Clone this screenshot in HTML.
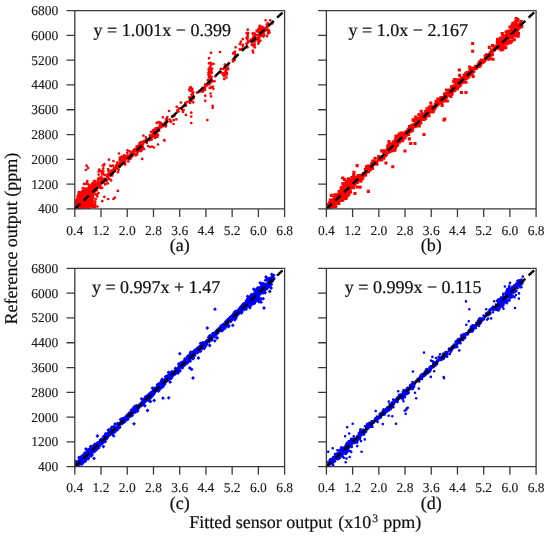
<!DOCTYPE html>
<html><head><meta charset="utf-8"><style>
html,body{margin:0;padding:0;background:#fff;}
svg{display:block;}
text{text-rendering:geometricPrecision;}
.t{font-family:"Liberation Serif",serif;font-size:13.5px;fill:#1a1a1a;stroke:#1a1a1a;stroke-width:0.12px;}
.e{font-family:"Liberation Serif",serif;font-size:18px;fill:#111;stroke:#111;stroke-width:0.22px;}
</style></head><body>
<svg width="550" height="539" viewBox="0 0 550 539">
<clipPath id="clipa"><rect x="74.8" y="10.6" width="209.80" height="198.30"/></clipPath><path clip-path="url(#clipa)" fill="#ff0000" d="M91.0 183.3a1.35 1.35 0 1 0 2.7 0a1.35 1.35 0 1 0 -2.7 0M83.3 202.8a1.35 1.35 0 1 0 2.7 0a1.35 1.35 0 1 0 -2.7 0M76.0 205.3a1.35 1.35 0 1 0 2.7 0a1.35 1.35 0 1 0 -2.7 0M84.1 197.1a1.35 1.35 0 1 0 2.7 0a1.35 1.35 0 1 0 -2.7 0M86.3 200.8a1.35 1.35 0 1 0 2.7 0a1.35 1.35 0 1 0 -2.7 0M82.9 199.3a1.35 1.35 0 1 0 2.7 0a1.35 1.35 0 1 0 -2.7 0M73.4 205.0a1.35 1.35 0 1 0 2.7 0a1.35 1.35 0 1 0 -2.7 0M84.9 183.8a1.35 1.35 0 1 0 2.7 0a1.35 1.35 0 1 0 -2.7 0M84.2 198.6a1.35 1.35 0 1 0 2.7 0a1.35 1.35 0 1 0 -2.7 0M90.6 190.5a1.35 1.35 0 1 0 2.7 0a1.35 1.35 0 1 0 -2.7 0M88.6 195.6a1.35 1.35 0 1 0 2.7 0a1.35 1.35 0 1 0 -2.7 0M84.3 192.0a1.35 1.35 0 1 0 2.7 0a1.35 1.35 0 1 0 -2.7 0M87.3 194.1a1.35 1.35 0 1 0 2.7 0a1.35 1.35 0 1 0 -2.7 0M76.1 203.0a1.35 1.35 0 1 0 2.7 0a1.35 1.35 0 1 0 -2.7 0M83.4 194.5a1.35 1.35 0 1 0 2.7 0a1.35 1.35 0 1 0 -2.7 0M84.3 191.7a1.35 1.35 0 1 0 2.7 0a1.35 1.35 0 1 0 -2.7 0M82.6 198.2a1.35 1.35 0 1 0 2.7 0a1.35 1.35 0 1 0 -2.7 0M87.1 201.1a1.35 1.35 0 1 0 2.7 0a1.35 1.35 0 1 0 -2.7 0M80.4 204.2a1.35 1.35 0 1 0 2.7 0a1.35 1.35 0 1 0 -2.7 0M95.4 187.7a1.35 1.35 0 1 0 2.7 0a1.35 1.35 0 1 0 -2.7 0M87.0 191.7a1.35 1.35 0 1 0 2.7 0a1.35 1.35 0 1 0 -2.7 0M81.1 209.3a1.35 1.35 0 1 0 2.7 0a1.35 1.35 0 1 0 -2.7 0M89.0 195.5a1.35 1.35 0 1 0 2.7 0a1.35 1.35 0 1 0 -2.7 0M87.4 202.0a1.35 1.35 0 1 0 2.7 0a1.35 1.35 0 1 0 -2.7 0M80.1 194.6a1.35 1.35 0 1 0 2.7 0a1.35 1.35 0 1 0 -2.7 0M91.9 197.7a1.35 1.35 0 1 0 2.7 0a1.35 1.35 0 1 0 -2.7 0M74.5 207.2a1.35 1.35 0 1 0 2.7 0a1.35 1.35 0 1 0 -2.7 0M87.5 193.8a1.35 1.35 0 1 0 2.7 0a1.35 1.35 0 1 0 -2.7 0M84.8 202.7a1.35 1.35 0 1 0 2.7 0a1.35 1.35 0 1 0 -2.7 0M86.6 189.3a1.35 1.35 0 1 0 2.7 0a1.35 1.35 0 1 0 -2.7 0M80.1 209.5a1.35 1.35 0 1 0 2.7 0a1.35 1.35 0 1 0 -2.7 0M78.1 199.3a1.35 1.35 0 1 0 2.7 0a1.35 1.35 0 1 0 -2.7 0M72.0 209.8a1.35 1.35 0 1 0 2.7 0a1.35 1.35 0 1 0 -2.7 0M76.7 205.6a1.35 1.35 0 1 0 2.7 0a1.35 1.35 0 1 0 -2.7 0M81.4 200.4a1.35 1.35 0 1 0 2.7 0a1.35 1.35 0 1 0 -2.7 0M92.3 187.7a1.35 1.35 0 1 0 2.7 0a1.35 1.35 0 1 0 -2.7 0M91.3 191.8a1.35 1.35 0 1 0 2.7 0a1.35 1.35 0 1 0 -2.7 0M79.9 199.7a1.35 1.35 0 1 0 2.7 0a1.35 1.35 0 1 0 -2.7 0M83.9 204.9a1.35 1.35 0 1 0 2.7 0a1.35 1.35 0 1 0 -2.7 0M85.8 199.3a1.35 1.35 0 1 0 2.7 0a1.35 1.35 0 1 0 -2.7 0M76.7 207.7a1.35 1.35 0 1 0 2.7 0a1.35 1.35 0 1 0 -2.7 0M81.9 192.9a1.35 1.35 0 1 0 2.7 0a1.35 1.35 0 1 0 -2.7 0M83.5 198.5a1.35 1.35 0 1 0 2.7 0a1.35 1.35 0 1 0 -2.7 0M85.3 206.7a1.35 1.35 0 1 0 2.7 0a1.35 1.35 0 1 0 -2.7 0M90.7 197.6a1.35 1.35 0 1 0 2.7 0a1.35 1.35 0 1 0 -2.7 0M85.7 202.6a1.35 1.35 0 1 0 2.7 0a1.35 1.35 0 1 0 -2.7 0M76.7 207.0a1.35 1.35 0 1 0 2.7 0a1.35 1.35 0 1 0 -2.7 0M94.8 183.8a1.35 1.35 0 1 0 2.7 0a1.35 1.35 0 1 0 -2.7 0M79.1 204.2a1.35 1.35 0 1 0 2.7 0a1.35 1.35 0 1 0 -2.7 0M75.6 206.0a1.35 1.35 0 1 0 2.7 0a1.35 1.35 0 1 0 -2.7 0M79.3 198.4a1.35 1.35 0 1 0 2.7 0a1.35 1.35 0 1 0 -2.7 0M74.3 208.9a1.35 1.35 0 1 0 2.7 0a1.35 1.35 0 1 0 -2.7 0M77.6 208.0a1.35 1.35 0 1 0 2.7 0a1.35 1.35 0 1 0 -2.7 0M87.4 194.1a1.35 1.35 0 1 0 2.7 0a1.35 1.35 0 1 0 -2.7 0M86.6 188.9a1.35 1.35 0 1 0 2.7 0a1.35 1.35 0 1 0 -2.7 0M90.1 199.8a1.35 1.35 0 1 0 2.7 0a1.35 1.35 0 1 0 -2.7 0M86.3 205.6a1.35 1.35 0 1 0 2.7 0a1.35 1.35 0 1 0 -2.7 0M82.5 188.7a1.35 1.35 0 1 0 2.7 0a1.35 1.35 0 1 0 -2.7 0M81.7 202.2a1.35 1.35 0 1 0 2.7 0a1.35 1.35 0 1 0 -2.7 0M84.0 197.9a1.35 1.35 0 1 0 2.7 0a1.35 1.35 0 1 0 -2.7 0M83.1 203.0a1.35 1.35 0 1 0 2.7 0a1.35 1.35 0 1 0 -2.7 0M89.7 187.6a1.35 1.35 0 1 0 2.7 0a1.35 1.35 0 1 0 -2.7 0M81.6 198.5a1.35 1.35 0 1 0 2.7 0a1.35 1.35 0 1 0 -2.7 0M87.0 189.3a1.35 1.35 0 1 0 2.7 0a1.35 1.35 0 1 0 -2.7 0M85.4 192.8a1.35 1.35 0 1 0 2.7 0a1.35 1.35 0 1 0 -2.7 0M81.2 206.5a1.35 1.35 0 1 0 2.7 0a1.35 1.35 0 1 0 -2.7 0M79.8 196.3a1.35 1.35 0 1 0 2.7 0a1.35 1.35 0 1 0 -2.7 0M89.0 192.4a1.35 1.35 0 1 0 2.7 0a1.35 1.35 0 1 0 -2.7 0M79.3 200.7a1.35 1.35 0 1 0 2.7 0a1.35 1.35 0 1 0 -2.7 0M93.4 181.6a1.35 1.35 0 1 0 2.7 0a1.35 1.35 0 1 0 -2.7 0M78.6 203.3a1.35 1.35 0 1 0 2.7 0a1.35 1.35 0 1 0 -2.7 0M84.1 197.7a1.35 1.35 0 1 0 2.7 0a1.35 1.35 0 1 0 -2.7 0M89.0 186.2a1.35 1.35 0 1 0 2.7 0a1.35 1.35 0 1 0 -2.7 0M88.1 186.7a1.35 1.35 0 1 0 2.7 0a1.35 1.35 0 1 0 -2.7 0M79.4 208.5a1.35 1.35 0 1 0 2.7 0a1.35 1.35 0 1 0 -2.7 0M86.0 181.1a1.35 1.35 0 1 0 2.7 0a1.35 1.35 0 1 0 -2.7 0M85.1 203.3a1.35 1.35 0 1 0 2.7 0a1.35 1.35 0 1 0 -2.7 0M84.4 189.6a1.35 1.35 0 1 0 2.7 0a1.35 1.35 0 1 0 -2.7 0M76.4 200.7a1.35 1.35 0 1 0 2.7 0a1.35 1.35 0 1 0 -2.7 0M79.0 195.6a1.35 1.35 0 1 0 2.7 0a1.35 1.35 0 1 0 -2.7 0M87.8 192.6a1.35 1.35 0 1 0 2.7 0a1.35 1.35 0 1 0 -2.7 0M95.5 189.4a1.35 1.35 0 1 0 2.7 0a1.35 1.35 0 1 0 -2.7 0M78.6 192.8a1.35 1.35 0 1 0 2.7 0a1.35 1.35 0 1 0 -2.7 0M77.4 192.0a1.35 1.35 0 1 0 2.7 0a1.35 1.35 0 1 0 -2.7 0M82.6 205.0a1.35 1.35 0 1 0 2.7 0a1.35 1.35 0 1 0 -2.7 0M82.9 198.3a1.35 1.35 0 1 0 2.7 0a1.35 1.35 0 1 0 -2.7 0M84.2 198.9a1.35 1.35 0 1 0 2.7 0a1.35 1.35 0 1 0 -2.7 0M89.7 205.4a1.35 1.35 0 1 0 2.7 0a1.35 1.35 0 1 0 -2.7 0M79.4 203.7a1.35 1.35 0 1 0 2.7 0a1.35 1.35 0 1 0 -2.7 0M94.3 199.2a1.35 1.35 0 1 0 2.7 0a1.35 1.35 0 1 0 -2.7 0M80.8 207.4a1.35 1.35 0 1 0 2.7 0a1.35 1.35 0 1 0 -2.7 0M78.7 199.4a1.35 1.35 0 1 0 2.7 0a1.35 1.35 0 1 0 -2.7 0M85.5 188.5a1.35 1.35 0 1 0 2.7 0a1.35 1.35 0 1 0 -2.7 0M79.1 201.1a1.35 1.35 0 1 0 2.7 0a1.35 1.35 0 1 0 -2.7 0M90.3 187.0a1.35 1.35 0 1 0 2.7 0a1.35 1.35 0 1 0 -2.7 0M80.8 194.7a1.35 1.35 0 1 0 2.7 0a1.35 1.35 0 1 0 -2.7 0M77.1 194.5a1.35 1.35 0 1 0 2.7 0a1.35 1.35 0 1 0 -2.7 0M83.9 198.7a1.35 1.35 0 1 0 2.7 0a1.35 1.35 0 1 0 -2.7 0M84.6 192.7a1.35 1.35 0 1 0 2.7 0a1.35 1.35 0 1 0 -2.7 0M93.9 189.4a1.35 1.35 0 1 0 2.7 0a1.35 1.35 0 1 0 -2.7 0M80.6 197.9a1.35 1.35 0 1 0 2.7 0a1.35 1.35 0 1 0 -2.7 0M88.2 196.1a1.35 1.35 0 1 0 2.7 0a1.35 1.35 0 1 0 -2.7 0M90.0 198.0a1.35 1.35 0 1 0 2.7 0a1.35 1.35 0 1 0 -2.7 0M83.9 189.2a1.35 1.35 0 1 0 2.7 0a1.35 1.35 0 1 0 -2.7 0M86.2 194.1a1.35 1.35 0 1 0 2.7 0a1.35 1.35 0 1 0 -2.7 0M86.6 197.5a1.35 1.35 0 1 0 2.7 0a1.35 1.35 0 1 0 -2.7 0M83.4 206.0a1.35 1.35 0 1 0 2.7 0a1.35 1.35 0 1 0 -2.7 0M86.2 200.4a1.35 1.35 0 1 0 2.7 0a1.35 1.35 0 1 0 -2.7 0M80.1 197.8a1.35 1.35 0 1 0 2.7 0a1.35 1.35 0 1 0 -2.7 0M88.7 199.1a1.35 1.35 0 1 0 2.7 0a1.35 1.35 0 1 0 -2.7 0M95.5 190.3a1.35 1.35 0 1 0 2.7 0a1.35 1.35 0 1 0 -2.7 0M88.1 188.7a1.35 1.35 0 1 0 2.7 0a1.35 1.35 0 1 0 -2.7 0M84.3 196.7a1.35 1.35 0 1 0 2.7 0a1.35 1.35 0 1 0 -2.7 0M94.2 183.4a1.35 1.35 0 1 0 2.7 0a1.35 1.35 0 1 0 -2.7 0M85.7 206.5a1.35 1.35 0 1 0 2.7 0a1.35 1.35 0 1 0 -2.7 0M78.2 197.0a1.35 1.35 0 1 0 2.7 0a1.35 1.35 0 1 0 -2.7 0M84.1 203.1a1.35 1.35 0 1 0 2.7 0a1.35 1.35 0 1 0 -2.7 0M78.8 204.5a1.35 1.35 0 1 0 2.7 0a1.35 1.35 0 1 0 -2.7 0M87.2 192.8a1.35 1.35 0 1 0 2.7 0a1.35 1.35 0 1 0 -2.7 0M89.2 197.6a1.35 1.35 0 1 0 2.7 0a1.35 1.35 0 1 0 -2.7 0M89.1 195.9a1.35 1.35 0 1 0 2.7 0a1.35 1.35 0 1 0 -2.7 0M81.0 191.1a1.35 1.35 0 1 0 2.7 0a1.35 1.35 0 1 0 -2.7 0M83.4 199.3a1.35 1.35 0 1 0 2.7 0a1.35 1.35 0 1 0 -2.7 0M81.6 202.4a1.35 1.35 0 1 0 2.7 0a1.35 1.35 0 1 0 -2.7 0M92.7 182.1a1.35 1.35 0 1 0 2.7 0a1.35 1.35 0 1 0 -2.7 0M87.4 193.7a1.35 1.35 0 1 0 2.7 0a1.35 1.35 0 1 0 -2.7 0M89.5 193.2a1.35 1.35 0 1 0 2.7 0a1.35 1.35 0 1 0 -2.7 0M85.7 194.1a1.35 1.35 0 1 0 2.7 0a1.35 1.35 0 1 0 -2.7 0M83.5 189.3a1.35 1.35 0 1 0 2.7 0a1.35 1.35 0 1 0 -2.7 0M93.9 181.2a1.35 1.35 0 1 0 2.7 0a1.35 1.35 0 1 0 -2.7 0M87.3 197.3a1.35 1.35 0 1 0 2.7 0a1.35 1.35 0 1 0 -2.7 0M82.7 192.8a1.35 1.35 0 1 0 2.7 0a1.35 1.35 0 1 0 -2.7 0M90.3 187.2a1.35 1.35 0 1 0 2.7 0a1.35 1.35 0 1 0 -2.7 0M83.8 197.9a1.35 1.35 0 1 0 2.7 0a1.35 1.35 0 1 0 -2.7 0M88.1 194.5a1.35 1.35 0 1 0 2.7 0a1.35 1.35 0 1 0 -2.7 0M77.2 207.8a1.35 1.35 0 1 0 2.7 0a1.35 1.35 0 1 0 -2.7 0M82.0 198.0a1.35 1.35 0 1 0 2.7 0a1.35 1.35 0 1 0 -2.7 0M97.1 193.1a1.35 1.35 0 1 0 2.7 0a1.35 1.35 0 1 0 -2.7 0M85.9 196.7a1.35 1.35 0 1 0 2.7 0a1.35 1.35 0 1 0 -2.7 0M84.8 189.7a1.35 1.35 0 1 0 2.7 0a1.35 1.35 0 1 0 -2.7 0M90.7 192.5a1.35 1.35 0 1 0 2.7 0a1.35 1.35 0 1 0 -2.7 0M79.4 209.9a1.35 1.35 0 1 0 2.7 0a1.35 1.35 0 1 0 -2.7 0M82.4 192.5a1.35 1.35 0 1 0 2.7 0a1.35 1.35 0 1 0 -2.7 0M81.2 196.7a1.35 1.35 0 1 0 2.7 0a1.35 1.35 0 1 0 -2.7 0M87.3 192.6a1.35 1.35 0 1 0 2.7 0a1.35 1.35 0 1 0 -2.7 0M89.7 193.2a1.35 1.35 0 1 0 2.7 0a1.35 1.35 0 1 0 -2.7 0M77.7 210.4a1.35 1.35 0 1 0 2.7 0a1.35 1.35 0 1 0 -2.7 0M88.7 195.5a1.35 1.35 0 1 0 2.7 0a1.35 1.35 0 1 0 -2.7 0M80.9 196.2a1.35 1.35 0 1 0 2.7 0a1.35 1.35 0 1 0 -2.7 0M77.9 193.9a1.35 1.35 0 1 0 2.7 0a1.35 1.35 0 1 0 -2.7 0M87.1 197.9a1.35 1.35 0 1 0 2.7 0a1.35 1.35 0 1 0 -2.7 0M78.9 196.7a1.35 1.35 0 1 0 2.7 0a1.35 1.35 0 1 0 -2.7 0M75.4 209.6a1.35 1.35 0 1 0 2.7 0a1.35 1.35 0 1 0 -2.7 0M82.9 197.8a1.35 1.35 0 1 0 2.7 0a1.35 1.35 0 1 0 -2.7 0M83.0 196.7a1.35 1.35 0 1 0 2.7 0a1.35 1.35 0 1 0 -2.7 0M80.6 201.8a1.35 1.35 0 1 0 2.7 0a1.35 1.35 0 1 0 -2.7 0M90.9 187.9a1.35 1.35 0 1 0 2.7 0a1.35 1.35 0 1 0 -2.7 0M80.1 192.1a1.35 1.35 0 1 0 2.7 0a1.35 1.35 0 1 0 -2.7 0M87.1 189.6a1.35 1.35 0 1 0 2.7 0a1.35 1.35 0 1 0 -2.7 0M83.6 200.5a1.35 1.35 0 1 0 2.7 0a1.35 1.35 0 1 0 -2.7 0M86.6 196.6a1.35 1.35 0 1 0 2.7 0a1.35 1.35 0 1 0 -2.7 0M85.3 201.1a1.35 1.35 0 1 0 2.7 0a1.35 1.35 0 1 0 -2.7 0M88.8 189.2a1.35 1.35 0 1 0 2.7 0a1.35 1.35 0 1 0 -2.7 0M87.5 196.9a1.35 1.35 0 1 0 2.7 0a1.35 1.35 0 1 0 -2.7 0M85.6 198.3a1.35 1.35 0 1 0 2.7 0a1.35 1.35 0 1 0 -2.7 0M84.2 198.5a1.35 1.35 0 1 0 2.7 0a1.35 1.35 0 1 0 -2.7 0M77.4 193.2a1.35 1.35 0 1 0 2.7 0a1.35 1.35 0 1 0 -2.7 0M87.4 206.1a1.35 1.35 0 1 0 2.7 0a1.35 1.35 0 1 0 -2.7 0M88.5 201.4a1.35 1.35 0 1 0 2.7 0a1.35 1.35 0 1 0 -2.7 0M81.4 203.6a1.35 1.35 0 1 0 2.7 0a1.35 1.35 0 1 0 -2.7 0M79.5 200.8a1.35 1.35 0 1 0 2.7 0a1.35 1.35 0 1 0 -2.7 0M80.8 209.0a1.35 1.35 0 1 0 2.7 0a1.35 1.35 0 1 0 -2.7 0M82.9 197.0a1.35 1.35 0 1 0 2.7 0a1.35 1.35 0 1 0 -2.7 0M94.0 190.8a1.35 1.35 0 1 0 2.7 0a1.35 1.35 0 1 0 -2.7 0M75.4 208.2a1.35 1.35 0 1 0 2.7 0a1.35 1.35 0 1 0 -2.7 0M87.0 200.0a1.35 1.35 0 1 0 2.7 0a1.35 1.35 0 1 0 -2.7 0M78.4 200.2a1.35 1.35 0 1 0 2.7 0a1.35 1.35 0 1 0 -2.7 0M82.8 197.8a1.35 1.35 0 1 0 2.7 0a1.35 1.35 0 1 0 -2.7 0M78.9 207.3a1.35 1.35 0 1 0 2.7 0a1.35 1.35 0 1 0 -2.7 0M80.9 201.8a1.35 1.35 0 1 0 2.7 0a1.35 1.35 0 1 0 -2.7 0M80.8 198.6a1.35 1.35 0 1 0 2.7 0a1.35 1.35 0 1 0 -2.7 0M86.3 192.7a1.35 1.35 0 1 0 2.7 0a1.35 1.35 0 1 0 -2.7 0M85.9 201.1a1.35 1.35 0 1 0 2.7 0a1.35 1.35 0 1 0 -2.7 0M75.8 201.2a1.35 1.35 0 1 0 2.7 0a1.35 1.35 0 1 0 -2.7 0M83.0 198.2a1.35 1.35 0 1 0 2.7 0a1.35 1.35 0 1 0 -2.7 0M75.6 207.1a1.35 1.35 0 1 0 2.7 0a1.35 1.35 0 1 0 -2.7 0M78.9 207.6a1.35 1.35 0 1 0 2.7 0a1.35 1.35 0 1 0 -2.7 0M83.4 192.0a1.35 1.35 0 1 0 2.7 0a1.35 1.35 0 1 0 -2.7 0M78.4 202.7a1.35 1.35 0 1 0 2.7 0a1.35 1.35 0 1 0 -2.7 0M76.0 201.8a1.35 1.35 0 1 0 2.7 0a1.35 1.35 0 1 0 -2.7 0M94.6 194.7a1.35 1.35 0 1 0 2.7 0a1.35 1.35 0 1 0 -2.7 0M81.5 192.4a1.35 1.35 0 1 0 2.7 0a1.35 1.35 0 1 0 -2.7 0M85.2 196.2a1.35 1.35 0 1 0 2.7 0a1.35 1.35 0 1 0 -2.7 0M88.7 185.5a1.35 1.35 0 1 0 2.7 0a1.35 1.35 0 1 0 -2.7 0M86.9 198.4a1.35 1.35 0 1 0 2.7 0a1.35 1.35 0 1 0 -2.7 0M76.1 199.2a1.35 1.35 0 1 0 2.7 0a1.35 1.35 0 1 0 -2.7 0M82.2 207.1a1.35 1.35 0 1 0 2.7 0a1.35 1.35 0 1 0 -2.7 0M91.2 200.4a1.35 1.35 0 1 0 2.7 0a1.35 1.35 0 1 0 -2.7 0M90.8 193.3a1.35 1.35 0 1 0 2.7 0a1.35 1.35 0 1 0 -2.7 0M85.0 193.2a1.35 1.35 0 1 0 2.7 0a1.35 1.35 0 1 0 -2.7 0M84.5 190.4a1.35 1.35 0 1 0 2.7 0a1.35 1.35 0 1 0 -2.7 0M83.0 200.7a1.35 1.35 0 1 0 2.7 0a1.35 1.35 0 1 0 -2.7 0M78.5 197.7a1.35 1.35 0 1 0 2.7 0a1.35 1.35 0 1 0 -2.7 0M88.1 186.3a1.35 1.35 0 1 0 2.7 0a1.35 1.35 0 1 0 -2.7 0M100.1 178.8a1.35 1.35 0 1 0 2.7 0a1.35 1.35 0 1 0 -2.7 0M86.0 203.3a1.35 1.35 0 1 0 2.7 0a1.35 1.35 0 1 0 -2.7 0M81.4 188.2a1.35 1.35 0 1 0 2.7 0a1.35 1.35 0 1 0 -2.7 0M86.2 196.6a1.35 1.35 0 1 0 2.7 0a1.35 1.35 0 1 0 -2.7 0M84.8 207.7a1.35 1.35 0 1 0 2.7 0a1.35 1.35 0 1 0 -2.7 0M89.0 194.2a1.35 1.35 0 1 0 2.7 0a1.35 1.35 0 1 0 -2.7 0M85.1 202.5a1.35 1.35 0 1 0 2.7 0a1.35 1.35 0 1 0 -2.7 0M85.7 192.1a1.35 1.35 0 1 0 2.7 0a1.35 1.35 0 1 0 -2.7 0M92.6 181.2a1.35 1.35 0 1 0 2.7 0a1.35 1.35 0 1 0 -2.7 0M86.0 196.8a1.35 1.35 0 1 0 2.7 0a1.35 1.35 0 1 0 -2.7 0M77.7 207.3a1.35 1.35 0 1 0 2.7 0a1.35 1.35 0 1 0 -2.7 0M86.8 192.2a1.35 1.35 0 1 0 2.7 0a1.35 1.35 0 1 0 -2.7 0M83.0 189.6a1.35 1.35 0 1 0 2.7 0a1.35 1.35 0 1 0 -2.7 0M87.0 195.0a1.35 1.35 0 1 0 2.7 0a1.35 1.35 0 1 0 -2.7 0M81.7 199.7a1.35 1.35 0 1 0 2.7 0a1.35 1.35 0 1 0 -2.7 0M76.9 210.1a1.35 1.35 0 1 0 2.7 0a1.35 1.35 0 1 0 -2.7 0M85.1 200.2a1.35 1.35 0 1 0 2.7 0a1.35 1.35 0 1 0 -2.7 0M81.2 193.8a1.35 1.35 0 1 0 2.7 0a1.35 1.35 0 1 0 -2.7 0M81.7 192.8a1.35 1.35 0 1 0 2.7 0a1.35 1.35 0 1 0 -2.7 0M82.8 190.6a1.35 1.35 0 1 0 2.7 0a1.35 1.35 0 1 0 -2.7 0M85.8 206.0a1.35 1.35 0 1 0 2.7 0a1.35 1.35 0 1 0 -2.7 0M90.7 192.8a1.35 1.35 0 1 0 2.7 0a1.35 1.35 0 1 0 -2.7 0M83.9 205.2a1.35 1.35 0 1 0 2.7 0a1.35 1.35 0 1 0 -2.7 0M79.1 199.6a1.35 1.35 0 1 0 2.7 0a1.35 1.35 0 1 0 -2.7 0M91.8 184.2a1.35 1.35 0 1 0 2.7 0a1.35 1.35 0 1 0 -2.7 0M90.6 185.5a1.35 1.35 0 1 0 2.7 0a1.35 1.35 0 1 0 -2.7 0M87.7 189.5a1.35 1.35 0 1 0 2.7 0a1.35 1.35 0 1 0 -2.7 0M78.0 205.7a1.35 1.35 0 1 0 2.7 0a1.35 1.35 0 1 0 -2.7 0M77.0 204.7a1.35 1.35 0 1 0 2.7 0a1.35 1.35 0 1 0 -2.7 0M82.6 199.3a1.35 1.35 0 1 0 2.7 0a1.35 1.35 0 1 0 -2.7 0M76.5 202.9a1.35 1.35 0 1 0 2.7 0a1.35 1.35 0 1 0 -2.7 0M80.7 195.7a1.35 1.35 0 1 0 2.7 0a1.35 1.35 0 1 0 -2.7 0M84.9 205.4a1.35 1.35 0 1 0 2.7 0a1.35 1.35 0 1 0 -2.7 0M73.8 207.2a1.35 1.35 0 1 0 2.7 0a1.35 1.35 0 1 0 -2.7 0M79.8 199.3a1.35 1.35 0 1 0 2.7 0a1.35 1.35 0 1 0 -2.7 0M88.0 194.1a1.35 1.35 0 1 0 2.7 0a1.35 1.35 0 1 0 -2.7 0M86.5 201.4a1.35 1.35 0 1 0 2.7 0a1.35 1.35 0 1 0 -2.7 0M89.9 192.9a1.35 1.35 0 1 0 2.7 0a1.35 1.35 0 1 0 -2.7 0M86.2 200.8a1.35 1.35 0 1 0 2.7 0a1.35 1.35 0 1 0 -2.7 0M81.6 197.0a1.35 1.35 0 1 0 2.7 0a1.35 1.35 0 1 0 -2.7 0M77.2 209.0a1.35 1.35 0 1 0 2.7 0a1.35 1.35 0 1 0 -2.7 0M82.6 198.9a1.35 1.35 0 1 0 2.7 0a1.35 1.35 0 1 0 -2.7 0M77.8 200.0a1.35 1.35 0 1 0 2.7 0a1.35 1.35 0 1 0 -2.7 0M72.5 202.6a1.35 1.35 0 1 0 2.7 0a1.35 1.35 0 1 0 -2.7 0M91.3 196.6a1.35 1.35 0 1 0 2.7 0a1.35 1.35 0 1 0 -2.7 0M72.5 208.4a1.35 1.35 0 1 0 2.7 0a1.35 1.35 0 1 0 -2.7 0M77.1 210.7a1.35 1.35 0 1 0 2.7 0a1.35 1.35 0 1 0 -2.7 0M78.5 207.3a1.35 1.35 0 1 0 2.7 0a1.35 1.35 0 1 0 -2.7 0M76.8 210.5a1.35 1.35 0 1 0 2.7 0a1.35 1.35 0 1 0 -2.7 0M93.0 193.1a1.35 1.35 0 1 0 2.7 0a1.35 1.35 0 1 0 -2.7 0M89.0 201.0a1.35 1.35 0 1 0 2.7 0a1.35 1.35 0 1 0 -2.7 0M86.3 202.7a1.35 1.35 0 1 0 2.7 0a1.35 1.35 0 1 0 -2.7 0M80.0 198.2a1.35 1.35 0 1 0 2.7 0a1.35 1.35 0 1 0 -2.7 0M79.4 203.1a1.35 1.35 0 1 0 2.7 0a1.35 1.35 0 1 0 -2.7 0M86.5 201.1a1.35 1.35 0 1 0 2.7 0a1.35 1.35 0 1 0 -2.7 0M81.0 200.4a1.35 1.35 0 1 0 2.7 0a1.35 1.35 0 1 0 -2.7 0M72.5 209.4a1.35 1.35 0 1 0 2.7 0a1.35 1.35 0 1 0 -2.7 0M77.7 201.5a1.35 1.35 0 1 0 2.7 0a1.35 1.35 0 1 0 -2.7 0M82.2 200.6a1.35 1.35 0 1 0 2.7 0a1.35 1.35 0 1 0 -2.7 0M80.6 206.4a1.35 1.35 0 1 0 2.7 0a1.35 1.35 0 1 0 -2.7 0M79.7 209.0a1.35 1.35 0 1 0 2.7 0a1.35 1.35 0 1 0 -2.7 0M84.0 194.3a1.35 1.35 0 1 0 2.7 0a1.35 1.35 0 1 0 -2.7 0M86.7 198.3a1.35 1.35 0 1 0 2.7 0a1.35 1.35 0 1 0 -2.7 0M93.5 184.2a1.35 1.35 0 1 0 2.7 0a1.35 1.35 0 1 0 -2.7 0M76.9 205.4a1.35 1.35 0 1 0 2.7 0a1.35 1.35 0 1 0 -2.7 0M72.6 209.3a1.35 1.35 0 1 0 2.7 0a1.35 1.35 0 1 0 -2.7 0M87.4 187.7a1.35 1.35 0 1 0 2.7 0a1.35 1.35 0 1 0 -2.7 0M81.8 192.4a1.35 1.35 0 1 0 2.7 0a1.35 1.35 0 1 0 -2.7 0M83.8 191.0a1.35 1.35 0 1 0 2.7 0a1.35 1.35 0 1 0 -2.7 0M88.1 185.4a1.35 1.35 0 1 0 2.7 0a1.35 1.35 0 1 0 -2.7 0M86.7 199.1a1.35 1.35 0 1 0 2.7 0a1.35 1.35 0 1 0 -2.7 0M85.7 182.2a1.35 1.35 0 1 0 2.7 0a1.35 1.35 0 1 0 -2.7 0M96.1 184.2a1.35 1.35 0 1 0 2.7 0a1.35 1.35 0 1 0 -2.7 0M78.9 206.1a1.35 1.35 0 1 0 2.7 0a1.35 1.35 0 1 0 -2.7 0M73.2 204.2a1.35 1.35 0 1 0 2.7 0a1.35 1.35 0 1 0 -2.7 0M83.8 201.6a1.35 1.35 0 1 0 2.7 0a1.35 1.35 0 1 0 -2.7 0M80.2 203.9a1.35 1.35 0 1 0 2.7 0a1.35 1.35 0 1 0 -2.7 0M89.6 193.6a1.35 1.35 0 1 0 2.7 0a1.35 1.35 0 1 0 -2.7 0M91.6 195.4a1.35 1.35 0 1 0 2.7 0a1.35 1.35 0 1 0 -2.7 0M79.0 205.3a1.35 1.35 0 1 0 2.7 0a1.35 1.35 0 1 0 -2.7 0M79.5 202.7a1.35 1.35 0 1 0 2.7 0a1.35 1.35 0 1 0 -2.7 0M89.3 186.2a1.35 1.35 0 1 0 2.7 0a1.35 1.35 0 1 0 -2.7 0M76.1 198.3a1.35 1.35 0 1 0 2.7 0a1.35 1.35 0 1 0 -2.7 0M83.5 189.6a1.35 1.35 0 1 0 2.7 0a1.35 1.35 0 1 0 -2.7 0M81.8 204.6a1.35 1.35 0 1 0 2.7 0a1.35 1.35 0 1 0 -2.7 0M87.9 190.8a1.35 1.35 0 1 0 2.7 0a1.35 1.35 0 1 0 -2.7 0M80.0 201.6a1.35 1.35 0 1 0 2.7 0a1.35 1.35 0 1 0 -2.7 0M83.7 196.5a1.35 1.35 0 1 0 2.7 0a1.35 1.35 0 1 0 -2.7 0M83.2 197.2a1.35 1.35 0 1 0 2.7 0a1.35 1.35 0 1 0 -2.7 0M91.3 192.7a1.35 1.35 0 1 0 2.7 0a1.35 1.35 0 1 0 -2.7 0M76.3 196.4a1.35 1.35 0 1 0 2.7 0a1.35 1.35 0 1 0 -2.7 0M90.0 186.5a1.35 1.35 0 1 0 2.7 0a1.35 1.35 0 1 0 -2.7 0M88.1 190.9a1.35 1.35 0 1 0 2.7 0a1.35 1.35 0 1 0 -2.7 0M76.8 204.6a1.35 1.35 0 1 0 2.7 0a1.35 1.35 0 1 0 -2.7 0M85.1 193.4a1.35 1.35 0 1 0 2.7 0a1.35 1.35 0 1 0 -2.7 0M85.9 201.8a1.35 1.35 0 1 0 2.7 0a1.35 1.35 0 1 0 -2.7 0M79.1 204.4a1.35 1.35 0 1 0 2.7 0a1.35 1.35 0 1 0 -2.7 0M81.7 205.0a1.35 1.35 0 1 0 2.7 0a1.35 1.35 0 1 0 -2.7 0M84.8 197.2a1.35 1.35 0 1 0 2.7 0a1.35 1.35 0 1 0 -2.7 0M86.5 206.0a1.35 1.35 0 1 0 2.7 0a1.35 1.35 0 1 0 -2.7 0M80.3 196.5a1.35 1.35 0 1 0 2.7 0a1.35 1.35 0 1 0 -2.7 0M72.4 202.2a1.35 1.35 0 1 0 2.7 0a1.35 1.35 0 1 0 -2.7 0M83.1 202.0a1.35 1.35 0 1 0 2.7 0a1.35 1.35 0 1 0 -2.7 0M83.8 198.6a1.35 1.35 0 1 0 2.7 0a1.35 1.35 0 1 0 -2.7 0M88.6 187.1a1.35 1.35 0 1 0 2.7 0a1.35 1.35 0 1 0 -2.7 0M88.6 191.6a1.35 1.35 0 1 0 2.7 0a1.35 1.35 0 1 0 -2.7 0M87.7 189.9a1.35 1.35 0 1 0 2.7 0a1.35 1.35 0 1 0 -2.7 0M90.2 202.3a1.35 1.35 0 1 0 2.7 0a1.35 1.35 0 1 0 -2.7 0M85.1 196.5a1.35 1.35 0 1 0 2.7 0a1.35 1.35 0 1 0 -2.7 0M83.9 199.4a1.35 1.35 0 1 0 2.7 0a1.35 1.35 0 1 0 -2.7 0M82.4 196.7a1.35 1.35 0 1 0 2.7 0a1.35 1.35 0 1 0 -2.7 0M84.1 197.1a1.35 1.35 0 1 0 2.7 0a1.35 1.35 0 1 0 -2.7 0M79.6 206.8a1.35 1.35 0 1 0 2.7 0a1.35 1.35 0 1 0 -2.7 0M79.9 205.0a1.35 1.35 0 1 0 2.7 0a1.35 1.35 0 1 0 -2.7 0M96.6 181.3a1.35 1.35 0 1 0 2.7 0a1.35 1.35 0 1 0 -2.7 0M78.0 206.4a1.35 1.35 0 1 0 2.7 0a1.35 1.35 0 1 0 -2.7 0M76.5 209.4a1.35 1.35 0 1 0 2.7 0a1.35 1.35 0 1 0 -2.7 0M80.7 201.3a1.35 1.35 0 1 0 2.7 0a1.35 1.35 0 1 0 -2.7 0M79.0 198.1a1.35 1.35 0 1 0 2.7 0a1.35 1.35 0 1 0 -2.7 0M86.9 184.3a1.35 1.35 0 1 0 2.7 0a1.35 1.35 0 1 0 -2.7 0M74.7 203.0a1.35 1.35 0 1 0 2.7 0a1.35 1.35 0 1 0 -2.7 0M80.5 210.1a1.35 1.35 0 1 0 2.7 0a1.35 1.35 0 1 0 -2.7 0M81.0 209.9a1.35 1.35 0 1 0 2.7 0a1.35 1.35 0 1 0 -2.7 0M82.7 183.9a1.35 1.35 0 1 0 2.7 0a1.35 1.35 0 1 0 -2.7 0M85.2 190.6a1.35 1.35 0 1 0 2.7 0a1.35 1.35 0 1 0 -2.7 0M84.8 204.4a1.35 1.35 0 1 0 2.7 0a1.35 1.35 0 1 0 -2.7 0M81.5 200.7a1.35 1.35 0 1 0 2.7 0a1.35 1.35 0 1 0 -2.7 0M81.6 205.3a1.35 1.35 0 1 0 2.7 0a1.35 1.35 0 1 0 -2.7 0M71.4 202.5a1.35 1.35 0 1 0 2.7 0a1.35 1.35 0 1 0 -2.7 0M84.7 197.0a1.35 1.35 0 1 0 2.7 0a1.35 1.35 0 1 0 -2.7 0M77.7 204.2a1.35 1.35 0 1 0 2.7 0a1.35 1.35 0 1 0 -2.7 0M74.5 204.1a1.35 1.35 0 1 0 2.7 0a1.35 1.35 0 1 0 -2.7 0M80.4 202.9a1.35 1.35 0 1 0 2.7 0a1.35 1.35 0 1 0 -2.7 0M77.9 204.9a1.35 1.35 0 1 0 2.7 0a1.35 1.35 0 1 0 -2.7 0M80.3 204.0a1.35 1.35 0 1 0 2.7 0a1.35 1.35 0 1 0 -2.7 0M83.8 198.3a1.35 1.35 0 1 0 2.7 0a1.35 1.35 0 1 0 -2.7 0M79.3 206.7a1.35 1.35 0 1 0 2.7 0a1.35 1.35 0 1 0 -2.7 0M84.9 193.0a1.35 1.35 0 1 0 2.7 0a1.35 1.35 0 1 0 -2.7 0M82.6 207.5a1.35 1.35 0 1 0 2.7 0a1.35 1.35 0 1 0 -2.7 0M78.3 200.4a1.35 1.35 0 1 0 2.7 0a1.35 1.35 0 1 0 -2.7 0M79.9 197.7a1.35 1.35 0 1 0 2.7 0a1.35 1.35 0 1 0 -2.7 0M77.9 201.5a1.35 1.35 0 1 0 2.7 0a1.35 1.35 0 1 0 -2.7 0M81.9 210.6a1.35 1.35 0 1 0 2.7 0a1.35 1.35 0 1 0 -2.7 0M78.0 205.5a1.35 1.35 0 1 0 2.7 0a1.35 1.35 0 1 0 -2.7 0M77.1 209.0a1.35 1.35 0 1 0 2.7 0a1.35 1.35 0 1 0 -2.7 0M86.4 197.1a1.35 1.35 0 1 0 2.7 0a1.35 1.35 0 1 0 -2.7 0M83.1 205.1a1.35 1.35 0 1 0 2.7 0a1.35 1.35 0 1 0 -2.7 0M81.5 204.2a1.35 1.35 0 1 0 2.7 0a1.35 1.35 0 1 0 -2.7 0M82.0 197.7a1.35 1.35 0 1 0 2.7 0a1.35 1.35 0 1 0 -2.7 0M77.9 205.0a1.35 1.35 0 1 0 2.7 0a1.35 1.35 0 1 0 -2.7 0M76.6 201.6a1.35 1.35 0 1 0 2.7 0a1.35 1.35 0 1 0 -2.7 0M87.2 194.0a1.35 1.35 0 1 0 2.7 0a1.35 1.35 0 1 0 -2.7 0M77.6 207.8a1.35 1.35 0 1 0 2.7 0a1.35 1.35 0 1 0 -2.7 0M78.6 200.5a1.35 1.35 0 1 0 2.7 0a1.35 1.35 0 1 0 -2.7 0M76.6 200.1a1.35 1.35 0 1 0 2.7 0a1.35 1.35 0 1 0 -2.7 0M74.6 207.8a1.35 1.35 0 1 0 2.7 0a1.35 1.35 0 1 0 -2.7 0M85.3 190.7a1.35 1.35 0 1 0 2.7 0a1.35 1.35 0 1 0 -2.7 0M78.0 201.4a1.35 1.35 0 1 0 2.7 0a1.35 1.35 0 1 0 -2.7 0M90.4 188.3a1.35 1.35 0 1 0 2.7 0a1.35 1.35 0 1 0 -2.7 0M89.7 198.1a1.35 1.35 0 1 0 2.7 0a1.35 1.35 0 1 0 -2.7 0M83.6 207.6a1.35 1.35 0 1 0 2.7 0a1.35 1.35 0 1 0 -2.7 0M86.4 200.0a1.35 1.35 0 1 0 2.7 0a1.35 1.35 0 1 0 -2.7 0M83.1 196.1a1.35 1.35 0 1 0 2.7 0a1.35 1.35 0 1 0 -2.7 0M81.1 207.7a1.35 1.35 0 1 0 2.7 0a1.35 1.35 0 1 0 -2.7 0M79.7 206.8a1.35 1.35 0 1 0 2.7 0a1.35 1.35 0 1 0 -2.7 0M85.4 199.6a1.35 1.35 0 1 0 2.7 0a1.35 1.35 0 1 0 -2.7 0M75.9 204.0a1.35 1.35 0 1 0 2.7 0a1.35 1.35 0 1 0 -2.7 0M84.9 198.7a1.35 1.35 0 1 0 2.7 0a1.35 1.35 0 1 0 -2.7 0M80.9 199.9a1.35 1.35 0 1 0 2.7 0a1.35 1.35 0 1 0 -2.7 0M77.7 209.6a1.35 1.35 0 1 0 2.7 0a1.35 1.35 0 1 0 -2.7 0M82.0 202.2a1.35 1.35 0 1 0 2.7 0a1.35 1.35 0 1 0 -2.7 0M74.0 205.0a1.35 1.35 0 1 0 2.7 0a1.35 1.35 0 1 0 -2.7 0M81.6 200.7a1.35 1.35 0 1 0 2.7 0a1.35 1.35 0 1 0 -2.7 0M76.6 206.8a1.35 1.35 0 1 0 2.7 0a1.35 1.35 0 1 0 -2.7 0M82.3 198.6a1.35 1.35 0 1 0 2.7 0a1.35 1.35 0 1 0 -2.7 0M76.3 209.8a1.35 1.35 0 1 0 2.7 0a1.35 1.35 0 1 0 -2.7 0M81.2 200.9a1.35 1.35 0 1 0 2.7 0a1.35 1.35 0 1 0 -2.7 0M83.3 204.2a1.35 1.35 0 1 0 2.7 0a1.35 1.35 0 1 0 -2.7 0M83.6 192.3a1.35 1.35 0 1 0 2.7 0a1.35 1.35 0 1 0 -2.7 0M83.7 198.7a1.35 1.35 0 1 0 2.7 0a1.35 1.35 0 1 0 -2.7 0M83.5 204.5a1.35 1.35 0 1 0 2.7 0a1.35 1.35 0 1 0 -2.7 0M77.9 196.5a1.35 1.35 0 1 0 2.7 0a1.35 1.35 0 1 0 -2.7 0M83.2 202.3a1.35 1.35 0 1 0 2.7 0a1.35 1.35 0 1 0 -2.7 0M77.4 209.6a1.35 1.35 0 1 0 2.7 0a1.35 1.35 0 1 0 -2.7 0M86.8 198.7a1.35 1.35 0 1 0 2.7 0a1.35 1.35 0 1 0 -2.7 0M83.0 199.9a1.35 1.35 0 1 0 2.7 0a1.35 1.35 0 1 0 -2.7 0M81.8 194.7a1.35 1.35 0 1 0 2.7 0a1.35 1.35 0 1 0 -2.7 0M80.4 207.1a1.35 1.35 0 1 0 2.7 0a1.35 1.35 0 1 0 -2.7 0M75.5 206.6a1.35 1.35 0 1 0 2.7 0a1.35 1.35 0 1 0 -2.7 0M85.3 202.5a1.35 1.35 0 1 0 2.7 0a1.35 1.35 0 1 0 -2.7 0M78.7 204.5a1.35 1.35 0 1 0 2.7 0a1.35 1.35 0 1 0 -2.7 0M82.5 203.9a1.35 1.35 0 1 0 2.7 0a1.35 1.35 0 1 0 -2.7 0M81.1 198.6a1.35 1.35 0 1 0 2.7 0a1.35 1.35 0 1 0 -2.7 0M79.6 203.5a1.35 1.35 0 1 0 2.7 0a1.35 1.35 0 1 0 -2.7 0M82.3 198.2a1.35 1.35 0 1 0 2.7 0a1.35 1.35 0 1 0 -2.7 0M85.0 202.2a1.35 1.35 0 1 0 2.7 0a1.35 1.35 0 1 0 -2.7 0M84.9 199.0a1.35 1.35 0 1 0 2.7 0a1.35 1.35 0 1 0 -2.7 0M75.0 209.7a1.35 1.35 0 1 0 2.7 0a1.35 1.35 0 1 0 -2.7 0M74.6 208.6a1.35 1.35 0 1 0 2.7 0a1.35 1.35 0 1 0 -2.7 0M84.1 207.8a1.35 1.35 0 1 0 2.7 0a1.35 1.35 0 1 0 -2.7 0M74.8 204.6a1.35 1.35 0 1 0 2.7 0a1.35 1.35 0 1 0 -2.7 0M78.5 201.0a1.35 1.35 0 1 0 2.7 0a1.35 1.35 0 1 0 -2.7 0M74.2 208.4a1.35 1.35 0 1 0 2.7 0a1.35 1.35 0 1 0 -2.7 0M82.8 195.2a1.35 1.35 0 1 0 2.7 0a1.35 1.35 0 1 0 -2.7 0M86.6 196.7a1.35 1.35 0 1 0 2.7 0a1.35 1.35 0 1 0 -2.7 0M76.1 208.0a1.35 1.35 0 1 0 2.7 0a1.35 1.35 0 1 0 -2.7 0M71.7 205.2a1.35 1.35 0 1 0 2.7 0a1.35 1.35 0 1 0 -2.7 0M84.7 201.9a1.35 1.35 0 1 0 2.7 0a1.35 1.35 0 1 0 -2.7 0M87.4 201.1a1.35 1.35 0 1 0 2.7 0a1.35 1.35 0 1 0 -2.7 0M82.1 203.9a1.35 1.35 0 1 0 2.7 0a1.35 1.35 0 1 0 -2.7 0M72.5 208.3a1.35 1.35 0 1 0 2.7 0a1.35 1.35 0 1 0 -2.7 0M74.9 202.8a1.35 1.35 0 1 0 2.7 0a1.35 1.35 0 1 0 -2.7 0M76.0 206.1a1.35 1.35 0 1 0 2.7 0a1.35 1.35 0 1 0 -2.7 0M77.7 204.3a1.35 1.35 0 1 0 2.7 0a1.35 1.35 0 1 0 -2.7 0M77.1 202.2a1.35 1.35 0 1 0 2.7 0a1.35 1.35 0 1 0 -2.7 0M82.3 200.3a1.35 1.35 0 1 0 2.7 0a1.35 1.35 0 1 0 -2.7 0M79.2 195.6a1.35 1.35 0 1 0 2.7 0a1.35 1.35 0 1 0 -2.7 0M76.8 207.5a1.35 1.35 0 1 0 2.7 0a1.35 1.35 0 1 0 -2.7 0M83.0 199.9a1.35 1.35 0 1 0 2.7 0a1.35 1.35 0 1 0 -2.7 0M72.9 210.0a1.35 1.35 0 1 0 2.7 0a1.35 1.35 0 1 0 -2.7 0M78.1 208.4a1.35 1.35 0 1 0 2.7 0a1.35 1.35 0 1 0 -2.7 0M80.6 206.7a1.35 1.35 0 1 0 2.7 0a1.35 1.35 0 1 0 -2.7 0M78.7 208.4a1.35 1.35 0 1 0 2.7 0a1.35 1.35 0 1 0 -2.7 0M86.3 197.9a1.35 1.35 0 1 0 2.7 0a1.35 1.35 0 1 0 -2.7 0M81.6 200.1a1.35 1.35 0 1 0 2.7 0a1.35 1.35 0 1 0 -2.7 0M82.7 200.7a1.35 1.35 0 1 0 2.7 0a1.35 1.35 0 1 0 -2.7 0M82.9 199.5a1.35 1.35 0 1 0 2.7 0a1.35 1.35 0 1 0 -2.7 0M74.3 204.3a1.35 1.35 0 1 0 2.7 0a1.35 1.35 0 1 0 -2.7 0M80.7 203.6a1.35 1.35 0 1 0 2.7 0a1.35 1.35 0 1 0 -2.7 0M74.8 209.1a1.35 1.35 0 1 0 2.7 0a1.35 1.35 0 1 0 -2.7 0M74.0 200.6a1.35 1.35 0 1 0 2.7 0a1.35 1.35 0 1 0 -2.7 0M81.7 201.5a1.35 1.35 0 1 0 2.7 0a1.35 1.35 0 1 0 -2.7 0M75.6 208.2a1.35 1.35 0 1 0 2.7 0a1.35 1.35 0 1 0 -2.7 0M78.7 205.6a1.35 1.35 0 1 0 2.7 0a1.35 1.35 0 1 0 -2.7 0M79.4 200.1a1.35 1.35 0 1 0 2.7 0a1.35 1.35 0 1 0 -2.7 0M72.4 209.0a1.35 1.35 0 1 0 2.7 0a1.35 1.35 0 1 0 -2.7 0M84.4 204.0a1.35 1.35 0 1 0 2.7 0a1.35 1.35 0 1 0 -2.7 0M78.9 205.2a1.35 1.35 0 1 0 2.7 0a1.35 1.35 0 1 0 -2.7 0M74.9 203.7a1.35 1.35 0 1 0 2.7 0a1.35 1.35 0 1 0 -2.7 0M78.4 199.7a1.35 1.35 0 1 0 2.7 0a1.35 1.35 0 1 0 -2.7 0M81.5 202.4a1.35 1.35 0 1 0 2.7 0a1.35 1.35 0 1 0 -2.7 0M80.9 203.3a1.35 1.35 0 1 0 2.7 0a1.35 1.35 0 1 0 -2.7 0M72.9 203.8a1.35 1.35 0 1 0 2.7 0a1.35 1.35 0 1 0 -2.7 0M81.3 196.9a1.35 1.35 0 1 0 2.7 0a1.35 1.35 0 1 0 -2.7 0M72.1 206.0a1.35 1.35 0 1 0 2.7 0a1.35 1.35 0 1 0 -2.7 0M83.2 199.8a1.35 1.35 0 1 0 2.7 0a1.35 1.35 0 1 0 -2.7 0M76.9 206.4a1.35 1.35 0 1 0 2.7 0a1.35 1.35 0 1 0 -2.7 0M80.0 206.3a1.35 1.35 0 1 0 2.7 0a1.35 1.35 0 1 0 -2.7 0M79.2 203.4a1.35 1.35 0 1 0 2.7 0a1.35 1.35 0 1 0 -2.7 0M85.9 197.6a1.35 1.35 0 1 0 2.7 0a1.35 1.35 0 1 0 -2.7 0M89.6 198.3a1.35 1.35 0 1 0 2.7 0a1.35 1.35 0 1 0 -2.7 0M79.2 198.6a1.35 1.35 0 1 0 2.7 0a1.35 1.35 0 1 0 -2.7 0M73.2 206.7a1.35 1.35 0 1 0 2.7 0a1.35 1.35 0 1 0 -2.7 0M81.4 203.8a1.35 1.35 0 1 0 2.7 0a1.35 1.35 0 1 0 -2.7 0M78.7 197.8a1.35 1.35 0 1 0 2.7 0a1.35 1.35 0 1 0 -2.7 0M83.8 204.2a1.35 1.35 0 1 0 2.7 0a1.35 1.35 0 1 0 -2.7 0M87.6 200.5a1.35 1.35 0 1 0 2.7 0a1.35 1.35 0 1 0 -2.7 0M88.5 198.2a1.35 1.35 0 1 0 2.7 0a1.35 1.35 0 1 0 -2.7 0M88.8 201.0a1.35 1.35 0 1 0 2.7 0a1.35 1.35 0 1 0 -2.7 0M91.0 197.5a1.35 1.35 0 1 0 2.7 0a1.35 1.35 0 1 0 -2.7 0M80.2 208.1a1.35 1.35 0 1 0 2.7 0a1.35 1.35 0 1 0 -2.7 0M85.3 201.8a1.35 1.35 0 1 0 2.7 0a1.35 1.35 0 1 0 -2.7 0M82.0 207.8a1.35 1.35 0 1 0 2.7 0a1.35 1.35 0 1 0 -2.7 0M95.6 194.7a1.35 1.35 0 1 0 2.7 0a1.35 1.35 0 1 0 -2.7 0M90.9 199.0a1.35 1.35 0 1 0 2.7 0a1.35 1.35 0 1 0 -2.7 0M81.7 207.2a1.35 1.35 0 1 0 2.7 0a1.35 1.35 0 1 0 -2.7 0M90.8 200.6a1.35 1.35 0 1 0 2.7 0a1.35 1.35 0 1 0 -2.7 0M95.9 196.5a1.35 1.35 0 1 0 2.7 0a1.35 1.35 0 1 0 -2.7 0M81.4 209.1a1.35 1.35 0 1 0 2.7 0a1.35 1.35 0 1 0 -2.7 0M87.0 201.2a1.35 1.35 0 1 0 2.7 0a1.35 1.35 0 1 0 -2.7 0M91.1 200.9a1.35 1.35 0 1 0 2.7 0a1.35 1.35 0 1 0 -2.7 0M79.1 210.6a1.35 1.35 0 1 0 2.7 0a1.35 1.35 0 1 0 -2.7 0M84.1 206.5a1.35 1.35 0 1 0 2.7 0a1.35 1.35 0 1 0 -2.7 0M88.9 200.0a1.35 1.35 0 1 0 2.7 0a1.35 1.35 0 1 0 -2.7 0M93.9 201.8a1.35 1.35 0 1 0 2.7 0a1.35 1.35 0 1 0 -2.7 0M88.9 206.3a1.35 1.35 0 1 0 2.7 0a1.35 1.35 0 1 0 -2.7 0M86.9 201.8a1.35 1.35 0 1 0 2.7 0a1.35 1.35 0 1 0 -2.7 0M89.6 202.8a1.35 1.35 0 1 0 2.7 0a1.35 1.35 0 1 0 -2.7 0M91.0 203.5a1.35 1.35 0 1 0 2.7 0a1.35 1.35 0 1 0 -2.7 0M84.5 203.0a1.35 1.35 0 1 0 2.7 0a1.35 1.35 0 1 0 -2.7 0M89.5 204.1a1.35 1.35 0 1 0 2.7 0a1.35 1.35 0 1 0 -2.7 0M87.7 204.7a1.35 1.35 0 1 0 2.7 0a1.35 1.35 0 1 0 -2.7 0M91.5 203.4a1.35 1.35 0 1 0 2.7 0a1.35 1.35 0 1 0 -2.7 0M89.4 202.4a1.35 1.35 0 1 0 2.7 0a1.35 1.35 0 1 0 -2.7 0M91.6 200.8a1.35 1.35 0 1 0 2.7 0a1.35 1.35 0 1 0 -2.7 0M87.4 203.8a1.35 1.35 0 1 0 2.7 0a1.35 1.35 0 1 0 -2.7 0M93.9 204.4a1.35 1.35 0 1 0 2.7 0a1.35 1.35 0 1 0 -2.7 0M92.9 206.5a1.35 1.35 0 1 0 2.7 0a1.35 1.35 0 1 0 -2.7 0M96.1 206.5a1.35 1.35 0 1 0 2.7 0a1.35 1.35 0 1 0 -2.7 0M93.7 206.8a1.35 1.35 0 1 0 2.7 0a1.35 1.35 0 1 0 -2.7 0M84.5 207.7a1.35 1.35 0 1 0 2.7 0a1.35 1.35 0 1 0 -2.7 0M85.2 206.9a1.35 1.35 0 1 0 2.7 0a1.35 1.35 0 1 0 -2.7 0M91.8 206.1a1.35 1.35 0 1 0 2.7 0a1.35 1.35 0 1 0 -2.7 0M86.5 206.7a1.35 1.35 0 1 0 2.7 0a1.35 1.35 0 1 0 -2.7 0M87.6 207.9a1.35 1.35 0 1 0 2.7 0a1.35 1.35 0 1 0 -2.7 0M93.4 206.0a1.35 1.35 0 1 0 2.7 0a1.35 1.35 0 1 0 -2.7 0M86.2 201.3a1.35 1.35 0 1 0 2.7 0a1.35 1.35 0 1 0 -2.7 0M90.4 203.2a1.35 1.35 0 1 0 2.7 0a1.35 1.35 0 1 0 -2.7 0M91.1 206.7a1.35 1.35 0 1 0 2.7 0a1.35 1.35 0 1 0 -2.7 0M90.8 203.9a1.35 1.35 0 1 0 2.7 0a1.35 1.35 0 1 0 -2.7 0M91.7 206.6a1.35 1.35 0 1 0 2.7 0a1.35 1.35 0 1 0 -2.7 0M88.5 204.9a1.35 1.35 0 1 0 2.7 0a1.35 1.35 0 1 0 -2.7 0M90.0 206.4a1.35 1.35 0 1 0 2.7 0a1.35 1.35 0 1 0 -2.7 0M92.5 206.8a1.35 1.35 0 1 0 2.7 0a1.35 1.35 0 1 0 -2.7 0M111.5 171.9a1.35 1.35 0 1 0 2.7 0a1.35 1.35 0 1 0 -2.7 0M108.4 174.1a1.35 1.35 0 1 0 2.7 0a1.35 1.35 0 1 0 -2.7 0M98.0 184.4a1.35 1.35 0 1 0 2.7 0a1.35 1.35 0 1 0 -2.7 0M107.4 171.4a1.35 1.35 0 1 0 2.7 0a1.35 1.35 0 1 0 -2.7 0M93.8 182.6a1.35 1.35 0 1 0 2.7 0a1.35 1.35 0 1 0 -2.7 0M112.4 169.0a1.35 1.35 0 1 0 2.7 0a1.35 1.35 0 1 0 -2.7 0M111.6 165.7a1.35 1.35 0 1 0 2.7 0a1.35 1.35 0 1 0 -2.7 0M98.7 181.8a1.35 1.35 0 1 0 2.7 0a1.35 1.35 0 1 0 -2.7 0M111.6 171.9a1.35 1.35 0 1 0 2.7 0a1.35 1.35 0 1 0 -2.7 0M99.8 183.3a1.35 1.35 0 1 0 2.7 0a1.35 1.35 0 1 0 -2.7 0M105.4 176.2a1.35 1.35 0 1 0 2.7 0a1.35 1.35 0 1 0 -2.7 0M97.0 187.1a1.35 1.35 0 1 0 2.7 0a1.35 1.35 0 1 0 -2.7 0M105.4 181.0a1.35 1.35 0 1 0 2.7 0a1.35 1.35 0 1 0 -2.7 0M90.4 184.9a1.35 1.35 0 1 0 2.7 0a1.35 1.35 0 1 0 -2.7 0M106.4 177.6a1.35 1.35 0 1 0 2.7 0a1.35 1.35 0 1 0 -2.7 0M99.8 187.3a1.35 1.35 0 1 0 2.7 0a1.35 1.35 0 1 0 -2.7 0M101.8 182.3a1.35 1.35 0 1 0 2.7 0a1.35 1.35 0 1 0 -2.7 0M109.9 174.9a1.35 1.35 0 1 0 2.7 0a1.35 1.35 0 1 0 -2.7 0M113.7 170.5a1.35 1.35 0 1 0 2.7 0a1.35 1.35 0 1 0 -2.7 0M100.5 182.1a1.35 1.35 0 1 0 2.7 0a1.35 1.35 0 1 0 -2.7 0M102.1 180.4a1.35 1.35 0 1 0 2.7 0a1.35 1.35 0 1 0 -2.7 0M91.2 190.2a1.35 1.35 0 1 0 2.7 0a1.35 1.35 0 1 0 -2.7 0M91.3 190.1a1.35 1.35 0 1 0 2.7 0a1.35 1.35 0 1 0 -2.7 0M93.0 186.3a1.35 1.35 0 1 0 2.7 0a1.35 1.35 0 1 0 -2.7 0M99.2 180.0a1.35 1.35 0 1 0 2.7 0a1.35 1.35 0 1 0 -2.7 0M97.1 178.6a1.35 1.35 0 1 0 2.7 0a1.35 1.35 0 1 0 -2.7 0M106.7 176.1a1.35 1.35 0 1 0 2.7 0a1.35 1.35 0 1 0 -2.7 0M110.4 171.1a1.35 1.35 0 1 0 2.7 0a1.35 1.35 0 1 0 -2.7 0M110.6 173.7a1.35 1.35 0 1 0 2.7 0a1.35 1.35 0 1 0 -2.7 0M96.3 187.8a1.35 1.35 0 1 0 2.7 0a1.35 1.35 0 1 0 -2.7 0M94.2 188.3a1.35 1.35 0 1 0 2.7 0a1.35 1.35 0 1 0 -2.7 0M109.8 170.5a1.35 1.35 0 1 0 2.7 0a1.35 1.35 0 1 0 -2.7 0M112.4 171.3a1.35 1.35 0 1 0 2.7 0a1.35 1.35 0 1 0 -2.7 0M99.0 187.9a1.35 1.35 0 1 0 2.7 0a1.35 1.35 0 1 0 -2.7 0M109.7 180.4a1.35 1.35 0 1 0 2.7 0a1.35 1.35 0 1 0 -2.7 0M91.6 192.2a1.35 1.35 0 1 0 2.7 0a1.35 1.35 0 1 0 -2.7 0M97.6 183.0a1.35 1.35 0 1 0 2.7 0a1.35 1.35 0 1 0 -2.7 0M110.8 175.6a1.35 1.35 0 1 0 2.7 0a1.35 1.35 0 1 0 -2.7 0M106.2 174.4a1.35 1.35 0 1 0 2.7 0a1.35 1.35 0 1 0 -2.7 0M103.3 174.8a1.35 1.35 0 1 0 2.7 0a1.35 1.35 0 1 0 -2.7 0M112.7 168.4a1.35 1.35 0 1 0 2.7 0a1.35 1.35 0 1 0 -2.7 0M94.6 189.0a1.35 1.35 0 1 0 2.7 0a1.35 1.35 0 1 0 -2.7 0M98.8 185.4a1.35 1.35 0 1 0 2.7 0a1.35 1.35 0 1 0 -2.7 0M108.1 173.6a1.35 1.35 0 1 0 2.7 0a1.35 1.35 0 1 0 -2.7 0M112.8 169.8a1.35 1.35 0 1 0 2.7 0a1.35 1.35 0 1 0 -2.7 0M99.9 181.1a1.35 1.35 0 1 0 2.7 0a1.35 1.35 0 1 0 -2.7 0M108.3 175.5a1.35 1.35 0 1 0 2.7 0a1.35 1.35 0 1 0 -2.7 0M92.7 192.4a1.35 1.35 0 1 0 2.7 0a1.35 1.35 0 1 0 -2.7 0M106.8 169.1a1.35 1.35 0 1 0 2.7 0a1.35 1.35 0 1 0 -2.7 0M110.0 175.4a1.35 1.35 0 1 0 2.7 0a1.35 1.35 0 1 0 -2.7 0M102.6 178.6a1.35 1.35 0 1 0 2.7 0a1.35 1.35 0 1 0 -2.7 0M109.7 173.0a1.35 1.35 0 1 0 2.7 0a1.35 1.35 0 1 0 -2.7 0M101.3 182.4a1.35 1.35 0 1 0 2.7 0a1.35 1.35 0 1 0 -2.7 0M103.9 183.9a1.35 1.35 0 1 0 2.7 0a1.35 1.35 0 1 0 -2.7 0M111.4 173.8a1.35 1.35 0 1 0 2.7 0a1.35 1.35 0 1 0 -2.7 0M94.0 188.4a1.35 1.35 0 1 0 2.7 0a1.35 1.35 0 1 0 -2.7 0M90.9 189.5a1.35 1.35 0 1 0 2.7 0a1.35 1.35 0 1 0 -2.7 0M92.1 187.3a1.35 1.35 0 1 0 2.7 0a1.35 1.35 0 1 0 -2.7 0M107.0 170.9a1.35 1.35 0 1 0 2.7 0a1.35 1.35 0 1 0 -2.7 0M110.3 172.5a1.35 1.35 0 1 0 2.7 0a1.35 1.35 0 1 0 -2.7 0M114.7 166.4a1.35 1.35 0 1 0 2.7 0a1.35 1.35 0 1 0 -2.7 0M111.0 170.9a1.35 1.35 0 1 0 2.7 0a1.35 1.35 0 1 0 -2.7 0M100.2 181.8a1.35 1.35 0 1 0 2.7 0a1.35 1.35 0 1 0 -2.7 0M106.2 176.5a1.35 1.35 0 1 0 2.7 0a1.35 1.35 0 1 0 -2.7 0M103.8 184.4a1.35 1.35 0 1 0 2.7 0a1.35 1.35 0 1 0 -2.7 0M100.1 176.7a1.35 1.35 0 1 0 2.7 0a1.35 1.35 0 1 0 -2.7 0M115.0 167.5a1.35 1.35 0 1 0 2.7 0a1.35 1.35 0 1 0 -2.7 0M113.1 170.8a1.35 1.35 0 1 0 2.7 0a1.35 1.35 0 1 0 -2.7 0M96.3 187.5a1.35 1.35 0 1 0 2.7 0a1.35 1.35 0 1 0 -2.7 0M109.7 166.1a1.35 1.35 0 1 0 2.7 0a1.35 1.35 0 1 0 -2.7 0M94.7 189.7a1.35 1.35 0 1 0 2.7 0a1.35 1.35 0 1 0 -2.7 0M105.0 180.0a1.35 1.35 0 1 0 2.7 0a1.35 1.35 0 1 0 -2.7 0M110.2 172.4a1.35 1.35 0 1 0 2.7 0a1.35 1.35 0 1 0 -2.7 0M113.8 169.5a1.35 1.35 0 1 0 2.7 0a1.35 1.35 0 1 0 -2.7 0M107.6 178.9a1.35 1.35 0 1 0 2.7 0a1.35 1.35 0 1 0 -2.7 0M106.7 177.5a1.35 1.35 0 1 0 2.7 0a1.35 1.35 0 1 0 -2.7 0M109.9 173.0a1.35 1.35 0 1 0 2.7 0a1.35 1.35 0 1 0 -2.7 0M93.2 189.9a1.35 1.35 0 1 0 2.7 0a1.35 1.35 0 1 0 -2.7 0M104.3 179.9a1.35 1.35 0 1 0 2.7 0a1.35 1.35 0 1 0 -2.7 0M106.4 183.4a1.35 1.35 0 1 0 2.7 0a1.35 1.35 0 1 0 -2.7 0M96.3 184.3a1.35 1.35 0 1 0 2.7 0a1.35 1.35 0 1 0 -2.7 0M90.5 188.5a1.35 1.35 0 1 0 2.7 0a1.35 1.35 0 1 0 -2.7 0M97.2 185.1a1.35 1.35 0 1 0 2.7 0a1.35 1.35 0 1 0 -2.7 0M100.7 187.9a1.35 1.35 0 1 0 2.7 0a1.35 1.35 0 1 0 -2.7 0M108.0 178.8a1.35 1.35 0 1 0 2.7 0a1.35 1.35 0 1 0 -2.7 0M98.2 186.4a1.35 1.35 0 1 0 2.7 0a1.35 1.35 0 1 0 -2.7 0M102.9 179.8a1.35 1.35 0 1 0 2.7 0a1.35 1.35 0 1 0 -2.7 0M100.7 179.7a1.35 1.35 0 1 0 2.7 0a1.35 1.35 0 1 0 -2.7 0M100.0 179.4a1.35 1.35 0 1 0 2.7 0a1.35 1.35 0 1 0 -2.7 0M95.3 185.2a1.35 1.35 0 1 0 2.7 0a1.35 1.35 0 1 0 -2.7 0M97.9 169.5a1.35 1.35 0 1 0 2.7 0a1.35 1.35 0 1 0 -2.7 0M101.9 168.4a1.35 1.35 0 1 0 2.7 0a1.35 1.35 0 1 0 -2.7 0M96.7 179.0a1.35 1.35 0 1 0 2.7 0a1.35 1.35 0 1 0 -2.7 0M97.3 174.6a1.35 1.35 0 1 0 2.7 0a1.35 1.35 0 1 0 -2.7 0M100.7 173.4a1.35 1.35 0 1 0 2.7 0a1.35 1.35 0 1 0 -2.7 0M101.6 174.2a1.35 1.35 0 1 0 2.7 0a1.35 1.35 0 1 0 -2.7 0M102.0 171.7a1.35 1.35 0 1 0 2.7 0a1.35 1.35 0 1 0 -2.7 0M100.6 173.3a1.35 1.35 0 1 0 2.7 0a1.35 1.35 0 1 0 -2.7 0M101.1 171.2a1.35 1.35 0 1 0 2.7 0a1.35 1.35 0 1 0 -2.7 0M97.2 171.5a1.35 1.35 0 1 0 2.7 0a1.35 1.35 0 1 0 -2.7 0M101.8 168.7a1.35 1.35 0 1 0 2.7 0a1.35 1.35 0 1 0 -2.7 0M97.7 177.9a1.35 1.35 0 1 0 2.7 0a1.35 1.35 0 1 0 -2.7 0M99.0 170.9a1.35 1.35 0 1 0 2.7 0a1.35 1.35 0 1 0 -2.7 0M102.4 165.5a1.35 1.35 0 1 0 2.7 0a1.35 1.35 0 1 0 -2.7 0M101.4 165.5a1.35 1.35 0 1 0 2.7 0a1.35 1.35 0 1 0 -2.7 0M125.0 158.9a1.35 1.35 0 1 0 2.7 0a1.35 1.35 0 1 0 -2.7 0M126.6 155.8a1.35 1.35 0 1 0 2.7 0a1.35 1.35 0 1 0 -2.7 0M121.7 160.3a1.35 1.35 0 1 0 2.7 0a1.35 1.35 0 1 0 -2.7 0M122.4 158.5a1.35 1.35 0 1 0 2.7 0a1.35 1.35 0 1 0 -2.7 0M126.5 155.6a1.35 1.35 0 1 0 2.7 0a1.35 1.35 0 1 0 -2.7 0M128.2 151.0a1.35 1.35 0 1 0 2.7 0a1.35 1.35 0 1 0 -2.7 0M122.5 157.7a1.35 1.35 0 1 0 2.7 0a1.35 1.35 0 1 0 -2.7 0M120.5 161.1a1.35 1.35 0 1 0 2.7 0a1.35 1.35 0 1 0 -2.7 0M119.4 162.5a1.35 1.35 0 1 0 2.7 0a1.35 1.35 0 1 0 -2.7 0M122.4 157.9a1.35 1.35 0 1 0 2.7 0a1.35 1.35 0 1 0 -2.7 0M120.5 162.4a1.35 1.35 0 1 0 2.7 0a1.35 1.35 0 1 0 -2.7 0M123.5 156.5a1.35 1.35 0 1 0 2.7 0a1.35 1.35 0 1 0 -2.7 0M118.0 165.8a1.35 1.35 0 1 0 2.7 0a1.35 1.35 0 1 0 -2.7 0M118.6 162.3a1.35 1.35 0 1 0 2.7 0a1.35 1.35 0 1 0 -2.7 0M124.1 156.1a1.35 1.35 0 1 0 2.7 0a1.35 1.35 0 1 0 -2.7 0M119.9 158.8a1.35 1.35 0 1 0 2.7 0a1.35 1.35 0 1 0 -2.7 0M114.0 167.4a1.35 1.35 0 1 0 2.7 0a1.35 1.35 0 1 0 -2.7 0M121.5 157.5a1.35 1.35 0 1 0 2.7 0a1.35 1.35 0 1 0 -2.7 0M118.5 162.3a1.35 1.35 0 1 0 2.7 0a1.35 1.35 0 1 0 -2.7 0M125.3 157.1a1.35 1.35 0 1 0 2.7 0a1.35 1.35 0 1 0 -2.7 0M122.7 155.3a1.35 1.35 0 1 0 2.7 0a1.35 1.35 0 1 0 -2.7 0M119.5 160.5a1.35 1.35 0 1 0 2.7 0a1.35 1.35 0 1 0 -2.7 0M119.4 160.4a1.35 1.35 0 1 0 2.7 0a1.35 1.35 0 1 0 -2.7 0M121.8 159.6a1.35 1.35 0 1 0 2.7 0a1.35 1.35 0 1 0 -2.7 0M119.9 159.8a1.35 1.35 0 1 0 2.7 0a1.35 1.35 0 1 0 -2.7 0M122.8 157.1a1.35 1.35 0 1 0 2.7 0a1.35 1.35 0 1 0 -2.7 0M128.9 154.5a1.35 1.35 0 1 0 2.7 0a1.35 1.35 0 1 0 -2.7 0M125.8 156.9a1.35 1.35 0 1 0 2.7 0a1.35 1.35 0 1 0 -2.7 0M120.8 162.5a1.35 1.35 0 1 0 2.7 0a1.35 1.35 0 1 0 -2.7 0M118.4 159.9a1.35 1.35 0 1 0 2.7 0a1.35 1.35 0 1 0 -2.7 0M120.6 156.5a1.35 1.35 0 1 0 2.7 0a1.35 1.35 0 1 0 -2.7 0M114.9 165.4a1.35 1.35 0 1 0 2.7 0a1.35 1.35 0 1 0 -2.7 0M118.8 162.2a1.35 1.35 0 1 0 2.7 0a1.35 1.35 0 1 0 -2.7 0M124.4 156.1a1.35 1.35 0 1 0 2.7 0a1.35 1.35 0 1 0 -2.7 0M121.0 162.4a1.35 1.35 0 1 0 2.7 0a1.35 1.35 0 1 0 -2.7 0M121.2 158.2a1.35 1.35 0 1 0 2.7 0a1.35 1.35 0 1 0 -2.7 0M123.5 156.3a1.35 1.35 0 1 0 2.7 0a1.35 1.35 0 1 0 -2.7 0M118.5 157.7a1.35 1.35 0 1 0 2.7 0a1.35 1.35 0 1 0 -2.7 0M119.0 158.9a1.35 1.35 0 1 0 2.7 0a1.35 1.35 0 1 0 -2.7 0M125.9 152.9a1.35 1.35 0 1 0 2.7 0a1.35 1.35 0 1 0 -2.7 0M123.8 162.9a1.35 1.35 0 1 0 2.7 0a1.35 1.35 0 1 0 -2.7 0M126.1 156.4a1.35 1.35 0 1 0 2.7 0a1.35 1.35 0 1 0 -2.7 0M121.4 162.5a1.35 1.35 0 1 0 2.7 0a1.35 1.35 0 1 0 -2.7 0M122.5 157.9a1.35 1.35 0 1 0 2.7 0a1.35 1.35 0 1 0 -2.7 0M126.1 150.3a1.35 1.35 0 1 0 2.7 0a1.35 1.35 0 1 0 -2.7 0M115.3 165.2a1.35 1.35 0 1 0 2.7 0a1.35 1.35 0 1 0 -2.7 0M121.4 157.4a1.35 1.35 0 1 0 2.7 0a1.35 1.35 0 1 0 -2.7 0M120.4 159.8a1.35 1.35 0 1 0 2.7 0a1.35 1.35 0 1 0 -2.7 0M120.7 157.1a1.35 1.35 0 1 0 2.7 0a1.35 1.35 0 1 0 -2.7 0M129.3 152.3a1.35 1.35 0 1 0 2.7 0a1.35 1.35 0 1 0 -2.7 0M123.8 164.6a1.35 1.35 0 1 0 2.7 0a1.35 1.35 0 1 0 -2.7 0M122.7 157.2a1.35 1.35 0 1 0 2.7 0a1.35 1.35 0 1 0 -2.7 0M119.5 157.2a1.35 1.35 0 1 0 2.7 0a1.35 1.35 0 1 0 -2.7 0M122.5 156.7a1.35 1.35 0 1 0 2.7 0a1.35 1.35 0 1 0 -2.7 0M118.2 166.7a1.35 1.35 0 1 0 2.7 0a1.35 1.35 0 1 0 -2.7 0M142.7 148.9a1.35 1.35 0 1 0 2.7 0a1.35 1.35 0 1 0 -2.7 0M139.8 151.1a1.35 1.35 0 1 0 2.7 0a1.35 1.35 0 1 0 -2.7 0M136.3 152.0a1.35 1.35 0 1 0 2.7 0a1.35 1.35 0 1 0 -2.7 0M139.0 148.7a1.35 1.35 0 1 0 2.7 0a1.35 1.35 0 1 0 -2.7 0M137.0 146.9a1.35 1.35 0 1 0 2.7 0a1.35 1.35 0 1 0 -2.7 0M141.9 143.1a1.35 1.35 0 1 0 2.7 0a1.35 1.35 0 1 0 -2.7 0M136.4 146.6a1.35 1.35 0 1 0 2.7 0a1.35 1.35 0 1 0 -2.7 0M134.3 151.0a1.35 1.35 0 1 0 2.7 0a1.35 1.35 0 1 0 -2.7 0M135.3 146.3a1.35 1.35 0 1 0 2.7 0a1.35 1.35 0 1 0 -2.7 0M138.4 148.5a1.35 1.35 0 1 0 2.7 0a1.35 1.35 0 1 0 -2.7 0M137.8 148.5a1.35 1.35 0 1 0 2.7 0a1.35 1.35 0 1 0 -2.7 0M138.2 145.9a1.35 1.35 0 1 0 2.7 0a1.35 1.35 0 1 0 -2.7 0M136.8 151.0a1.35 1.35 0 1 0 2.7 0a1.35 1.35 0 1 0 -2.7 0M141.4 146.7a1.35 1.35 0 1 0 2.7 0a1.35 1.35 0 1 0 -2.7 0M135.3 153.8a1.35 1.35 0 1 0 2.7 0a1.35 1.35 0 1 0 -2.7 0M138.9 145.5a1.35 1.35 0 1 0 2.7 0a1.35 1.35 0 1 0 -2.7 0M135.7 154.4a1.35 1.35 0 1 0 2.7 0a1.35 1.35 0 1 0 -2.7 0M138.5 146.0a1.35 1.35 0 1 0 2.7 0a1.35 1.35 0 1 0 -2.7 0M138.5 148.1a1.35 1.35 0 1 0 2.7 0a1.35 1.35 0 1 0 -2.7 0M140.4 144.5a1.35 1.35 0 1 0 2.7 0a1.35 1.35 0 1 0 -2.7 0M137.4 146.8a1.35 1.35 0 1 0 2.7 0a1.35 1.35 0 1 0 -2.7 0M140.2 150.2a1.35 1.35 0 1 0 2.7 0a1.35 1.35 0 1 0 -2.7 0M138.2 143.1a1.35 1.35 0 1 0 2.7 0a1.35 1.35 0 1 0 -2.7 0M138.3 148.1a1.35 1.35 0 1 0 2.7 0a1.35 1.35 0 1 0 -2.7 0M137.9 144.9a1.35 1.35 0 1 0 2.7 0a1.35 1.35 0 1 0 -2.7 0M140.2 145.0a1.35 1.35 0 1 0 2.7 0a1.35 1.35 0 1 0 -2.7 0M136.3 146.6a1.35 1.35 0 1 0 2.7 0a1.35 1.35 0 1 0 -2.7 0M137.7 151.1a1.35 1.35 0 1 0 2.7 0a1.35 1.35 0 1 0 -2.7 0M136.5 148.0a1.35 1.35 0 1 0 2.7 0a1.35 1.35 0 1 0 -2.7 0M139.4 144.9a1.35 1.35 0 1 0 2.7 0a1.35 1.35 0 1 0 -2.7 0M137.5 146.7a1.35 1.35 0 1 0 2.7 0a1.35 1.35 0 1 0 -2.7 0M139.8 146.5a1.35 1.35 0 1 0 2.7 0a1.35 1.35 0 1 0 -2.7 0M136.1 149.3a1.35 1.35 0 1 0 2.7 0a1.35 1.35 0 1 0 -2.7 0M140.9 149.0a1.35 1.35 0 1 0 2.7 0a1.35 1.35 0 1 0 -2.7 0M139.1 148.4a1.35 1.35 0 1 0 2.7 0a1.35 1.35 0 1 0 -2.7 0M144.6 137.3a1.35 1.35 0 1 0 2.7 0a1.35 1.35 0 1 0 -2.7 0M137.6 146.4a1.35 1.35 0 1 0 2.7 0a1.35 1.35 0 1 0 -2.7 0M139.7 142.0a1.35 1.35 0 1 0 2.7 0a1.35 1.35 0 1 0 -2.7 0M135.7 148.4a1.35 1.35 0 1 0 2.7 0a1.35 1.35 0 1 0 -2.7 0M141.0 147.6a1.35 1.35 0 1 0 2.7 0a1.35 1.35 0 1 0 -2.7 0M116.2 164.5a1.35 1.35 0 1 0 2.7 0a1.35 1.35 0 1 0 -2.7 0M124.0 160.1a1.35 1.35 0 1 0 2.7 0a1.35 1.35 0 1 0 -2.7 0M116.5 172.2a1.35 1.35 0 1 0 2.7 0a1.35 1.35 0 1 0 -2.7 0M131.5 155.6a1.35 1.35 0 1 0 2.7 0a1.35 1.35 0 1 0 -2.7 0M127.0 161.4a1.35 1.35 0 1 0 2.7 0a1.35 1.35 0 1 0 -2.7 0M141.9 142.8a1.35 1.35 0 1 0 2.7 0a1.35 1.35 0 1 0 -2.7 0M119.0 163.8a1.35 1.35 0 1 0 2.7 0a1.35 1.35 0 1 0 -2.7 0M131.4 151.8a1.35 1.35 0 1 0 2.7 0a1.35 1.35 0 1 0 -2.7 0M120.8 161.9a1.35 1.35 0 1 0 2.7 0a1.35 1.35 0 1 0 -2.7 0M116.9 164.7a1.35 1.35 0 1 0 2.7 0a1.35 1.35 0 1 0 -2.7 0M141.7 143.9a1.35 1.35 0 1 0 2.7 0a1.35 1.35 0 1 0 -2.7 0M135.1 148.6a1.35 1.35 0 1 0 2.7 0a1.35 1.35 0 1 0 -2.7 0M115.7 162.6a1.35 1.35 0 1 0 2.7 0a1.35 1.35 0 1 0 -2.7 0M142.2 141.2a1.35 1.35 0 1 0 2.7 0a1.35 1.35 0 1 0 -2.7 0M130.5 153.7a1.35 1.35 0 1 0 2.7 0a1.35 1.35 0 1 0 -2.7 0M115.7 167.9a1.35 1.35 0 1 0 2.7 0a1.35 1.35 0 1 0 -2.7 0M137.7 148.2a1.35 1.35 0 1 0 2.7 0a1.35 1.35 0 1 0 -2.7 0M116.4 168.9a1.35 1.35 0 1 0 2.7 0a1.35 1.35 0 1 0 -2.7 0M123.3 161.1a1.35 1.35 0 1 0 2.7 0a1.35 1.35 0 1 0 -2.7 0M128.8 157.2a1.35 1.35 0 1 0 2.7 0a1.35 1.35 0 1 0 -2.7 0M133.2 149.7a1.35 1.35 0 1 0 2.7 0a1.35 1.35 0 1 0 -2.7 0M120.7 161.7a1.35 1.35 0 1 0 2.7 0a1.35 1.35 0 1 0 -2.7 0M123.5 157.3a1.35 1.35 0 1 0 2.7 0a1.35 1.35 0 1 0 -2.7 0M140.9 146.6a1.35 1.35 0 1 0 2.7 0a1.35 1.35 0 1 0 -2.7 0M116.0 166.4a1.35 1.35 0 1 0 2.7 0a1.35 1.35 0 1 0 -2.7 0M116.0 165.1a1.35 1.35 0 1 0 2.7 0a1.35 1.35 0 1 0 -2.7 0M133.5 149.1a1.35 1.35 0 1 0 2.7 0a1.35 1.35 0 1 0 -2.7 0M141.4 147.1a1.35 1.35 0 1 0 2.7 0a1.35 1.35 0 1 0 -2.7 0M124.8 157.9a1.35 1.35 0 1 0 2.7 0a1.35 1.35 0 1 0 -2.7 0M117.4 169.6a1.35 1.35 0 1 0 2.7 0a1.35 1.35 0 1 0 -2.7 0M137.3 145.7a1.35 1.35 0 1 0 2.7 0a1.35 1.35 0 1 0 -2.7 0M141.4 142.2a1.35 1.35 0 1 0 2.7 0a1.35 1.35 0 1 0 -2.7 0M130.4 156.7a1.35 1.35 0 1 0 2.7 0a1.35 1.35 0 1 0 -2.7 0M129.1 158.9a1.35 1.35 0 1 0 2.7 0a1.35 1.35 0 1 0 -2.7 0M131.1 152.9a1.35 1.35 0 1 0 2.7 0a1.35 1.35 0 1 0 -2.7 0M138.8 148.7a1.35 1.35 0 1 0 2.7 0a1.35 1.35 0 1 0 -2.7 0M138.1 146.0a1.35 1.35 0 1 0 2.7 0a1.35 1.35 0 1 0 -2.7 0M133.8 153.9a1.35 1.35 0 1 0 2.7 0a1.35 1.35 0 1 0 -2.7 0M137.4 147.9a1.35 1.35 0 1 0 2.7 0a1.35 1.35 0 1 0 -2.7 0M132.0 152.7a1.35 1.35 0 1 0 2.7 0a1.35 1.35 0 1 0 -2.7 0M131.9 150.6a1.35 1.35 0 1 0 2.7 0a1.35 1.35 0 1 0 -2.7 0M116.7 171.9a1.35 1.35 0 1 0 2.7 0a1.35 1.35 0 1 0 -2.7 0M121.7 160.9a1.35 1.35 0 1 0 2.7 0a1.35 1.35 0 1 0 -2.7 0M127.5 158.5a1.35 1.35 0 1 0 2.7 0a1.35 1.35 0 1 0 -2.7 0M134.4 155.5a1.35 1.35 0 1 0 2.7 0a1.35 1.35 0 1 0 -2.7 0M151.3 136.4a1.35 1.35 0 1 0 2.7 0a1.35 1.35 0 1 0 -2.7 0M148.7 135.2a1.35 1.35 0 1 0 2.7 0a1.35 1.35 0 1 0 -2.7 0M149.7 131.8a1.35 1.35 0 1 0 2.7 0a1.35 1.35 0 1 0 -2.7 0M161.2 124.7a1.35 1.35 0 1 0 2.7 0a1.35 1.35 0 1 0 -2.7 0M154.0 134.3a1.35 1.35 0 1 0 2.7 0a1.35 1.35 0 1 0 -2.7 0M158.0 127.7a1.35 1.35 0 1 0 2.7 0a1.35 1.35 0 1 0 -2.7 0M148.0 140.3a1.35 1.35 0 1 0 2.7 0a1.35 1.35 0 1 0 -2.7 0M156.2 131.2a1.35 1.35 0 1 0 2.7 0a1.35 1.35 0 1 0 -2.7 0M156.1 129.1a1.35 1.35 0 1 0 2.7 0a1.35 1.35 0 1 0 -2.7 0M160.3 126.2a1.35 1.35 0 1 0 2.7 0a1.35 1.35 0 1 0 -2.7 0M158.7 124.1a1.35 1.35 0 1 0 2.7 0a1.35 1.35 0 1 0 -2.7 0M159.8 127.3a1.35 1.35 0 1 0 2.7 0a1.35 1.35 0 1 0 -2.7 0M155.4 122.9a1.35 1.35 0 1 0 2.7 0a1.35 1.35 0 1 0 -2.7 0M153.4 134.1a1.35 1.35 0 1 0 2.7 0a1.35 1.35 0 1 0 -2.7 0M154.7 134.6a1.35 1.35 0 1 0 2.7 0a1.35 1.35 0 1 0 -2.7 0M150.6 136.2a1.35 1.35 0 1 0 2.7 0a1.35 1.35 0 1 0 -2.7 0M153.0 129.7a1.35 1.35 0 1 0 2.7 0a1.35 1.35 0 1 0 -2.7 0M149.6 136.5a1.35 1.35 0 1 0 2.7 0a1.35 1.35 0 1 0 -2.7 0M155.3 131.4a1.35 1.35 0 1 0 2.7 0a1.35 1.35 0 1 0 -2.7 0M157.3 122.0a1.35 1.35 0 1 0 2.7 0a1.35 1.35 0 1 0 -2.7 0M149.7 138.4a1.35 1.35 0 1 0 2.7 0a1.35 1.35 0 1 0 -2.7 0M152.1 135.2a1.35 1.35 0 1 0 2.7 0a1.35 1.35 0 1 0 -2.7 0M151.9 132.5a1.35 1.35 0 1 0 2.7 0a1.35 1.35 0 1 0 -2.7 0M161.5 117.3a1.35 1.35 0 1 0 2.7 0a1.35 1.35 0 1 0 -2.7 0M153.9 138.0a1.35 1.35 0 1 0 2.7 0a1.35 1.35 0 1 0 -2.7 0M160.8 125.3a1.35 1.35 0 1 0 2.7 0a1.35 1.35 0 1 0 -2.7 0M152.5 129.9a1.35 1.35 0 1 0 2.7 0a1.35 1.35 0 1 0 -2.7 0M153.7 132.7a1.35 1.35 0 1 0 2.7 0a1.35 1.35 0 1 0 -2.7 0M150.6 132.3a1.35 1.35 0 1 0 2.7 0a1.35 1.35 0 1 0 -2.7 0M157.8 130.7a1.35 1.35 0 1 0 2.7 0a1.35 1.35 0 1 0 -2.7 0M151.9 130.1a1.35 1.35 0 1 0 2.7 0a1.35 1.35 0 1 0 -2.7 0M151.2 135.7a1.35 1.35 0 1 0 2.7 0a1.35 1.35 0 1 0 -2.7 0M151.0 135.3a1.35 1.35 0 1 0 2.7 0a1.35 1.35 0 1 0 -2.7 0M157.8 128.0a1.35 1.35 0 1 0 2.7 0a1.35 1.35 0 1 0 -2.7 0M158.4 125.8a1.35 1.35 0 1 0 2.7 0a1.35 1.35 0 1 0 -2.7 0M145.7 139.6a1.35 1.35 0 1 0 2.7 0a1.35 1.35 0 1 0 -2.7 0M154.1 136.6a1.35 1.35 0 1 0 2.7 0a1.35 1.35 0 1 0 -2.7 0M157.5 128.6a1.35 1.35 0 1 0 2.7 0a1.35 1.35 0 1 0 -2.7 0M152.1 132.0a1.35 1.35 0 1 0 2.7 0a1.35 1.35 0 1 0 -2.7 0M158.3 125.6a1.35 1.35 0 1 0 2.7 0a1.35 1.35 0 1 0 -2.7 0M152.0 133.8a1.35 1.35 0 1 0 2.7 0a1.35 1.35 0 1 0 -2.7 0M164.5 125.7a1.35 1.35 0 1 0 2.7 0a1.35 1.35 0 1 0 -2.7 0M154.5 131.2a1.35 1.35 0 1 0 2.7 0a1.35 1.35 0 1 0 -2.7 0M160.5 123.8a1.35 1.35 0 1 0 2.7 0a1.35 1.35 0 1 0 -2.7 0M155.2 131.6a1.35 1.35 0 1 0 2.7 0a1.35 1.35 0 1 0 -2.7 0M159.4 126.4a1.35 1.35 0 1 0 2.7 0a1.35 1.35 0 1 0 -2.7 0M153.8 131.4a1.35 1.35 0 1 0 2.7 0a1.35 1.35 0 1 0 -2.7 0M157.1 128.7a1.35 1.35 0 1 0 2.7 0a1.35 1.35 0 1 0 -2.7 0M155.3 128.2a1.35 1.35 0 1 0 2.7 0a1.35 1.35 0 1 0 -2.7 0M151.2 135.1a1.35 1.35 0 1 0 2.7 0a1.35 1.35 0 1 0 -2.7 0M154.5 129.2a1.35 1.35 0 1 0 2.7 0a1.35 1.35 0 1 0 -2.7 0M156.6 130.8a1.35 1.35 0 1 0 2.7 0a1.35 1.35 0 1 0 -2.7 0M149.9 136.8a1.35 1.35 0 1 0 2.7 0a1.35 1.35 0 1 0 -2.7 0M152.1 130.9a1.35 1.35 0 1 0 2.7 0a1.35 1.35 0 1 0 -2.7 0M156.9 128.8a1.35 1.35 0 1 0 2.7 0a1.35 1.35 0 1 0 -2.7 0M149.7 139.7a1.35 1.35 0 1 0 2.7 0a1.35 1.35 0 1 0 -2.7 0M154.7 129.3a1.35 1.35 0 1 0 2.7 0a1.35 1.35 0 1 0 -2.7 0M155.8 130.8a1.35 1.35 0 1 0 2.7 0a1.35 1.35 0 1 0 -2.7 0M156.6 135.2a1.35 1.35 0 1 0 2.7 0a1.35 1.35 0 1 0 -2.7 0M159.0 122.5a1.35 1.35 0 1 0 2.7 0a1.35 1.35 0 1 0 -2.7 0M155.0 130.2a1.35 1.35 0 1 0 2.7 0a1.35 1.35 0 1 0 -2.7 0M153.4 129.7a1.35 1.35 0 1 0 2.7 0a1.35 1.35 0 1 0 -2.7 0M150.4 136.9a1.35 1.35 0 1 0 2.7 0a1.35 1.35 0 1 0 -2.7 0M155.9 134.2a1.35 1.35 0 1 0 2.7 0a1.35 1.35 0 1 0 -2.7 0M156.3 128.2a1.35 1.35 0 1 0 2.7 0a1.35 1.35 0 1 0 -2.7 0M154.2 133.1a1.35 1.35 0 1 0 2.7 0a1.35 1.35 0 1 0 -2.7 0M161.6 126.2a1.35 1.35 0 1 0 2.7 0a1.35 1.35 0 1 0 -2.7 0M154.9 128.6a1.35 1.35 0 1 0 2.7 0a1.35 1.35 0 1 0 -2.7 0M154.2 128.5a1.35 1.35 0 1 0 2.7 0a1.35 1.35 0 1 0 -2.7 0M154.2 130.8a1.35 1.35 0 1 0 2.7 0a1.35 1.35 0 1 0 -2.7 0M149.0 136.5a1.35 1.35 0 1 0 2.7 0a1.35 1.35 0 1 0 -2.7 0M154.1 130.1a1.35 1.35 0 1 0 2.7 0a1.35 1.35 0 1 0 -2.7 0M164.7 124.9a1.35 1.35 0 1 0 2.7 0a1.35 1.35 0 1 0 -2.7 0M164.4 126.4a1.35 1.35 0 1 0 2.7 0a1.35 1.35 0 1 0 -2.7 0M152.4 136.3a1.35 1.35 0 1 0 2.7 0a1.35 1.35 0 1 0 -2.7 0M163.6 122.7a1.35 1.35 0 1 0 2.7 0a1.35 1.35 0 1 0 -2.7 0M164.8 119.1a1.35 1.35 0 1 0 2.7 0a1.35 1.35 0 1 0 -2.7 0M145.5 142.9a1.35 1.35 0 1 0 2.7 0a1.35 1.35 0 1 0 -2.7 0M144.5 139.9a1.35 1.35 0 1 0 2.7 0a1.35 1.35 0 1 0 -2.7 0M156.1 136.7a1.35 1.35 0 1 0 2.7 0a1.35 1.35 0 1 0 -2.7 0M165.9 117.0a1.35 1.35 0 1 0 2.7 0a1.35 1.35 0 1 0 -2.7 0M152.0 136.7a1.35 1.35 0 1 0 2.7 0a1.35 1.35 0 1 0 -2.7 0M154.2 134.4a1.35 1.35 0 1 0 2.7 0a1.35 1.35 0 1 0 -2.7 0M154.5 129.8a1.35 1.35 0 1 0 2.7 0a1.35 1.35 0 1 0 -2.7 0M143.1 141.8a1.35 1.35 0 1 0 2.7 0a1.35 1.35 0 1 0 -2.7 0M157.0 128.7a1.35 1.35 0 1 0 2.7 0a1.35 1.35 0 1 0 -2.7 0M164.6 123.1a1.35 1.35 0 1 0 2.7 0a1.35 1.35 0 1 0 -2.7 0M154.2 134.2a1.35 1.35 0 1 0 2.7 0a1.35 1.35 0 1 0 -2.7 0M158.5 127.7a1.35 1.35 0 1 0 2.7 0a1.35 1.35 0 1 0 -2.7 0M158.1 128.0a1.35 1.35 0 1 0 2.7 0a1.35 1.35 0 1 0 -2.7 0M148.6 139.0a1.35 1.35 0 1 0 2.7 0a1.35 1.35 0 1 0 -2.7 0M164.2 124.5a1.35 1.35 0 1 0 2.7 0a1.35 1.35 0 1 0 -2.7 0M150.5 139.5a1.35 1.35 0 1 0 2.7 0a1.35 1.35 0 1 0 -2.7 0M165.0 120.7a1.35 1.35 0 1 0 2.7 0a1.35 1.35 0 1 0 -2.7 0M165.8 119.1a1.35 1.35 0 1 0 2.7 0a1.35 1.35 0 1 0 -2.7 0M169.5 121.9a1.35 1.35 0 1 0 2.7 0a1.35 1.35 0 1 0 -2.7 0M172.2 124.0a1.35 1.35 0 1 0 2.7 0a1.35 1.35 0 1 0 -2.7 0M184.6 105.7a1.35 1.35 0 1 0 2.7 0a1.35 1.35 0 1 0 -2.7 0M172.3 120.2a1.35 1.35 0 1 0 2.7 0a1.35 1.35 0 1 0 -2.7 0M179.6 102.6a1.35 1.35 0 1 0 2.7 0a1.35 1.35 0 1 0 -2.7 0M187.9 97.4a1.35 1.35 0 1 0 2.7 0a1.35 1.35 0 1 0 -2.7 0M182.3 110.0a1.35 1.35 0 1 0 2.7 0a1.35 1.35 0 1 0 -2.7 0M183.2 106.0a1.35 1.35 0 1 0 2.7 0a1.35 1.35 0 1 0 -2.7 0M189.8 97.7a1.35 1.35 0 1 0 2.7 0a1.35 1.35 0 1 0 -2.7 0M168.6 119.5a1.35 1.35 0 1 0 2.7 0a1.35 1.35 0 1 0 -2.7 0M190.1 94.5a1.35 1.35 0 1 0 2.7 0a1.35 1.35 0 1 0 -2.7 0M172.7 115.0a1.35 1.35 0 1 0 2.7 0a1.35 1.35 0 1 0 -2.7 0M175.4 106.8a1.35 1.35 0 1 0 2.7 0a1.35 1.35 0 1 0 -2.7 0M177.2 111.5a1.35 1.35 0 1 0 2.7 0a1.35 1.35 0 1 0 -2.7 0M189.6 98.4a1.35 1.35 0 1 0 2.7 0a1.35 1.35 0 1 0 -2.7 0M184.0 103.1a1.35 1.35 0 1 0 2.7 0a1.35 1.35 0 1 0 -2.7 0M171.0 116.7a1.35 1.35 0 1 0 2.7 0a1.35 1.35 0 1 0 -2.7 0M176.4 110.4a1.35 1.35 0 1 0 2.7 0a1.35 1.35 0 1 0 -2.7 0M173.1 115.7a1.35 1.35 0 1 0 2.7 0a1.35 1.35 0 1 0 -2.7 0M175.0 119.3a1.35 1.35 0 1 0 2.7 0a1.35 1.35 0 1 0 -2.7 0M180.3 108.3a1.35 1.35 0 1 0 2.7 0a1.35 1.35 0 1 0 -2.7 0M188.7 103.0a1.35 1.35 0 1 0 2.7 0a1.35 1.35 0 1 0 -2.7 0M188.0 101.5a1.35 1.35 0 1 0 2.7 0a1.35 1.35 0 1 0 -2.7 0M181.3 110.5a1.35 1.35 0 1 0 2.7 0a1.35 1.35 0 1 0 -2.7 0M176.1 111.3a1.35 1.35 0 1 0 2.7 0a1.35 1.35 0 1 0 -2.7 0M177.9 108.4a1.35 1.35 0 1 0 2.7 0a1.35 1.35 0 1 0 -2.7 0M185.5 102.1a1.35 1.35 0 1 0 2.7 0a1.35 1.35 0 1 0 -2.7 0M170.9 116.3a1.35 1.35 0 1 0 2.7 0a1.35 1.35 0 1 0 -2.7 0M176.2 110.0a1.35 1.35 0 1 0 2.7 0a1.35 1.35 0 1 0 -2.7 0M169.0 121.2a1.35 1.35 0 1 0 2.7 0a1.35 1.35 0 1 0 -2.7 0M192.3 98.2a1.35 1.35 0 1 0 2.7 0a1.35 1.35 0 1 0 -2.7 0M188.7 87.8a1.35 1.35 0 1 0 2.7 0a1.35 1.35 0 1 0 -2.7 0M191.9 92.4a1.35 1.35 0 1 0 2.7 0a1.35 1.35 0 1 0 -2.7 0M192.0 102.3a1.35 1.35 0 1 0 2.7 0a1.35 1.35 0 1 0 -2.7 0M189.8 100.8a1.35 1.35 0 1 0 2.7 0a1.35 1.35 0 1 0 -2.7 0M187.7 89.6a1.35 1.35 0 1 0 2.7 0a1.35 1.35 0 1 0 -2.7 0M191.1 95.2a1.35 1.35 0 1 0 2.7 0a1.35 1.35 0 1 0 -2.7 0M191.0 89.4a1.35 1.35 0 1 0 2.7 0a1.35 1.35 0 1 0 -2.7 0M191.3 96.4a1.35 1.35 0 1 0 2.7 0a1.35 1.35 0 1 0 -2.7 0M190.7 89.9a1.35 1.35 0 1 0 2.7 0a1.35 1.35 0 1 0 -2.7 0M191.4 94.2a1.35 1.35 0 1 0 2.7 0a1.35 1.35 0 1 0 -2.7 0M189.3 87.1a1.35 1.35 0 1 0 2.7 0a1.35 1.35 0 1 0 -2.7 0M190.9 88.9a1.35 1.35 0 1 0 2.7 0a1.35 1.35 0 1 0 -2.7 0M189.9 99.0a1.35 1.35 0 1 0 2.7 0a1.35 1.35 0 1 0 -2.7 0M191.1 92.3a1.35 1.35 0 1 0 2.7 0a1.35 1.35 0 1 0 -2.7 0M191.1 99.2a1.35 1.35 0 1 0 2.7 0a1.35 1.35 0 1 0 -2.7 0M188.8 90.8a1.35 1.35 0 1 0 2.7 0a1.35 1.35 0 1 0 -2.7 0M191.0 95.9a1.35 1.35 0 1 0 2.7 0a1.35 1.35 0 1 0 -2.7 0M207.8 81.2a1.35 1.35 0 1 0 2.7 0a1.35 1.35 0 1 0 -2.7 0M201.8 88.4a1.35 1.35 0 1 0 2.7 0a1.35 1.35 0 1 0 -2.7 0M209.1 79.1a1.35 1.35 0 1 0 2.7 0a1.35 1.35 0 1 0 -2.7 0M203.5 86.4a1.35 1.35 0 1 0 2.7 0a1.35 1.35 0 1 0 -2.7 0M203.6 90.0a1.35 1.35 0 1 0 2.7 0a1.35 1.35 0 1 0 -2.7 0M208.6 80.8a1.35 1.35 0 1 0 2.7 0a1.35 1.35 0 1 0 -2.7 0M208.4 82.8a1.35 1.35 0 1 0 2.7 0a1.35 1.35 0 1 0 -2.7 0M200.1 91.6a1.35 1.35 0 1 0 2.7 0a1.35 1.35 0 1 0 -2.7 0M201.9 88.3a1.35 1.35 0 1 0 2.7 0a1.35 1.35 0 1 0 -2.7 0M201.3 89.3a1.35 1.35 0 1 0 2.7 0a1.35 1.35 0 1 0 -2.7 0M208.0 84.3a1.35 1.35 0 1 0 2.7 0a1.35 1.35 0 1 0 -2.7 0M203.8 84.3a1.35 1.35 0 1 0 2.7 0a1.35 1.35 0 1 0 -2.7 0M201.6 91.4a1.35 1.35 0 1 0 2.7 0a1.35 1.35 0 1 0 -2.7 0M207.1 81.2a1.35 1.35 0 1 0 2.7 0a1.35 1.35 0 1 0 -2.7 0M204.0 85.7a1.35 1.35 0 1 0 2.7 0a1.35 1.35 0 1 0 -2.7 0M201.4 88.0a1.35 1.35 0 1 0 2.7 0a1.35 1.35 0 1 0 -2.7 0M203.4 88.6a1.35 1.35 0 1 0 2.7 0a1.35 1.35 0 1 0 -2.7 0M204.3 86.6a1.35 1.35 0 1 0 2.7 0a1.35 1.35 0 1 0 -2.7 0M195.7 92.7a1.35 1.35 0 1 0 2.7 0a1.35 1.35 0 1 0 -2.7 0M199.4 90.2a1.35 1.35 0 1 0 2.7 0a1.35 1.35 0 1 0 -2.7 0M208.8 83.2a1.35 1.35 0 1 0 2.7 0a1.35 1.35 0 1 0 -2.7 0M208.1 74.3a1.35 1.35 0 1 0 2.7 0a1.35 1.35 0 1 0 -2.7 0M207.8 76.1a1.35 1.35 0 1 0 2.7 0a1.35 1.35 0 1 0 -2.7 0M208.5 76.2a1.35 1.35 0 1 0 2.7 0a1.35 1.35 0 1 0 -2.7 0M205.7 84.7a1.35 1.35 0 1 0 2.7 0a1.35 1.35 0 1 0 -2.7 0M209.7 77.4a1.35 1.35 0 1 0 2.7 0a1.35 1.35 0 1 0 -2.7 0M207.6 63.3a1.35 1.35 0 1 0 2.7 0a1.35 1.35 0 1 0 -2.7 0M210.3 76.8a1.35 1.35 0 1 0 2.7 0a1.35 1.35 0 1 0 -2.7 0M209.5 87.4a1.35 1.35 0 1 0 2.7 0a1.35 1.35 0 1 0 -2.7 0M209.9 64.7a1.35 1.35 0 1 0 2.7 0a1.35 1.35 0 1 0 -2.7 0M208.2 69.5a1.35 1.35 0 1 0 2.7 0a1.35 1.35 0 1 0 -2.7 0M208.6 75.0a1.35 1.35 0 1 0 2.7 0a1.35 1.35 0 1 0 -2.7 0M208.8 72.5a1.35 1.35 0 1 0 2.7 0a1.35 1.35 0 1 0 -2.7 0M212.2 63.8a1.35 1.35 0 1 0 2.7 0a1.35 1.35 0 1 0 -2.7 0M209.7 96.3a1.35 1.35 0 1 0 2.7 0a1.35 1.35 0 1 0 -2.7 0M208.5 70.2a1.35 1.35 0 1 0 2.7 0a1.35 1.35 0 1 0 -2.7 0M208.7 75.8a1.35 1.35 0 1 0 2.7 0a1.35 1.35 0 1 0 -2.7 0M213.9 76.3a1.35 1.35 0 1 0 2.7 0a1.35 1.35 0 1 0 -2.7 0M209.7 65.2a1.35 1.35 0 1 0 2.7 0a1.35 1.35 0 1 0 -2.7 0M207.5 77.5a1.35 1.35 0 1 0 2.7 0a1.35 1.35 0 1 0 -2.7 0M210.8 81.5a1.35 1.35 0 1 0 2.7 0a1.35 1.35 0 1 0 -2.7 0M209.6 78.4a1.35 1.35 0 1 0 2.7 0a1.35 1.35 0 1 0 -2.7 0M208.4 88.1a1.35 1.35 0 1 0 2.7 0a1.35 1.35 0 1 0 -2.7 0M206.0 85.2a1.35 1.35 0 1 0 2.7 0a1.35 1.35 0 1 0 -2.7 0M207.2 74.9a1.35 1.35 0 1 0 2.7 0a1.35 1.35 0 1 0 -2.7 0M209.7 52.8a1.35 1.35 0 1 0 2.7 0a1.35 1.35 0 1 0 -2.7 0M209.0 68.7a1.35 1.35 0 1 0 2.7 0a1.35 1.35 0 1 0 -2.7 0M209.9 81.0a1.35 1.35 0 1 0 2.7 0a1.35 1.35 0 1 0 -2.7 0M206.5 80.0a1.35 1.35 0 1 0 2.7 0a1.35 1.35 0 1 0 -2.7 0M207.6 70.8a1.35 1.35 0 1 0 2.7 0a1.35 1.35 0 1 0 -2.7 0M207.1 72.8a1.35 1.35 0 1 0 2.7 0a1.35 1.35 0 1 0 -2.7 0M208.3 74.7a1.35 1.35 0 1 0 2.7 0a1.35 1.35 0 1 0 -2.7 0M208.0 80.3a1.35 1.35 0 1 0 2.7 0a1.35 1.35 0 1 0 -2.7 0M210.0 70.6a1.35 1.35 0 1 0 2.7 0a1.35 1.35 0 1 0 -2.7 0M210.4 72.8a1.35 1.35 0 1 0 2.7 0a1.35 1.35 0 1 0 -2.7 0M208.4 67.0a1.35 1.35 0 1 0 2.7 0a1.35 1.35 0 1 0 -2.7 0M213.1 81.2a1.35 1.35 0 1 0 2.7 0a1.35 1.35 0 1 0 -2.7 0M209.3 62.9a1.35 1.35 0 1 0 2.7 0a1.35 1.35 0 1 0 -2.7 0M207.3 69.4a1.35 1.35 0 1 0 2.7 0a1.35 1.35 0 1 0 -2.7 0M210.8 68.5a1.35 1.35 0 1 0 2.7 0a1.35 1.35 0 1 0 -2.7 0M211.4 86.7a1.35 1.35 0 1 0 2.7 0a1.35 1.35 0 1 0 -2.7 0M207.7 58.2a1.35 1.35 0 1 0 2.7 0a1.35 1.35 0 1 0 -2.7 0M210.3 72.2a1.35 1.35 0 1 0 2.7 0a1.35 1.35 0 1 0 -2.7 0M212.0 88.8a1.35 1.35 0 1 0 2.7 0a1.35 1.35 0 1 0 -2.7 0M210.0 72.0a1.35 1.35 0 1 0 2.7 0a1.35 1.35 0 1 0 -2.7 0M222.9 79.1a1.35 1.35 0 1 0 2.7 0a1.35 1.35 0 1 0 -2.7 0M223.6 74.7a1.35 1.35 0 1 0 2.7 0a1.35 1.35 0 1 0 -2.7 0M223.1 67.5a1.35 1.35 0 1 0 2.7 0a1.35 1.35 0 1 0 -2.7 0M225.1 77.5a1.35 1.35 0 1 0 2.7 0a1.35 1.35 0 1 0 -2.7 0M224.7 70.3a1.35 1.35 0 1 0 2.7 0a1.35 1.35 0 1 0 -2.7 0M219.5 68.8a1.35 1.35 0 1 0 2.7 0a1.35 1.35 0 1 0 -2.7 0M223.5 64.7a1.35 1.35 0 1 0 2.7 0a1.35 1.35 0 1 0 -2.7 0M221.8 69.0a1.35 1.35 0 1 0 2.7 0a1.35 1.35 0 1 0 -2.7 0M226.9 69.2a1.35 1.35 0 1 0 2.7 0a1.35 1.35 0 1 0 -2.7 0M225.1 68.8a1.35 1.35 0 1 0 2.7 0a1.35 1.35 0 1 0 -2.7 0M221.6 69.0a1.35 1.35 0 1 0 2.7 0a1.35 1.35 0 1 0 -2.7 0M222.9 67.9a1.35 1.35 0 1 0 2.7 0a1.35 1.35 0 1 0 -2.7 0M224.4 71.5a1.35 1.35 0 1 0 2.7 0a1.35 1.35 0 1 0 -2.7 0M224.2 65.5a1.35 1.35 0 1 0 2.7 0a1.35 1.35 0 1 0 -2.7 0M222.7 76.2a1.35 1.35 0 1 0 2.7 0a1.35 1.35 0 1 0 -2.7 0M223.8 71.8a1.35 1.35 0 1 0 2.7 0a1.35 1.35 0 1 0 -2.7 0M225.5 72.7a1.35 1.35 0 1 0 2.7 0a1.35 1.35 0 1 0 -2.7 0M226.3 68.0a1.35 1.35 0 1 0 2.7 0a1.35 1.35 0 1 0 -2.7 0M225.0 74.2a1.35 1.35 0 1 0 2.7 0a1.35 1.35 0 1 0 -2.7 0M223.3 74.9a1.35 1.35 0 1 0 2.7 0a1.35 1.35 0 1 0 -2.7 0M221.7 73.1a1.35 1.35 0 1 0 2.7 0a1.35 1.35 0 1 0 -2.7 0M226.7 65.2a1.35 1.35 0 1 0 2.7 0a1.35 1.35 0 1 0 -2.7 0M221.4 74.3a1.35 1.35 0 1 0 2.7 0a1.35 1.35 0 1 0 -2.7 0M219.4 72.3a1.35 1.35 0 1 0 2.7 0a1.35 1.35 0 1 0 -2.7 0M225.5 74.5a1.35 1.35 0 1 0 2.7 0a1.35 1.35 0 1 0 -2.7 0M232.8 59.1a1.35 1.35 0 1 0 2.7 0a1.35 1.35 0 1 0 -2.7 0M233.3 53.5a1.35 1.35 0 1 0 2.7 0a1.35 1.35 0 1 0 -2.7 0M233.2 52.2a1.35 1.35 0 1 0 2.7 0a1.35 1.35 0 1 0 -2.7 0M233.8 54.0a1.35 1.35 0 1 0 2.7 0a1.35 1.35 0 1 0 -2.7 0M234.3 47.3a1.35 1.35 0 1 0 2.7 0a1.35 1.35 0 1 0 -2.7 0M231.5 59.8a1.35 1.35 0 1 0 2.7 0a1.35 1.35 0 1 0 -2.7 0M234.7 56.8a1.35 1.35 0 1 0 2.7 0a1.35 1.35 0 1 0 -2.7 0M233.3 60.2a1.35 1.35 0 1 0 2.7 0a1.35 1.35 0 1 0 -2.7 0M231.6 61.5a1.35 1.35 0 1 0 2.7 0a1.35 1.35 0 1 0 -2.7 0M233.5 51.7a1.35 1.35 0 1 0 2.7 0a1.35 1.35 0 1 0 -2.7 0M231.8 53.4a1.35 1.35 0 1 0 2.7 0a1.35 1.35 0 1 0 -2.7 0M233.5 56.6a1.35 1.35 0 1 0 2.7 0a1.35 1.35 0 1 0 -2.7 0M238.5 44.0a1.35 1.35 0 1 0 2.7 0a1.35 1.35 0 1 0 -2.7 0M241.4 39.1a1.35 1.35 0 1 0 2.7 0a1.35 1.35 0 1 0 -2.7 0M238.4 49.4a1.35 1.35 0 1 0 2.7 0a1.35 1.35 0 1 0 -2.7 0M238.9 44.2a1.35 1.35 0 1 0 2.7 0a1.35 1.35 0 1 0 -2.7 0M239.5 41.6a1.35 1.35 0 1 0 2.7 0a1.35 1.35 0 1 0 -2.7 0M240.9 48.8a1.35 1.35 0 1 0 2.7 0a1.35 1.35 0 1 0 -2.7 0M241.6 46.2a1.35 1.35 0 1 0 2.7 0a1.35 1.35 0 1 0 -2.7 0M241.5 44.8a1.35 1.35 0 1 0 2.7 0a1.35 1.35 0 1 0 -2.7 0M252.3 40.3a1.35 1.35 0 1 0 2.7 0a1.35 1.35 0 1 0 -2.7 0M256.9 39.2a1.35 1.35 0 1 0 2.7 0a1.35 1.35 0 1 0 -2.7 0M252.8 33.4a1.35 1.35 0 1 0 2.7 0a1.35 1.35 0 1 0 -2.7 0M254.1 35.2a1.35 1.35 0 1 0 2.7 0a1.35 1.35 0 1 0 -2.7 0M260.2 35.4a1.35 1.35 0 1 0 2.7 0a1.35 1.35 0 1 0 -2.7 0M252.6 41.0a1.35 1.35 0 1 0 2.7 0a1.35 1.35 0 1 0 -2.7 0M238.8 49.7a1.35 1.35 0 1 0 2.7 0a1.35 1.35 0 1 0 -2.7 0M253.4 33.5a1.35 1.35 0 1 0 2.7 0a1.35 1.35 0 1 0 -2.7 0M268.9 20.3a1.35 1.35 0 1 0 2.7 0a1.35 1.35 0 1 0 -2.7 0M260.6 29.9a1.35 1.35 0 1 0 2.7 0a1.35 1.35 0 1 0 -2.7 0M257.4 36.7a1.35 1.35 0 1 0 2.7 0a1.35 1.35 0 1 0 -2.7 0M264.6 28.0a1.35 1.35 0 1 0 2.7 0a1.35 1.35 0 1 0 -2.7 0M249.7 39.5a1.35 1.35 0 1 0 2.7 0a1.35 1.35 0 1 0 -2.7 0M259.4 31.1a1.35 1.35 0 1 0 2.7 0a1.35 1.35 0 1 0 -2.7 0M259.0 36.0a1.35 1.35 0 1 0 2.7 0a1.35 1.35 0 1 0 -2.7 0M255.1 35.1a1.35 1.35 0 1 0 2.7 0a1.35 1.35 0 1 0 -2.7 0M253.7 41.3a1.35 1.35 0 1 0 2.7 0a1.35 1.35 0 1 0 -2.7 0M253.3 36.2a1.35 1.35 0 1 0 2.7 0a1.35 1.35 0 1 0 -2.7 0M259.6 27.9a1.35 1.35 0 1 0 2.7 0a1.35 1.35 0 1 0 -2.7 0M265.1 27.4a1.35 1.35 0 1 0 2.7 0a1.35 1.35 0 1 0 -2.7 0M256.8 38.2a1.35 1.35 0 1 0 2.7 0a1.35 1.35 0 1 0 -2.7 0M256.1 31.6a1.35 1.35 0 1 0 2.7 0a1.35 1.35 0 1 0 -2.7 0M248.4 40.8a1.35 1.35 0 1 0 2.7 0a1.35 1.35 0 1 0 -2.7 0M255.2 30.8a1.35 1.35 0 1 0 2.7 0a1.35 1.35 0 1 0 -2.7 0M258.0 31.5a1.35 1.35 0 1 0 2.7 0a1.35 1.35 0 1 0 -2.7 0M265.4 24.5a1.35 1.35 0 1 0 2.7 0a1.35 1.35 0 1 0 -2.7 0M245.0 43.5a1.35 1.35 0 1 0 2.7 0a1.35 1.35 0 1 0 -2.7 0M259.0 28.8a1.35 1.35 0 1 0 2.7 0a1.35 1.35 0 1 0 -2.7 0M261.1 27.0a1.35 1.35 0 1 0 2.7 0a1.35 1.35 0 1 0 -2.7 0M254.6 39.2a1.35 1.35 0 1 0 2.7 0a1.35 1.35 0 1 0 -2.7 0M247.3 41.8a1.35 1.35 0 1 0 2.7 0a1.35 1.35 0 1 0 -2.7 0M259.7 34.8a1.35 1.35 0 1 0 2.7 0a1.35 1.35 0 1 0 -2.7 0M263.5 30.7a1.35 1.35 0 1 0 2.7 0a1.35 1.35 0 1 0 -2.7 0M258.1 35.3a1.35 1.35 0 1 0 2.7 0a1.35 1.35 0 1 0 -2.7 0M253.6 35.6a1.35 1.35 0 1 0 2.7 0a1.35 1.35 0 1 0 -2.7 0M256.8 30.2a1.35 1.35 0 1 0 2.7 0a1.35 1.35 0 1 0 -2.7 0M256.2 39.2a1.35 1.35 0 1 0 2.7 0a1.35 1.35 0 1 0 -2.7 0M257.3 35.1a1.35 1.35 0 1 0 2.7 0a1.35 1.35 0 1 0 -2.7 0M246.2 35.0a1.35 1.35 0 1 0 2.7 0a1.35 1.35 0 1 0 -2.7 0M245.3 33.1a1.35 1.35 0 1 0 2.7 0a1.35 1.35 0 1 0 -2.7 0M246.4 38.0a1.35 1.35 0 1 0 2.7 0a1.35 1.35 0 1 0 -2.7 0M245.7 33.5a1.35 1.35 0 1 0 2.7 0a1.35 1.35 0 1 0 -2.7 0M245.6 46.2a1.35 1.35 0 1 0 2.7 0a1.35 1.35 0 1 0 -2.7 0M245.2 37.9a1.35 1.35 0 1 0 2.7 0a1.35 1.35 0 1 0 -2.7 0M245.5 33.1a1.35 1.35 0 1 0 2.7 0a1.35 1.35 0 1 0 -2.7 0M246.5 42.1a1.35 1.35 0 1 0 2.7 0a1.35 1.35 0 1 0 -2.7 0M245.6 44.1a1.35 1.35 0 1 0 2.7 0a1.35 1.35 0 1 0 -2.7 0M246.0 36.9a1.35 1.35 0 1 0 2.7 0a1.35 1.35 0 1 0 -2.7 0M245.9 43.4a1.35 1.35 0 1 0 2.7 0a1.35 1.35 0 1 0 -2.7 0M245.8 38.7a1.35 1.35 0 1 0 2.7 0a1.35 1.35 0 1 0 -2.7 0M246.4 36.0a1.35 1.35 0 1 0 2.7 0a1.35 1.35 0 1 0 -2.7 0M246.7 40.7a1.35 1.35 0 1 0 2.7 0a1.35 1.35 0 1 0 -2.7 0M246.4 29.7a1.35 1.35 0 1 0 2.7 0a1.35 1.35 0 1 0 -2.7 0M246.8 33.1a1.35 1.35 0 1 0 2.7 0a1.35 1.35 0 1 0 -2.7 0M246.2 47.3a1.35 1.35 0 1 0 2.7 0a1.35 1.35 0 1 0 -2.7 0M246.5 33.3a1.35 1.35 0 1 0 2.7 0a1.35 1.35 0 1 0 -2.7 0M252.8 46.5a1.35 1.35 0 1 0 2.7 0a1.35 1.35 0 1 0 -2.7 0M250.4 44.7a1.35 1.35 0 1 0 2.7 0a1.35 1.35 0 1 0 -2.7 0M251.4 50.7a1.35 1.35 0 1 0 2.7 0a1.35 1.35 0 1 0 -2.7 0M253.2 46.6a1.35 1.35 0 1 0 2.7 0a1.35 1.35 0 1 0 -2.7 0M252.1 41.0a1.35 1.35 0 1 0 2.7 0a1.35 1.35 0 1 0 -2.7 0M251.3 33.6a1.35 1.35 0 1 0 2.7 0a1.35 1.35 0 1 0 -2.7 0M252.7 36.8a1.35 1.35 0 1 0 2.7 0a1.35 1.35 0 1 0 -2.7 0M251.6 38.2a1.35 1.35 0 1 0 2.7 0a1.35 1.35 0 1 0 -2.7 0M252.4 38.1a1.35 1.35 0 1 0 2.7 0a1.35 1.35 0 1 0 -2.7 0M252.0 41.7a1.35 1.35 0 1 0 2.7 0a1.35 1.35 0 1 0 -2.7 0M251.9 52.5a1.35 1.35 0 1 0 2.7 0a1.35 1.35 0 1 0 -2.7 0M252.1 39.9a1.35 1.35 0 1 0 2.7 0a1.35 1.35 0 1 0 -2.7 0M252.9 45.9a1.35 1.35 0 1 0 2.7 0a1.35 1.35 0 1 0 -2.7 0M251.5 45.5a1.35 1.35 0 1 0 2.7 0a1.35 1.35 0 1 0 -2.7 0M251.9 33.1a1.35 1.35 0 1 0 2.7 0a1.35 1.35 0 1 0 -2.7 0M252.5 41.6a1.35 1.35 0 1 0 2.7 0a1.35 1.35 0 1 0 -2.7 0M253.4 44.4a1.35 1.35 0 1 0 2.7 0a1.35 1.35 0 1 0 -2.7 0M252.5 35.5a1.35 1.35 0 1 0 2.7 0a1.35 1.35 0 1 0 -2.7 0M252.2 34.1a1.35 1.35 0 1 0 2.7 0a1.35 1.35 0 1 0 -2.7 0M252.0 44.6a1.35 1.35 0 1 0 2.7 0a1.35 1.35 0 1 0 -2.7 0M252.1 36.3a1.35 1.35 0 1 0 2.7 0a1.35 1.35 0 1 0 -2.7 0M253.4 47.4a1.35 1.35 0 1 0 2.7 0a1.35 1.35 0 1 0 -2.7 0M258.4 32.5a1.35 1.35 0 1 0 2.7 0a1.35 1.35 0 1 0 -2.7 0M259.0 40.8a1.35 1.35 0 1 0 2.7 0a1.35 1.35 0 1 0 -2.7 0M256.9 38.5a1.35 1.35 0 1 0 2.7 0a1.35 1.35 0 1 0 -2.7 0M257.3 38.6a1.35 1.35 0 1 0 2.7 0a1.35 1.35 0 1 0 -2.7 0M257.0 43.7a1.35 1.35 0 1 0 2.7 0a1.35 1.35 0 1 0 -2.7 0M258.2 36.1a1.35 1.35 0 1 0 2.7 0a1.35 1.35 0 1 0 -2.7 0M258.4 25.8a1.35 1.35 0 1 0 2.7 0a1.35 1.35 0 1 0 -2.7 0M259.9 26.7a1.35 1.35 0 1 0 2.7 0a1.35 1.35 0 1 0 -2.7 0M257.1 36.0a1.35 1.35 0 1 0 2.7 0a1.35 1.35 0 1 0 -2.7 0M259.7 33.6a1.35 1.35 0 1 0 2.7 0a1.35 1.35 0 1 0 -2.7 0M257.1 36.3a1.35 1.35 0 1 0 2.7 0a1.35 1.35 0 1 0 -2.7 0M258.0 31.6a1.35 1.35 0 1 0 2.7 0a1.35 1.35 0 1 0 -2.7 0M257.3 37.1a1.35 1.35 0 1 0 2.7 0a1.35 1.35 0 1 0 -2.7 0M256.2 38.4a1.35 1.35 0 1 0 2.7 0a1.35 1.35 0 1 0 -2.7 0M258.0 28.1a1.35 1.35 0 1 0 2.7 0a1.35 1.35 0 1 0 -2.7 0M257.9 34.4a1.35 1.35 0 1 0 2.7 0a1.35 1.35 0 1 0 -2.7 0M256.9 29.3a1.35 1.35 0 1 0 2.7 0a1.35 1.35 0 1 0 -2.7 0M258.4 30.7a1.35 1.35 0 1 0 2.7 0a1.35 1.35 0 1 0 -2.7 0M258.1 26.5a1.35 1.35 0 1 0 2.7 0a1.35 1.35 0 1 0 -2.7 0M257.8 38.0a1.35 1.35 0 1 0 2.7 0a1.35 1.35 0 1 0 -2.7 0M257.9 38.6a1.35 1.35 0 1 0 2.7 0a1.35 1.35 0 1 0 -2.7 0M257.0 41.3a1.35 1.35 0 1 0 2.7 0a1.35 1.35 0 1 0 -2.7 0M257.1 29.6a1.35 1.35 0 1 0 2.7 0a1.35 1.35 0 1 0 -2.7 0M257.7 41.0a1.35 1.35 0 1 0 2.7 0a1.35 1.35 0 1 0 -2.7 0M257.4 43.0a1.35 1.35 0 1 0 2.7 0a1.35 1.35 0 1 0 -2.7 0M262.0 31.9a1.35 1.35 0 1 0 2.7 0a1.35 1.35 0 1 0 -2.7 0M262.7 31.5a1.35 1.35 0 1 0 2.7 0a1.35 1.35 0 1 0 -2.7 0M262.6 35.6a1.35 1.35 0 1 0 2.7 0a1.35 1.35 0 1 0 -2.7 0M262.3 31.9a1.35 1.35 0 1 0 2.7 0a1.35 1.35 0 1 0 -2.7 0M262.1 27.7a1.35 1.35 0 1 0 2.7 0a1.35 1.35 0 1 0 -2.7 0M263.5 29.3a1.35 1.35 0 1 0 2.7 0a1.35 1.35 0 1 0 -2.7 0M262.8 34.3a1.35 1.35 0 1 0 2.7 0a1.35 1.35 0 1 0 -2.7 0M261.7 32.6a1.35 1.35 0 1 0 2.7 0a1.35 1.35 0 1 0 -2.7 0M262.8 35.1a1.35 1.35 0 1 0 2.7 0a1.35 1.35 0 1 0 -2.7 0M262.3 30.5a1.35 1.35 0 1 0 2.7 0a1.35 1.35 0 1 0 -2.7 0M262.1 31.7a1.35 1.35 0 1 0 2.7 0a1.35 1.35 0 1 0 -2.7 0M262.4 34.9a1.35 1.35 0 1 0 2.7 0a1.35 1.35 0 1 0 -2.7 0M262.2 36.6a1.35 1.35 0 1 0 2.7 0a1.35 1.35 0 1 0 -2.7 0M262.6 31.5a1.35 1.35 0 1 0 2.7 0a1.35 1.35 0 1 0 -2.7 0M262.1 32.3a1.35 1.35 0 1 0 2.7 0a1.35 1.35 0 1 0 -2.7 0M266.7 33.5a1.35 1.35 0 1 0 2.7 0a1.35 1.35 0 1 0 -2.7 0M265.7 36.2a1.35 1.35 0 1 0 2.7 0a1.35 1.35 0 1 0 -2.7 0M267.6 30.3a1.35 1.35 0 1 0 2.7 0a1.35 1.35 0 1 0 -2.7 0M265.5 26.6a1.35 1.35 0 1 0 2.7 0a1.35 1.35 0 1 0 -2.7 0M266.3 23.0a1.35 1.35 0 1 0 2.7 0a1.35 1.35 0 1 0 -2.7 0M266.6 24.5a1.35 1.35 0 1 0 2.7 0a1.35 1.35 0 1 0 -2.7 0M266.3 26.7a1.35 1.35 0 1 0 2.7 0a1.35 1.35 0 1 0 -2.7 0M267.5 32.5a1.35 1.35 0 1 0 2.7 0a1.35 1.35 0 1 0 -2.7 0M264.7 29.8a1.35 1.35 0 1 0 2.7 0a1.35 1.35 0 1 0 -2.7 0M266.8 31.7a1.35 1.35 0 1 0 2.7 0a1.35 1.35 0 1 0 -2.7 0M265.2 27.4a1.35 1.35 0 1 0 2.7 0a1.35 1.35 0 1 0 -2.7 0M266.8 30.7a1.35 1.35 0 1 0 2.7 0a1.35 1.35 0 1 0 -2.7 0M268.2 32.4a1.35 1.35 0 1 0 2.7 0a1.35 1.35 0 1 0 -2.7 0M264.2 20.3a1.35 1.35 0 1 0 2.7 0a1.35 1.35 0 1 0 -2.7 0M266.0 29.3a1.35 1.35 0 1 0 2.7 0a1.35 1.35 0 1 0 -2.7 0M270.7 23.6a1.35 1.35 0 1 0 2.7 0a1.35 1.35 0 1 0 -2.7 0M271.4 22.5a1.35 1.35 0 1 0 2.7 0a1.35 1.35 0 1 0 -2.7 0M85.2 165.7a1.35 1.35 0 1 0 2.7 0a1.35 1.35 0 1 0 -2.7 0M84.6 170.0a1.35 1.35 0 1 0 2.7 0a1.35 1.35 0 1 0 -2.7 0M86.7 167.9a1.35 1.35 0 1 0 2.7 0a1.35 1.35 0 1 0 -2.7 0M103.0 164.1a1.35 1.35 0 1 0 2.7 0a1.35 1.35 0 1 0 -2.7 0M107.6 159.7a1.35 1.35 0 1 0 2.7 0a1.35 1.35 0 1 0 -2.7 0M112.1 161.1a1.35 1.35 0 1 0 2.7 0a1.35 1.35 0 1 0 -2.7 0M108.9 165.7a1.35 1.35 0 1 0 2.7 0a1.35 1.35 0 1 0 -2.7 0M116.5 190.9a1.35 1.35 0 1 0 2.7 0a1.35 1.35 0 1 0 -2.7 0M103.0 196.8a1.35 1.35 0 1 0 2.7 0a1.35 1.35 0 1 0 -2.7 0M106.8 199.0a1.35 1.35 0 1 0 2.7 0a1.35 1.35 0 1 0 -2.7 0M112.1 199.0a1.35 1.35 0 1 0 2.7 0a1.35 1.35 0 1 0 -2.7 0M113.5 197.6a1.35 1.35 0 1 0 2.7 0a1.35 1.35 0 1 0 -2.7 0M100.9 201.2a1.35 1.35 0 1 0 2.7 0a1.35 1.35 0 1 0 -2.7 0M93.4 204.1a1.35 1.35 0 1 0 2.7 0a1.35 1.35 0 1 0 -2.7 0M140.8 158.9a1.35 1.35 0 1 0 2.7 0a1.35 1.35 0 1 0 -2.7 0M181.7 111.9a1.35 1.35 0 1 0 2.7 0a1.35 1.35 0 1 0 -2.7 0M184.6 114.9a1.35 1.35 0 1 0 2.7 0a1.35 1.35 0 1 0 -2.7 0M189.9 112.7a1.35 1.35 0 1 0 2.7 0a1.35 1.35 0 1 0 -2.7 0M189.9 116.5a1.35 1.35 0 1 0 2.7 0a1.35 1.35 0 1 0 -2.7 0M189.9 123.0a1.35 1.35 0 1 0 2.7 0a1.35 1.35 0 1 0 -2.7 0M206.0 120.1a1.35 1.35 0 1 0 2.7 0a1.35 1.35 0 1 0 -2.7 0M203.9 95.7a1.35 1.35 0 1 0 2.7 0a1.35 1.35 0 1 0 -2.7 0M203.9 100.8a1.35 1.35 0 1 0 2.7 0a1.35 1.35 0 1 0 -2.7 0M209.2 93.5a1.35 1.35 0 1 0 2.7 0a1.35 1.35 0 1 0 -2.7 0M211.3 105.8a1.35 1.35 0 1 0 2.7 0a1.35 1.35 0 1 0 -2.7 0M211.3 107.8a1.35 1.35 0 1 0 2.7 0a1.35 1.35 0 1 0 -2.7 0M218.6 52.0a1.35 1.35 0 1 0 2.7 0a1.35 1.35 0 1 0 -2.7 0M146.7 146.0a1.35 1.35 0 1 0 2.7 0a1.35 1.35 0 1 0 -2.7 0M148.7 147.0a1.35 1.35 0 1 0 2.7 0a1.35 1.35 0 1 0 -2.7 0M150.7 146.5a1.35 1.35 0 1 0 2.7 0a1.35 1.35 0 1 0 -2.7 0M152.7 147.5a1.35 1.35 0 1 0 2.7 0a1.35 1.35 0 1 0 -2.7 0M156.6 144.5a1.35 1.35 0 1 0 2.7 0a1.35 1.35 0 1 0 -2.7 0M163.2 140.6a1.35 1.35 0 1 0 2.7 0a1.35 1.35 0 1 0 -2.7 0M162.7 140.0a1.35 1.35 0 1 0 2.7 0a1.35 1.35 0 1 0 -2.7 0M167.7 111.0a1.35 1.35 0 1 0 2.7 0a1.35 1.35 0 1 0 -2.7 0M117.6 153.5a1.35 1.35 0 1 0 2.7 0a1.35 1.35 0 1 0 -2.7 0M142.1 135.6a1.35 1.35 0 1 0 2.7 0a1.35 1.35 0 1 0 -2.7 0"/><line x1="74.8" y1="208.9" x2="284.6" y2="10.6" stroke="#000" stroke-width="2.4" stroke-dasharray="7.6 4.5"/>
<clipPath id="clipb"><rect x="326.4" y="10.6" width="209.70" height="198.30"/></clipPath><path clip-path="url(#clipb)" fill="#ff0000" d="M511.3 30.5h3.1v3.1h-3.1zM341.4 191.9h3.1v3.1h-3.1zM487.8 53.5h3.1v3.1h-3.1zM384.9 152.9h3.1v3.1h-3.1zM443.0 97.2h3.1v3.1h-3.1zM355.7 179.4h3.1v3.1h-3.1zM408.8 129.9h3.1v3.1h-3.1zM518.9 22.3h3.1v3.1h-3.1zM510.0 33.9h3.1v3.1h-3.1zM377.2 158.4h3.1v3.1h-3.1zM331.9 199.0h3.1v3.1h-3.1zM387.0 148.3h3.1v3.1h-3.1zM399.0 135.8h3.1v3.1h-3.1zM434.2 105.2h3.1v3.1h-3.1zM370.9 162.4h3.1v3.1h-3.1zM351.5 181.9h3.1v3.1h-3.1zM424.4 110.9h3.1v3.1h-3.1zM360.3 173.8h3.1v3.1h-3.1zM499.1 41.8h3.1v3.1h-3.1zM501.7 42.6h3.1v3.1h-3.1zM473.6 66.3h3.1v3.1h-3.1zM516.2 27.9h3.1v3.1h-3.1zM512.4 28.6h3.1v3.1h-3.1zM464.3 73.2h3.1v3.1h-3.1zM414.8 124.1h3.1v3.1h-3.1zM505.2 37.1h3.1v3.1h-3.1zM422.5 114.3h3.1v3.1h-3.1zM497.0 45.8h3.1v3.1h-3.1zM500.3 43.4h3.1v3.1h-3.1zM504.3 37.1h3.1v3.1h-3.1zM466.0 75.0h3.1v3.1h-3.1zM388.2 147.4h3.1v3.1h-3.1zM461.3 76.6h3.1v3.1h-3.1zM377.1 154.9h3.1v3.1h-3.1zM502.6 40.7h3.1v3.1h-3.1zM462.6 73.4h3.1v3.1h-3.1zM423.2 116.6h3.1v3.1h-3.1zM439.5 99.2h3.1v3.1h-3.1zM385.7 149.3h3.1v3.1h-3.1zM507.0 33.2h3.1v3.1h-3.1zM446.4 89.8h3.1v3.1h-3.1zM466.4 72.1h3.1v3.1h-3.1zM501.9 39.0h3.1v3.1h-3.1zM336.3 194.1h3.1v3.1h-3.1zM452.2 87.1h3.1v3.1h-3.1zM495.6 44.8h3.1v3.1h-3.1zM345.6 190.8h3.1v3.1h-3.1zM372.6 162.6h3.1v3.1h-3.1zM365.9 167.3h3.1v3.1h-3.1zM464.7 76.3h3.1v3.1h-3.1zM331.1 202.1h3.1v3.1h-3.1zM456.1 82.5h3.1v3.1h-3.1zM341.0 191.7h3.1v3.1h-3.1zM467.1 72.9h3.1v3.1h-3.1zM329.0 203.6h3.1v3.1h-3.1zM355.5 175.5h3.1v3.1h-3.1zM360.7 174.0h3.1v3.1h-3.1zM333.3 200.9h3.1v3.1h-3.1zM517.9 24.5h3.1v3.1h-3.1zM392.0 143.5h3.1v3.1h-3.1zM444.8 93.9h3.1v3.1h-3.1zM390.6 145.9h3.1v3.1h-3.1zM330.9 204.2h3.1v3.1h-3.1zM469.2 70.0h3.1v3.1h-3.1zM500.8 40.9h3.1v3.1h-3.1zM462.4 80.4h3.1v3.1h-3.1zM417.1 119.8h3.1v3.1h-3.1zM386.5 146.7h3.1v3.1h-3.1zM344.8 191.6h3.1v3.1h-3.1zM349.7 182.8h3.1v3.1h-3.1zM438.9 101.0h3.1v3.1h-3.1zM352.9 179.6h3.1v3.1h-3.1zM512.0 30.5h3.1v3.1h-3.1zM406.7 127.8h3.1v3.1h-3.1zM328.4 204.8h3.1v3.1h-3.1zM335.9 197.2h3.1v3.1h-3.1zM331.4 200.8h3.1v3.1h-3.1zM448.7 89.6h3.1v3.1h-3.1zM424.0 109.9h3.1v3.1h-3.1zM518.8 24.3h3.1v3.1h-3.1zM370.2 165.6h3.1v3.1h-3.1zM440.2 97.9h3.1v3.1h-3.1zM446.6 91.5h3.1v3.1h-3.1zM374.9 162.4h3.1v3.1h-3.1zM407.3 129.5h3.1v3.1h-3.1zM331.8 200.8h3.1v3.1h-3.1zM404.6 130.0h3.1v3.1h-3.1zM371.8 161.3h3.1v3.1h-3.1zM344.3 188.5h3.1v3.1h-3.1zM367.2 166.2h3.1v3.1h-3.1zM426.4 112.6h3.1v3.1h-3.1zM450.0 88.7h3.1v3.1h-3.1zM366.3 164.8h3.1v3.1h-3.1zM467.0 75.2h3.1v3.1h-3.1zM409.4 129.4h3.1v3.1h-3.1zM334.8 198.1h3.1v3.1h-3.1zM406.4 131.3h3.1v3.1h-3.1zM343.1 190.2h3.1v3.1h-3.1zM481.4 60.6h3.1v3.1h-3.1zM504.6 36.0h3.1v3.1h-3.1zM443.9 95.9h3.1v3.1h-3.1zM397.4 134.3h3.1v3.1h-3.1zM328.6 204.1h3.1v3.1h-3.1zM384.5 151.6h3.1v3.1h-3.1zM488.8 52.5h3.1v3.1h-3.1zM412.9 124.3h3.1v3.1h-3.1zM404.9 132.7h3.1v3.1h-3.1zM439.7 98.7h3.1v3.1h-3.1zM339.2 194.1h3.1v3.1h-3.1zM507.2 33.4h3.1v3.1h-3.1zM339.8 193.2h3.1v3.1h-3.1zM436.3 103.0h3.1v3.1h-3.1zM401.3 137.7h3.1v3.1h-3.1zM401.9 133.9h3.1v3.1h-3.1zM348.6 184.4h3.1v3.1h-3.1zM490.6 50.1h3.1v3.1h-3.1zM449.9 86.8h3.1v3.1h-3.1zM329.7 203.4h3.1v3.1h-3.1zM453.4 85.4h3.1v3.1h-3.1zM422.0 118.0h3.1v3.1h-3.1zM394.6 144.1h3.1v3.1h-3.1zM377.3 157.0h3.1v3.1h-3.1zM427.5 114.2h3.1v3.1h-3.1zM481.7 58.5h3.1v3.1h-3.1zM506.6 34.8h3.1v3.1h-3.1zM370.0 165.8h3.1v3.1h-3.1zM420.2 117.3h3.1v3.1h-3.1zM457.3 80.4h3.1v3.1h-3.1zM504.0 40.5h3.1v3.1h-3.1zM343.6 191.2h3.1v3.1h-3.1zM394.3 140.8h3.1v3.1h-3.1zM406.1 130.5h3.1v3.1h-3.1zM337.9 192.1h3.1v3.1h-3.1zM517.7 23.3h3.1v3.1h-3.1zM451.2 86.9h3.1v3.1h-3.1zM370.0 163.7h3.1v3.1h-3.1zM455.7 84.4h3.1v3.1h-3.1zM427.0 112.3h3.1v3.1h-3.1zM346.7 190.4h3.1v3.1h-3.1zM472.2 69.0h3.1v3.1h-3.1zM343.6 192.1h3.1v3.1h-3.1zM375.0 160.2h3.1v3.1h-3.1zM499.4 44.7h3.1v3.1h-3.1zM403.7 132.2h3.1v3.1h-3.1zM518.9 23.4h3.1v3.1h-3.1zM353.1 182.7h3.1v3.1h-3.1zM410.9 123.9h3.1v3.1h-3.1zM496.8 44.3h3.1v3.1h-3.1zM360.0 175.9h3.1v3.1h-3.1zM403.8 132.8h3.1v3.1h-3.1zM463.4 74.0h3.1v3.1h-3.1zM417.0 121.2h3.1v3.1h-3.1zM512.5 31.2h3.1v3.1h-3.1zM453.3 83.6h3.1v3.1h-3.1zM473.4 66.2h3.1v3.1h-3.1zM446.0 93.7h3.1v3.1h-3.1zM403.4 135.3h3.1v3.1h-3.1zM448.7 94.1h3.1v3.1h-3.1zM327.1 207.6h3.1v3.1h-3.1zM497.1 43.9h3.1v3.1h-3.1zM451.6 87.3h3.1v3.1h-3.1zM508.8 33.7h3.1v3.1h-3.1zM467.1 75.5h3.1v3.1h-3.1zM497.4 46.3h3.1v3.1h-3.1zM344.4 187.7h3.1v3.1h-3.1zM363.8 173.0h3.1v3.1h-3.1zM470.0 71.0h3.1v3.1h-3.1zM481.7 59.6h3.1v3.1h-3.1zM351.7 183.2h3.1v3.1h-3.1zM374.3 161.7h3.1v3.1h-3.1zM435.3 104.0h3.1v3.1h-3.1zM513.4 28.8h3.1v3.1h-3.1zM339.1 192.1h3.1v3.1h-3.1zM488.1 52.9h3.1v3.1h-3.1zM453.3 85.9h3.1v3.1h-3.1zM456.5 84.7h3.1v3.1h-3.1zM390.2 145.8h3.1v3.1h-3.1zM330.2 200.4h3.1v3.1h-3.1zM340.4 192.6h3.1v3.1h-3.1zM471.2 70.0h3.1v3.1h-3.1zM477.8 64.7h3.1v3.1h-3.1zM478.4 60.8h3.1v3.1h-3.1zM493.4 47.4h3.1v3.1h-3.1zM399.3 136.3h3.1v3.1h-3.1zM415.5 121.7h3.1v3.1h-3.1zM433.6 104.3h3.1v3.1h-3.1zM513.4 30.3h3.1v3.1h-3.1zM399.4 135.4h3.1v3.1h-3.1zM411.2 124.8h3.1v3.1h-3.1zM451.4 88.6h3.1v3.1h-3.1zM419.2 121.5h3.1v3.1h-3.1zM339.8 194.0h3.1v3.1h-3.1zM485.6 56.1h3.1v3.1h-3.1zM480.1 58.4h3.1v3.1h-3.1zM452.3 89.2h3.1v3.1h-3.1zM343.0 188.3h3.1v3.1h-3.1zM448.4 92.1h3.1v3.1h-3.1zM490.8 49.2h3.1v3.1h-3.1zM480.5 61.1h3.1v3.1h-3.1zM370.3 165.4h3.1v3.1h-3.1zM414.1 122.8h3.1v3.1h-3.1zM511.6 29.5h3.1v3.1h-3.1zM346.7 186.1h3.1v3.1h-3.1zM396.0 141.5h3.1v3.1h-3.1zM386.9 147.1h3.1v3.1h-3.1zM357.3 175.8h3.1v3.1h-3.1zM411.1 126.7h3.1v3.1h-3.1zM504.6 34.1h3.1v3.1h-3.1zM411.0 128.2h3.1v3.1h-3.1zM388.5 150.0h3.1v3.1h-3.1zM344.3 188.9h3.1v3.1h-3.1zM457.2 81.2h3.1v3.1h-3.1zM397.7 140.2h3.1v3.1h-3.1zM370.3 162.1h3.1v3.1h-3.1zM482.5 59.3h3.1v3.1h-3.1zM485.5 56.7h3.1v3.1h-3.1zM391.6 141.6h3.1v3.1h-3.1zM422.9 117.2h3.1v3.1h-3.1zM459.4 77.6h3.1v3.1h-3.1zM471.3 69.7h3.1v3.1h-3.1zM494.4 44.6h3.1v3.1h-3.1zM515.8 27.8h3.1v3.1h-3.1zM381.7 155.3h3.1v3.1h-3.1zM396.5 141.2h3.1v3.1h-3.1zM401.9 132.7h3.1v3.1h-3.1zM393.9 138.5h3.1v3.1h-3.1zM417.8 118.7h3.1v3.1h-3.1zM512.2 30.8h3.1v3.1h-3.1zM349.6 182.5h3.1v3.1h-3.1zM394.9 140.9h3.1v3.1h-3.1zM503.8 36.1h3.1v3.1h-3.1zM410.0 128.7h3.1v3.1h-3.1zM430.7 107.0h3.1v3.1h-3.1zM400.9 132.4h3.1v3.1h-3.1zM380.4 155.4h3.1v3.1h-3.1zM386.5 149.7h3.1v3.1h-3.1zM505.5 35.8h3.1v3.1h-3.1zM364.7 169.2h3.1v3.1h-3.1zM373.8 162.1h3.1v3.1h-3.1zM391.7 143.6h3.1v3.1h-3.1zM372.9 161.8h3.1v3.1h-3.1zM390.5 143.1h3.1v3.1h-3.1zM397.6 138.5h3.1v3.1h-3.1zM352.9 181.3h3.1v3.1h-3.1zM490.8 52.9h3.1v3.1h-3.1zM350.7 181.7h3.1v3.1h-3.1zM426.8 110.1h3.1v3.1h-3.1zM474.7 66.9h3.1v3.1h-3.1zM443.9 99.1h3.1v3.1h-3.1zM401.4 131.6h3.1v3.1h-3.1zM417.2 121.0h3.1v3.1h-3.1zM488.2 53.8h3.1v3.1h-3.1zM441.4 98.8h3.1v3.1h-3.1zM516.9 26.7h3.1v3.1h-3.1zM517.7 24.0h3.1v3.1h-3.1zM405.2 132.9h3.1v3.1h-3.1zM427.2 109.8h3.1v3.1h-3.1zM518.9 23.6h3.1v3.1h-3.1zM349.9 181.5h3.1v3.1h-3.1zM503.3 39.5h3.1v3.1h-3.1zM339.9 194.1h3.1v3.1h-3.1zM326.6 203.1h3.1v3.1h-3.1zM345.5 188.4h3.1v3.1h-3.1zM353.5 179.5h3.1v3.1h-3.1zM455.5 80.3h3.1v3.1h-3.1zM451.5 85.3h3.1v3.1h-3.1zM334.6 197.2h3.1v3.1h-3.1zM418.7 119.3h3.1v3.1h-3.1zM433.8 103.1h3.1v3.1h-3.1zM336.6 194.8h3.1v3.1h-3.1zM363.8 168.0h3.1v3.1h-3.1zM426.8 112.4h3.1v3.1h-3.1zM457.8 81.0h3.1v3.1h-3.1zM420.8 117.2h3.1v3.1h-3.1zM350.5 182.5h3.1v3.1h-3.1zM366.2 167.8h3.1v3.1h-3.1zM335.2 197.2h3.1v3.1h-3.1zM446.3 91.0h3.1v3.1h-3.1zM492.3 46.9h3.1v3.1h-3.1zM423.7 115.3h3.1v3.1h-3.1zM503.7 37.9h3.1v3.1h-3.1zM484.3 55.9h3.1v3.1h-3.1zM447.2 91.3h3.1v3.1h-3.1zM382.8 151.0h3.1v3.1h-3.1zM408.9 129.3h3.1v3.1h-3.1zM480.4 59.5h3.1v3.1h-3.1zM483.1 59.4h3.1v3.1h-3.1zM380.3 155.6h3.1v3.1h-3.1zM474.1 65.1h3.1v3.1h-3.1zM462.0 77.8h3.1v3.1h-3.1zM461.2 78.6h3.1v3.1h-3.1zM432.4 105.9h3.1v3.1h-3.1zM364.2 169.4h3.1v3.1h-3.1zM450.7 86.4h3.1v3.1h-3.1zM446.8 92.1h3.1v3.1h-3.1zM417.5 122.2h3.1v3.1h-3.1zM334.2 198.1h3.1v3.1h-3.1zM487.8 56.2h3.1v3.1h-3.1zM441.5 96.0h3.1v3.1h-3.1zM346.0 187.1h3.1v3.1h-3.1zM448.9 91.1h3.1v3.1h-3.1zM511.3 31.4h3.1v3.1h-3.1zM515.6 25.6h3.1v3.1h-3.1zM381.8 154.6h3.1v3.1h-3.1zM365.6 167.7h3.1v3.1h-3.1zM378.9 158.4h3.1v3.1h-3.1zM500.8 42.4h3.1v3.1h-3.1zM405.9 131.4h3.1v3.1h-3.1zM465.4 76.7h3.1v3.1h-3.1zM348.6 184.2h3.1v3.1h-3.1zM461.8 78.3h3.1v3.1h-3.1zM366.7 164.4h3.1v3.1h-3.1zM389.8 147.4h3.1v3.1h-3.1zM427.3 110.8h3.1v3.1h-3.1zM505.0 36.2h3.1v3.1h-3.1zM460.1 76.9h3.1v3.1h-3.1zM478.2 64.0h3.1v3.1h-3.1zM392.3 143.0h3.1v3.1h-3.1zM417.1 120.1h3.1v3.1h-3.1zM417.7 118.5h3.1v3.1h-3.1zM362.3 173.9h3.1v3.1h-3.1zM385.2 149.9h3.1v3.1h-3.1zM358.1 178.4h3.1v3.1h-3.1zM368.2 168.3h3.1v3.1h-3.1zM444.9 95.6h3.1v3.1h-3.1zM457.9 84.3h3.1v3.1h-3.1zM384.9 149.8h3.1v3.1h-3.1zM383.2 149.3h3.1v3.1h-3.1zM327.3 204.3h3.1v3.1h-3.1zM385.9 150.4h3.1v3.1h-3.1zM387.0 148.6h3.1v3.1h-3.1zM391.7 141.6h3.1v3.1h-3.1zM410.8 128.7h3.1v3.1h-3.1zM328.4 202.5h3.1v3.1h-3.1zM437.9 99.8h3.1v3.1h-3.1zM443.2 94.8h3.1v3.1h-3.1zM398.1 136.1h3.1v3.1h-3.1zM503.2 37.9h3.1v3.1h-3.1zM450.7 91.2h3.1v3.1h-3.1zM503.5 38.4h3.1v3.1h-3.1zM354.4 180.7h3.1v3.1h-3.1zM505.4 32.7h3.1v3.1h-3.1zM364.4 170.9h3.1v3.1h-3.1zM440.2 101.4h3.1v3.1h-3.1zM461.8 79.0h3.1v3.1h-3.1zM366.4 168.2h3.1v3.1h-3.1zM336.9 196.4h3.1v3.1h-3.1zM446.0 93.5h3.1v3.1h-3.1zM401.1 139.1h3.1v3.1h-3.1zM401.3 133.4h3.1v3.1h-3.1zM417.4 120.6h3.1v3.1h-3.1zM368.5 165.3h3.1v3.1h-3.1zM428.7 108.8h3.1v3.1h-3.1zM509.3 33.6h3.1v3.1h-3.1zM456.4 80.6h3.1v3.1h-3.1zM403.2 132.5h3.1v3.1h-3.1zM425.2 110.9h3.1v3.1h-3.1zM426.2 110.3h3.1v3.1h-3.1zM477.4 65.2h3.1v3.1h-3.1zM468.1 73.1h3.1v3.1h-3.1zM368.0 164.8h3.1v3.1h-3.1zM350.1 183.2h3.1v3.1h-3.1zM352.5 182.1h3.1v3.1h-3.1zM444.9 92.0h3.1v3.1h-3.1zM450.9 87.5h3.1v3.1h-3.1zM433.7 104.7h3.1v3.1h-3.1zM341.7 192.2h3.1v3.1h-3.1zM352.2 183.0h3.1v3.1h-3.1zM385.4 151.0h3.1v3.1h-3.1zM509.0 34.7h3.1v3.1h-3.1zM394.1 143.8h3.1v3.1h-3.1zM443.0 92.6h3.1v3.1h-3.1zM345.7 187.3h3.1v3.1h-3.1zM509.6 34.1h3.1v3.1h-3.1zM448.9 88.9h3.1v3.1h-3.1zM424.2 116.6h3.1v3.1h-3.1zM513.5 27.5h3.1v3.1h-3.1zM488.2 52.6h3.1v3.1h-3.1zM326.5 208.6h3.1v3.1h-3.1zM464.4 80.7h3.1v3.1h-3.1zM493.0 46.6h3.1v3.1h-3.1zM443.7 94.0h3.1v3.1h-3.1zM409.8 129.5h3.1v3.1h-3.1zM356.6 176.0h3.1v3.1h-3.1zM333.6 202.5h3.1v3.1h-3.1zM486.2 57.1h3.1v3.1h-3.1zM456.1 84.2h3.1v3.1h-3.1zM332.7 196.6h3.1v3.1h-3.1zM372.9 161.1h3.1v3.1h-3.1zM403.4 136.3h3.1v3.1h-3.1zM502.2 38.0h3.1v3.1h-3.1zM338.0 193.5h3.1v3.1h-3.1zM370.4 164.2h3.1v3.1h-3.1zM403.9 132.4h3.1v3.1h-3.1zM422.4 115.5h3.1v3.1h-3.1zM335.1 195.4h3.1v3.1h-3.1zM425.8 113.5h3.1v3.1h-3.1zM503.3 38.9h3.1v3.1h-3.1zM349.5 185.6h3.1v3.1h-3.1zM397.6 137.8h3.1v3.1h-3.1zM514.7 29.5h3.1v3.1h-3.1zM410.7 127.0h3.1v3.1h-3.1zM410.2 124.0h3.1v3.1h-3.1zM451.1 88.8h3.1v3.1h-3.1zM356.5 178.1h3.1v3.1h-3.1zM393.3 143.1h3.1v3.1h-3.1zM329.3 204.3h3.1v3.1h-3.1zM449.2 93.9h3.1v3.1h-3.1zM436.0 102.3h3.1v3.1h-3.1zM415.4 120.0h3.1v3.1h-3.1zM407.3 129.5h3.1v3.1h-3.1zM471.2 67.8h3.1v3.1h-3.1zM510.6 30.7h3.1v3.1h-3.1zM330.3 204.2h3.1v3.1h-3.1zM383.8 149.3h3.1v3.1h-3.1zM431.7 109.9h3.1v3.1h-3.1zM435.8 102.9h3.1v3.1h-3.1zM463.7 77.1h3.1v3.1h-3.1zM396.0 139.0h3.1v3.1h-3.1zM454.2 86.5h3.1v3.1h-3.1zM433.3 106.5h3.1v3.1h-3.1zM510.5 32.1h3.1v3.1h-3.1zM472.1 69.8h3.1v3.1h-3.1zM499.9 40.9h3.1v3.1h-3.1zM470.5 71.9h3.1v3.1h-3.1zM347.7 189.0h3.1v3.1h-3.1zM441.5 98.3h3.1v3.1h-3.1zM512.7 30.9h3.1v3.1h-3.1zM513.5 30.6h3.1v3.1h-3.1zM474.2 64.7h3.1v3.1h-3.1zM460.6 80.8h3.1v3.1h-3.1zM392.9 140.9h3.1v3.1h-3.1zM353.5 181.4h3.1v3.1h-3.1zM404.5 134.0h3.1v3.1h-3.1zM422.1 112.5h3.1v3.1h-3.1zM404.2 132.5h3.1v3.1h-3.1zM502.7 40.7h3.1v3.1h-3.1zM451.0 88.8h3.1v3.1h-3.1zM477.7 61.0h3.1v3.1h-3.1zM455.0 85.7h3.1v3.1h-3.1zM403.0 131.7h3.1v3.1h-3.1zM347.1 185.8h3.1v3.1h-3.1zM508.6 35.0h3.1v3.1h-3.1zM467.8 70.5h3.1v3.1h-3.1zM359.7 173.7h3.1v3.1h-3.1zM340.5 193.7h3.1v3.1h-3.1zM441.8 99.6h3.1v3.1h-3.1zM411.6 123.3h3.1v3.1h-3.1zM343.3 189.5h3.1v3.1h-3.1zM421.1 116.3h3.1v3.1h-3.1zM464.1 74.3h3.1v3.1h-3.1zM418.1 118.7h3.1v3.1h-3.1zM499.9 38.6h3.1v3.1h-3.1zM449.4 90.1h3.1v3.1h-3.1zM437.0 100.9h3.1v3.1h-3.1zM357.2 174.6h3.1v3.1h-3.1zM384.0 150.4h3.1v3.1h-3.1zM466.5 75.2h3.1v3.1h-3.1zM415.6 121.9h3.1v3.1h-3.1zM436.6 99.8h3.1v3.1h-3.1zM372.0 160.2h3.1v3.1h-3.1zM360.2 177.6h3.1v3.1h-3.1zM372.1 161.7h3.1v3.1h-3.1zM368.7 168.2h3.1v3.1h-3.1zM439.1 99.1h3.1v3.1h-3.1zM439.4 95.9h3.1v3.1h-3.1zM424.5 112.3h3.1v3.1h-3.1zM417.1 118.8h3.1v3.1h-3.1zM395.4 140.2h3.1v3.1h-3.1zM461.4 77.3h3.1v3.1h-3.1zM505.2 35.6h3.1v3.1h-3.1zM479.1 63.3h3.1v3.1h-3.1zM350.9 182.1h3.1v3.1h-3.1zM325.1 204.7h3.1v3.1h-3.1zM341.2 191.7h3.1v3.1h-3.1zM360.9 174.3h3.1v3.1h-3.1zM402.0 134.3h3.1v3.1h-3.1zM496.0 45.7h3.1v3.1h-3.1zM384.3 152.7h3.1v3.1h-3.1zM348.6 185.7h3.1v3.1h-3.1zM511.7 29.3h3.1v3.1h-3.1zM496.3 42.7h3.1v3.1h-3.1zM413.4 123.1h3.1v3.1h-3.1zM353.7 180.2h3.1v3.1h-3.1zM419.2 115.6h3.1v3.1h-3.1zM427.5 108.9h3.1v3.1h-3.1zM480.6 60.1h3.1v3.1h-3.1zM498.5 42.8h3.1v3.1h-3.1zM365.5 169.6h3.1v3.1h-3.1zM439.3 98.7h3.1v3.1h-3.1zM415.3 121.6h3.1v3.1h-3.1zM390.7 144.6h3.1v3.1h-3.1zM477.7 62.2h3.1v3.1h-3.1zM445.5 92.3h3.1v3.1h-3.1zM448.7 89.5h3.1v3.1h-3.1zM490.6 52.8h3.1v3.1h-3.1zM355.2 178.4h3.1v3.1h-3.1zM348.1 185.6h3.1v3.1h-3.1zM345.1 187.9h3.1v3.1h-3.1zM504.5 39.3h3.1v3.1h-3.1zM515.0 22.9h3.1v3.1h-3.1zM393.4 144.0h3.1v3.1h-3.1zM511.5 31.1h3.1v3.1h-3.1zM432.7 107.7h3.1v3.1h-3.1zM328.8 198.5h3.1v3.1h-3.1zM465.1 74.1h3.1v3.1h-3.1zM492.8 48.5h3.1v3.1h-3.1zM468.8 73.2h3.1v3.1h-3.1zM516.2 28.2h3.1v3.1h-3.1zM382.4 156.6h3.1v3.1h-3.1zM337.3 202.0h3.1v3.1h-3.1zM347.3 192.6h3.1v3.1h-3.1zM484.9 53.3h3.1v3.1h-3.1zM489.8 53.4h3.1v3.1h-3.1zM355.2 180.1h3.1v3.1h-3.1zM496.4 40.8h3.1v3.1h-3.1zM429.3 101.6h3.1v3.1h-3.1zM436.3 97.6h3.1v3.1h-3.1zM476.8 63.3h3.1v3.1h-3.1zM342.4 187.5h3.1v3.1h-3.1zM361.3 176.3h3.1v3.1h-3.1zM452.9 84.8h3.1v3.1h-3.1zM487.4 57.7h3.1v3.1h-3.1zM452.2 79.9h3.1v3.1h-3.1zM392.1 140.2h3.1v3.1h-3.1zM452.9 78.0h3.1v3.1h-3.1zM333.2 200.8h3.1v3.1h-3.1zM407.0 132.9h3.1v3.1h-3.1zM474.1 65.7h3.1v3.1h-3.1zM430.2 104.9h3.1v3.1h-3.1zM501.3 34.7h3.1v3.1h-3.1zM465.4 71.0h3.1v3.1h-3.1zM359.4 177.3h3.1v3.1h-3.1zM463.3 80.7h3.1v3.1h-3.1zM429.6 109.9h3.1v3.1h-3.1zM371.2 159.6h3.1v3.1h-3.1zM413.6 124.8h3.1v3.1h-3.1zM370.1 163.6h3.1v3.1h-3.1zM392.0 147.4h3.1v3.1h-3.1zM470.5 66.8h3.1v3.1h-3.1zM375.4 162.6h3.1v3.1h-3.1zM369.1 166.6h3.1v3.1h-3.1zM352.1 173.5h3.1v3.1h-3.1zM486.9 56.2h3.1v3.1h-3.1zM358.3 174.7h3.1v3.1h-3.1zM383.4 150.6h3.1v3.1h-3.1zM408.0 125.0h3.1v3.1h-3.1zM459.3 80.1h3.1v3.1h-3.1zM487.5 53.5h3.1v3.1h-3.1zM479.9 60.5h3.1v3.1h-3.1zM399.0 138.0h3.1v3.1h-3.1zM377.2 156.0h3.1v3.1h-3.1zM376.8 158.4h3.1v3.1h-3.1zM425.8 109.3h3.1v3.1h-3.1zM483.4 58.7h3.1v3.1h-3.1zM419.2 114.7h3.1v3.1h-3.1zM489.1 50.9h3.1v3.1h-3.1zM358.6 185.7h3.1v3.1h-3.1zM481.9 60.1h3.1v3.1h-3.1zM427.6 105.6h3.1v3.1h-3.1zM436.9 102.0h3.1v3.1h-3.1zM326.4 204.7h3.1v3.1h-3.1zM505.7 33.3h3.1v3.1h-3.1zM342.4 193.4h3.1v3.1h-3.1zM488.3 56.8h3.1v3.1h-3.1zM449.5 89.6h3.1v3.1h-3.1zM355.6 177.0h3.1v3.1h-3.1zM468.1 65.5h3.1v3.1h-3.1zM516.7 34.6h3.1v3.1h-3.1zM498.2 39.5h3.1v3.1h-3.1zM423.8 112.1h3.1v3.1h-3.1zM338.6 195.7h3.1v3.1h-3.1zM483.6 54.5h3.1v3.1h-3.1zM468.6 68.1h3.1v3.1h-3.1zM457.3 80.9h3.1v3.1h-3.1zM333.2 193.3h3.1v3.1h-3.1zM434.5 100.1h3.1v3.1h-3.1zM383.9 154.2h3.1v3.1h-3.1zM519.3 24.4h3.1v3.1h-3.1zM499.6 48.3h3.1v3.1h-3.1zM507.2 40.9h3.1v3.1h-3.1zM422.7 117.8h3.1v3.1h-3.1zM374.6 160.8h3.1v3.1h-3.1zM329.8 199.9h3.1v3.1h-3.1zM445.8 99.4h3.1v3.1h-3.1zM334.8 193.3h3.1v3.1h-3.1zM477.6 61.9h3.1v3.1h-3.1zM381.9 150.4h3.1v3.1h-3.1zM511.5 33.2h3.1v3.1h-3.1zM360.8 176.5h3.1v3.1h-3.1zM334.1 205.0h3.1v3.1h-3.1zM411.5 118.3h3.1v3.1h-3.1zM456.6 82.0h3.1v3.1h-3.1zM387.4 148.9h3.1v3.1h-3.1zM406.3 129.8h3.1v3.1h-3.1zM457.8 78.2h3.1v3.1h-3.1zM351.1 183.5h3.1v3.1h-3.1zM453.0 89.0h3.1v3.1h-3.1zM358.7 174.4h3.1v3.1h-3.1zM487.2 57.5h3.1v3.1h-3.1zM513.5 29.6h3.1v3.1h-3.1zM396.2 140.2h3.1v3.1h-3.1zM515.2 30.8h3.1v3.1h-3.1zM417.7 124.4h3.1v3.1h-3.1zM508.3 29.8h3.1v3.1h-3.1zM439.9 101.3h3.1v3.1h-3.1zM345.0 185.9h3.1v3.1h-3.1zM465.4 74.3h3.1v3.1h-3.1zM490.1 50.2h3.1v3.1h-3.1zM330.8 209.1h3.1v3.1h-3.1zM330.4 202.1h3.1v3.1h-3.1zM439.1 98.6h3.1v3.1h-3.1zM506.2 34.5h3.1v3.1h-3.1zM454.4 85.9h3.1v3.1h-3.1zM455.7 85.6h3.1v3.1h-3.1zM371.0 166.8h3.1v3.1h-3.1zM497.7 39.3h3.1v3.1h-3.1zM430.9 110.3h3.1v3.1h-3.1zM331.3 201.7h3.1v3.1h-3.1zM372.2 160.0h3.1v3.1h-3.1zM367.0 170.2h3.1v3.1h-3.1zM359.2 179.6h3.1v3.1h-3.1zM500.7 32.1h3.1v3.1h-3.1zM438.5 99.8h3.1v3.1h-3.1zM450.7 89.4h3.1v3.1h-3.1zM495.8 40.4h3.1v3.1h-3.1zM364.9 165.2h3.1v3.1h-3.1zM373.5 156.7h3.1v3.1h-3.1zM345.4 190.2h3.1v3.1h-3.1zM366.5 167.9h3.1v3.1h-3.1zM380.2 149.3h3.1v3.1h-3.1zM435.1 99.7h3.1v3.1h-3.1zM452.3 88.5h3.1v3.1h-3.1zM512.3 24.2h3.1v3.1h-3.1zM519.8 20.0h3.1v3.1h-3.1zM342.3 190.0h3.1v3.1h-3.1zM417.4 122.5h3.1v3.1h-3.1zM394.0 146.1h3.1v3.1h-3.1zM512.8 38.2h3.1v3.1h-3.1zM407.8 137.3h3.1v3.1h-3.1zM450.6 84.8h3.1v3.1h-3.1zM450.9 85.6h3.1v3.1h-3.1zM370.3 165.7h3.1v3.1h-3.1zM414.8 123.6h3.1v3.1h-3.1zM443.2 97.4h3.1v3.1h-3.1zM361.9 172.0h3.1v3.1h-3.1zM398.0 140.4h3.1v3.1h-3.1zM364.0 173.4h3.1v3.1h-3.1zM390.8 145.7h3.1v3.1h-3.1zM439.7 96.9h3.1v3.1h-3.1zM416.7 120.6h3.1v3.1h-3.1zM503.1 38.6h3.1v3.1h-3.1zM333.7 196.8h3.1v3.1h-3.1zM478.8 59.8h3.1v3.1h-3.1zM507.5 34.5h3.1v3.1h-3.1zM488.5 55.0h3.1v3.1h-3.1zM331.2 200.0h3.1v3.1h-3.1zM434.7 102.3h3.1v3.1h-3.1zM440.6 104.0h3.1v3.1h-3.1zM471.6 74.8h3.1v3.1h-3.1zM331.0 202.7h3.1v3.1h-3.1zM339.1 196.3h3.1v3.1h-3.1zM332.0 201.3h3.1v3.1h-3.1zM330.0 204.8h3.1v3.1h-3.1zM327.9 204.8h3.1v3.1h-3.1zM332.2 203.9h3.1v3.1h-3.1zM331.6 202.7h3.1v3.1h-3.1zM331.0 202.4h3.1v3.1h-3.1zM330.7 202.3h3.1v3.1h-3.1zM333.1 199.5h3.1v3.1h-3.1zM325.2 206.4h3.1v3.1h-3.1zM338.7 194.9h3.1v3.1h-3.1zM330.3 201.5h3.1v3.1h-3.1zM333.8 199.9h3.1v3.1h-3.1zM331.6 204.9h3.1v3.1h-3.1zM332.5 199.0h3.1v3.1h-3.1zM324.0 206.4h3.1v3.1h-3.1zM339.0 198.9h3.1v3.1h-3.1zM330.3 199.5h3.1v3.1h-3.1zM334.0 200.1h3.1v3.1h-3.1zM328.6 204.6h3.1v3.1h-3.1zM334.0 200.4h3.1v3.1h-3.1zM325.0 206.9h3.1v3.1h-3.1zM327.9 201.2h3.1v3.1h-3.1zM326.8 204.9h3.1v3.1h-3.1zM330.2 205.2h3.1v3.1h-3.1zM329.0 207.3h3.1v3.1h-3.1zM332.7 201.8h3.1v3.1h-3.1zM336.9 194.9h3.1v3.1h-3.1zM326.9 205.7h3.1v3.1h-3.1zM333.7 197.9h3.1v3.1h-3.1zM331.1 205.5h3.1v3.1h-3.1zM338.1 195.1h3.1v3.1h-3.1zM336.9 198.5h3.1v3.1h-3.1zM334.4 195.7h3.1v3.1h-3.1zM335.9 199.3h3.1v3.1h-3.1zM330.1 199.4h3.1v3.1h-3.1zM327.7 203.3h3.1v3.1h-3.1zM330.4 205.1h3.1v3.1h-3.1zM335.1 195.5h3.1v3.1h-3.1zM333.8 198.4h3.1v3.1h-3.1zM335.3 201.3h3.1v3.1h-3.1zM331.0 198.2h3.1v3.1h-3.1zM333.2 197.4h3.1v3.1h-3.1zM330.1 201.7h3.1v3.1h-3.1zM326.3 205.0h3.1v3.1h-3.1zM332.3 201.0h3.1v3.1h-3.1zM331.1 201.3h3.1v3.1h-3.1zM332.0 199.1h3.1v3.1h-3.1zM335.4 201.6h3.1v3.1h-3.1zM332.2 198.2h3.1v3.1h-3.1zM326.3 206.3h3.1v3.1h-3.1zM341.1 193.2h3.1v3.1h-3.1zM335.3 197.0h3.1v3.1h-3.1zM325.2 207.6h3.1v3.1h-3.1zM323.5 209.3h3.1v3.1h-3.1zM334.9 196.5h3.1v3.1h-3.1zM347.7 186.9h3.1v3.1h-3.1zM349.8 177.9h3.1v3.1h-3.1zM350.7 178.0h3.1v3.1h-3.1zM348.7 182.0h3.1v3.1h-3.1zM340.3 185.8h3.1v3.1h-3.1zM339.2 196.3h3.1v3.1h-3.1zM341.4 193.6h3.1v3.1h-3.1zM354.2 179.4h3.1v3.1h-3.1zM344.2 189.1h3.1v3.1h-3.1zM345.8 181.3h3.1v3.1h-3.1zM355.3 179.3h3.1v3.1h-3.1zM356.6 173.9h3.1v3.1h-3.1zM347.8 179.5h3.1v3.1h-3.1zM346.6 184.4h3.1v3.1h-3.1zM346.9 190.1h3.1v3.1h-3.1zM338.1 197.7h3.1v3.1h-3.1zM340.4 194.0h3.1v3.1h-3.1zM342.4 185.3h3.1v3.1h-3.1zM345.9 183.3h3.1v3.1h-3.1zM348.0 187.9h3.1v3.1h-3.1zM344.1 194.0h3.1v3.1h-3.1zM335.0 195.2h3.1v3.1h-3.1zM345.6 186.5h3.1v3.1h-3.1zM351.9 186.2h3.1v3.1h-3.1zM344.8 196.4h3.1v3.1h-3.1zM340.3 189.5h3.1v3.1h-3.1zM336.1 200.9h3.1v3.1h-3.1zM343.8 181.9h3.1v3.1h-3.1zM350.5 182.9h3.1v3.1h-3.1zM349.5 182.8h3.1v3.1h-3.1zM343.1 191.3h3.1v3.1h-3.1zM348.4 184.6h3.1v3.1h-3.1zM350.5 184.4h3.1v3.1h-3.1zM350.8 183.5h3.1v3.1h-3.1zM353.1 175.9h3.1v3.1h-3.1zM341.3 181.9h3.1v3.1h-3.1zM348.0 187.2h3.1v3.1h-3.1zM337.9 193.7h3.1v3.1h-3.1zM346.5 188.9h3.1v3.1h-3.1zM338.9 195.0h3.1v3.1h-3.1zM339.0 195.6h3.1v3.1h-3.1zM340.1 190.3h3.1v3.1h-3.1zM329.8 193.8h3.1v3.1h-3.1zM342.9 189.6h3.1v3.1h-3.1zM337.4 190.3h3.1v3.1h-3.1zM344.8 189.0h3.1v3.1h-3.1zM339.9 189.9h3.1v3.1h-3.1zM348.6 186.5h3.1v3.1h-3.1zM355.8 180.8h3.1v3.1h-3.1zM353.1 179.0h3.1v3.1h-3.1zM337.1 195.9h3.1v3.1h-3.1zM349.0 185.2h3.1v3.1h-3.1zM346.2 186.6h3.1v3.1h-3.1zM348.3 186.9h3.1v3.1h-3.1zM357.2 174.6h3.1v3.1h-3.1zM354.9 179.0h3.1v3.1h-3.1zM346.9 189.4h3.1v3.1h-3.1zM345.9 180.5h3.1v3.1h-3.1zM347.6 187.8h3.1v3.1h-3.1zM342.3 187.7h3.1v3.1h-3.1zM344.6 179.7h3.1v3.1h-3.1zM347.1 185.2h3.1v3.1h-3.1zM350.3 176.0h3.1v3.1h-3.1zM336.2 198.4h3.1v3.1h-3.1zM341.4 198.5h3.1v3.1h-3.1zM344.7 188.0h3.1v3.1h-3.1zM351.0 179.2h3.1v3.1h-3.1zM349.8 180.4h3.1v3.1h-3.1zM343.0 177.9h3.1v3.1h-3.1zM355.0 179.2h3.1v3.1h-3.1zM340.1 190.0h3.1v3.1h-3.1zM352.1 178.8h3.1v3.1h-3.1zM350.6 178.1h3.1v3.1h-3.1zM348.4 187.8h3.1v3.1h-3.1zM342.7 196.5h3.1v3.1h-3.1zM351.5 183.3h3.1v3.1h-3.1zM346.9 177.2h3.1v3.1h-3.1zM340.8 191.3h3.1v3.1h-3.1zM340.7 198.6h3.1v3.1h-3.1zM351.9 181.2h3.1v3.1h-3.1zM345.4 184.0h3.1v3.1h-3.1zM344.5 185.1h3.1v3.1h-3.1zM353.6 181.9h3.1v3.1h-3.1zM348.5 183.5h3.1v3.1h-3.1zM352.4 170.8h3.1v3.1h-3.1zM339.6 186.4h3.1v3.1h-3.1zM346.5 183.3h3.1v3.1h-3.1zM348.2 184.9h3.1v3.1h-3.1zM338.1 193.9h3.1v3.1h-3.1zM340.3 186.1h3.1v3.1h-3.1zM348.6 186.2h3.1v3.1h-3.1zM343.5 184.4h3.1v3.1h-3.1zM337.0 194.2h3.1v3.1h-3.1zM346.7 189.3h3.1v3.1h-3.1zM352.3 182.0h3.1v3.1h-3.1zM352.3 179.7h3.1v3.1h-3.1zM341.9 190.7h3.1v3.1h-3.1zM352.0 184.4h3.1v3.1h-3.1zM340.7 191.8h3.1v3.1h-3.1zM349.2 181.0h3.1v3.1h-3.1zM339.8 196.9h3.1v3.1h-3.1zM345.2 188.1h3.1v3.1h-3.1zM347.5 190.9h3.1v3.1h-3.1zM342.6 193.9h3.1v3.1h-3.1zM355.6 185.4h3.1v3.1h-3.1zM340.0 194.1h3.1v3.1h-3.1zM334.9 198.7h3.1v3.1h-3.1zM341.0 197.2h3.1v3.1h-3.1zM342.7 184.4h3.1v3.1h-3.1zM346.5 180.7h3.1v3.1h-3.1zM353.6 178.8h3.1v3.1h-3.1zM343.9 197.0h3.1v3.1h-3.1zM333.1 197.8h3.1v3.1h-3.1zM346.1 185.7h3.1v3.1h-3.1zM340.4 192.9h3.1v3.1h-3.1zM339.1 189.6h3.1v3.1h-3.1zM346.3 194.0h3.1v3.1h-3.1zM342.1 185.3h3.1v3.1h-3.1zM339.3 197.1h3.1v3.1h-3.1zM339.7 194.5h3.1v3.1h-3.1zM394.4 141.1h3.1v3.1h-3.1zM394.8 142.1h3.1v3.1h-3.1zM397.3 133.5h3.1v3.1h-3.1zM389.4 144.5h3.1v3.1h-3.1zM395.6 139.0h3.1v3.1h-3.1zM393.8 139.7h3.1v3.1h-3.1zM392.9 144.0h3.1v3.1h-3.1zM390.0 142.5h3.1v3.1h-3.1zM391.3 149.1h3.1v3.1h-3.1zM391.6 144.9h3.1v3.1h-3.1zM398.4 133.7h3.1v3.1h-3.1zM388.4 142.4h3.1v3.1h-3.1zM395.8 134.6h3.1v3.1h-3.1zM391.4 141.4h3.1v3.1h-3.1zM397.8 132.6h3.1v3.1h-3.1zM387.5 147.2h3.1v3.1h-3.1zM394.7 141.0h3.1v3.1h-3.1zM389.6 146.0h3.1v3.1h-3.1zM394.4 134.6h3.1v3.1h-3.1zM394.3 137.4h3.1v3.1h-3.1zM391.4 142.7h3.1v3.1h-3.1zM393.9 140.8h3.1v3.1h-3.1zM386.7 147.9h3.1v3.1h-3.1zM407.3 128.4h3.1v3.1h-3.1zM387.4 140.1h3.1v3.1h-3.1zM396.4 137.6h3.1v3.1h-3.1zM386.2 149.2h3.1v3.1h-3.1zM392.9 142.5h3.1v3.1h-3.1zM388.9 143.7h3.1v3.1h-3.1zM387.3 143.7h3.1v3.1h-3.1zM394.0 142.3h3.1v3.1h-3.1zM386.1 147.3h3.1v3.1h-3.1zM395.9 143.7h3.1v3.1h-3.1zM402.6 133.6h3.1v3.1h-3.1zM386.2 144.6h3.1v3.1h-3.1zM388.7 148.8h3.1v3.1h-3.1zM386.8 150.8h3.1v3.1h-3.1zM392.6 145.7h3.1v3.1h-3.1zM395.3 142.9h3.1v3.1h-3.1zM393.4 148.6h3.1v3.1h-3.1zM391.1 144.0h3.1v3.1h-3.1zM397.1 139.3h3.1v3.1h-3.1zM394.4 139.6h3.1v3.1h-3.1zM389.4 143.8h3.1v3.1h-3.1zM395.4 141.4h3.1v3.1h-3.1zM387.6 143.2h3.1v3.1h-3.1zM399.4 135.4h3.1v3.1h-3.1zM399.4 131.5h3.1v3.1h-3.1zM393.2 140.1h3.1v3.1h-3.1zM396.8 136.9h3.1v3.1h-3.1zM393.3 143.1h3.1v3.1h-3.1zM397.8 136.8h3.1v3.1h-3.1zM402.3 131.8h3.1v3.1h-3.1zM394.4 144.5h3.1v3.1h-3.1zM393.3 140.8h3.1v3.1h-3.1zM393.2 144.0h3.1v3.1h-3.1zM379.2 157.8h3.1v3.1h-3.1zM394.6 135.6h3.1v3.1h-3.1zM388.1 145.1h3.1v3.1h-3.1zM387.3 144.5h3.1v3.1h-3.1zM416.1 119.2h3.1v3.1h-3.1zM418.4 118.7h3.1v3.1h-3.1zM414.3 118.2h3.1v3.1h-3.1zM411.3 126.3h3.1v3.1h-3.1zM420.1 113.4h3.1v3.1h-3.1zM413.7 123.5h3.1v3.1h-3.1zM417.4 112.9h3.1v3.1h-3.1zM423.0 113.5h3.1v3.1h-3.1zM414.7 120.7h3.1v3.1h-3.1zM409.8 124.4h3.1v3.1h-3.1zM415.3 117.1h3.1v3.1h-3.1zM413.7 120.6h3.1v3.1h-3.1zM414.5 122.1h3.1v3.1h-3.1zM424.2 113.9h3.1v3.1h-3.1zM416.6 117.7h3.1v3.1h-3.1zM424.7 110.2h3.1v3.1h-3.1zM415.2 119.2h3.1v3.1h-3.1zM424.1 110.1h3.1v3.1h-3.1zM419.7 109.7h3.1v3.1h-3.1zM413.4 118.5h3.1v3.1h-3.1zM413.6 118.1h3.1v3.1h-3.1zM419.2 114.4h3.1v3.1h-3.1zM418.2 116.4h3.1v3.1h-3.1zM405.2 132.7h3.1v3.1h-3.1zM425.7 109.7h3.1v3.1h-3.1zM416.5 117.1h3.1v3.1h-3.1zM420.9 114.0h3.1v3.1h-3.1zM421.3 112.5h3.1v3.1h-3.1zM414.7 120.0h3.1v3.1h-3.1zM421.3 116.7h3.1v3.1h-3.1zM417.3 120.0h3.1v3.1h-3.1zM416.0 123.4h3.1v3.1h-3.1zM417.5 119.5h3.1v3.1h-3.1zM421.5 114.9h3.1v3.1h-3.1zM425.4 107.2h3.1v3.1h-3.1zM414.1 115.5h3.1v3.1h-3.1zM417.5 116.7h3.1v3.1h-3.1zM411.8 123.4h3.1v3.1h-3.1zM414.4 124.3h3.1v3.1h-3.1zM412.5 118.9h3.1v3.1h-3.1zM453.0 85.3h3.1v3.1h-3.1zM451.7 87.9h3.1v3.1h-3.1zM453.0 85.7h3.1v3.1h-3.1zM455.8 80.0h3.1v3.1h-3.1zM455.3 83.6h3.1v3.1h-3.1zM451.3 85.2h3.1v3.1h-3.1zM457.8 81.8h3.1v3.1h-3.1zM446.4 92.0h3.1v3.1h-3.1zM444.9 88.5h3.1v3.1h-3.1zM455.8 78.9h3.1v3.1h-3.1zM454.5 81.4h3.1v3.1h-3.1zM464.1 72.3h3.1v3.1h-3.1zM450.3 92.7h3.1v3.1h-3.1zM452.6 85.2h3.1v3.1h-3.1zM449.4 94.9h3.1v3.1h-3.1zM452.1 86.9h3.1v3.1h-3.1zM445.7 92.9h3.1v3.1h-3.1zM459.0 83.5h3.1v3.1h-3.1zM455.8 83.3h3.1v3.1h-3.1zM456.4 81.6h3.1v3.1h-3.1zM450.1 86.8h3.1v3.1h-3.1zM465.6 72.7h3.1v3.1h-3.1zM447.8 91.6h3.1v3.1h-3.1zM464.6 75.3h3.1v3.1h-3.1zM455.8 87.1h3.1v3.1h-3.1zM447.1 91.6h3.1v3.1h-3.1zM456.8 84.2h3.1v3.1h-3.1zM456.9 83.2h3.1v3.1h-3.1zM444.4 94.8h3.1v3.1h-3.1zM458.1 73.8h3.1v3.1h-3.1zM447.5 89.9h3.1v3.1h-3.1zM456.9 80.7h3.1v3.1h-3.1zM455.9 78.2h3.1v3.1h-3.1zM461.2 80.0h3.1v3.1h-3.1zM450.8 87.7h3.1v3.1h-3.1zM447.6 90.3h3.1v3.1h-3.1zM459.2 81.5h3.1v3.1h-3.1zM453.7 87.1h3.1v3.1h-3.1zM455.9 81.4h3.1v3.1h-3.1zM450.0 85.6h3.1v3.1h-3.1zM450.2 88.0h3.1v3.1h-3.1zM456.6 85.2h3.1v3.1h-3.1zM453.5 88.5h3.1v3.1h-3.1zM460.4 79.1h3.1v3.1h-3.1zM447.5 88.4h3.1v3.1h-3.1zM453.3 79.5h3.1v3.1h-3.1zM454.5 82.1h3.1v3.1h-3.1zM449.5 89.7h3.1v3.1h-3.1zM454.5 81.4h3.1v3.1h-3.1zM462.1 76.6h3.1v3.1h-3.1zM504.3 41.0h3.1v3.1h-3.1zM500.5 41.4h3.1v3.1h-3.1zM513.0 21.2h3.1v3.1h-3.1zM503.6 40.7h3.1v3.1h-3.1zM498.4 39.1h3.1v3.1h-3.1zM515.5 23.6h3.1v3.1h-3.1zM517.4 24.5h3.1v3.1h-3.1zM502.6 37.8h3.1v3.1h-3.1zM496.8 45.1h3.1v3.1h-3.1zM501.3 48.0h3.1v3.1h-3.1zM505.8 33.2h3.1v3.1h-3.1zM515.1 27.4h3.1v3.1h-3.1zM513.8 31.5h3.1v3.1h-3.1zM514.3 30.6h3.1v3.1h-3.1zM504.7 42.4h3.1v3.1h-3.1zM517.9 25.9h3.1v3.1h-3.1zM513.8 28.5h3.1v3.1h-3.1zM507.6 30.7h3.1v3.1h-3.1zM497.2 41.8h3.1v3.1h-3.1zM503.2 42.2h3.1v3.1h-3.1zM513.5 28.9h3.1v3.1h-3.1zM515.2 26.1h3.1v3.1h-3.1zM503.2 40.4h3.1v3.1h-3.1zM506.0 37.9h3.1v3.1h-3.1zM512.8 31.3h3.1v3.1h-3.1zM515.9 27.5h3.1v3.1h-3.1zM505.4 38.5h3.1v3.1h-3.1zM511.9 24.8h3.1v3.1h-3.1zM514.3 19.6h3.1v3.1h-3.1zM516.9 32.0h3.1v3.1h-3.1zM507.1 38.3h3.1v3.1h-3.1zM504.5 37.6h3.1v3.1h-3.1zM513.6 24.5h3.1v3.1h-3.1zM505.9 38.8h3.1v3.1h-3.1zM508.5 32.6h3.1v3.1h-3.1zM502.8 34.4h3.1v3.1h-3.1zM515.6 29.7h3.1v3.1h-3.1zM515.3 31.2h3.1v3.1h-3.1zM502.4 45.5h3.1v3.1h-3.1zM508.4 25.5h3.1v3.1h-3.1zM497.0 46.6h3.1v3.1h-3.1zM498.2 42.3h3.1v3.1h-3.1zM513.6 34.4h3.1v3.1h-3.1zM511.3 21.9h3.1v3.1h-3.1zM503.7 37.6h3.1v3.1h-3.1zM510.0 40.0h3.1v3.1h-3.1zM499.1 39.7h3.1v3.1h-3.1zM505.6 32.6h3.1v3.1h-3.1zM498.6 43.1h3.1v3.1h-3.1zM500.1 45.9h3.1v3.1h-3.1zM510.6 23.7h3.1v3.1h-3.1zM499.1 40.2h3.1v3.1h-3.1zM510.3 25.5h3.1v3.1h-3.1zM500.8 46.9h3.1v3.1h-3.1zM509.2 35.7h3.1v3.1h-3.1zM496.5 45.7h3.1v3.1h-3.1zM505.4 35.2h3.1v3.1h-3.1zM504.2 46.1h3.1v3.1h-3.1zM489.9 48.7h3.1v3.1h-3.1zM515.5 24.3h3.1v3.1h-3.1zM497.9 38.9h3.1v3.1h-3.1zM498.8 36.5h3.1v3.1h-3.1zM508.0 29.7h3.1v3.1h-3.1zM499.7 38.6h3.1v3.1h-3.1zM491.0 44.0h3.1v3.1h-3.1zM496.9 44.2h3.1v3.1h-3.1zM512.5 25.0h3.1v3.1h-3.1zM507.0 40.9h3.1v3.1h-3.1zM515.8 27.4h3.1v3.1h-3.1zM496.0 38.2h3.1v3.1h-3.1zM514.5 22.7h3.1v3.1h-3.1zM509.4 29.0h3.1v3.1h-3.1zM508.7 41.2h3.1v3.1h-3.1zM500.8 42.0h3.1v3.1h-3.1zM500.0 40.4h3.1v3.1h-3.1zM505.8 32.3h3.1v3.1h-3.1zM511.9 21.7h3.1v3.1h-3.1zM506.1 41.9h3.1v3.1h-3.1zM506.0 29.7h3.1v3.1h-3.1zM510.8 36.7h3.1v3.1h-3.1zM508.5 33.3h3.1v3.1h-3.1zM502.8 34.4h3.1v3.1h-3.1zM487.8 45.8h3.1v3.1h-3.1zM519.8 23.6h3.1v3.1h-3.1zM499.3 47.7h3.1v3.1h-3.1zM509.2 34.5h3.1v3.1h-3.1zM491.5 57.7h3.1v3.1h-3.1zM510.2 26.9h3.1v3.1h-3.1zM496.5 37.7h3.1v3.1h-3.1zM502.3 38.0h3.1v3.1h-3.1zM498.8 37.4h3.1v3.1h-3.1zM504.6 36.7h3.1v3.1h-3.1zM508.6 35.8h3.1v3.1h-3.1zM516.3 24.0h3.1v3.1h-3.1zM501.4 44.6h3.1v3.1h-3.1zM507.5 33.2h3.1v3.1h-3.1zM504.8 41.3h3.1v3.1h-3.1zM515.6 25.6h3.1v3.1h-3.1zM513.4 25.6h3.1v3.1h-3.1zM504.9 39.1h3.1v3.1h-3.1zM496.5 40.2h3.1v3.1h-3.1zM504.6 30.4h3.1v3.1h-3.1zM516.2 17.9h3.1v3.1h-3.1zM514.7 16.9h3.1v3.1h-3.1zM516.4 19.1h3.1v3.1h-3.1zM341.1 176.4h3.1v3.1h-3.1zM366.8 189.8h3.1v3.1h-3.1zM355.6 164.1h3.1v3.1h-3.1zM348.9 190.4h3.1v3.1h-3.1zM353.4 191.9h3.1v3.1h-3.1zM409.1 141.9h3.1v3.1h-3.1zM413.4 141.9h3.1v3.1h-3.1zM403.4 149.4h3.1v3.1h-3.1zM422.4 132.9h3.1v3.1h-3.1zM442.4 118.5h3.1v3.1h-3.1zM443.2 117.5h3.1v3.1h-3.1zM459.9 90.9h3.1v3.1h-3.1zM464.4 90.9h3.1v3.1h-3.1zM457.8 68.5h3.1v3.1h-3.1zM471.1 41.9h3.1v3.1h-3.1zM471.1 49.7h3.1v3.1h-3.1zM520.2 25.1h3.1v3.1h-3.1zM380.1 158.4h3.1v3.1h-3.1zM391.2 165.2h3.1v3.1h-3.1zM384.4 161.4h3.1v3.1h-3.1z"/><line x1="326.4" y1="208.9" x2="536.1" y2="10.6" stroke="#000" stroke-width="2.4" stroke-dasharray="7.6 4.5"/>
<clipPath id="clipc"><rect x="74.8" y="268.4" width="209.80" height="198.30"/></clipPath><path clip-path="url(#clipc)" fill="#0000ff" d="M122.2 421.6l1.9 1.9l-1.9 1.9l-1.9 -1.9zM195.2 351.5l1.9 1.9l-1.9 1.9l-1.9 -1.9zM199.5 346.7l1.9 1.9l-1.9 1.9l-1.9 -1.9zM241.7 306.9l1.9 1.9l-1.9 1.9l-1.9 -1.9zM126.5 415.4l1.9 1.9l-1.9 1.9l-1.9 -1.9zM168.5 370.4l1.9 1.9l-1.9 1.9l-1.9 -1.9zM241.5 309.7l1.9 1.9l-1.9 1.9l-1.9 -1.9zM104.8 436.0l1.9 1.9l-1.9 1.9l-1.9 -1.9zM201.3 343.7l1.9 1.9l-1.9 1.9l-1.9 -1.9zM222.5 326.8l1.9 1.9l-1.9 1.9l-1.9 -1.9zM208.6 335.5l1.9 1.9l-1.9 1.9l-1.9 -1.9zM192.6 352.3l1.9 1.9l-1.9 1.9l-1.9 -1.9zM134.8 404.5l1.9 1.9l-1.9 1.9l-1.9 -1.9zM169.0 375.0l1.9 1.9l-1.9 1.9l-1.9 -1.9zM218.1 327.3l1.9 1.9l-1.9 1.9l-1.9 -1.9zM258.4 293.2l1.9 1.9l-1.9 1.9l-1.9 -1.9zM153.5 389.8l1.9 1.9l-1.9 1.9l-1.9 -1.9zM261.3 290.4l1.9 1.9l-1.9 1.9l-1.9 -1.9zM250.0 298.4l1.9 1.9l-1.9 1.9l-1.9 -1.9zM118.0 423.4l1.9 1.9l-1.9 1.9l-1.9 -1.9zM267.2 285.2l1.9 1.9l-1.9 1.9l-1.9 -1.9zM134.8 407.1l1.9 1.9l-1.9 1.9l-1.9 -1.9zM175.9 370.5l1.9 1.9l-1.9 1.9l-1.9 -1.9zM191.4 353.5l1.9 1.9l-1.9 1.9l-1.9 -1.9zM191.2 352.5l1.9 1.9l-1.9 1.9l-1.9 -1.9zM259.9 291.3l1.9 1.9l-1.9 1.9l-1.9 -1.9zM245.5 300.8l1.9 1.9l-1.9 1.9l-1.9 -1.9zM107.3 434.2l1.9 1.9l-1.9 1.9l-1.9 -1.9zM246.3 298.9l1.9 1.9l-1.9 1.9l-1.9 -1.9zM188.2 358.4l1.9 1.9l-1.9 1.9l-1.9 -1.9zM217.1 329.5l1.9 1.9l-1.9 1.9l-1.9 -1.9zM189.1 353.5l1.9 1.9l-1.9 1.9l-1.9 -1.9zM131.6 407.9l1.9 1.9l-1.9 1.9l-1.9 -1.9zM272.1 277.0l1.9 1.9l-1.9 1.9l-1.9 -1.9zM92.4 447.6l1.9 1.9l-1.9 1.9l-1.9 -1.9zM104.8 438.1l1.9 1.9l-1.9 1.9l-1.9 -1.9zM133.4 409.0l1.9 1.9l-1.9 1.9l-1.9 -1.9zM83.6 460.1l1.9 1.9l-1.9 1.9l-1.9 -1.9zM197.3 346.3l1.9 1.9l-1.9 1.9l-1.9 -1.9zM140.8 401.7l1.9 1.9l-1.9 1.9l-1.9 -1.9zM250.4 296.7l1.9 1.9l-1.9 1.9l-1.9 -1.9zM273.8 277.0l1.9 1.9l-1.9 1.9l-1.9 -1.9zM136.5 404.3l1.9 1.9l-1.9 1.9l-1.9 -1.9zM81.1 457.8l1.9 1.9l-1.9 1.9l-1.9 -1.9zM114.1 429.7l1.9 1.9l-1.9 1.9l-1.9 -1.9zM105.9 434.0l1.9 1.9l-1.9 1.9l-1.9 -1.9zM83.3 455.8l1.9 1.9l-1.9 1.9l-1.9 -1.9zM265.9 285.3l1.9 1.9l-1.9 1.9l-1.9 -1.9zM253.5 297.3l1.9 1.9l-1.9 1.9l-1.9 -1.9zM178.5 365.4l1.9 1.9l-1.9 1.9l-1.9 -1.9zM203.1 345.4l1.9 1.9l-1.9 1.9l-1.9 -1.9zM198.4 349.3l1.9 1.9l-1.9 1.9l-1.9 -1.9zM262.3 289.5l1.9 1.9l-1.9 1.9l-1.9 -1.9zM218.4 329.2l1.9 1.9l-1.9 1.9l-1.9 -1.9zM122.2 421.6l1.9 1.9l-1.9 1.9l-1.9 -1.9zM178.7 362.0l1.9 1.9l-1.9 1.9l-1.9 -1.9zM184.1 359.6l1.9 1.9l-1.9 1.9l-1.9 -1.9zM190.4 355.4l1.9 1.9l-1.9 1.9l-1.9 -1.9zM78.8 462.9l1.9 1.9l-1.9 1.9l-1.9 -1.9zM86.8 455.2l1.9 1.9l-1.9 1.9l-1.9 -1.9zM199.8 349.2l1.9 1.9l-1.9 1.9l-1.9 -1.9zM145.1 397.8l1.9 1.9l-1.9 1.9l-1.9 -1.9zM215.7 331.6l1.9 1.9l-1.9 1.9l-1.9 -1.9zM86.9 453.8l1.9 1.9l-1.9 1.9l-1.9 -1.9zM209.5 336.1l1.9 1.9l-1.9 1.9l-1.9 -1.9zM165.7 379.1l1.9 1.9l-1.9 1.9l-1.9 -1.9zM192.9 353.9l1.9 1.9l-1.9 1.9l-1.9 -1.9zM137.1 404.4l1.9 1.9l-1.9 1.9l-1.9 -1.9zM148.4 396.5l1.9 1.9l-1.9 1.9l-1.9 -1.9zM150.0 394.6l1.9 1.9l-1.9 1.9l-1.9 -1.9zM228.7 317.0l1.9 1.9l-1.9 1.9l-1.9 -1.9zM221.3 325.9l1.9 1.9l-1.9 1.9l-1.9 -1.9zM136.6 405.8l1.9 1.9l-1.9 1.9l-1.9 -1.9zM122.4 416.7l1.9 1.9l-1.9 1.9l-1.9 -1.9zM112.1 432.0l1.9 1.9l-1.9 1.9l-1.9 -1.9zM95.1 444.5l1.9 1.9l-1.9 1.9l-1.9 -1.9zM139.0 405.8l1.9 1.9l-1.9 1.9l-1.9 -1.9zM162.2 379.3l1.9 1.9l-1.9 1.9l-1.9 -1.9zM245.3 302.8l1.9 1.9l-1.9 1.9l-1.9 -1.9zM204.4 340.9l1.9 1.9l-1.9 1.9l-1.9 -1.9zM251.2 299.3l1.9 1.9l-1.9 1.9l-1.9 -1.9zM98.9 441.6l1.9 1.9l-1.9 1.9l-1.9 -1.9zM180.4 363.9l1.9 1.9l-1.9 1.9l-1.9 -1.9zM241.9 303.8l1.9 1.9l-1.9 1.9l-1.9 -1.9zM111.4 430.8l1.9 1.9l-1.9 1.9l-1.9 -1.9zM202.7 340.7l1.9 1.9l-1.9 1.9l-1.9 -1.9zM235.5 313.4l1.9 1.9l-1.9 1.9l-1.9 -1.9zM133.0 409.0l1.9 1.9l-1.9 1.9l-1.9 -1.9zM233.0 315.5l1.9 1.9l-1.9 1.9l-1.9 -1.9zM157.9 384.6l1.9 1.9l-1.9 1.9l-1.9 -1.9zM158.5 389.1l1.9 1.9l-1.9 1.9l-1.9 -1.9zM105.9 433.2l1.9 1.9l-1.9 1.9l-1.9 -1.9zM75.7 460.5l1.9 1.9l-1.9 1.9l-1.9 -1.9zM271.5 280.2l1.9 1.9l-1.9 1.9l-1.9 -1.9zM161.4 379.1l1.9 1.9l-1.9 1.9l-1.9 -1.9zM119.1 424.2l1.9 1.9l-1.9 1.9l-1.9 -1.9zM223.4 323.0l1.9 1.9l-1.9 1.9l-1.9 -1.9zM178.2 369.3l1.9 1.9l-1.9 1.9l-1.9 -1.9zM132.4 411.0l1.9 1.9l-1.9 1.9l-1.9 -1.9zM88.4 450.9l1.9 1.9l-1.9 1.9l-1.9 -1.9zM192.1 354.7l1.9 1.9l-1.9 1.9l-1.9 -1.9zM83.8 453.1l1.9 1.9l-1.9 1.9l-1.9 -1.9zM254.9 296.0l1.9 1.9l-1.9 1.9l-1.9 -1.9zM253.5 299.7l1.9 1.9l-1.9 1.9l-1.9 -1.9zM254.1 295.6l1.9 1.9l-1.9 1.9l-1.9 -1.9zM223.3 324.5l1.9 1.9l-1.9 1.9l-1.9 -1.9zM109.0 433.2l1.9 1.9l-1.9 1.9l-1.9 -1.9zM179.4 363.4l1.9 1.9l-1.9 1.9l-1.9 -1.9zM157.3 384.6l1.9 1.9l-1.9 1.9l-1.9 -1.9zM142.8 401.4l1.9 1.9l-1.9 1.9l-1.9 -1.9zM125.1 415.9l1.9 1.9l-1.9 1.9l-1.9 -1.9zM230.7 319.0l1.9 1.9l-1.9 1.9l-1.9 -1.9zM144.9 397.8l1.9 1.9l-1.9 1.9l-1.9 -1.9zM237.6 308.8l1.9 1.9l-1.9 1.9l-1.9 -1.9zM108.9 431.5l1.9 1.9l-1.9 1.9l-1.9 -1.9zM235.5 316.8l1.9 1.9l-1.9 1.9l-1.9 -1.9zM238.9 307.2l1.9 1.9l-1.9 1.9l-1.9 -1.9zM246.7 302.2l1.9 1.9l-1.9 1.9l-1.9 -1.9zM84.8 455.6l1.9 1.9l-1.9 1.9l-1.9 -1.9zM179.9 364.1l1.9 1.9l-1.9 1.9l-1.9 -1.9zM159.1 388.2l1.9 1.9l-1.9 1.9l-1.9 -1.9zM75.2 463.9l1.9 1.9l-1.9 1.9l-1.9 -1.9zM85.7 453.8l1.9 1.9l-1.9 1.9l-1.9 -1.9zM88.4 451.3l1.9 1.9l-1.9 1.9l-1.9 -1.9zM269.1 280.7l1.9 1.9l-1.9 1.9l-1.9 -1.9zM174.9 370.8l1.9 1.9l-1.9 1.9l-1.9 -1.9zM137.8 405.9l1.9 1.9l-1.9 1.9l-1.9 -1.9zM203.7 341.4l1.9 1.9l-1.9 1.9l-1.9 -1.9zM191.7 355.0l1.9 1.9l-1.9 1.9l-1.9 -1.9zM140.3 402.0l1.9 1.9l-1.9 1.9l-1.9 -1.9zM99.5 444.1l1.9 1.9l-1.9 1.9l-1.9 -1.9zM150.6 394.1l1.9 1.9l-1.9 1.9l-1.9 -1.9zM90.7 449.0l1.9 1.9l-1.9 1.9l-1.9 -1.9zM195.3 349.4l1.9 1.9l-1.9 1.9l-1.9 -1.9zM230.8 319.7l1.9 1.9l-1.9 1.9l-1.9 -1.9zM199.0 345.3l1.9 1.9l-1.9 1.9l-1.9 -1.9zM160.8 384.9l1.9 1.9l-1.9 1.9l-1.9 -1.9zM214.9 330.9l1.9 1.9l-1.9 1.9l-1.9 -1.9zM158.6 386.3l1.9 1.9l-1.9 1.9l-1.9 -1.9zM123.6 420.5l1.9 1.9l-1.9 1.9l-1.9 -1.9zM181.6 364.1l1.9 1.9l-1.9 1.9l-1.9 -1.9zM159.5 385.4l1.9 1.9l-1.9 1.9l-1.9 -1.9zM159.7 381.5l1.9 1.9l-1.9 1.9l-1.9 -1.9zM149.4 397.2l1.9 1.9l-1.9 1.9l-1.9 -1.9zM253.8 295.3l1.9 1.9l-1.9 1.9l-1.9 -1.9zM167.3 378.7l1.9 1.9l-1.9 1.9l-1.9 -1.9zM99.3 440.6l1.9 1.9l-1.9 1.9l-1.9 -1.9zM251.7 300.1l1.9 1.9l-1.9 1.9l-1.9 -1.9zM232.7 316.9l1.9 1.9l-1.9 1.9l-1.9 -1.9zM187.2 361.1l1.9 1.9l-1.9 1.9l-1.9 -1.9zM95.4 445.5l1.9 1.9l-1.9 1.9l-1.9 -1.9zM103.4 437.9l1.9 1.9l-1.9 1.9l-1.9 -1.9zM229.1 318.2l1.9 1.9l-1.9 1.9l-1.9 -1.9zM94.6 445.9l1.9 1.9l-1.9 1.9l-1.9 -1.9zM250.3 298.8l1.9 1.9l-1.9 1.9l-1.9 -1.9zM242.5 305.9l1.9 1.9l-1.9 1.9l-1.9 -1.9zM99.0 440.5l1.9 1.9l-1.9 1.9l-1.9 -1.9zM241.5 309.5l1.9 1.9l-1.9 1.9l-1.9 -1.9zM264.6 288.2l1.9 1.9l-1.9 1.9l-1.9 -1.9zM82.0 459.5l1.9 1.9l-1.9 1.9l-1.9 -1.9zM227.8 323.1l1.9 1.9l-1.9 1.9l-1.9 -1.9zM96.1 444.9l1.9 1.9l-1.9 1.9l-1.9 -1.9zM224.1 323.1l1.9 1.9l-1.9 1.9l-1.9 -1.9zM139.4 404.0l1.9 1.9l-1.9 1.9l-1.9 -1.9zM187.2 357.9l1.9 1.9l-1.9 1.9l-1.9 -1.9zM110.6 432.1l1.9 1.9l-1.9 1.9l-1.9 -1.9zM124.6 419.9l1.9 1.9l-1.9 1.9l-1.9 -1.9zM153.3 392.6l1.9 1.9l-1.9 1.9l-1.9 -1.9zM148.0 396.9l1.9 1.9l-1.9 1.9l-1.9 -1.9zM158.2 385.0l1.9 1.9l-1.9 1.9l-1.9 -1.9zM91.4 453.9l1.9 1.9l-1.9 1.9l-1.9 -1.9zM157.1 387.0l1.9 1.9l-1.9 1.9l-1.9 -1.9zM223.8 322.5l1.9 1.9l-1.9 1.9l-1.9 -1.9zM225.5 320.0l1.9 1.9l-1.9 1.9l-1.9 -1.9zM209.1 339.9l1.9 1.9l-1.9 1.9l-1.9 -1.9zM202.9 343.9l1.9 1.9l-1.9 1.9l-1.9 -1.9zM253.7 295.3l1.9 1.9l-1.9 1.9l-1.9 -1.9zM223.9 323.2l1.9 1.9l-1.9 1.9l-1.9 -1.9zM257.5 294.0l1.9 1.9l-1.9 1.9l-1.9 -1.9zM218.1 329.6l1.9 1.9l-1.9 1.9l-1.9 -1.9zM111.9 429.9l1.9 1.9l-1.9 1.9l-1.9 -1.9zM191.5 353.3l1.9 1.9l-1.9 1.9l-1.9 -1.9zM137.6 405.2l1.9 1.9l-1.9 1.9l-1.9 -1.9zM264.8 282.5l1.9 1.9l-1.9 1.9l-1.9 -1.9zM133.8 409.6l1.9 1.9l-1.9 1.9l-1.9 -1.9zM244.9 305.8l1.9 1.9l-1.9 1.9l-1.9 -1.9zM191.3 354.8l1.9 1.9l-1.9 1.9l-1.9 -1.9zM79.4 459.2l1.9 1.9l-1.9 1.9l-1.9 -1.9zM170.4 375.3l1.9 1.9l-1.9 1.9l-1.9 -1.9zM146.6 396.2l1.9 1.9l-1.9 1.9l-1.9 -1.9zM139.0 404.0l1.9 1.9l-1.9 1.9l-1.9 -1.9zM272.4 279.1l1.9 1.9l-1.9 1.9l-1.9 -1.9zM170.4 376.1l1.9 1.9l-1.9 1.9l-1.9 -1.9zM241.1 308.7l1.9 1.9l-1.9 1.9l-1.9 -1.9zM238.6 311.9l1.9 1.9l-1.9 1.9l-1.9 -1.9zM218.4 329.7l1.9 1.9l-1.9 1.9l-1.9 -1.9zM245.5 305.8l1.9 1.9l-1.9 1.9l-1.9 -1.9zM266.2 282.2l1.9 1.9l-1.9 1.9l-1.9 -1.9zM168.0 376.6l1.9 1.9l-1.9 1.9l-1.9 -1.9zM217.8 328.3l1.9 1.9l-1.9 1.9l-1.9 -1.9zM209.4 334.2l1.9 1.9l-1.9 1.9l-1.9 -1.9zM123.1 420.1l1.9 1.9l-1.9 1.9l-1.9 -1.9zM112.6 429.1l1.9 1.9l-1.9 1.9l-1.9 -1.9zM215.3 330.9l1.9 1.9l-1.9 1.9l-1.9 -1.9zM245.9 301.9l1.9 1.9l-1.9 1.9l-1.9 -1.9zM247.2 302.6l1.9 1.9l-1.9 1.9l-1.9 -1.9zM137.3 408.3l1.9 1.9l-1.9 1.9l-1.9 -1.9zM91.9 447.3l1.9 1.9l-1.9 1.9l-1.9 -1.9zM93.3 446.6l1.9 1.9l-1.9 1.9l-1.9 -1.9zM145.9 398.9l1.9 1.9l-1.9 1.9l-1.9 -1.9zM190.5 355.6l1.9 1.9l-1.9 1.9l-1.9 -1.9zM141.5 401.9l1.9 1.9l-1.9 1.9l-1.9 -1.9zM161.7 383.8l1.9 1.9l-1.9 1.9l-1.9 -1.9zM191.4 354.5l1.9 1.9l-1.9 1.9l-1.9 -1.9zM265.2 286.6l1.9 1.9l-1.9 1.9l-1.9 -1.9zM98.6 440.9l1.9 1.9l-1.9 1.9l-1.9 -1.9zM129.6 413.5l1.9 1.9l-1.9 1.9l-1.9 -1.9zM251.6 298.4l1.9 1.9l-1.9 1.9l-1.9 -1.9zM255.9 290.1l1.9 1.9l-1.9 1.9l-1.9 -1.9zM149.4 391.9l1.9 1.9l-1.9 1.9l-1.9 -1.9zM228.8 319.2l1.9 1.9l-1.9 1.9l-1.9 -1.9zM209.5 339.0l1.9 1.9l-1.9 1.9l-1.9 -1.9zM205.2 341.1l1.9 1.9l-1.9 1.9l-1.9 -1.9zM225.1 324.0l1.9 1.9l-1.9 1.9l-1.9 -1.9zM266.4 284.7l1.9 1.9l-1.9 1.9l-1.9 -1.9zM97.4 445.4l1.9 1.9l-1.9 1.9l-1.9 -1.9zM173.2 373.5l1.9 1.9l-1.9 1.9l-1.9 -1.9zM210.0 334.7l1.9 1.9l-1.9 1.9l-1.9 -1.9zM187.7 357.0l1.9 1.9l-1.9 1.9l-1.9 -1.9zM200.5 343.6l1.9 1.9l-1.9 1.9l-1.9 -1.9zM110.5 429.1l1.9 1.9l-1.9 1.9l-1.9 -1.9zM99.3 443.3l1.9 1.9l-1.9 1.9l-1.9 -1.9zM260.5 288.2l1.9 1.9l-1.9 1.9l-1.9 -1.9zM218.4 327.8l1.9 1.9l-1.9 1.9l-1.9 -1.9zM193.9 354.7l1.9 1.9l-1.9 1.9l-1.9 -1.9zM166.0 379.4l1.9 1.9l-1.9 1.9l-1.9 -1.9zM137.1 405.6l1.9 1.9l-1.9 1.9l-1.9 -1.9zM217.5 329.3l1.9 1.9l-1.9 1.9l-1.9 -1.9zM225.2 325.5l1.9 1.9l-1.9 1.9l-1.9 -1.9zM146.4 397.9l1.9 1.9l-1.9 1.9l-1.9 -1.9zM127.8 417.4l1.9 1.9l-1.9 1.9l-1.9 -1.9zM83.2 454.4l1.9 1.9l-1.9 1.9l-1.9 -1.9zM175.4 369.7l1.9 1.9l-1.9 1.9l-1.9 -1.9zM145.4 395.0l1.9 1.9l-1.9 1.9l-1.9 -1.9zM141.1 403.9l1.9 1.9l-1.9 1.9l-1.9 -1.9zM228.6 318.1l1.9 1.9l-1.9 1.9l-1.9 -1.9zM145.1 397.8l1.9 1.9l-1.9 1.9l-1.9 -1.9zM128.7 414.6l1.9 1.9l-1.9 1.9l-1.9 -1.9zM94.7 443.7l1.9 1.9l-1.9 1.9l-1.9 -1.9zM219.8 325.8l1.9 1.9l-1.9 1.9l-1.9 -1.9zM111.6 429.3l1.9 1.9l-1.9 1.9l-1.9 -1.9zM223.0 323.1l1.9 1.9l-1.9 1.9l-1.9 -1.9zM237.4 311.1l1.9 1.9l-1.9 1.9l-1.9 -1.9zM104.0 439.6l1.9 1.9l-1.9 1.9l-1.9 -1.9zM154.2 389.0l1.9 1.9l-1.9 1.9l-1.9 -1.9zM188.1 355.7l1.9 1.9l-1.9 1.9l-1.9 -1.9zM115.1 426.7l1.9 1.9l-1.9 1.9l-1.9 -1.9zM80.8 456.0l1.9 1.9l-1.9 1.9l-1.9 -1.9zM234.9 310.1l1.9 1.9l-1.9 1.9l-1.9 -1.9zM151.2 395.4l1.9 1.9l-1.9 1.9l-1.9 -1.9zM184.9 362.9l1.9 1.9l-1.9 1.9l-1.9 -1.9zM269.5 282.0l1.9 1.9l-1.9 1.9l-1.9 -1.9zM211.7 336.5l1.9 1.9l-1.9 1.9l-1.9 -1.9zM171.3 370.2l1.9 1.9l-1.9 1.9l-1.9 -1.9zM194.7 351.5l1.9 1.9l-1.9 1.9l-1.9 -1.9zM228.4 319.8l1.9 1.9l-1.9 1.9l-1.9 -1.9zM206.7 342.3l1.9 1.9l-1.9 1.9l-1.9 -1.9zM166.6 377.9l1.9 1.9l-1.9 1.9l-1.9 -1.9zM113.4 428.8l1.9 1.9l-1.9 1.9l-1.9 -1.9zM174.5 370.6l1.9 1.9l-1.9 1.9l-1.9 -1.9zM203.5 345.3l1.9 1.9l-1.9 1.9l-1.9 -1.9zM265.9 283.3l1.9 1.9l-1.9 1.9l-1.9 -1.9zM252.6 294.7l1.9 1.9l-1.9 1.9l-1.9 -1.9zM199.0 345.0l1.9 1.9l-1.9 1.9l-1.9 -1.9zM84.9 456.1l1.9 1.9l-1.9 1.9l-1.9 -1.9zM90.3 449.1l1.9 1.9l-1.9 1.9l-1.9 -1.9zM182.2 361.9l1.9 1.9l-1.9 1.9l-1.9 -1.9zM248.3 301.5l1.9 1.9l-1.9 1.9l-1.9 -1.9zM213.3 331.6l1.9 1.9l-1.9 1.9l-1.9 -1.9zM194.6 348.9l1.9 1.9l-1.9 1.9l-1.9 -1.9zM259.6 290.8l1.9 1.9l-1.9 1.9l-1.9 -1.9zM143.3 402.9l1.9 1.9l-1.9 1.9l-1.9 -1.9zM235.6 309.6l1.9 1.9l-1.9 1.9l-1.9 -1.9zM161.9 383.9l1.9 1.9l-1.9 1.9l-1.9 -1.9zM225.6 323.1l1.9 1.9l-1.9 1.9l-1.9 -1.9zM83.3 456.7l1.9 1.9l-1.9 1.9l-1.9 -1.9zM90.3 449.8l1.9 1.9l-1.9 1.9l-1.9 -1.9zM173.9 370.1l1.9 1.9l-1.9 1.9l-1.9 -1.9zM214.2 334.9l1.9 1.9l-1.9 1.9l-1.9 -1.9zM204.2 342.9l1.9 1.9l-1.9 1.9l-1.9 -1.9zM135.5 410.3l1.9 1.9l-1.9 1.9l-1.9 -1.9zM154.8 388.5l1.9 1.9l-1.9 1.9l-1.9 -1.9zM110.8 428.5l1.9 1.9l-1.9 1.9l-1.9 -1.9zM147.9 397.4l1.9 1.9l-1.9 1.9l-1.9 -1.9zM148.7 397.3l1.9 1.9l-1.9 1.9l-1.9 -1.9zM119.4 423.1l1.9 1.9l-1.9 1.9l-1.9 -1.9zM75.3 463.5l1.9 1.9l-1.9 1.9l-1.9 -1.9zM103.4 434.8l1.9 1.9l-1.9 1.9l-1.9 -1.9zM166.5 377.7l1.9 1.9l-1.9 1.9l-1.9 -1.9zM108.8 431.5l1.9 1.9l-1.9 1.9l-1.9 -1.9zM155.3 388.5l1.9 1.9l-1.9 1.9l-1.9 -1.9zM96.7 443.7l1.9 1.9l-1.9 1.9l-1.9 -1.9zM108.3 433.7l1.9 1.9l-1.9 1.9l-1.9 -1.9zM79.3 460.5l1.9 1.9l-1.9 1.9l-1.9 -1.9zM164.1 382.7l1.9 1.9l-1.9 1.9l-1.9 -1.9zM85.0 453.6l1.9 1.9l-1.9 1.9l-1.9 -1.9zM155.2 389.2l1.9 1.9l-1.9 1.9l-1.9 -1.9zM267.2 282.7l1.9 1.9l-1.9 1.9l-1.9 -1.9zM118.4 421.9l1.9 1.9l-1.9 1.9l-1.9 -1.9zM107.6 432.6l1.9 1.9l-1.9 1.9l-1.9 -1.9zM198.9 348.1l1.9 1.9l-1.9 1.9l-1.9 -1.9zM85.1 454.3l1.9 1.9l-1.9 1.9l-1.9 -1.9zM219.8 328.2l1.9 1.9l-1.9 1.9l-1.9 -1.9zM167.6 374.0l1.9 1.9l-1.9 1.9l-1.9 -1.9zM260.7 289.5l1.9 1.9l-1.9 1.9l-1.9 -1.9zM127.8 413.4l1.9 1.9l-1.9 1.9l-1.9 -1.9zM237.2 312.5l1.9 1.9l-1.9 1.9l-1.9 -1.9zM93.5 448.3l1.9 1.9l-1.9 1.9l-1.9 -1.9zM210.8 333.9l1.9 1.9l-1.9 1.9l-1.9 -1.9zM75.5 464.6l1.9 1.9l-1.9 1.9l-1.9 -1.9zM80.8 458.2l1.9 1.9l-1.9 1.9l-1.9 -1.9zM82.1 457.3l1.9 1.9l-1.9 1.9l-1.9 -1.9zM85.6 456.8l1.9 1.9l-1.9 1.9l-1.9 -1.9zM114.8 430.2l1.9 1.9l-1.9 1.9l-1.9 -1.9zM268.9 284.5l1.9 1.9l-1.9 1.9l-1.9 -1.9zM257.6 291.5l1.9 1.9l-1.9 1.9l-1.9 -1.9zM262.2 286.2l1.9 1.9l-1.9 1.9l-1.9 -1.9zM195.8 350.1l1.9 1.9l-1.9 1.9l-1.9 -1.9zM263.5 285.2l1.9 1.9l-1.9 1.9l-1.9 -1.9zM244.2 303.9l1.9 1.9l-1.9 1.9l-1.9 -1.9zM97.7 444.4l1.9 1.9l-1.9 1.9l-1.9 -1.9zM210.3 335.7l1.9 1.9l-1.9 1.9l-1.9 -1.9zM259.9 288.5l1.9 1.9l-1.9 1.9l-1.9 -1.9zM221.1 323.9l1.9 1.9l-1.9 1.9l-1.9 -1.9zM241.4 311.2l1.9 1.9l-1.9 1.9l-1.9 -1.9zM147.1 397.8l1.9 1.9l-1.9 1.9l-1.9 -1.9zM157.5 386.3l1.9 1.9l-1.9 1.9l-1.9 -1.9zM170.6 371.2l1.9 1.9l-1.9 1.9l-1.9 -1.9zM128.5 412.7l1.9 1.9l-1.9 1.9l-1.9 -1.9zM195.5 348.2l1.9 1.9l-1.9 1.9l-1.9 -1.9zM216.4 332.5l1.9 1.9l-1.9 1.9l-1.9 -1.9zM105.5 434.5l1.9 1.9l-1.9 1.9l-1.9 -1.9zM216.4 328.9l1.9 1.9l-1.9 1.9l-1.9 -1.9zM226.0 321.6l1.9 1.9l-1.9 1.9l-1.9 -1.9zM209.8 336.1l1.9 1.9l-1.9 1.9l-1.9 -1.9zM242.9 305.1l1.9 1.9l-1.9 1.9l-1.9 -1.9zM202.8 341.2l1.9 1.9l-1.9 1.9l-1.9 -1.9zM164.5 382.5l1.9 1.9l-1.9 1.9l-1.9 -1.9zM253.6 296.0l1.9 1.9l-1.9 1.9l-1.9 -1.9zM148.6 396.7l1.9 1.9l-1.9 1.9l-1.9 -1.9zM89.2 454.8l1.9 1.9l-1.9 1.9l-1.9 -1.9zM95.7 442.4l1.9 1.9l-1.9 1.9l-1.9 -1.9zM188.2 357.1l1.9 1.9l-1.9 1.9l-1.9 -1.9zM204.2 342.0l1.9 1.9l-1.9 1.9l-1.9 -1.9zM122.8 418.5l1.9 1.9l-1.9 1.9l-1.9 -1.9zM203.3 343.1l1.9 1.9l-1.9 1.9l-1.9 -1.9zM191.5 353.2l1.9 1.9l-1.9 1.9l-1.9 -1.9zM267.6 282.5l1.9 1.9l-1.9 1.9l-1.9 -1.9zM118.7 425.1l1.9 1.9l-1.9 1.9l-1.9 -1.9zM230.5 318.4l1.9 1.9l-1.9 1.9l-1.9 -1.9zM195.3 350.4l1.9 1.9l-1.9 1.9l-1.9 -1.9zM112.3 431.5l1.9 1.9l-1.9 1.9l-1.9 -1.9zM110.2 428.4l1.9 1.9l-1.9 1.9l-1.9 -1.9zM97.2 442.0l1.9 1.9l-1.9 1.9l-1.9 -1.9zM79.6 459.1l1.9 1.9l-1.9 1.9l-1.9 -1.9zM252.8 296.8l1.9 1.9l-1.9 1.9l-1.9 -1.9zM91.9 449.9l1.9 1.9l-1.9 1.9l-1.9 -1.9zM240.1 308.3l1.9 1.9l-1.9 1.9l-1.9 -1.9zM197.5 350.8l1.9 1.9l-1.9 1.9l-1.9 -1.9zM248.5 302.9l1.9 1.9l-1.9 1.9l-1.9 -1.9zM143.8 401.2l1.9 1.9l-1.9 1.9l-1.9 -1.9zM96.9 445.1l1.9 1.9l-1.9 1.9l-1.9 -1.9zM241.3 310.1l1.9 1.9l-1.9 1.9l-1.9 -1.9zM115.9 427.8l1.9 1.9l-1.9 1.9l-1.9 -1.9zM182.3 366.0l1.9 1.9l-1.9 1.9l-1.9 -1.9zM90.2 449.6l1.9 1.9l-1.9 1.9l-1.9 -1.9zM143.8 400.3l1.9 1.9l-1.9 1.9l-1.9 -1.9zM185.0 360.6l1.9 1.9l-1.9 1.9l-1.9 -1.9zM221.4 328.6l1.9 1.9l-1.9 1.9l-1.9 -1.9zM195.6 349.5l1.9 1.9l-1.9 1.9l-1.9 -1.9zM117.5 427.9l1.9 1.9l-1.9 1.9l-1.9 -1.9zM141.6 396.9l1.9 1.9l-1.9 1.9l-1.9 -1.9zM160.7 382.6l1.9 1.9l-1.9 1.9l-1.9 -1.9zM107.7 433.0l1.9 1.9l-1.9 1.9l-1.9 -1.9zM260.3 290.0l1.9 1.9l-1.9 1.9l-1.9 -1.9zM271.4 282.5l1.9 1.9l-1.9 1.9l-1.9 -1.9zM196.8 347.5l1.9 1.9l-1.9 1.9l-1.9 -1.9zM158.3 386.8l1.9 1.9l-1.9 1.9l-1.9 -1.9zM263.8 282.6l1.9 1.9l-1.9 1.9l-1.9 -1.9zM171.3 376.1l1.9 1.9l-1.9 1.9l-1.9 -1.9zM229.0 324.2l1.9 1.9l-1.9 1.9l-1.9 -1.9zM258.2 288.0l1.9 1.9l-1.9 1.9l-1.9 -1.9zM133.0 408.7l1.9 1.9l-1.9 1.9l-1.9 -1.9zM93.9 447.2l1.9 1.9l-1.9 1.9l-1.9 -1.9zM218.8 329.3l1.9 1.9l-1.9 1.9l-1.9 -1.9zM202.2 342.3l1.9 1.9l-1.9 1.9l-1.9 -1.9zM82.9 457.2l1.9 1.9l-1.9 1.9l-1.9 -1.9zM161.0 384.8l1.9 1.9l-1.9 1.9l-1.9 -1.9zM143.5 400.0l1.9 1.9l-1.9 1.9l-1.9 -1.9zM132.1 413.6l1.9 1.9l-1.9 1.9l-1.9 -1.9zM95.4 445.9l1.9 1.9l-1.9 1.9l-1.9 -1.9zM90.3 448.4l1.9 1.9l-1.9 1.9l-1.9 -1.9zM105.3 435.7l1.9 1.9l-1.9 1.9l-1.9 -1.9zM269.4 283.6l1.9 1.9l-1.9 1.9l-1.9 -1.9zM270.1 279.0l1.9 1.9l-1.9 1.9l-1.9 -1.9zM107.0 435.6l1.9 1.9l-1.9 1.9l-1.9 -1.9zM137.0 408.2l1.9 1.9l-1.9 1.9l-1.9 -1.9zM182.8 362.2l1.9 1.9l-1.9 1.9l-1.9 -1.9zM146.5 396.2l1.9 1.9l-1.9 1.9l-1.9 -1.9zM167.1 378.7l1.9 1.9l-1.9 1.9l-1.9 -1.9zM251.6 297.2l1.9 1.9l-1.9 1.9l-1.9 -1.9zM123.2 420.5l1.9 1.9l-1.9 1.9l-1.9 -1.9zM235.6 311.9l1.9 1.9l-1.9 1.9l-1.9 -1.9zM180.6 364.7l1.9 1.9l-1.9 1.9l-1.9 -1.9zM181.6 363.6l1.9 1.9l-1.9 1.9l-1.9 -1.9zM115.4 425.9l1.9 1.9l-1.9 1.9l-1.9 -1.9zM228.3 324.6l1.9 1.9l-1.9 1.9l-1.9 -1.9zM231.4 315.8l1.9 1.9l-1.9 1.9l-1.9 -1.9zM270.0 279.2l1.9 1.9l-1.9 1.9l-1.9 -1.9zM77.4 462.1l1.9 1.9l-1.9 1.9l-1.9 -1.9zM161.0 383.7l1.9 1.9l-1.9 1.9l-1.9 -1.9zM183.6 361.4l1.9 1.9l-1.9 1.9l-1.9 -1.9zM93.5 447.6l1.9 1.9l-1.9 1.9l-1.9 -1.9zM234.7 312.4l1.9 1.9l-1.9 1.9l-1.9 -1.9zM158.2 386.0l1.9 1.9l-1.9 1.9l-1.9 -1.9zM160.4 383.3l1.9 1.9l-1.9 1.9l-1.9 -1.9zM199.9 348.4l1.9 1.9l-1.9 1.9l-1.9 -1.9zM236.0 316.0l1.9 1.9l-1.9 1.9l-1.9 -1.9zM124.1 416.2l1.9 1.9l-1.9 1.9l-1.9 -1.9zM232.2 313.8l1.9 1.9l-1.9 1.9l-1.9 -1.9zM176.2 367.8l1.9 1.9l-1.9 1.9l-1.9 -1.9zM130.5 414.1l1.9 1.9l-1.9 1.9l-1.9 -1.9zM108.4 430.5l1.9 1.9l-1.9 1.9l-1.9 -1.9zM253.6 295.5l1.9 1.9l-1.9 1.9l-1.9 -1.9zM255.4 296.7l1.9 1.9l-1.9 1.9l-1.9 -1.9zM259.9 289.3l1.9 1.9l-1.9 1.9l-1.9 -1.9zM237.0 312.9l1.9 1.9l-1.9 1.9l-1.9 -1.9zM178.1 368.2l1.9 1.9l-1.9 1.9l-1.9 -1.9zM108.8 431.5l1.9 1.9l-1.9 1.9l-1.9 -1.9zM272.5 275.4l1.9 1.9l-1.9 1.9l-1.9 -1.9zM183.8 363.1l1.9 1.9l-1.9 1.9l-1.9 -1.9zM165.5 378.2l1.9 1.9l-1.9 1.9l-1.9 -1.9zM234.8 317.9l1.9 1.9l-1.9 1.9l-1.9 -1.9zM105.8 434.2l1.9 1.9l-1.9 1.9l-1.9 -1.9zM137.6 407.3l1.9 1.9l-1.9 1.9l-1.9 -1.9zM244.4 304.7l1.9 1.9l-1.9 1.9l-1.9 -1.9zM239.7 306.7l1.9 1.9l-1.9 1.9l-1.9 -1.9zM80.9 460.1l1.9 1.9l-1.9 1.9l-1.9 -1.9zM189.3 358.5l1.9 1.9l-1.9 1.9l-1.9 -1.9zM130.6 412.7l1.9 1.9l-1.9 1.9l-1.9 -1.9zM216.2 330.5l1.9 1.9l-1.9 1.9l-1.9 -1.9zM208.1 339.3l1.9 1.9l-1.9 1.9l-1.9 -1.9zM148.8 398.6l1.9 1.9l-1.9 1.9l-1.9 -1.9zM266.2 284.2l1.9 1.9l-1.9 1.9l-1.9 -1.9zM203.1 342.2l1.9 1.9l-1.9 1.9l-1.9 -1.9zM110.9 426.9l1.9 1.9l-1.9 1.9l-1.9 -1.9zM151.2 391.9l1.9 1.9l-1.9 1.9l-1.9 -1.9zM128.8 415.1l1.9 1.9l-1.9 1.9l-1.9 -1.9zM264.1 284.4l1.9 1.9l-1.9 1.9l-1.9 -1.9zM153.0 391.4l1.9 1.9l-1.9 1.9l-1.9 -1.9zM131.0 410.8l1.9 1.9l-1.9 1.9l-1.9 -1.9zM270.2 279.2l1.9 1.9l-1.9 1.9l-1.9 -1.9zM90.6 449.7l1.9 1.9l-1.9 1.9l-1.9 -1.9zM90.7 448.6l1.9 1.9l-1.9 1.9l-1.9 -1.9zM179.7 365.8l1.9 1.9l-1.9 1.9l-1.9 -1.9zM200.6 349.3l1.9 1.9l-1.9 1.9l-1.9 -1.9zM237.8 309.3l1.9 1.9l-1.9 1.9l-1.9 -1.9zM266.4 283.7l1.9 1.9l-1.9 1.9l-1.9 -1.9zM88.6 452.0l1.9 1.9l-1.9 1.9l-1.9 -1.9zM128.2 412.3l1.9 1.9l-1.9 1.9l-1.9 -1.9zM183.6 360.7l1.9 1.9l-1.9 1.9l-1.9 -1.9zM265.7 284.0l1.9 1.9l-1.9 1.9l-1.9 -1.9zM103.5 436.7l1.9 1.9l-1.9 1.9l-1.9 -1.9zM272.7 278.4l1.9 1.9l-1.9 1.9l-1.9 -1.9zM209.3 338.3l1.9 1.9l-1.9 1.9l-1.9 -1.9zM85.7 455.3l1.9 1.9l-1.9 1.9l-1.9 -1.9zM226.2 321.2l1.9 1.9l-1.9 1.9l-1.9 -1.9zM238.8 308.8l1.9 1.9l-1.9 1.9l-1.9 -1.9zM249.2 295.7l1.9 1.9l-1.9 1.9l-1.9 -1.9zM181.4 362.7l1.9 1.9l-1.9 1.9l-1.9 -1.9zM151.0 391.4l1.9 1.9l-1.9 1.9l-1.9 -1.9zM271.6 277.7l1.9 1.9l-1.9 1.9l-1.9 -1.9zM130.8 411.2l1.9 1.9l-1.9 1.9l-1.9 -1.9zM100.1 440.2l1.9 1.9l-1.9 1.9l-1.9 -1.9zM145.0 397.8l1.9 1.9l-1.9 1.9l-1.9 -1.9zM113.1 429.0l1.9 1.9l-1.9 1.9l-1.9 -1.9zM262.0 282.9l1.9 1.9l-1.9 1.9l-1.9 -1.9zM123.8 418.6l1.9 1.9l-1.9 1.9l-1.9 -1.9zM145.4 396.1l1.9 1.9l-1.9 1.9l-1.9 -1.9zM215.0 332.9l1.9 1.9l-1.9 1.9l-1.9 -1.9zM137.2 404.2l1.9 1.9l-1.9 1.9l-1.9 -1.9zM223.9 323.6l1.9 1.9l-1.9 1.9l-1.9 -1.9zM230.6 319.3l1.9 1.9l-1.9 1.9l-1.9 -1.9zM182.1 364.3l1.9 1.9l-1.9 1.9l-1.9 -1.9zM163.0 384.8l1.9 1.9l-1.9 1.9l-1.9 -1.9zM114.8 427.8l1.9 1.9l-1.9 1.9l-1.9 -1.9zM193.3 349.7l1.9 1.9l-1.9 1.9l-1.9 -1.9zM110.6 432.4l1.9 1.9l-1.9 1.9l-1.9 -1.9zM266.8 282.7l1.9 1.9l-1.9 1.9l-1.9 -1.9zM127.8 415.6l1.9 1.9l-1.9 1.9l-1.9 -1.9zM115.1 422.0l1.9 1.9l-1.9 1.9l-1.9 -1.9zM156.4 386.1l1.9 1.9l-1.9 1.9l-1.9 -1.9zM248.7 300.2l1.9 1.9l-1.9 1.9l-1.9 -1.9zM248.2 300.7l1.9 1.9l-1.9 1.9l-1.9 -1.9zM233.1 312.5l1.9 1.9l-1.9 1.9l-1.9 -1.9zM179.5 366.0l1.9 1.9l-1.9 1.9l-1.9 -1.9zM227.5 318.6l1.9 1.9l-1.9 1.9l-1.9 -1.9zM162.7 380.5l1.9 1.9l-1.9 1.9l-1.9 -1.9zM104.0 438.5l1.9 1.9l-1.9 1.9l-1.9 -1.9zM175.7 370.3l1.9 1.9l-1.9 1.9l-1.9 -1.9zM149.2 395.1l1.9 1.9l-1.9 1.9l-1.9 -1.9zM194.6 350.0l1.9 1.9l-1.9 1.9l-1.9 -1.9zM270.2 276.8l1.9 1.9l-1.9 1.9l-1.9 -1.9zM241.3 308.8l1.9 1.9l-1.9 1.9l-1.9 -1.9zM132.0 409.4l1.9 1.9l-1.9 1.9l-1.9 -1.9zM99.4 441.8l1.9 1.9l-1.9 1.9l-1.9 -1.9zM174.6 370.6l1.9 1.9l-1.9 1.9l-1.9 -1.9zM203.4 344.9l1.9 1.9l-1.9 1.9l-1.9 -1.9zM131.1 409.7l1.9 1.9l-1.9 1.9l-1.9 -1.9zM170.0 375.2l1.9 1.9l-1.9 1.9l-1.9 -1.9zM180.7 361.0l1.9 1.9l-1.9 1.9l-1.9 -1.9zM180.1 368.9l1.9 1.9l-1.9 1.9l-1.9 -1.9zM162.8 382.1l1.9 1.9l-1.9 1.9l-1.9 -1.9zM159.6 385.1l1.9 1.9l-1.9 1.9l-1.9 -1.9zM243.7 305.0l1.9 1.9l-1.9 1.9l-1.9 -1.9zM245.1 304.4l1.9 1.9l-1.9 1.9l-1.9 -1.9zM151.3 390.8l1.9 1.9l-1.9 1.9l-1.9 -1.9zM117.6 424.6l1.9 1.9l-1.9 1.9l-1.9 -1.9zM184.2 360.0l1.9 1.9l-1.9 1.9l-1.9 -1.9zM247.7 302.6l1.9 1.9l-1.9 1.9l-1.9 -1.9zM216.6 331.8l1.9 1.9l-1.9 1.9l-1.9 -1.9zM175.5 368.4l1.9 1.9l-1.9 1.9l-1.9 -1.9zM154.3 391.4l1.9 1.9l-1.9 1.9l-1.9 -1.9zM249.2 298.1l1.9 1.9l-1.9 1.9l-1.9 -1.9zM191.3 353.9l1.9 1.9l-1.9 1.9l-1.9 -1.9zM148.7 393.9l1.9 1.9l-1.9 1.9l-1.9 -1.9zM197.3 348.5l1.9 1.9l-1.9 1.9l-1.9 -1.9zM138.7 403.8l1.9 1.9l-1.9 1.9l-1.9 -1.9zM131.2 409.3l1.9 1.9l-1.9 1.9l-1.9 -1.9zM258.4 290.8l1.9 1.9l-1.9 1.9l-1.9 -1.9zM181.3 364.4l1.9 1.9l-1.9 1.9l-1.9 -1.9zM241.8 310.3l1.9 1.9l-1.9 1.9l-1.9 -1.9zM256.8 295.3l1.9 1.9l-1.9 1.9l-1.9 -1.9zM98.9 441.1l1.9 1.9l-1.9 1.9l-1.9 -1.9zM250.2 300.5l1.9 1.9l-1.9 1.9l-1.9 -1.9zM252.2 295.7l1.9 1.9l-1.9 1.9l-1.9 -1.9zM132.0 409.6l1.9 1.9l-1.9 1.9l-1.9 -1.9zM194.2 348.9l1.9 1.9l-1.9 1.9l-1.9 -1.9zM91.7 447.2l1.9 1.9l-1.9 1.9l-1.9 -1.9zM76.3 463.1l1.9 1.9l-1.9 1.9l-1.9 -1.9zM240.7 307.4l1.9 1.9l-1.9 1.9l-1.9 -1.9zM152.3 390.3l1.9 1.9l-1.9 1.9l-1.9 -1.9zM176.8 370.7l1.9 1.9l-1.9 1.9l-1.9 -1.9zM206.3 339.5l1.9 1.9l-1.9 1.9l-1.9 -1.9zM161.7 378.6l1.9 1.9l-1.9 1.9l-1.9 -1.9zM212.6 331.7l1.9 1.9l-1.9 1.9l-1.9 -1.9zM91.5 451.9l1.9 1.9l-1.9 1.9l-1.9 -1.9zM272.5 276.9l1.9 1.9l-1.9 1.9l-1.9 -1.9zM88.0 450.3l1.9 1.9l-1.9 1.9l-1.9 -1.9zM158.9 385.2l1.9 1.9l-1.9 1.9l-1.9 -1.9zM253.1 295.6l1.9 1.9l-1.9 1.9l-1.9 -1.9zM158.3 387.3l1.9 1.9l-1.9 1.9l-1.9 -1.9zM191.0 354.1l1.9 1.9l-1.9 1.9l-1.9 -1.9zM152.9 391.8l1.9 1.9l-1.9 1.9l-1.9 -1.9zM92.4 448.4l1.9 1.9l-1.9 1.9l-1.9 -1.9zM261.2 289.0l1.9 1.9l-1.9 1.9l-1.9 -1.9zM179.2 366.8l1.9 1.9l-1.9 1.9l-1.9 -1.9zM121.1 421.4l1.9 1.9l-1.9 1.9l-1.9 -1.9zM168.2 375.1l1.9 1.9l-1.9 1.9l-1.9 -1.9zM131.5 412.9l1.9 1.9l-1.9 1.9l-1.9 -1.9zM270.5 280.9l1.9 1.9l-1.9 1.9l-1.9 -1.9zM115.1 428.5l1.9 1.9l-1.9 1.9l-1.9 -1.9zM134.3 407.8l1.9 1.9l-1.9 1.9l-1.9 -1.9zM180.7 365.2l1.9 1.9l-1.9 1.9l-1.9 -1.9zM198.4 349.9l1.9 1.9l-1.9 1.9l-1.9 -1.9zM256.2 291.0l1.9 1.9l-1.9 1.9l-1.9 -1.9zM245.7 303.3l1.9 1.9l-1.9 1.9l-1.9 -1.9zM86.7 454.7l1.9 1.9l-1.9 1.9l-1.9 -1.9zM161.1 383.7l1.9 1.9l-1.9 1.9l-1.9 -1.9zM248.5 299.6l1.9 1.9l-1.9 1.9l-1.9 -1.9zM117.9 422.2l1.9 1.9l-1.9 1.9l-1.9 -1.9zM98.7 446.0l1.9 1.9l-1.9 1.9l-1.9 -1.9zM256.9 293.7l1.9 1.9l-1.9 1.9l-1.9 -1.9zM112.0 428.9l1.9 1.9l-1.9 1.9l-1.9 -1.9zM82.3 459.5l1.9 1.9l-1.9 1.9l-1.9 -1.9zM244.5 304.4l1.9 1.9l-1.9 1.9l-1.9 -1.9zM240.8 306.2l1.9 1.9l-1.9 1.9l-1.9 -1.9zM152.4 390.8l1.9 1.9l-1.9 1.9l-1.9 -1.9zM110.2 431.3l1.9 1.9l-1.9 1.9l-1.9 -1.9zM213.1 332.6l1.9 1.9l-1.9 1.9l-1.9 -1.9zM142.6 399.7l1.9 1.9l-1.9 1.9l-1.9 -1.9zM162.9 380.7l1.9 1.9l-1.9 1.9l-1.9 -1.9zM187.4 358.3l1.9 1.9l-1.9 1.9l-1.9 -1.9zM117.7 421.5l1.9 1.9l-1.9 1.9l-1.9 -1.9zM208.5 339.3l1.9 1.9l-1.9 1.9l-1.9 -1.9zM224.5 324.0l1.9 1.9l-1.9 1.9l-1.9 -1.9zM153.4 392.9l1.9 1.9l-1.9 1.9l-1.9 -1.9zM200.0 347.1l1.9 1.9l-1.9 1.9l-1.9 -1.9zM163.0 378.5l1.9 1.9l-1.9 1.9l-1.9 -1.9zM246.1 301.8l1.9 1.9l-1.9 1.9l-1.9 -1.9zM172.5 373.7l1.9 1.9l-1.9 1.9l-1.9 -1.9zM253.9 296.2l1.9 1.9l-1.9 1.9l-1.9 -1.9zM211.5 335.1l1.9 1.9l-1.9 1.9l-1.9 -1.9zM271.3 275.8l1.9 1.9l-1.9 1.9l-1.9 -1.9zM143.8 397.6l1.9 1.9l-1.9 1.9l-1.9 -1.9zM110.4 431.2l1.9 1.9l-1.9 1.9l-1.9 -1.9zM217.7 331.3l1.9 1.9l-1.9 1.9l-1.9 -1.9zM191.1 352.4l1.9 1.9l-1.9 1.9l-1.9 -1.9zM96.3 447.9l1.9 1.9l-1.9 1.9l-1.9 -1.9zM170.0 375.4l1.9 1.9l-1.9 1.9l-1.9 -1.9zM182.3 361.9l1.9 1.9l-1.9 1.9l-1.9 -1.9zM173.0 373.5l1.9 1.9l-1.9 1.9l-1.9 -1.9zM191.0 354.5l1.9 1.9l-1.9 1.9l-1.9 -1.9zM93.4 448.3l1.9 1.9l-1.9 1.9l-1.9 -1.9zM226.5 322.8l1.9 1.9l-1.9 1.9l-1.9 -1.9zM252.6 297.2l1.9 1.9l-1.9 1.9l-1.9 -1.9zM251.1 303.3l1.9 1.9l-1.9 1.9l-1.9 -1.9zM241.4 308.7l1.9 1.9l-1.9 1.9l-1.9 -1.9zM223.9 323.9l1.9 1.9l-1.9 1.9l-1.9 -1.9zM210.1 336.7l1.9 1.9l-1.9 1.9l-1.9 -1.9zM221.3 327.5l1.9 1.9l-1.9 1.9l-1.9 -1.9zM187.8 356.3l1.9 1.9l-1.9 1.9l-1.9 -1.9zM124.6 418.5l1.9 1.9l-1.9 1.9l-1.9 -1.9zM151.6 394.3l1.9 1.9l-1.9 1.9l-1.9 -1.9zM96.6 445.6l1.9 1.9l-1.9 1.9l-1.9 -1.9zM219.3 328.8l1.9 1.9l-1.9 1.9l-1.9 -1.9zM109.2 433.2l1.9 1.9l-1.9 1.9l-1.9 -1.9zM156.2 387.2l1.9 1.9l-1.9 1.9l-1.9 -1.9zM189.7 355.7l1.9 1.9l-1.9 1.9l-1.9 -1.9zM170.9 373.6l1.9 1.9l-1.9 1.9l-1.9 -1.9zM115.0 427.9l1.9 1.9l-1.9 1.9l-1.9 -1.9zM94.9 445.8l1.9 1.9l-1.9 1.9l-1.9 -1.9zM181.9 360.4l1.9 1.9l-1.9 1.9l-1.9 -1.9zM177.5 369.4l1.9 1.9l-1.9 1.9l-1.9 -1.9zM154.0 388.6l1.9 1.9l-1.9 1.9l-1.9 -1.9zM137.4 405.0l1.9 1.9l-1.9 1.9l-1.9 -1.9zM262.5 284.2l1.9 1.9l-1.9 1.9l-1.9 -1.9zM169.8 372.1l1.9 1.9l-1.9 1.9l-1.9 -1.9zM161.3 383.4l1.9 1.9l-1.9 1.9l-1.9 -1.9zM111.9 425.2l1.9 1.9l-1.9 1.9l-1.9 -1.9zM188.7 358.4l1.9 1.9l-1.9 1.9l-1.9 -1.9zM119.2 422.9l1.9 1.9l-1.9 1.9l-1.9 -1.9zM271.2 278.4l1.9 1.9l-1.9 1.9l-1.9 -1.9zM254.8 297.5l1.9 1.9l-1.9 1.9l-1.9 -1.9zM94.4 447.1l1.9 1.9l-1.9 1.9l-1.9 -1.9zM119.7 425.2l1.9 1.9l-1.9 1.9l-1.9 -1.9zM165.9 377.1l1.9 1.9l-1.9 1.9l-1.9 -1.9zM226.7 321.4l1.9 1.9l-1.9 1.9l-1.9 -1.9zM107.7 434.4l1.9 1.9l-1.9 1.9l-1.9 -1.9zM176.2 370.2l1.9 1.9l-1.9 1.9l-1.9 -1.9zM149.0 392.6l1.9 1.9l-1.9 1.9l-1.9 -1.9zM175.3 372.0l1.9 1.9l-1.9 1.9l-1.9 -1.9zM211.8 338.2l1.9 1.9l-1.9 1.9l-1.9 -1.9zM126.1 414.9l1.9 1.9l-1.9 1.9l-1.9 -1.9zM183.3 363.8l1.9 1.9l-1.9 1.9l-1.9 -1.9zM84.1 456.9l1.9 1.9l-1.9 1.9l-1.9 -1.9zM108.7 433.6l1.9 1.9l-1.9 1.9l-1.9 -1.9zM225.9 322.9l1.9 1.9l-1.9 1.9l-1.9 -1.9zM175.4 366.4l1.9 1.9l-1.9 1.9l-1.9 -1.9zM219.8 328.8l1.9 1.9l-1.9 1.9l-1.9 -1.9zM149.0 392.4l1.9 1.9l-1.9 1.9l-1.9 -1.9zM223.4 323.7l1.9 1.9l-1.9 1.9l-1.9 -1.9zM258.4 291.0l1.9 1.9l-1.9 1.9l-1.9 -1.9zM270.2 279.1l1.9 1.9l-1.9 1.9l-1.9 -1.9zM222.2 328.4l1.9 1.9l-1.9 1.9l-1.9 -1.9zM104.6 436.4l1.9 1.9l-1.9 1.9l-1.9 -1.9zM183.2 363.5l1.9 1.9l-1.9 1.9l-1.9 -1.9zM106.9 436.6l1.9 1.9l-1.9 1.9l-1.9 -1.9zM102.1 441.7l1.9 1.9l-1.9 1.9l-1.9 -1.9zM102.3 441.4l1.9 1.9l-1.9 1.9l-1.9 -1.9zM76.2 460.7l1.9 1.9l-1.9 1.9l-1.9 -1.9zM152.7 389.6l1.9 1.9l-1.9 1.9l-1.9 -1.9zM165.6 376.5l1.9 1.9l-1.9 1.9l-1.9 -1.9zM127.3 415.3l1.9 1.9l-1.9 1.9l-1.9 -1.9zM214.5 331.3l1.9 1.9l-1.9 1.9l-1.9 -1.9zM214.0 333.2l1.9 1.9l-1.9 1.9l-1.9 -1.9zM108.8 430.5l1.9 1.9l-1.9 1.9l-1.9 -1.9zM140.1 402.6l1.9 1.9l-1.9 1.9l-1.9 -1.9zM268.4 279.3l1.9 1.9l-1.9 1.9l-1.9 -1.9zM152.2 389.7l1.9 1.9l-1.9 1.9l-1.9 -1.9zM235.3 315.6l1.9 1.9l-1.9 1.9l-1.9 -1.9zM139.9 402.4l1.9 1.9l-1.9 1.9l-1.9 -1.9zM119.6 425.6l1.9 1.9l-1.9 1.9l-1.9 -1.9zM143.6 398.8l1.9 1.9l-1.9 1.9l-1.9 -1.9zM120.6 422.2l1.9 1.9l-1.9 1.9l-1.9 -1.9zM137.7 404.9l1.9 1.9l-1.9 1.9l-1.9 -1.9zM189.0 359.2l1.9 1.9l-1.9 1.9l-1.9 -1.9zM132.6 410.8l1.9 1.9l-1.9 1.9l-1.9 -1.9zM79.7 458.5l1.9 1.9l-1.9 1.9l-1.9 -1.9zM114.0 427.5l1.9 1.9l-1.9 1.9l-1.9 -1.9zM188.2 357.9l1.9 1.9l-1.9 1.9l-1.9 -1.9zM194.7 348.5l1.9 1.9l-1.9 1.9l-1.9 -1.9zM206.8 340.2l1.9 1.9l-1.9 1.9l-1.9 -1.9zM159.8 386.6l1.9 1.9l-1.9 1.9l-1.9 -1.9zM136.3 403.8l1.9 1.9l-1.9 1.9l-1.9 -1.9zM174.5 369.4l1.9 1.9l-1.9 1.9l-1.9 -1.9zM94.7 443.9l1.9 1.9l-1.9 1.9l-1.9 -1.9zM199.1 348.4l1.9 1.9l-1.9 1.9l-1.9 -1.9zM162.2 377.3l1.9 1.9l-1.9 1.9l-1.9 -1.9zM108.3 428.1l1.9 1.9l-1.9 1.9l-1.9 -1.9zM147.8 394.9l1.9 1.9l-1.9 1.9l-1.9 -1.9zM174.4 370.7l1.9 1.9l-1.9 1.9l-1.9 -1.9zM170.4 374.4l1.9 1.9l-1.9 1.9l-1.9 -1.9zM157.4 382.7l1.9 1.9l-1.9 1.9l-1.9 -1.9zM77.1 462.8l1.9 1.9l-1.9 1.9l-1.9 -1.9zM216.0 331.3l1.9 1.9l-1.9 1.9l-1.9 -1.9zM248.0 300.6l1.9 1.9l-1.9 1.9l-1.9 -1.9zM209.4 337.9l1.9 1.9l-1.9 1.9l-1.9 -1.9zM135.5 408.9l1.9 1.9l-1.9 1.9l-1.9 -1.9zM135.6 407.1l1.9 1.9l-1.9 1.9l-1.9 -1.9zM101.3 440.3l1.9 1.9l-1.9 1.9l-1.9 -1.9zM267.0 283.7l1.9 1.9l-1.9 1.9l-1.9 -1.9zM83.5 455.4l1.9 1.9l-1.9 1.9l-1.9 -1.9zM91.4 449.3l1.9 1.9l-1.9 1.9l-1.9 -1.9zM223.2 327.5l1.9 1.9l-1.9 1.9l-1.9 -1.9zM176.1 369.6l1.9 1.9l-1.9 1.9l-1.9 -1.9zM200.5 343.7l1.9 1.9l-1.9 1.9l-1.9 -1.9zM176.9 366.9l1.9 1.9l-1.9 1.9l-1.9 -1.9zM266.6 282.9l1.9 1.9l-1.9 1.9l-1.9 -1.9zM209.6 337.4l1.9 1.9l-1.9 1.9l-1.9 -1.9zM259.4 292.8l1.9 1.9l-1.9 1.9l-1.9 -1.9zM186.5 357.9l1.9 1.9l-1.9 1.9l-1.9 -1.9zM152.7 393.5l1.9 1.9l-1.9 1.9l-1.9 -1.9zM80.6 458.8l1.9 1.9l-1.9 1.9l-1.9 -1.9zM135.7 407.3l1.9 1.9l-1.9 1.9l-1.9 -1.9zM169.1 377.0l1.9 1.9l-1.9 1.9l-1.9 -1.9zM126.0 418.1l1.9 1.9l-1.9 1.9l-1.9 -1.9zM223.0 322.7l1.9 1.9l-1.9 1.9l-1.9 -1.9zM265.5 285.7l1.9 1.9l-1.9 1.9l-1.9 -1.9zM142.0 401.2l1.9 1.9l-1.9 1.9l-1.9 -1.9zM86.5 453.6l1.9 1.9l-1.9 1.9l-1.9 -1.9zM196.6 347.3l1.9 1.9l-1.9 1.9l-1.9 -1.9zM122.9 419.0l1.9 1.9l-1.9 1.9l-1.9 -1.9zM110.4 430.4l1.9 1.9l-1.9 1.9l-1.9 -1.9zM174.7 370.5l1.9 1.9l-1.9 1.9l-1.9 -1.9zM187.4 354.7l1.9 1.9l-1.9 1.9l-1.9 -1.9zM142.6 401.2l1.9 1.9l-1.9 1.9l-1.9 -1.9zM220.9 326.5l1.9 1.9l-1.9 1.9l-1.9 -1.9zM224.5 325.2l1.9 1.9l-1.9 1.9l-1.9 -1.9zM129.1 411.3l1.9 1.9l-1.9 1.9l-1.9 -1.9zM118.5 423.3l1.9 1.9l-1.9 1.9l-1.9 -1.9zM195.6 349.5l1.9 1.9l-1.9 1.9l-1.9 -1.9zM202.8 344.0l1.9 1.9l-1.9 1.9l-1.9 -1.9zM227.5 321.3l1.9 1.9l-1.9 1.9l-1.9 -1.9zM170.1 376.2l1.9 1.9l-1.9 1.9l-1.9 -1.9zM161.1 381.8l1.9 1.9l-1.9 1.9l-1.9 -1.9zM114.7 429.1l1.9 1.9l-1.9 1.9l-1.9 -1.9zM217.4 328.5l1.9 1.9l-1.9 1.9l-1.9 -1.9zM257.2 291.1l1.9 1.9l-1.9 1.9l-1.9 -1.9zM234.3 310.5l1.9 1.9l-1.9 1.9l-1.9 -1.9zM216.9 329.5l1.9 1.9l-1.9 1.9l-1.9 -1.9zM229.6 318.6l1.9 1.9l-1.9 1.9l-1.9 -1.9zM254.1 293.6l1.9 1.9l-1.9 1.9l-1.9 -1.9zM263.5 284.7l1.9 1.9l-1.9 1.9l-1.9 -1.9zM133.2 407.2l1.9 1.9l-1.9 1.9l-1.9 -1.9zM161.5 385.9l1.9 1.9l-1.9 1.9l-1.9 -1.9zM103.7 436.7l1.9 1.9l-1.9 1.9l-1.9 -1.9zM158.9 382.0l1.9 1.9l-1.9 1.9l-1.9 -1.9zM137.7 409.2l1.9 1.9l-1.9 1.9l-1.9 -1.9zM125.4 415.5l1.9 1.9l-1.9 1.9l-1.9 -1.9zM78.4 459.9l1.9 1.9l-1.9 1.9l-1.9 -1.9zM151.6 392.7l1.9 1.9l-1.9 1.9l-1.9 -1.9zM269.3 281.1l1.9 1.9l-1.9 1.9l-1.9 -1.9zM251.7 296.8l1.9 1.9l-1.9 1.9l-1.9 -1.9zM123.4 418.1l1.9 1.9l-1.9 1.9l-1.9 -1.9zM120.5 417.5l1.9 1.9l-1.9 1.9l-1.9 -1.9zM254.4 295.8l1.9 1.9l-1.9 1.9l-1.9 -1.9zM117.8 422.8l1.9 1.9l-1.9 1.9l-1.9 -1.9zM182.9 364.3l1.9 1.9l-1.9 1.9l-1.9 -1.9zM175.9 369.9l1.9 1.9l-1.9 1.9l-1.9 -1.9zM134.2 406.5l1.9 1.9l-1.9 1.9l-1.9 -1.9zM224.9 326.5l1.9 1.9l-1.9 1.9l-1.9 -1.9zM238.2 309.1l1.9 1.9l-1.9 1.9l-1.9 -1.9zM115.4 425.8l1.9 1.9l-1.9 1.9l-1.9 -1.9zM105.7 431.8l1.9 1.9l-1.9 1.9l-1.9 -1.9zM257.0 293.3l1.9 1.9l-1.9 1.9l-1.9 -1.9zM186.0 358.3l1.9 1.9l-1.9 1.9l-1.9 -1.9zM86.0 452.9l1.9 1.9l-1.9 1.9l-1.9 -1.9zM255.1 294.5l1.9 1.9l-1.9 1.9l-1.9 -1.9zM263.3 285.2l1.9 1.9l-1.9 1.9l-1.9 -1.9zM114.8 425.7l1.9 1.9l-1.9 1.9l-1.9 -1.9zM207.3 340.3l1.9 1.9l-1.9 1.9l-1.9 -1.9zM96.1 443.3l1.9 1.9l-1.9 1.9l-1.9 -1.9zM143.6 400.9l1.9 1.9l-1.9 1.9l-1.9 -1.9zM205.2 342.7l1.9 1.9l-1.9 1.9l-1.9 -1.9zM99.6 442.2l1.9 1.9l-1.9 1.9l-1.9 -1.9zM189.5 352.8l1.9 1.9l-1.9 1.9l-1.9 -1.9zM143.3 399.5l1.9 1.9l-1.9 1.9l-1.9 -1.9zM108.6 433.3l1.9 1.9l-1.9 1.9l-1.9 -1.9zM137.9 404.4l1.9 1.9l-1.9 1.9l-1.9 -1.9zM183.1 363.8l1.9 1.9l-1.9 1.9l-1.9 -1.9zM132.8 409.1l1.9 1.9l-1.9 1.9l-1.9 -1.9zM171.8 372.8l1.9 1.9l-1.9 1.9l-1.9 -1.9zM227.9 322.0l1.9 1.9l-1.9 1.9l-1.9 -1.9zM171.0 373.1l1.9 1.9l-1.9 1.9l-1.9 -1.9zM243.7 304.4l1.9 1.9l-1.9 1.9l-1.9 -1.9zM170.3 376.1l1.9 1.9l-1.9 1.9l-1.9 -1.9zM243.5 303.9l1.9 1.9l-1.9 1.9l-1.9 -1.9zM149.6 395.2l1.9 1.9l-1.9 1.9l-1.9 -1.9zM77.0 461.5l1.9 1.9l-1.9 1.9l-1.9 -1.9zM183.4 364.2l1.9 1.9l-1.9 1.9l-1.9 -1.9zM164.8 379.5l1.9 1.9l-1.9 1.9l-1.9 -1.9zM169.0 376.0l1.9 1.9l-1.9 1.9l-1.9 -1.9zM270.4 281.0l1.9 1.9l-1.9 1.9l-1.9 -1.9zM97.7 442.5l1.9 1.9l-1.9 1.9l-1.9 -1.9zM233.3 315.8l1.9 1.9l-1.9 1.9l-1.9 -1.9zM126.7 413.8l1.9 1.9l-1.9 1.9l-1.9 -1.9zM242.0 305.7l1.9 1.9l-1.9 1.9l-1.9 -1.9zM243.3 302.0l1.9 1.9l-1.9 1.9l-1.9 -1.9zM85.4 458.3l1.9 1.9l-1.9 1.9l-1.9 -1.9zM150.3 391.1l1.9 1.9l-1.9 1.9l-1.9 -1.9zM164.8 377.9l1.9 1.9l-1.9 1.9l-1.9 -1.9zM223.1 322.8l1.9 1.9l-1.9 1.9l-1.9 -1.9zM209.7 343.6l1.9 1.9l-1.9 1.9l-1.9 -1.9zM249.2 300.6l1.9 1.9l-1.9 1.9l-1.9 -1.9zM252.4 297.2l1.9 1.9l-1.9 1.9l-1.9 -1.9zM92.9 444.8l1.9 1.9l-1.9 1.9l-1.9 -1.9zM130.7 410.2l1.9 1.9l-1.9 1.9l-1.9 -1.9zM206.8 338.8l1.9 1.9l-1.9 1.9l-1.9 -1.9zM217.4 329.8l1.9 1.9l-1.9 1.9l-1.9 -1.9zM82.3 461.9l1.9 1.9l-1.9 1.9l-1.9 -1.9zM117.5 424.7l1.9 1.9l-1.9 1.9l-1.9 -1.9zM215.3 332.1l1.9 1.9l-1.9 1.9l-1.9 -1.9zM227.5 322.9l1.9 1.9l-1.9 1.9l-1.9 -1.9zM214.0 332.1l1.9 1.9l-1.9 1.9l-1.9 -1.9zM181.7 363.6l1.9 1.9l-1.9 1.9l-1.9 -1.9zM268.1 281.6l1.9 1.9l-1.9 1.9l-1.9 -1.9zM100.4 438.3l1.9 1.9l-1.9 1.9l-1.9 -1.9zM243.6 307.3l1.9 1.9l-1.9 1.9l-1.9 -1.9zM208.2 338.0l1.9 1.9l-1.9 1.9l-1.9 -1.9zM102.0 439.5l1.9 1.9l-1.9 1.9l-1.9 -1.9zM246.1 306.0l1.9 1.9l-1.9 1.9l-1.9 -1.9zM130.9 411.7l1.9 1.9l-1.9 1.9l-1.9 -1.9zM254.1 294.3l1.9 1.9l-1.9 1.9l-1.9 -1.9zM162.1 383.9l1.9 1.9l-1.9 1.9l-1.9 -1.9zM214.0 331.8l1.9 1.9l-1.9 1.9l-1.9 -1.9zM138.2 406.4l1.9 1.9l-1.9 1.9l-1.9 -1.9zM229.6 315.9l1.9 1.9l-1.9 1.9l-1.9 -1.9zM133.8 405.4l1.9 1.9l-1.9 1.9l-1.9 -1.9zM220.2 325.5l1.9 1.9l-1.9 1.9l-1.9 -1.9zM193.2 356.6l1.9 1.9l-1.9 1.9l-1.9 -1.9zM160.6 381.1l1.9 1.9l-1.9 1.9l-1.9 -1.9zM118.0 422.7l1.9 1.9l-1.9 1.9l-1.9 -1.9zM194.5 350.6l1.9 1.9l-1.9 1.9l-1.9 -1.9zM147.5 393.7l1.9 1.9l-1.9 1.9l-1.9 -1.9zM166.1 379.3l1.9 1.9l-1.9 1.9l-1.9 -1.9zM206.4 342.4l1.9 1.9l-1.9 1.9l-1.9 -1.9zM173.5 373.0l1.9 1.9l-1.9 1.9l-1.9 -1.9zM179.0 369.6l1.9 1.9l-1.9 1.9l-1.9 -1.9zM113.0 428.5l1.9 1.9l-1.9 1.9l-1.9 -1.9zM231.4 317.9l1.9 1.9l-1.9 1.9l-1.9 -1.9zM89.3 447.8l1.9 1.9l-1.9 1.9l-1.9 -1.9zM171.5 376.1l1.9 1.9l-1.9 1.9l-1.9 -1.9zM115.1 425.7l1.9 1.9l-1.9 1.9l-1.9 -1.9zM127.1 413.8l1.9 1.9l-1.9 1.9l-1.9 -1.9zM189.7 354.5l1.9 1.9l-1.9 1.9l-1.9 -1.9zM74.9 464.2l1.9 1.9l-1.9 1.9l-1.9 -1.9zM265.6 283.4l1.9 1.9l-1.9 1.9l-1.9 -1.9zM165.5 380.4l1.9 1.9l-1.9 1.9l-1.9 -1.9zM206.3 341.1l1.9 1.9l-1.9 1.9l-1.9 -1.9zM236.8 311.7l1.9 1.9l-1.9 1.9l-1.9 -1.9zM162.4 382.1l1.9 1.9l-1.9 1.9l-1.9 -1.9zM172.2 369.7l1.9 1.9l-1.9 1.9l-1.9 -1.9zM138.3 403.9l1.9 1.9l-1.9 1.9l-1.9 -1.9zM133.3 411.2l1.9 1.9l-1.9 1.9l-1.9 -1.9zM173.7 373.0l1.9 1.9l-1.9 1.9l-1.9 -1.9zM246.1 304.5l1.9 1.9l-1.9 1.9l-1.9 -1.9zM87.6 452.9l1.9 1.9l-1.9 1.9l-1.9 -1.9zM185.0 362.1l1.9 1.9l-1.9 1.9l-1.9 -1.9zM144.0 397.7l1.9 1.9l-1.9 1.9l-1.9 -1.9zM76.2 462.5l1.9 1.9l-1.9 1.9l-1.9 -1.9zM93.5 446.9l1.9 1.9l-1.9 1.9l-1.9 -1.9zM244.5 305.6l1.9 1.9l-1.9 1.9l-1.9 -1.9zM216.4 331.6l1.9 1.9l-1.9 1.9l-1.9 -1.9zM201.3 342.5l1.9 1.9l-1.9 1.9l-1.9 -1.9zM120.4 420.6l1.9 1.9l-1.9 1.9l-1.9 -1.9zM273.6 276.0l1.9 1.9l-1.9 1.9l-1.9 -1.9zM124.5 416.7l1.9 1.9l-1.9 1.9l-1.9 -1.9zM246.6 301.4l1.9 1.9l-1.9 1.9l-1.9 -1.9zM104.5 438.9l1.9 1.9l-1.9 1.9l-1.9 -1.9zM160.2 384.2l1.9 1.9l-1.9 1.9l-1.9 -1.9zM258.4 291.9l1.9 1.9l-1.9 1.9l-1.9 -1.9zM242.5 303.8l1.9 1.9l-1.9 1.9l-1.9 -1.9zM197.9 349.6l1.9 1.9l-1.9 1.9l-1.9 -1.9zM269.1 281.3l1.9 1.9l-1.9 1.9l-1.9 -1.9zM99.4 440.1l1.9 1.9l-1.9 1.9l-1.9 -1.9zM110.8 430.6l1.9 1.9l-1.9 1.9l-1.9 -1.9zM223.1 325.4l1.9 1.9l-1.9 1.9l-1.9 -1.9zM153.8 388.0l1.9 1.9l-1.9 1.9l-1.9 -1.9zM211.7 337.5l1.9 1.9l-1.9 1.9l-1.9 -1.9zM243.2 304.3l1.9 1.9l-1.9 1.9l-1.9 -1.9zM148.3 395.0l1.9 1.9l-1.9 1.9l-1.9 -1.9zM160.4 385.7l1.9 1.9l-1.9 1.9l-1.9 -1.9zM222.3 328.6l1.9 1.9l-1.9 1.9l-1.9 -1.9zM259.9 290.4l1.9 1.9l-1.9 1.9l-1.9 -1.9zM176.0 370.7l1.9 1.9l-1.9 1.9l-1.9 -1.9zM224.0 323.1l1.9 1.9l-1.9 1.9l-1.9 -1.9zM145.6 399.4l1.9 1.9l-1.9 1.9l-1.9 -1.9zM197.3 348.5l1.9 1.9l-1.9 1.9l-1.9 -1.9zM74.8 461.1l1.9 1.9l-1.9 1.9l-1.9 -1.9zM204.1 343.8l1.9 1.9l-1.9 1.9l-1.9 -1.9zM188.4 357.3l1.9 1.9l-1.9 1.9l-1.9 -1.9zM169.3 371.9l1.9 1.9l-1.9 1.9l-1.9 -1.9zM191.7 355.2l1.9 1.9l-1.9 1.9l-1.9 -1.9zM248.5 299.8l1.9 1.9l-1.9 1.9l-1.9 -1.9zM239.7 309.6l1.9 1.9l-1.9 1.9l-1.9 -1.9zM240.9 304.8l1.9 1.9l-1.9 1.9l-1.9 -1.9zM152.9 391.1l1.9 1.9l-1.9 1.9l-1.9 -1.9zM115.9 426.6l1.9 1.9l-1.9 1.9l-1.9 -1.9zM225.7 323.1l1.9 1.9l-1.9 1.9l-1.9 -1.9zM189.3 355.8l1.9 1.9l-1.9 1.9l-1.9 -1.9zM135.2 409.2l1.9 1.9l-1.9 1.9l-1.9 -1.9zM255.1 295.3l1.9 1.9l-1.9 1.9l-1.9 -1.9zM186.5 360.7l1.9 1.9l-1.9 1.9l-1.9 -1.9zM161.6 384.1l1.9 1.9l-1.9 1.9l-1.9 -1.9zM131.7 412.7l1.9 1.9l-1.9 1.9l-1.9 -1.9zM270.1 278.0l1.9 1.9l-1.9 1.9l-1.9 -1.9zM130.3 414.4l1.9 1.9l-1.9 1.9l-1.9 -1.9zM113.5 428.6l1.9 1.9l-1.9 1.9l-1.9 -1.9zM204.9 345.1l1.9 1.9l-1.9 1.9l-1.9 -1.9zM117.4 425.0l1.9 1.9l-1.9 1.9l-1.9 -1.9zM149.2 396.6l1.9 1.9l-1.9 1.9l-1.9 -1.9zM192.2 356.3l1.9 1.9l-1.9 1.9l-1.9 -1.9zM224.6 322.4l1.9 1.9l-1.9 1.9l-1.9 -1.9zM270.7 277.9l1.9 1.9l-1.9 1.9l-1.9 -1.9zM263.2 285.2l1.9 1.9l-1.9 1.9l-1.9 -1.9zM205.7 344.1l1.9 1.9l-1.9 1.9l-1.9 -1.9zM81.0 460.6l1.9 1.9l-1.9 1.9l-1.9 -1.9zM232.8 317.2l1.9 1.9l-1.9 1.9l-1.9 -1.9zM136.7 407.9l1.9 1.9l-1.9 1.9l-1.9 -1.9zM198.2 346.6l1.9 1.9l-1.9 1.9l-1.9 -1.9zM126.2 414.7l1.9 1.9l-1.9 1.9l-1.9 -1.9zM260.5 288.6l1.9 1.9l-1.9 1.9l-1.9 -1.9zM225.3 324.5l1.9 1.9l-1.9 1.9l-1.9 -1.9zM151.5 393.4l1.9 1.9l-1.9 1.9l-1.9 -1.9zM245.8 303.3l1.9 1.9l-1.9 1.9l-1.9 -1.9zM227.1 320.8l1.9 1.9l-1.9 1.9l-1.9 -1.9zM238.1 311.2l1.9 1.9l-1.9 1.9l-1.9 -1.9zM77.2 464.4l1.9 1.9l-1.9 1.9l-1.9 -1.9zM86.6 454.5l1.9 1.9l-1.9 1.9l-1.9 -1.9zM158.9 383.5l1.9 1.9l-1.9 1.9l-1.9 -1.9zM137.5 407.2l1.9 1.9l-1.9 1.9l-1.9 -1.9zM237.1 313.7l1.9 1.9l-1.9 1.9l-1.9 -1.9zM154.7 386.3l1.9 1.9l-1.9 1.9l-1.9 -1.9zM90.3 449.5l1.9 1.9l-1.9 1.9l-1.9 -1.9zM125.2 417.2l1.9 1.9l-1.9 1.9l-1.9 -1.9zM228.5 317.9l1.9 1.9l-1.9 1.9l-1.9 -1.9zM246.0 301.5l1.9 1.9l-1.9 1.9l-1.9 -1.9zM192.4 355.4l1.9 1.9l-1.9 1.9l-1.9 -1.9zM239.3 306.8l1.9 1.9l-1.9 1.9l-1.9 -1.9zM190.3 356.8l1.9 1.9l-1.9 1.9l-1.9 -1.9zM156.0 389.2l1.9 1.9l-1.9 1.9l-1.9 -1.9zM272.5 277.8l1.9 1.9l-1.9 1.9l-1.9 -1.9zM113.9 427.8l1.9 1.9l-1.9 1.9l-1.9 -1.9zM119.7 422.0l1.9 1.9l-1.9 1.9l-1.9 -1.9zM108.6 434.0l1.9 1.9l-1.9 1.9l-1.9 -1.9zM227.4 318.1l1.9 1.9l-1.9 1.9l-1.9 -1.9zM165.6 374.7l1.9 1.9l-1.9 1.9l-1.9 -1.9zM253.9 295.0l1.9 1.9l-1.9 1.9l-1.9 -1.9zM231.4 317.9l1.9 1.9l-1.9 1.9l-1.9 -1.9zM157.5 386.5l1.9 1.9l-1.9 1.9l-1.9 -1.9zM215.0 331.8l1.9 1.9l-1.9 1.9l-1.9 -1.9zM186.6 360.2l1.9 1.9l-1.9 1.9l-1.9 -1.9zM114.1 424.5l1.9 1.9l-1.9 1.9l-1.9 -1.9zM163.4 379.6l1.9 1.9l-1.9 1.9l-1.9 -1.9zM251.1 297.3l1.9 1.9l-1.9 1.9l-1.9 -1.9zM174.5 369.8l1.9 1.9l-1.9 1.9l-1.9 -1.9zM203.2 342.3l1.9 1.9l-1.9 1.9l-1.9 -1.9zM130.2 412.0l1.9 1.9l-1.9 1.9l-1.9 -1.9zM248.0 301.5l1.9 1.9l-1.9 1.9l-1.9 -1.9zM198.8 346.9l1.9 1.9l-1.9 1.9l-1.9 -1.9zM88.6 453.3l1.9 1.9l-1.9 1.9l-1.9 -1.9zM109.1 432.7l1.9 1.9l-1.9 1.9l-1.9 -1.9zM96.8 444.3l1.9 1.9l-1.9 1.9l-1.9 -1.9zM230.7 314.9l1.9 1.9l-1.9 1.9l-1.9 -1.9zM241.7 309.5l1.9 1.9l-1.9 1.9l-1.9 -1.9zM185.4 358.3l1.9 1.9l-1.9 1.9l-1.9 -1.9zM185.9 361.7l1.9 1.9l-1.9 1.9l-1.9 -1.9zM159.6 383.8l1.9 1.9l-1.9 1.9l-1.9 -1.9zM124.6 417.6l1.9 1.9l-1.9 1.9l-1.9 -1.9zM166.7 374.5l1.9 1.9l-1.9 1.9l-1.9 -1.9zM189.7 352.9l1.9 1.9l-1.9 1.9l-1.9 -1.9zM222.4 324.3l1.9 1.9l-1.9 1.9l-1.9 -1.9zM251.4 298.7l1.9 1.9l-1.9 1.9l-1.9 -1.9zM265.7 284.4l1.9 1.9l-1.9 1.9l-1.9 -1.9zM234.3 313.2l1.9 1.9l-1.9 1.9l-1.9 -1.9zM252.1 296.6l1.9 1.9l-1.9 1.9l-1.9 -1.9zM194.8 353.1l1.9 1.9l-1.9 1.9l-1.9 -1.9zM97.5 443.2l1.9 1.9l-1.9 1.9l-1.9 -1.9zM223.2 322.7l1.9 1.9l-1.9 1.9l-1.9 -1.9zM92.5 447.7l1.9 1.9l-1.9 1.9l-1.9 -1.9zM268.1 282.3l1.9 1.9l-1.9 1.9l-1.9 -1.9zM122.0 418.8l1.9 1.9l-1.9 1.9l-1.9 -1.9zM265.0 288.0l1.9 1.9l-1.9 1.9l-1.9 -1.9zM168.5 376.7l1.9 1.9l-1.9 1.9l-1.9 -1.9zM240.8 309.3l1.9 1.9l-1.9 1.9l-1.9 -1.9zM96.5 442.5l1.9 1.9l-1.9 1.9l-1.9 -1.9zM87.1 454.7l1.9 1.9l-1.9 1.9l-1.9 -1.9zM262.4 287.7l1.9 1.9l-1.9 1.9l-1.9 -1.9zM126.4 415.4l1.9 1.9l-1.9 1.9l-1.9 -1.9zM80.2 460.9l1.9 1.9l-1.9 1.9l-1.9 -1.9zM271.8 272.5l1.9 1.9l-1.9 1.9l-1.9 -1.9zM200.6 341.4l1.9 1.9l-1.9 1.9l-1.9 -1.9zM217.3 336.0l1.9 1.9l-1.9 1.9l-1.9 -1.9zM151.4 392.4l1.9 1.9l-1.9 1.9l-1.9 -1.9zM183.8 359.4l1.9 1.9l-1.9 1.9l-1.9 -1.9zM115.5 426.6l1.9 1.9l-1.9 1.9l-1.9 -1.9zM190.3 359.2l1.9 1.9l-1.9 1.9l-1.9 -1.9zM183.7 363.5l1.9 1.9l-1.9 1.9l-1.9 -1.9zM125.9 418.2l1.9 1.9l-1.9 1.9l-1.9 -1.9zM212.1 333.7l1.9 1.9l-1.9 1.9l-1.9 -1.9zM267.1 277.2l1.9 1.9l-1.9 1.9l-1.9 -1.9zM152.4 386.2l1.9 1.9l-1.9 1.9l-1.9 -1.9zM263.0 288.2l1.9 1.9l-1.9 1.9l-1.9 -1.9zM179.7 365.6l1.9 1.9l-1.9 1.9l-1.9 -1.9zM113.7 434.0l1.9 1.9l-1.9 1.9l-1.9 -1.9zM178.0 371.1l1.9 1.9l-1.9 1.9l-1.9 -1.9zM206.3 342.6l1.9 1.9l-1.9 1.9l-1.9 -1.9zM256.0 291.5l1.9 1.9l-1.9 1.9l-1.9 -1.9zM103.4 444.7l1.9 1.9l-1.9 1.9l-1.9 -1.9zM214.9 338.9l1.9 1.9l-1.9 1.9l-1.9 -1.9zM109.2 428.5l1.9 1.9l-1.9 1.9l-1.9 -1.9zM215.4 332.5l1.9 1.9l-1.9 1.9l-1.9 -1.9zM192.7 356.7l1.9 1.9l-1.9 1.9l-1.9 -1.9zM186.8 356.4l1.9 1.9l-1.9 1.9l-1.9 -1.9zM271.2 286.1l1.9 1.9l-1.9 1.9l-1.9 -1.9zM135.3 409.1l1.9 1.9l-1.9 1.9l-1.9 -1.9zM216.7 335.9l1.9 1.9l-1.9 1.9l-1.9 -1.9zM250.1 303.1l1.9 1.9l-1.9 1.9l-1.9 -1.9zM90.7 444.4l1.9 1.9l-1.9 1.9l-1.9 -1.9zM126.6 417.0l1.9 1.9l-1.9 1.9l-1.9 -1.9zM167.4 375.0l1.9 1.9l-1.9 1.9l-1.9 -1.9zM241.8 305.3l1.9 1.9l-1.9 1.9l-1.9 -1.9zM216.5 329.3l1.9 1.9l-1.9 1.9l-1.9 -1.9zM96.4 446.2l1.9 1.9l-1.9 1.9l-1.9 -1.9zM150.4 399.6l1.9 1.9l-1.9 1.9l-1.9 -1.9zM134.3 408.4l1.9 1.9l-1.9 1.9l-1.9 -1.9zM221.7 328.7l1.9 1.9l-1.9 1.9l-1.9 -1.9zM231.8 318.1l1.9 1.9l-1.9 1.9l-1.9 -1.9zM89.5 453.1l1.9 1.9l-1.9 1.9l-1.9 -1.9zM83.3 458.2l1.9 1.9l-1.9 1.9l-1.9 -1.9zM170.1 380.1l1.9 1.9l-1.9 1.9l-1.9 -1.9zM149.6 394.8l1.9 1.9l-1.9 1.9l-1.9 -1.9zM260.1 289.2l1.9 1.9l-1.9 1.9l-1.9 -1.9zM75.7 466.1l1.9 1.9l-1.9 1.9l-1.9 -1.9zM266.3 285.4l1.9 1.9l-1.9 1.9l-1.9 -1.9zM110.2 430.3l1.9 1.9l-1.9 1.9l-1.9 -1.9zM214.4 331.2l1.9 1.9l-1.9 1.9l-1.9 -1.9zM209.7 333.9l1.9 1.9l-1.9 1.9l-1.9 -1.9zM145.0 403.9l1.9 1.9l-1.9 1.9l-1.9 -1.9zM232.8 323.4l1.9 1.9l-1.9 1.9l-1.9 -1.9zM200.0 348.9l1.9 1.9l-1.9 1.9l-1.9 -1.9zM202.4 346.6l1.9 1.9l-1.9 1.9l-1.9 -1.9zM204.2 346.5l1.9 1.9l-1.9 1.9l-1.9 -1.9zM224.6 325.6l1.9 1.9l-1.9 1.9l-1.9 -1.9zM115.6 428.8l1.9 1.9l-1.9 1.9l-1.9 -1.9zM125.0 415.7l1.9 1.9l-1.9 1.9l-1.9 -1.9zM237.8 310.9l1.9 1.9l-1.9 1.9l-1.9 -1.9zM190.6 350.3l1.9 1.9l-1.9 1.9l-1.9 -1.9zM76.3 461.0l1.9 1.9l-1.9 1.9l-1.9 -1.9zM244.1 307.7l1.9 1.9l-1.9 1.9l-1.9 -1.9zM253.7 287.2l1.9 1.9l-1.9 1.9l-1.9 -1.9zM102.0 440.9l1.9 1.9l-1.9 1.9l-1.9 -1.9zM225.8 320.7l1.9 1.9l-1.9 1.9l-1.9 -1.9zM93.8 445.1l1.9 1.9l-1.9 1.9l-1.9 -1.9zM246.0 302.1l1.9 1.9l-1.9 1.9l-1.9 -1.9zM124.0 420.2l1.9 1.9l-1.9 1.9l-1.9 -1.9zM184.8 357.0l1.9 1.9l-1.9 1.9l-1.9 -1.9zM82.2 455.9l1.9 1.9l-1.9 1.9l-1.9 -1.9zM91.4 450.2l1.9 1.9l-1.9 1.9l-1.9 -1.9zM94.7 442.6l1.9 1.9l-1.9 1.9l-1.9 -1.9zM80.3 455.8l1.9 1.9l-1.9 1.9l-1.9 -1.9zM90.9 451.3l1.9 1.9l-1.9 1.9l-1.9 -1.9zM85.5 453.9l1.9 1.9l-1.9 1.9l-1.9 -1.9zM93.7 448.4l1.9 1.9l-1.9 1.9l-1.9 -1.9zM84.5 454.6l1.9 1.9l-1.9 1.9l-1.9 -1.9zM90.0 446.5l1.9 1.9l-1.9 1.9l-1.9 -1.9zM94.7 444.2l1.9 1.9l-1.9 1.9l-1.9 -1.9zM80.2 461.4l1.9 1.9l-1.9 1.9l-1.9 -1.9zM78.9 460.9l1.9 1.9l-1.9 1.9l-1.9 -1.9zM93.0 444.2l1.9 1.9l-1.9 1.9l-1.9 -1.9zM96.0 446.3l1.9 1.9l-1.9 1.9l-1.9 -1.9zM87.2 448.7l1.9 1.9l-1.9 1.9l-1.9 -1.9zM88.9 450.3l1.9 1.9l-1.9 1.9l-1.9 -1.9zM76.3 466.1l1.9 1.9l-1.9 1.9l-1.9 -1.9zM83.8 456.8l1.9 1.9l-1.9 1.9l-1.9 -1.9zM92.2 448.5l1.9 1.9l-1.9 1.9l-1.9 -1.9zM73.5 461.1l1.9 1.9l-1.9 1.9l-1.9 -1.9zM91.1 452.6l1.9 1.9l-1.9 1.9l-1.9 -1.9zM102.0 437.4l1.9 1.9l-1.9 1.9l-1.9 -1.9zM86.4 453.7l1.9 1.9l-1.9 1.9l-1.9 -1.9zM92.1 452.9l1.9 1.9l-1.9 1.9l-1.9 -1.9zM96.2 443.9l1.9 1.9l-1.9 1.9l-1.9 -1.9zM93.5 448.1l1.9 1.9l-1.9 1.9l-1.9 -1.9zM82.6 454.1l1.9 1.9l-1.9 1.9l-1.9 -1.9zM97.6 446.3l1.9 1.9l-1.9 1.9l-1.9 -1.9zM85.9 455.6l1.9 1.9l-1.9 1.9l-1.9 -1.9zM83.1 459.3l1.9 1.9l-1.9 1.9l-1.9 -1.9zM76.6 462.8l1.9 1.9l-1.9 1.9l-1.9 -1.9zM85.5 453.5l1.9 1.9l-1.9 1.9l-1.9 -1.9zM94.2 447.4l1.9 1.9l-1.9 1.9l-1.9 -1.9zM105.5 432.5l1.9 1.9l-1.9 1.9l-1.9 -1.9zM74.8 465.0l1.9 1.9l-1.9 1.9l-1.9 -1.9zM84.9 454.3l1.9 1.9l-1.9 1.9l-1.9 -1.9zM79.5 457.1l1.9 1.9l-1.9 1.9l-1.9 -1.9zM84.6 451.2l1.9 1.9l-1.9 1.9l-1.9 -1.9zM81.4 454.6l1.9 1.9l-1.9 1.9l-1.9 -1.9zM91.3 447.3l1.9 1.9l-1.9 1.9l-1.9 -1.9zM90.7 449.0l1.9 1.9l-1.9 1.9l-1.9 -1.9zM79.5 460.7l1.9 1.9l-1.9 1.9l-1.9 -1.9zM81.7 458.6l1.9 1.9l-1.9 1.9l-1.9 -1.9zM84.6 453.9l1.9 1.9l-1.9 1.9l-1.9 -1.9zM90.2 450.8l1.9 1.9l-1.9 1.9l-1.9 -1.9zM73.1 464.4l1.9 1.9l-1.9 1.9l-1.9 -1.9zM81.6 459.0l1.9 1.9l-1.9 1.9l-1.9 -1.9zM91.4 449.1l1.9 1.9l-1.9 1.9l-1.9 -1.9zM88.4 451.7l1.9 1.9l-1.9 1.9l-1.9 -1.9zM86.0 452.6l1.9 1.9l-1.9 1.9l-1.9 -1.9zM88.4 452.7l1.9 1.9l-1.9 1.9l-1.9 -1.9zM99.7 440.9l1.9 1.9l-1.9 1.9l-1.9 -1.9zM96.1 443.4l1.9 1.9l-1.9 1.9l-1.9 -1.9zM94.4 444.2l1.9 1.9l-1.9 1.9l-1.9 -1.9zM92.9 449.5l1.9 1.9l-1.9 1.9l-1.9 -1.9zM85.7 451.8l1.9 1.9l-1.9 1.9l-1.9 -1.9zM86.5 454.4l1.9 1.9l-1.9 1.9l-1.9 -1.9zM87.9 450.5l1.9 1.9l-1.9 1.9l-1.9 -1.9zM80.7 459.3l1.9 1.9l-1.9 1.9l-1.9 -1.9zM83.9 457.5l1.9 1.9l-1.9 1.9l-1.9 -1.9zM93.8 447.8l1.9 1.9l-1.9 1.9l-1.9 -1.9zM88.0 451.5l1.9 1.9l-1.9 1.9l-1.9 -1.9zM91.5 448.0l1.9 1.9l-1.9 1.9l-1.9 -1.9zM93.8 448.2l1.9 1.9l-1.9 1.9l-1.9 -1.9zM101.4 440.4l1.9 1.9l-1.9 1.9l-1.9 -1.9zM87.8 450.7l1.9 1.9l-1.9 1.9l-1.9 -1.9zM80.9 459.1l1.9 1.9l-1.9 1.9l-1.9 -1.9zM84.1 454.9l1.9 1.9l-1.9 1.9l-1.9 -1.9zM88.2 448.9l1.9 1.9l-1.9 1.9l-1.9 -1.9zM80.1 461.1l1.9 1.9l-1.9 1.9l-1.9 -1.9zM76.0 463.2l1.9 1.9l-1.9 1.9l-1.9 -1.9zM86.7 454.0l1.9 1.9l-1.9 1.9l-1.9 -1.9zM92.6 449.8l1.9 1.9l-1.9 1.9l-1.9 -1.9zM75.8 459.6l1.9 1.9l-1.9 1.9l-1.9 -1.9zM87.7 454.4l1.9 1.9l-1.9 1.9l-1.9 -1.9zM96.3 444.2l1.9 1.9l-1.9 1.9l-1.9 -1.9zM79.8 459.3l1.9 1.9l-1.9 1.9l-1.9 -1.9zM96.4 442.9l1.9 1.9l-1.9 1.9l-1.9 -1.9zM87.0 449.9l1.9 1.9l-1.9 1.9l-1.9 -1.9zM80.5 459.7l1.9 1.9l-1.9 1.9l-1.9 -1.9zM91.6 450.8l1.9 1.9l-1.9 1.9l-1.9 -1.9zM93.3 446.5l1.9 1.9l-1.9 1.9l-1.9 -1.9zM95.8 444.3l1.9 1.9l-1.9 1.9l-1.9 -1.9zM104.1 439.6l1.9 1.9l-1.9 1.9l-1.9 -1.9zM84.6 456.5l1.9 1.9l-1.9 1.9l-1.9 -1.9zM87.8 451.2l1.9 1.9l-1.9 1.9l-1.9 -1.9zM79.0 458.8l1.9 1.9l-1.9 1.9l-1.9 -1.9zM97.0 443.5l1.9 1.9l-1.9 1.9l-1.9 -1.9zM76.4 462.0l1.9 1.9l-1.9 1.9l-1.9 -1.9zM91.3 451.0l1.9 1.9l-1.9 1.9l-1.9 -1.9zM82.0 458.9l1.9 1.9l-1.9 1.9l-1.9 -1.9zM76.0 462.9l1.9 1.9l-1.9 1.9l-1.9 -1.9zM96.9 443.1l1.9 1.9l-1.9 1.9l-1.9 -1.9zM82.0 458.0l1.9 1.9l-1.9 1.9l-1.9 -1.9zM87.5 449.1l1.9 1.9l-1.9 1.9l-1.9 -1.9zM84.2 454.9l1.9 1.9l-1.9 1.9l-1.9 -1.9zM85.2 452.6l1.9 1.9l-1.9 1.9l-1.9 -1.9zM81.1 457.7l1.9 1.9l-1.9 1.9l-1.9 -1.9zM84.8 454.1l1.9 1.9l-1.9 1.9l-1.9 -1.9zM76.0 463.7l1.9 1.9l-1.9 1.9l-1.9 -1.9zM96.9 442.5l1.9 1.9l-1.9 1.9l-1.9 -1.9zM79.1 455.6l1.9 1.9l-1.9 1.9l-1.9 -1.9zM91.5 449.4l1.9 1.9l-1.9 1.9l-1.9 -1.9zM84.8 457.0l1.9 1.9l-1.9 1.9l-1.9 -1.9zM100.5 437.9l1.9 1.9l-1.9 1.9l-1.9 -1.9zM99.8 443.1l1.9 1.9l-1.9 1.9l-1.9 -1.9zM75.6 465.1l1.9 1.9l-1.9 1.9l-1.9 -1.9zM77.9 465.1l1.9 1.9l-1.9 1.9l-1.9 -1.9zM91.8 450.1l1.9 1.9l-1.9 1.9l-1.9 -1.9zM90.1 447.9l1.9 1.9l-1.9 1.9l-1.9 -1.9zM80.8 460.2l1.9 1.9l-1.9 1.9l-1.9 -1.9zM97.8 446.0l1.9 1.9l-1.9 1.9l-1.9 -1.9zM83.4 459.0l1.9 1.9l-1.9 1.9l-1.9 -1.9zM85.5 455.9l1.9 1.9l-1.9 1.9l-1.9 -1.9zM88.9 452.4l1.9 1.9l-1.9 1.9l-1.9 -1.9zM97.1 445.4l1.9 1.9l-1.9 1.9l-1.9 -1.9zM86.5 452.5l1.9 1.9l-1.9 1.9l-1.9 -1.9zM79.8 461.4l1.9 1.9l-1.9 1.9l-1.9 -1.9zM86.1 454.9l1.9 1.9l-1.9 1.9l-1.9 -1.9zM93.7 448.4l1.9 1.9l-1.9 1.9l-1.9 -1.9zM74.6 463.8l1.9 1.9l-1.9 1.9l-1.9 -1.9zM80.2 461.0l1.9 1.9l-1.9 1.9l-1.9 -1.9zM84.9 453.1l1.9 1.9l-1.9 1.9l-1.9 -1.9zM93.7 446.6l1.9 1.9l-1.9 1.9l-1.9 -1.9zM89.3 452.0l1.9 1.9l-1.9 1.9l-1.9 -1.9zM101.4 437.7l1.9 1.9l-1.9 1.9l-1.9 -1.9zM80.2 458.0l1.9 1.9l-1.9 1.9l-1.9 -1.9zM76.0 465.3l1.9 1.9l-1.9 1.9l-1.9 -1.9zM81.4 455.5l1.9 1.9l-1.9 1.9l-1.9 -1.9zM103.7 437.5l1.9 1.9l-1.9 1.9l-1.9 -1.9zM83.1 454.4l1.9 1.9l-1.9 1.9l-1.9 -1.9zM82.8 454.2l1.9 1.9l-1.9 1.9l-1.9 -1.9zM79.3 458.7l1.9 1.9l-1.9 1.9l-1.9 -1.9zM80.6 456.0l1.9 1.9l-1.9 1.9l-1.9 -1.9zM88.3 453.3l1.9 1.9l-1.9 1.9l-1.9 -1.9zM88.2 456.9l1.9 1.9l-1.9 1.9l-1.9 -1.9zM87.8 451.2l1.9 1.9l-1.9 1.9l-1.9 -1.9zM106.9 436.6l1.9 1.9l-1.9 1.9l-1.9 -1.9zM97.3 441.0l1.9 1.9l-1.9 1.9l-1.9 -1.9zM93.3 447.9l1.9 1.9l-1.9 1.9l-1.9 -1.9zM88.7 453.3l1.9 1.9l-1.9 1.9l-1.9 -1.9zM89.7 453.0l1.9 1.9l-1.9 1.9l-1.9 -1.9zM83.1 456.8l1.9 1.9l-1.9 1.9l-1.9 -1.9zM79.9 462.5l1.9 1.9l-1.9 1.9l-1.9 -1.9zM86.7 452.9l1.9 1.9l-1.9 1.9l-1.9 -1.9zM92.9 446.9l1.9 1.9l-1.9 1.9l-1.9 -1.9zM101.2 439.9l1.9 1.9l-1.9 1.9l-1.9 -1.9zM98.5 444.4l1.9 1.9l-1.9 1.9l-1.9 -1.9zM92.9 446.2l1.9 1.9l-1.9 1.9l-1.9 -1.9zM103.0 439.4l1.9 1.9l-1.9 1.9l-1.9 -1.9zM102.9 438.4l1.9 1.9l-1.9 1.9l-1.9 -1.9zM83.9 459.4l1.9 1.9l-1.9 1.9l-1.9 -1.9zM95.0 446.7l1.9 1.9l-1.9 1.9l-1.9 -1.9zM94.5 445.8l1.9 1.9l-1.9 1.9l-1.9 -1.9zM94.1 446.5l1.9 1.9l-1.9 1.9l-1.9 -1.9zM81.7 459.1l1.9 1.9l-1.9 1.9l-1.9 -1.9zM87.4 452.0l1.9 1.9l-1.9 1.9l-1.9 -1.9zM81.0 457.1l1.9 1.9l-1.9 1.9l-1.9 -1.9zM93.2 446.7l1.9 1.9l-1.9 1.9l-1.9 -1.9zM104.5 434.6l1.9 1.9l-1.9 1.9l-1.9 -1.9zM79.1 462.9l1.9 1.9l-1.9 1.9l-1.9 -1.9zM87.6 452.8l1.9 1.9l-1.9 1.9l-1.9 -1.9zM93.6 448.1l1.9 1.9l-1.9 1.9l-1.9 -1.9zM81.5 459.9l1.9 1.9l-1.9 1.9l-1.9 -1.9zM87.2 454.8l1.9 1.9l-1.9 1.9l-1.9 -1.9zM86.3 452.5l1.9 1.9l-1.9 1.9l-1.9 -1.9zM85.9 456.4l1.9 1.9l-1.9 1.9l-1.9 -1.9zM91.8 447.2l1.9 1.9l-1.9 1.9l-1.9 -1.9zM80.0 460.7l1.9 1.9l-1.9 1.9l-1.9 -1.9zM77.8 464.7l1.9 1.9l-1.9 1.9l-1.9 -1.9zM81.8 454.4l1.9 1.9l-1.9 1.9l-1.9 -1.9zM97.0 444.7l1.9 1.9l-1.9 1.9l-1.9 -1.9zM90.9 449.5l1.9 1.9l-1.9 1.9l-1.9 -1.9zM88.2 456.2l1.9 1.9l-1.9 1.9l-1.9 -1.9zM85.8 456.7l1.9 1.9l-1.9 1.9l-1.9 -1.9zM83.4 457.0l1.9 1.9l-1.9 1.9l-1.9 -1.9zM90.6 447.3l1.9 1.9l-1.9 1.9l-1.9 -1.9zM94.6 448.4l1.9 1.9l-1.9 1.9l-1.9 -1.9zM83.7 455.2l1.9 1.9l-1.9 1.9l-1.9 -1.9zM85.3 459.4l1.9 1.9l-1.9 1.9l-1.9 -1.9zM93.5 448.5l1.9 1.9l-1.9 1.9l-1.9 -1.9zM86.9 457.0l1.9 1.9l-1.9 1.9l-1.9 -1.9zM77.4 460.0l1.9 1.9l-1.9 1.9l-1.9 -1.9zM83.2 456.0l1.9 1.9l-1.9 1.9l-1.9 -1.9zM100.9 440.2l1.9 1.9l-1.9 1.9l-1.9 -1.9zM87.4 453.5l1.9 1.9l-1.9 1.9l-1.9 -1.9zM94.2 445.8l1.9 1.9l-1.9 1.9l-1.9 -1.9zM90.9 446.5l1.9 1.9l-1.9 1.9l-1.9 -1.9zM91.5 446.6l1.9 1.9l-1.9 1.9l-1.9 -1.9zM80.0 460.5l1.9 1.9l-1.9 1.9l-1.9 -1.9zM92.9 449.4l1.9 1.9l-1.9 1.9l-1.9 -1.9zM75.0 464.8l1.9 1.9l-1.9 1.9l-1.9 -1.9zM82.9 456.4l1.9 1.9l-1.9 1.9l-1.9 -1.9zM100.8 441.2l1.9 1.9l-1.9 1.9l-1.9 -1.9zM78.0 462.5l1.9 1.9l-1.9 1.9l-1.9 -1.9zM82.2 458.9l1.9 1.9l-1.9 1.9l-1.9 -1.9zM96.8 442.9l1.9 1.9l-1.9 1.9l-1.9 -1.9zM90.5 450.5l1.9 1.9l-1.9 1.9l-1.9 -1.9zM95.4 445.5l1.9 1.9l-1.9 1.9l-1.9 -1.9zM101.8 439.3l1.9 1.9l-1.9 1.9l-1.9 -1.9zM86.6 452.3l1.9 1.9l-1.9 1.9l-1.9 -1.9zM105.3 439.6l1.9 1.9l-1.9 1.9l-1.9 -1.9zM91.2 451.8l1.9 1.9l-1.9 1.9l-1.9 -1.9zM94.4 449.7l1.9 1.9l-1.9 1.9l-1.9 -1.9zM83.6 452.8l1.9 1.9l-1.9 1.9l-1.9 -1.9zM97.9 443.7l1.9 1.9l-1.9 1.9l-1.9 -1.9zM92.8 447.7l1.9 1.9l-1.9 1.9l-1.9 -1.9zM82.2 459.5l1.9 1.9l-1.9 1.9l-1.9 -1.9zM97.8 444.4l1.9 1.9l-1.9 1.9l-1.9 -1.9zM85.9 455.4l1.9 1.9l-1.9 1.9l-1.9 -1.9zM74.3 465.7l1.9 1.9l-1.9 1.9l-1.9 -1.9zM103.0 440.2l1.9 1.9l-1.9 1.9l-1.9 -1.9zM86.5 451.4l1.9 1.9l-1.9 1.9l-1.9 -1.9zM91.0 449.6l1.9 1.9l-1.9 1.9l-1.9 -1.9zM92.2 447.8l1.9 1.9l-1.9 1.9l-1.9 -1.9zM86.5 455.5l1.9 1.9l-1.9 1.9l-1.9 -1.9zM83.2 460.4l1.9 1.9l-1.9 1.9l-1.9 -1.9zM88.2 452.6l1.9 1.9l-1.9 1.9l-1.9 -1.9zM81.7 461.5l1.9 1.9l-1.9 1.9l-1.9 -1.9zM82.5 461.3l1.9 1.9l-1.9 1.9l-1.9 -1.9zM92.2 450.9l1.9 1.9l-1.9 1.9l-1.9 -1.9zM94.4 448.1l1.9 1.9l-1.9 1.9l-1.9 -1.9zM92.7 446.8l1.9 1.9l-1.9 1.9l-1.9 -1.9zM94.3 447.1l1.9 1.9l-1.9 1.9l-1.9 -1.9zM81.5 461.7l1.9 1.9l-1.9 1.9l-1.9 -1.9zM77.6 461.7l1.9 1.9l-1.9 1.9l-1.9 -1.9zM92.3 447.6l1.9 1.9l-1.9 1.9l-1.9 -1.9zM93.1 445.5l1.9 1.9l-1.9 1.9l-1.9 -1.9zM84.2 456.1l1.9 1.9l-1.9 1.9l-1.9 -1.9zM84.8 456.0l1.9 1.9l-1.9 1.9l-1.9 -1.9zM85.9 454.0l1.9 1.9l-1.9 1.9l-1.9 -1.9zM82.8 457.1l1.9 1.9l-1.9 1.9l-1.9 -1.9zM94.8 446.6l1.9 1.9l-1.9 1.9l-1.9 -1.9zM91.7 450.7l1.9 1.9l-1.9 1.9l-1.9 -1.9zM79.9 456.6l1.9 1.9l-1.9 1.9l-1.9 -1.9zM85.8 452.0l1.9 1.9l-1.9 1.9l-1.9 -1.9zM86.6 454.3l1.9 1.9l-1.9 1.9l-1.9 -1.9zM92.3 449.8l1.9 1.9l-1.9 1.9l-1.9 -1.9zM261.8 285.8l1.9 1.9l-1.9 1.9l-1.9 -1.9zM258.6 293.6l1.9 1.9l-1.9 1.9l-1.9 -1.9zM262.2 289.6l1.9 1.9l-1.9 1.9l-1.9 -1.9zM254.8 300.4l1.9 1.9l-1.9 1.9l-1.9 -1.9zM258.7 286.1l1.9 1.9l-1.9 1.9l-1.9 -1.9zM254.9 296.8l1.9 1.9l-1.9 1.9l-1.9 -1.9zM249.7 300.6l1.9 1.9l-1.9 1.9l-1.9 -1.9zM263.3 287.5l1.9 1.9l-1.9 1.9l-1.9 -1.9zM261.8 283.8l1.9 1.9l-1.9 1.9l-1.9 -1.9zM252.4 299.5l1.9 1.9l-1.9 1.9l-1.9 -1.9zM262.0 289.3l1.9 1.9l-1.9 1.9l-1.9 -1.9zM251.3 298.2l1.9 1.9l-1.9 1.9l-1.9 -1.9zM260.6 285.1l1.9 1.9l-1.9 1.9l-1.9 -1.9zM252.5 295.7l1.9 1.9l-1.9 1.9l-1.9 -1.9zM261.1 300.3l1.9 1.9l-1.9 1.9l-1.9 -1.9zM262.7 287.7l1.9 1.9l-1.9 1.9l-1.9 -1.9zM247.7 294.4l1.9 1.9l-1.9 1.9l-1.9 -1.9zM260.7 288.2l1.9 1.9l-1.9 1.9l-1.9 -1.9zM273.0 273.4l1.9 1.9l-1.9 1.9l-1.9 -1.9zM251.7 297.8l1.9 1.9l-1.9 1.9l-1.9 -1.9zM269.0 276.4l1.9 1.9l-1.9 1.9l-1.9 -1.9zM268.0 282.5l1.9 1.9l-1.9 1.9l-1.9 -1.9zM265.3 287.4l1.9 1.9l-1.9 1.9l-1.9 -1.9zM256.9 290.4l1.9 1.9l-1.9 1.9l-1.9 -1.9zM257.2 290.3l1.9 1.9l-1.9 1.9l-1.9 -1.9zM257.0 291.6l1.9 1.9l-1.9 1.9l-1.9 -1.9zM271.4 276.9l1.9 1.9l-1.9 1.9l-1.9 -1.9zM265.1 290.9l1.9 1.9l-1.9 1.9l-1.9 -1.9zM254.3 291.7l1.9 1.9l-1.9 1.9l-1.9 -1.9zM247.7 303.2l1.9 1.9l-1.9 1.9l-1.9 -1.9zM255.9 289.2l1.9 1.9l-1.9 1.9l-1.9 -1.9zM246.9 304.5l1.9 1.9l-1.9 1.9l-1.9 -1.9zM258.1 291.3l1.9 1.9l-1.9 1.9l-1.9 -1.9zM247.6 296.8l1.9 1.9l-1.9 1.9l-1.9 -1.9zM262.4 282.5l1.9 1.9l-1.9 1.9l-1.9 -1.9zM261.7 285.8l1.9 1.9l-1.9 1.9l-1.9 -1.9zM256.3 294.6l1.9 1.9l-1.9 1.9l-1.9 -1.9zM250.4 297.4l1.9 1.9l-1.9 1.9l-1.9 -1.9zM250.3 294.6l1.9 1.9l-1.9 1.9l-1.9 -1.9zM261.3 291.2l1.9 1.9l-1.9 1.9l-1.9 -1.9zM259.1 297.3l1.9 1.9l-1.9 1.9l-1.9 -1.9zM251.4 300.9l1.9 1.9l-1.9 1.9l-1.9 -1.9zM249.0 302.9l1.9 1.9l-1.9 1.9l-1.9 -1.9zM256.6 295.9l1.9 1.9l-1.9 1.9l-1.9 -1.9zM252.5 301.9l1.9 1.9l-1.9 1.9l-1.9 -1.9zM245.4 301.6l1.9 1.9l-1.9 1.9l-1.9 -1.9zM255.2 289.6l1.9 1.9l-1.9 1.9l-1.9 -1.9zM250.6 300.9l1.9 1.9l-1.9 1.9l-1.9 -1.9zM262.1 282.3l1.9 1.9l-1.9 1.9l-1.9 -1.9zM264.2 282.5l1.9 1.9l-1.9 1.9l-1.9 -1.9zM249.1 298.2l1.9 1.9l-1.9 1.9l-1.9 -1.9zM269.8 289.5l1.9 1.9l-1.9 1.9l-1.9 -1.9zM260.1 281.0l1.9 1.9l-1.9 1.9l-1.9 -1.9zM251.0 297.4l1.9 1.9l-1.9 1.9l-1.9 -1.9zM270.4 277.9l1.9 1.9l-1.9 1.9l-1.9 -1.9zM259.1 287.5l1.9 1.9l-1.9 1.9l-1.9 -1.9zM256.8 290.0l1.9 1.9l-1.9 1.9l-1.9 -1.9zM257.1 289.3l1.9 1.9l-1.9 1.9l-1.9 -1.9zM252.6 297.6l1.9 1.9l-1.9 1.9l-1.9 -1.9zM259.0 299.9l1.9 1.9l-1.9 1.9l-1.9 -1.9zM263.9 287.6l1.9 1.9l-1.9 1.9l-1.9 -1.9zM254.2 301.1l1.9 1.9l-1.9 1.9l-1.9 -1.9zM257.4 296.2l1.9 1.9l-1.9 1.9l-1.9 -1.9zM262.1 281.5l1.9 1.9l-1.9 1.9l-1.9 -1.9zM255.1 297.4l1.9 1.9l-1.9 1.9l-1.9 -1.9zM257.2 293.7l1.9 1.9l-1.9 1.9l-1.9 -1.9zM261.2 296.9l1.9 1.9l-1.9 1.9l-1.9 -1.9zM261.4 288.8l1.9 1.9l-1.9 1.9l-1.9 -1.9zM254.4 301.5l1.9 1.9l-1.9 1.9l-1.9 -1.9zM263.8 281.9l1.9 1.9l-1.9 1.9l-1.9 -1.9zM260.0 287.2l1.9 1.9l-1.9 1.9l-1.9 -1.9zM263.4 286.0l1.9 1.9l-1.9 1.9l-1.9 -1.9zM263.3 290.9l1.9 1.9l-1.9 1.9l-1.9 -1.9zM263.2 296.8l1.9 1.9l-1.9 1.9l-1.9 -1.9zM265.5 278.3l1.9 1.9l-1.9 1.9l-1.9 -1.9zM265.6 287.9l1.9 1.9l-1.9 1.9l-1.9 -1.9zM256.4 291.0l1.9 1.9l-1.9 1.9l-1.9 -1.9zM252.7 295.2l1.9 1.9l-1.9 1.9l-1.9 -1.9zM257.8 285.9l1.9 1.9l-1.9 1.9l-1.9 -1.9zM255.2 296.6l1.9 1.9l-1.9 1.9l-1.9 -1.9zM261.8 283.9l1.9 1.9l-1.9 1.9l-1.9 -1.9zM256.1 299.1l1.9 1.9l-1.9 1.9l-1.9 -1.9zM249.9 305.9l1.9 1.9l-1.9 1.9l-1.9 -1.9zM258.7 295.3l1.9 1.9l-1.9 1.9l-1.9 -1.9zM258.1 297.4l1.9 1.9l-1.9 1.9l-1.9 -1.9zM256.3 291.2l1.9 1.9l-1.9 1.9l-1.9 -1.9zM251.2 293.7l1.9 1.9l-1.9 1.9l-1.9 -1.9zM258.4 294.6l1.9 1.9l-1.9 1.9l-1.9 -1.9zM256.0 294.0l1.9 1.9l-1.9 1.9l-1.9 -1.9zM252.8 299.1l1.9 1.9l-1.9 1.9l-1.9 -1.9zM259.8 297.8l1.9 1.9l-1.9 1.9l-1.9 -1.9zM273.8 273.4l1.9 1.9l-1.9 1.9l-1.9 -1.9zM266.0 275.0l1.9 1.9l-1.9 1.9l-1.9 -1.9zM262.8 287.4l1.9 1.9l-1.9 1.9l-1.9 -1.9zM257.5 290.0l1.9 1.9l-1.9 1.9l-1.9 -1.9zM267.3 286.4l1.9 1.9l-1.9 1.9l-1.9 -1.9zM269.5 282.3l1.9 1.9l-1.9 1.9l-1.9 -1.9zM251.5 292.5l1.9 1.9l-1.9 1.9l-1.9 -1.9zM254.9 291.8l1.9 1.9l-1.9 1.9l-1.9 -1.9zM249.6 296.8l1.9 1.9l-1.9 1.9l-1.9 -1.9zM255.1 289.7l1.9 1.9l-1.9 1.9l-1.9 -1.9zM248.2 303.8l1.9 1.9l-1.9 1.9l-1.9 -1.9zM251.9 296.6l1.9 1.9l-1.9 1.9l-1.9 -1.9zM251.8 299.0l1.9 1.9l-1.9 1.9l-1.9 -1.9zM258.0 293.5l1.9 1.9l-1.9 1.9l-1.9 -1.9zM259.1 289.6l1.9 1.9l-1.9 1.9l-1.9 -1.9zM247.9 297.2l1.9 1.9l-1.9 1.9l-1.9 -1.9zM251.1 301.4l1.9 1.9l-1.9 1.9l-1.9 -1.9zM269.1 284.0l1.9 1.9l-1.9 1.9l-1.9 -1.9zM257.2 289.7l1.9 1.9l-1.9 1.9l-1.9 -1.9zM254.0 296.1l1.9 1.9l-1.9 1.9l-1.9 -1.9zM256.3 294.2l1.9 1.9l-1.9 1.9l-1.9 -1.9zM250.6 294.6l1.9 1.9l-1.9 1.9l-1.9 -1.9zM258.3 289.1l1.9 1.9l-1.9 1.9l-1.9 -1.9zM258.3 293.9l1.9 1.9l-1.9 1.9l-1.9 -1.9zM265.4 287.8l1.9 1.9l-1.9 1.9l-1.9 -1.9zM264.3 288.8l1.9 1.9l-1.9 1.9l-1.9 -1.9zM253.5 295.7l1.9 1.9l-1.9 1.9l-1.9 -1.9zM272.9 274.0l1.9 1.9l-1.9 1.9l-1.9 -1.9zM258.9 289.2l1.9 1.9l-1.9 1.9l-1.9 -1.9zM265.5 286.6l1.9 1.9l-1.9 1.9l-1.9 -1.9zM246.1 307.3l1.9 1.9l-1.9 1.9l-1.9 -1.9zM257.8 294.9l1.9 1.9l-1.9 1.9l-1.9 -1.9zM256.5 287.4l1.9 1.9l-1.9 1.9l-1.9 -1.9zM256.5 295.7l1.9 1.9l-1.9 1.9l-1.9 -1.9zM258.4 286.5l1.9 1.9l-1.9 1.9l-1.9 -1.9zM269.0 278.7l1.9 1.9l-1.9 1.9l-1.9 -1.9zM256.4 295.1l1.9 1.9l-1.9 1.9l-1.9 -1.9zM251.0 300.8l1.9 1.9l-1.9 1.9l-1.9 -1.9zM264.0 283.7l1.9 1.9l-1.9 1.9l-1.9 -1.9zM97.4 434.1l1.9 1.9l-1.9 1.9l-1.9 -1.9zM94.0 456.5l1.9 1.9l-1.9 1.9l-1.9 -1.9zM134.0 421.9l1.9 1.9l-1.9 1.9l-1.9 -1.9zM147.5 408.6l1.9 1.9l-1.9 1.9l-1.9 -1.9zM154.2 398.6l1.9 1.9l-1.9 1.9l-1.9 -1.9zM163.0 396.3l1.9 1.9l-1.9 1.9l-1.9 -1.9zM168.7 395.9l1.9 1.9l-1.9 1.9l-1.9 -1.9zM179.8 351.8l1.9 1.9l-1.9 1.9l-1.9 -1.9zM189.8 366.1l1.9 1.9l-1.9 1.9l-1.9 -1.9zM193.0 376.1l1.9 1.9l-1.9 1.9l-1.9 -1.9zM215.0 307.3l1.9 1.9l-1.9 1.9l-1.9 -1.9zM207.3 326.1l1.9 1.9l-1.9 1.9l-1.9 -1.9zM198.4 356.1l1.9 1.9l-1.9 1.9l-1.9 -1.9zM191.7 367.4l1.9 1.9l-1.9 1.9l-1.9 -1.9zM264.0 306.1l1.9 1.9l-1.9 1.9l-1.9 -1.9zM86.0 447.1l1.9 1.9l-1.9 1.9l-1.9 -1.9zM88.0 448.1l1.9 1.9l-1.9 1.9l-1.9 -1.9z"/><line x1="74.8" y1="466.7" x2="284.6" y2="268.4" stroke="#000" stroke-width="2.4" stroke-dasharray="7.6 4.5"/>
<clipPath id="clipd"><rect x="326.4" y="268.4" width="209.70" height="198.30"/></clipPath><path clip-path="url(#clipd)" fill="#0000ff" d="M371.6 421.6a1.3 1.3 0 1 0 2.6 0a1.3 1.3 0 1 0 -2.6 0M355.6 437.0a1.3 1.3 0 1 0 2.6 0a1.3 1.3 0 1 0 -2.6 0M338.2 456.8a1.3 1.3 0 1 0 2.6 0a1.3 1.3 0 1 0 -2.6 0M482.9 315.7a1.3 1.3 0 1 0 2.6 0a1.3 1.3 0 1 0 -2.6 0M475.9 323.8a1.3 1.3 0 1 0 2.6 0a1.3 1.3 0 1 0 -2.6 0M379.6 413.4a1.3 1.3 0 1 0 2.6 0a1.3 1.3 0 1 0 -2.6 0M359.1 433.8a1.3 1.3 0 1 0 2.6 0a1.3 1.3 0 1 0 -2.6 0M507.9 293.2a1.3 1.3 0 1 0 2.6 0a1.3 1.3 0 1 0 -2.6 0M488.5 311.3a1.3 1.3 0 1 0 2.6 0a1.3 1.3 0 1 0 -2.6 0M363.2 433.0a1.3 1.3 0 1 0 2.6 0a1.3 1.3 0 1 0 -2.6 0M386.2 410.5a1.3 1.3 0 1 0 2.6 0a1.3 1.3 0 1 0 -2.6 0M493.6 309.0a1.3 1.3 0 1 0 2.6 0a1.3 1.3 0 1 0 -2.6 0M498.6 301.0a1.3 1.3 0 1 0 2.6 0a1.3 1.3 0 1 0 -2.6 0M457.5 340.5a1.3 1.3 0 1 0 2.6 0a1.3 1.3 0 1 0 -2.6 0M424.8 371.7a1.3 1.3 0 1 0 2.6 0a1.3 1.3 0 1 0 -2.6 0M342.7 448.6a1.3 1.3 0 1 0 2.6 0a1.3 1.3 0 1 0 -2.6 0M509.3 291.3a1.3 1.3 0 1 0 2.6 0a1.3 1.3 0 1 0 -2.6 0M384.3 412.0a1.3 1.3 0 1 0 2.6 0a1.3 1.3 0 1 0 -2.6 0M504.3 299.9a1.3 1.3 0 1 0 2.6 0a1.3 1.3 0 1 0 -2.6 0M492.3 309.9a1.3 1.3 0 1 0 2.6 0a1.3 1.3 0 1 0 -2.6 0M425.3 373.5a1.3 1.3 0 1 0 2.6 0a1.3 1.3 0 1 0 -2.6 0M410.1 385.4a1.3 1.3 0 1 0 2.6 0a1.3 1.3 0 1 0 -2.6 0M356.9 437.5a1.3 1.3 0 1 0 2.6 0a1.3 1.3 0 1 0 -2.6 0M333.6 456.3a1.3 1.3 0 1 0 2.6 0a1.3 1.3 0 1 0 -2.6 0M334.2 458.9a1.3 1.3 0 1 0 2.6 0a1.3 1.3 0 1 0 -2.6 0M430.5 367.8a1.3 1.3 0 1 0 2.6 0a1.3 1.3 0 1 0 -2.6 0M418.0 381.5a1.3 1.3 0 1 0 2.6 0a1.3 1.3 0 1 0 -2.6 0M363.7 426.3a1.3 1.3 0 1 0 2.6 0a1.3 1.3 0 1 0 -2.6 0M406.5 389.2a1.3 1.3 0 1 0 2.6 0a1.3 1.3 0 1 0 -2.6 0M379.6 413.3a1.3 1.3 0 1 0 2.6 0a1.3 1.3 0 1 0 -2.6 0M395.2 400.4a1.3 1.3 0 1 0 2.6 0a1.3 1.3 0 1 0 -2.6 0M435.2 363.8a1.3 1.3 0 1 0 2.6 0a1.3 1.3 0 1 0 -2.6 0M503.4 297.7a1.3 1.3 0 1 0 2.6 0a1.3 1.3 0 1 0 -2.6 0M370.2 423.7a1.3 1.3 0 1 0 2.6 0a1.3 1.3 0 1 0 -2.6 0M475.9 324.8a1.3 1.3 0 1 0 2.6 0a1.3 1.3 0 1 0 -2.6 0M390.4 405.7a1.3 1.3 0 1 0 2.6 0a1.3 1.3 0 1 0 -2.6 0M360.1 434.0a1.3 1.3 0 1 0 2.6 0a1.3 1.3 0 1 0 -2.6 0M462.5 336.6a1.3 1.3 0 1 0 2.6 0a1.3 1.3 0 1 0 -2.6 0M501.7 297.5a1.3 1.3 0 1 0 2.6 0a1.3 1.3 0 1 0 -2.6 0M514.3 288.4a1.3 1.3 0 1 0 2.6 0a1.3 1.3 0 1 0 -2.6 0M328.7 464.2a1.3 1.3 0 1 0 2.6 0a1.3 1.3 0 1 0 -2.6 0M477.9 318.7a1.3 1.3 0 1 0 2.6 0a1.3 1.3 0 1 0 -2.6 0M406.0 388.4a1.3 1.3 0 1 0 2.6 0a1.3 1.3 0 1 0 -2.6 0M486.3 314.9a1.3 1.3 0 1 0 2.6 0a1.3 1.3 0 1 0 -2.6 0M382.9 411.5a1.3 1.3 0 1 0 2.6 0a1.3 1.3 0 1 0 -2.6 0M352.0 439.9a1.3 1.3 0 1 0 2.6 0a1.3 1.3 0 1 0 -2.6 0M400.3 394.4a1.3 1.3 0 1 0 2.6 0a1.3 1.3 0 1 0 -2.6 0M327.0 465.2a1.3 1.3 0 1 0 2.6 0a1.3 1.3 0 1 0 -2.6 0M333.9 457.2a1.3 1.3 0 1 0 2.6 0a1.3 1.3 0 1 0 -2.6 0M396.6 397.0a1.3 1.3 0 1 0 2.6 0a1.3 1.3 0 1 0 -2.6 0M382.3 409.4a1.3 1.3 0 1 0 2.6 0a1.3 1.3 0 1 0 -2.6 0M408.7 385.4a1.3 1.3 0 1 0 2.6 0a1.3 1.3 0 1 0 -2.6 0M366.1 427.5a1.3 1.3 0 1 0 2.6 0a1.3 1.3 0 1 0 -2.6 0M358.3 435.1a1.3 1.3 0 1 0 2.6 0a1.3 1.3 0 1 0 -2.6 0M458.5 340.3a1.3 1.3 0 1 0 2.6 0a1.3 1.3 0 1 0 -2.6 0M421.8 374.9a1.3 1.3 0 1 0 2.6 0a1.3 1.3 0 1 0 -2.6 0M374.2 419.6a1.3 1.3 0 1 0 2.6 0a1.3 1.3 0 1 0 -2.6 0M429.4 368.1a1.3 1.3 0 1 0 2.6 0a1.3 1.3 0 1 0 -2.6 0M477.6 325.9a1.3 1.3 0 1 0 2.6 0a1.3 1.3 0 1 0 -2.6 0M419.3 375.4a1.3 1.3 0 1 0 2.6 0a1.3 1.3 0 1 0 -2.6 0M372.8 421.9a1.3 1.3 0 1 0 2.6 0a1.3 1.3 0 1 0 -2.6 0M408.1 388.0a1.3 1.3 0 1 0 2.6 0a1.3 1.3 0 1 0 -2.6 0M374.1 418.4a1.3 1.3 0 1 0 2.6 0a1.3 1.3 0 1 0 -2.6 0M423.4 375.4a1.3 1.3 0 1 0 2.6 0a1.3 1.3 0 1 0 -2.6 0M331.3 460.8a1.3 1.3 0 1 0 2.6 0a1.3 1.3 0 1 0 -2.6 0M366.1 426.9a1.3 1.3 0 1 0 2.6 0a1.3 1.3 0 1 0 -2.6 0M370.7 423.0a1.3 1.3 0 1 0 2.6 0a1.3 1.3 0 1 0 -2.6 0M335.2 457.7a1.3 1.3 0 1 0 2.6 0a1.3 1.3 0 1 0 -2.6 0M508.0 297.6a1.3 1.3 0 1 0 2.6 0a1.3 1.3 0 1 0 -2.6 0M404.5 393.3a1.3 1.3 0 1 0 2.6 0a1.3 1.3 0 1 0 -2.6 0M502.7 300.2a1.3 1.3 0 1 0 2.6 0a1.3 1.3 0 1 0 -2.6 0M471.9 329.9a1.3 1.3 0 1 0 2.6 0a1.3 1.3 0 1 0 -2.6 0M422.5 373.8a1.3 1.3 0 1 0 2.6 0a1.3 1.3 0 1 0 -2.6 0M497.3 303.3a1.3 1.3 0 1 0 2.6 0a1.3 1.3 0 1 0 -2.6 0M502.5 297.9a1.3 1.3 0 1 0 2.6 0a1.3 1.3 0 1 0 -2.6 0M454.6 344.8a1.3 1.3 0 1 0 2.6 0a1.3 1.3 0 1 0 -2.6 0M482.7 319.3a1.3 1.3 0 1 0 2.6 0a1.3 1.3 0 1 0 -2.6 0M429.2 370.3a1.3 1.3 0 1 0 2.6 0a1.3 1.3 0 1 0 -2.6 0M454.2 345.1a1.3 1.3 0 1 0 2.6 0a1.3 1.3 0 1 0 -2.6 0M507.0 295.7a1.3 1.3 0 1 0 2.6 0a1.3 1.3 0 1 0 -2.6 0M513.6 285.1a1.3 1.3 0 1 0 2.6 0a1.3 1.3 0 1 0 -2.6 0M514.7 285.8a1.3 1.3 0 1 0 2.6 0a1.3 1.3 0 1 0 -2.6 0M456.8 339.3a1.3 1.3 0 1 0 2.6 0a1.3 1.3 0 1 0 -2.6 0M350.3 442.1a1.3 1.3 0 1 0 2.6 0a1.3 1.3 0 1 0 -2.6 0M516.0 286.4a1.3 1.3 0 1 0 2.6 0a1.3 1.3 0 1 0 -2.6 0M358.1 435.9a1.3 1.3 0 1 0 2.6 0a1.3 1.3 0 1 0 -2.6 0M450.3 350.4a1.3 1.3 0 1 0 2.6 0a1.3 1.3 0 1 0 -2.6 0M507.9 294.8a1.3 1.3 0 1 0 2.6 0a1.3 1.3 0 1 0 -2.6 0M368.2 422.8a1.3 1.3 0 1 0 2.6 0a1.3 1.3 0 1 0 -2.6 0M327.7 464.2a1.3 1.3 0 1 0 2.6 0a1.3 1.3 0 1 0 -2.6 0M497.9 301.4a1.3 1.3 0 1 0 2.6 0a1.3 1.3 0 1 0 -2.6 0M479.4 319.1a1.3 1.3 0 1 0 2.6 0a1.3 1.3 0 1 0 -2.6 0M498.1 305.8a1.3 1.3 0 1 0 2.6 0a1.3 1.3 0 1 0 -2.6 0M364.9 430.0a1.3 1.3 0 1 0 2.6 0a1.3 1.3 0 1 0 -2.6 0M457.5 343.0a1.3 1.3 0 1 0 2.6 0a1.3 1.3 0 1 0 -2.6 0M477.6 319.9a1.3 1.3 0 1 0 2.6 0a1.3 1.3 0 1 0 -2.6 0M418.0 379.1a1.3 1.3 0 1 0 2.6 0a1.3 1.3 0 1 0 -2.6 0M331.8 460.4a1.3 1.3 0 1 0 2.6 0a1.3 1.3 0 1 0 -2.6 0M442.3 358.7a1.3 1.3 0 1 0 2.6 0a1.3 1.3 0 1 0 -2.6 0M445.0 353.1a1.3 1.3 0 1 0 2.6 0a1.3 1.3 0 1 0 -2.6 0M352.5 442.4a1.3 1.3 0 1 0 2.6 0a1.3 1.3 0 1 0 -2.6 0M428.2 367.4a1.3 1.3 0 1 0 2.6 0a1.3 1.3 0 1 0 -2.6 0M327.2 463.4a1.3 1.3 0 1 0 2.6 0a1.3 1.3 0 1 0 -2.6 0M341.9 453.0a1.3 1.3 0 1 0 2.6 0a1.3 1.3 0 1 0 -2.6 0M432.2 367.2a1.3 1.3 0 1 0 2.6 0a1.3 1.3 0 1 0 -2.6 0M386.4 407.0a1.3 1.3 0 1 0 2.6 0a1.3 1.3 0 1 0 -2.6 0M371.2 426.7a1.3 1.3 0 1 0 2.6 0a1.3 1.3 0 1 0 -2.6 0M343.8 448.7a1.3 1.3 0 1 0 2.6 0a1.3 1.3 0 1 0 -2.6 0M347.7 447.5a1.3 1.3 0 1 0 2.6 0a1.3 1.3 0 1 0 -2.6 0M426.1 373.2a1.3 1.3 0 1 0 2.6 0a1.3 1.3 0 1 0 -2.6 0M410.6 384.3a1.3 1.3 0 1 0 2.6 0a1.3 1.3 0 1 0 -2.6 0M338.3 456.1a1.3 1.3 0 1 0 2.6 0a1.3 1.3 0 1 0 -2.6 0M498.8 302.0a1.3 1.3 0 1 0 2.6 0a1.3 1.3 0 1 0 -2.6 0M490.0 309.7a1.3 1.3 0 1 0 2.6 0a1.3 1.3 0 1 0 -2.6 0M408.4 387.7a1.3 1.3 0 1 0 2.6 0a1.3 1.3 0 1 0 -2.6 0M497.4 304.5a1.3 1.3 0 1 0 2.6 0a1.3 1.3 0 1 0 -2.6 0M359.9 432.9a1.3 1.3 0 1 0 2.6 0a1.3 1.3 0 1 0 -2.6 0M391.8 402.3a1.3 1.3 0 1 0 2.6 0a1.3 1.3 0 1 0 -2.6 0M431.9 363.9a1.3 1.3 0 1 0 2.6 0a1.3 1.3 0 1 0 -2.6 0M326.2 466.9a1.3 1.3 0 1 0 2.6 0a1.3 1.3 0 1 0 -2.6 0M386.6 410.1a1.3 1.3 0 1 0 2.6 0a1.3 1.3 0 1 0 -2.6 0M466.2 333.8a1.3 1.3 0 1 0 2.6 0a1.3 1.3 0 1 0 -2.6 0M420.6 375.5a1.3 1.3 0 1 0 2.6 0a1.3 1.3 0 1 0 -2.6 0M492.2 308.2a1.3 1.3 0 1 0 2.6 0a1.3 1.3 0 1 0 -2.6 0M395.4 399.8a1.3 1.3 0 1 0 2.6 0a1.3 1.3 0 1 0 -2.6 0M448.6 353.9a1.3 1.3 0 1 0 2.6 0a1.3 1.3 0 1 0 -2.6 0M458.5 341.5a1.3 1.3 0 1 0 2.6 0a1.3 1.3 0 1 0 -2.6 0M505.0 297.3a1.3 1.3 0 1 0 2.6 0a1.3 1.3 0 1 0 -2.6 0M417.2 378.6a1.3 1.3 0 1 0 2.6 0a1.3 1.3 0 1 0 -2.6 0M496.1 305.6a1.3 1.3 0 1 0 2.6 0a1.3 1.3 0 1 0 -2.6 0M480.2 321.2a1.3 1.3 0 1 0 2.6 0a1.3 1.3 0 1 0 -2.6 0M352.8 441.5a1.3 1.3 0 1 0 2.6 0a1.3 1.3 0 1 0 -2.6 0M477.1 324.3a1.3 1.3 0 1 0 2.6 0a1.3 1.3 0 1 0 -2.6 0M351.4 440.3a1.3 1.3 0 1 0 2.6 0a1.3 1.3 0 1 0 -2.6 0M341.4 449.7a1.3 1.3 0 1 0 2.6 0a1.3 1.3 0 1 0 -2.6 0M360.1 431.6a1.3 1.3 0 1 0 2.6 0a1.3 1.3 0 1 0 -2.6 0M502.9 299.8a1.3 1.3 0 1 0 2.6 0a1.3 1.3 0 1 0 -2.6 0M394.2 400.1a1.3 1.3 0 1 0 2.6 0a1.3 1.3 0 1 0 -2.6 0M447.5 349.8a1.3 1.3 0 1 0 2.6 0a1.3 1.3 0 1 0 -2.6 0M509.6 291.4a1.3 1.3 0 1 0 2.6 0a1.3 1.3 0 1 0 -2.6 0M360.5 433.9a1.3 1.3 0 1 0 2.6 0a1.3 1.3 0 1 0 -2.6 0M384.3 411.7a1.3 1.3 0 1 0 2.6 0a1.3 1.3 0 1 0 -2.6 0M329.7 459.0a1.3 1.3 0 1 0 2.6 0a1.3 1.3 0 1 0 -2.6 0M488.7 311.6a1.3 1.3 0 1 0 2.6 0a1.3 1.3 0 1 0 -2.6 0M483.0 316.2a1.3 1.3 0 1 0 2.6 0a1.3 1.3 0 1 0 -2.6 0M356.3 440.4a1.3 1.3 0 1 0 2.6 0a1.3 1.3 0 1 0 -2.6 0M440.3 359.6a1.3 1.3 0 1 0 2.6 0a1.3 1.3 0 1 0 -2.6 0M510.0 291.8a1.3 1.3 0 1 0 2.6 0a1.3 1.3 0 1 0 -2.6 0M475.0 324.3a1.3 1.3 0 1 0 2.6 0a1.3 1.3 0 1 0 -2.6 0M453.5 345.4a1.3 1.3 0 1 0 2.6 0a1.3 1.3 0 1 0 -2.6 0M458.2 340.9a1.3 1.3 0 1 0 2.6 0a1.3 1.3 0 1 0 -2.6 0M489.0 313.7a1.3 1.3 0 1 0 2.6 0a1.3 1.3 0 1 0 -2.6 0M384.8 409.0a1.3 1.3 0 1 0 2.6 0a1.3 1.3 0 1 0 -2.6 0M443.2 355.7a1.3 1.3 0 1 0 2.6 0a1.3 1.3 0 1 0 -2.6 0M501.9 299.9a1.3 1.3 0 1 0 2.6 0a1.3 1.3 0 1 0 -2.6 0M370.5 424.9a1.3 1.3 0 1 0 2.6 0a1.3 1.3 0 1 0 -2.6 0M389.5 409.1a1.3 1.3 0 1 0 2.6 0a1.3 1.3 0 1 0 -2.6 0M502.3 302.5a1.3 1.3 0 1 0 2.6 0a1.3 1.3 0 1 0 -2.6 0M404.0 394.2a1.3 1.3 0 1 0 2.6 0a1.3 1.3 0 1 0 -2.6 0M381.0 412.3a1.3 1.3 0 1 0 2.6 0a1.3 1.3 0 1 0 -2.6 0M406.2 389.1a1.3 1.3 0 1 0 2.6 0a1.3 1.3 0 1 0 -2.6 0M431.6 365.9a1.3 1.3 0 1 0 2.6 0a1.3 1.3 0 1 0 -2.6 0M461.8 338.5a1.3 1.3 0 1 0 2.6 0a1.3 1.3 0 1 0 -2.6 0M512.6 290.3a1.3 1.3 0 1 0 2.6 0a1.3 1.3 0 1 0 -2.6 0M447.9 350.2a1.3 1.3 0 1 0 2.6 0a1.3 1.3 0 1 0 -2.6 0M517.1 284.8a1.3 1.3 0 1 0 2.6 0a1.3 1.3 0 1 0 -2.6 0M519.8 280.9a1.3 1.3 0 1 0 2.6 0a1.3 1.3 0 1 0 -2.6 0M386.6 409.4a1.3 1.3 0 1 0 2.6 0a1.3 1.3 0 1 0 -2.6 0M343.1 449.7a1.3 1.3 0 1 0 2.6 0a1.3 1.3 0 1 0 -2.6 0M508.1 292.7a1.3 1.3 0 1 0 2.6 0a1.3 1.3 0 1 0 -2.6 0M501.0 300.2a1.3 1.3 0 1 0 2.6 0a1.3 1.3 0 1 0 -2.6 0M372.1 423.0a1.3 1.3 0 1 0 2.6 0a1.3 1.3 0 1 0 -2.6 0M384.1 410.1a1.3 1.3 0 1 0 2.6 0a1.3 1.3 0 1 0 -2.6 0M480.9 319.6a1.3 1.3 0 1 0 2.6 0a1.3 1.3 0 1 0 -2.6 0M459.3 343.2a1.3 1.3 0 1 0 2.6 0a1.3 1.3 0 1 0 -2.6 0M376.8 418.8a1.3 1.3 0 1 0 2.6 0a1.3 1.3 0 1 0 -2.6 0M428.5 368.6a1.3 1.3 0 1 0 2.6 0a1.3 1.3 0 1 0 -2.6 0M331.4 460.3a1.3 1.3 0 1 0 2.6 0a1.3 1.3 0 1 0 -2.6 0M387.5 407.3a1.3 1.3 0 1 0 2.6 0a1.3 1.3 0 1 0 -2.6 0M520.7 281.3a1.3 1.3 0 1 0 2.6 0a1.3 1.3 0 1 0 -2.6 0M382.1 411.2a1.3 1.3 0 1 0 2.6 0a1.3 1.3 0 1 0 -2.6 0M469.3 331.8a1.3 1.3 0 1 0 2.6 0a1.3 1.3 0 1 0 -2.6 0M454.2 341.8a1.3 1.3 0 1 0 2.6 0a1.3 1.3 0 1 0 -2.6 0M466.9 333.4a1.3 1.3 0 1 0 2.6 0a1.3 1.3 0 1 0 -2.6 0M435.5 363.1a1.3 1.3 0 1 0 2.6 0a1.3 1.3 0 1 0 -2.6 0M434.0 365.8a1.3 1.3 0 1 0 2.6 0a1.3 1.3 0 1 0 -2.6 0M424.2 371.5a1.3 1.3 0 1 0 2.6 0a1.3 1.3 0 1 0 -2.6 0M420.5 374.2a1.3 1.3 0 1 0 2.6 0a1.3 1.3 0 1 0 -2.6 0M338.5 452.7a1.3 1.3 0 1 0 2.6 0a1.3 1.3 0 1 0 -2.6 0M375.6 416.5a1.3 1.3 0 1 0 2.6 0a1.3 1.3 0 1 0 -2.6 0M402.2 394.9a1.3 1.3 0 1 0 2.6 0a1.3 1.3 0 1 0 -2.6 0M389.8 408.0a1.3 1.3 0 1 0 2.6 0a1.3 1.3 0 1 0 -2.6 0M401.3 394.9a1.3 1.3 0 1 0 2.6 0a1.3 1.3 0 1 0 -2.6 0M497.9 303.1a1.3 1.3 0 1 0 2.6 0a1.3 1.3 0 1 0 -2.6 0M328.8 462.4a1.3 1.3 0 1 0 2.6 0a1.3 1.3 0 1 0 -2.6 0M356.0 437.7a1.3 1.3 0 1 0 2.6 0a1.3 1.3 0 1 0 -2.6 0M492.4 308.1a1.3 1.3 0 1 0 2.6 0a1.3 1.3 0 1 0 -2.6 0M434.2 364.4a1.3 1.3 0 1 0 2.6 0a1.3 1.3 0 1 0 -2.6 0M419.1 378.0a1.3 1.3 0 1 0 2.6 0a1.3 1.3 0 1 0 -2.6 0M487.8 313.7a1.3 1.3 0 1 0 2.6 0a1.3 1.3 0 1 0 -2.6 0M521.5 281.8a1.3 1.3 0 1 0 2.6 0a1.3 1.3 0 1 0 -2.6 0M509.8 295.0a1.3 1.3 0 1 0 2.6 0a1.3 1.3 0 1 0 -2.6 0M399.9 394.5a1.3 1.3 0 1 0 2.6 0a1.3 1.3 0 1 0 -2.6 0M440.9 359.4a1.3 1.3 0 1 0 2.6 0a1.3 1.3 0 1 0 -2.6 0M346.2 449.0a1.3 1.3 0 1 0 2.6 0a1.3 1.3 0 1 0 -2.6 0M385.3 411.9a1.3 1.3 0 1 0 2.6 0a1.3 1.3 0 1 0 -2.6 0M452.6 344.6a1.3 1.3 0 1 0 2.6 0a1.3 1.3 0 1 0 -2.6 0M332.4 460.9a1.3 1.3 0 1 0 2.6 0a1.3 1.3 0 1 0 -2.6 0M449.7 349.0a1.3 1.3 0 1 0 2.6 0a1.3 1.3 0 1 0 -2.6 0M455.6 340.6a1.3 1.3 0 1 0 2.6 0a1.3 1.3 0 1 0 -2.6 0M385.7 407.9a1.3 1.3 0 1 0 2.6 0a1.3 1.3 0 1 0 -2.6 0M392.0 404.7a1.3 1.3 0 1 0 2.6 0a1.3 1.3 0 1 0 -2.6 0M489.5 308.9a1.3 1.3 0 1 0 2.6 0a1.3 1.3 0 1 0 -2.6 0M499.2 303.9a1.3 1.3 0 1 0 2.6 0a1.3 1.3 0 1 0 -2.6 0M454.9 344.6a1.3 1.3 0 1 0 2.6 0a1.3 1.3 0 1 0 -2.6 0M429.0 370.2a1.3 1.3 0 1 0 2.6 0a1.3 1.3 0 1 0 -2.6 0M519.7 283.0a1.3 1.3 0 1 0 2.6 0a1.3 1.3 0 1 0 -2.6 0M465.7 333.2a1.3 1.3 0 1 0 2.6 0a1.3 1.3 0 1 0 -2.6 0M423.3 375.7a1.3 1.3 0 1 0 2.6 0a1.3 1.3 0 1 0 -2.6 0M374.4 420.7a1.3 1.3 0 1 0 2.6 0a1.3 1.3 0 1 0 -2.6 0M364.7 427.1a1.3 1.3 0 1 0 2.6 0a1.3 1.3 0 1 0 -2.6 0M504.2 296.3a1.3 1.3 0 1 0 2.6 0a1.3 1.3 0 1 0 -2.6 0M462.4 334.0a1.3 1.3 0 1 0 2.6 0a1.3 1.3 0 1 0 -2.6 0M488.1 310.0a1.3 1.3 0 1 0 2.6 0a1.3 1.3 0 1 0 -2.6 0M425.5 369.1a1.3 1.3 0 1 0 2.6 0a1.3 1.3 0 1 0 -2.6 0M448.0 350.5a1.3 1.3 0 1 0 2.6 0a1.3 1.3 0 1 0 -2.6 0M447.8 348.5a1.3 1.3 0 1 0 2.6 0a1.3 1.3 0 1 0 -2.6 0M331.9 460.0a1.3 1.3 0 1 0 2.6 0a1.3 1.3 0 1 0 -2.6 0M419.3 376.8a1.3 1.3 0 1 0 2.6 0a1.3 1.3 0 1 0 -2.6 0M500.6 299.7a1.3 1.3 0 1 0 2.6 0a1.3 1.3 0 1 0 -2.6 0M472.6 326.7a1.3 1.3 0 1 0 2.6 0a1.3 1.3 0 1 0 -2.6 0M401.7 395.4a1.3 1.3 0 1 0 2.6 0a1.3 1.3 0 1 0 -2.6 0M444.3 352.6a1.3 1.3 0 1 0 2.6 0a1.3 1.3 0 1 0 -2.6 0M517.3 284.7a1.3 1.3 0 1 0 2.6 0a1.3 1.3 0 1 0 -2.6 0M473.7 325.4a1.3 1.3 0 1 0 2.6 0a1.3 1.3 0 1 0 -2.6 0M461.3 338.8a1.3 1.3 0 1 0 2.6 0a1.3 1.3 0 1 0 -2.6 0M480.6 320.1a1.3 1.3 0 1 0 2.6 0a1.3 1.3 0 1 0 -2.6 0M359.6 435.5a1.3 1.3 0 1 0 2.6 0a1.3 1.3 0 1 0 -2.6 0M328.6 460.9a1.3 1.3 0 1 0 2.6 0a1.3 1.3 0 1 0 -2.6 0M379.5 417.4a1.3 1.3 0 1 0 2.6 0a1.3 1.3 0 1 0 -2.6 0M474.1 327.4a1.3 1.3 0 1 0 2.6 0a1.3 1.3 0 1 0 -2.6 0M491.1 308.7a1.3 1.3 0 1 0 2.6 0a1.3 1.3 0 1 0 -2.6 0M388.4 407.6a1.3 1.3 0 1 0 2.6 0a1.3 1.3 0 1 0 -2.6 0M425.9 372.2a1.3 1.3 0 1 0 2.6 0a1.3 1.3 0 1 0 -2.6 0M331.0 461.2a1.3 1.3 0 1 0 2.6 0a1.3 1.3 0 1 0 -2.6 0M505.4 295.1a1.3 1.3 0 1 0 2.6 0a1.3 1.3 0 1 0 -2.6 0M351.2 442.0a1.3 1.3 0 1 0 2.6 0a1.3 1.3 0 1 0 -2.6 0M519.5 283.4a1.3 1.3 0 1 0 2.6 0a1.3 1.3 0 1 0 -2.6 0M357.8 435.0a1.3 1.3 0 1 0 2.6 0a1.3 1.3 0 1 0 -2.6 0M509.0 292.3a1.3 1.3 0 1 0 2.6 0a1.3 1.3 0 1 0 -2.6 0M456.9 340.8a1.3 1.3 0 1 0 2.6 0a1.3 1.3 0 1 0 -2.6 0M347.6 446.5a1.3 1.3 0 1 0 2.6 0a1.3 1.3 0 1 0 -2.6 0M392.2 407.3a1.3 1.3 0 1 0 2.6 0a1.3 1.3 0 1 0 -2.6 0M357.9 434.5a1.3 1.3 0 1 0 2.6 0a1.3 1.3 0 1 0 -2.6 0M373.2 420.8a1.3 1.3 0 1 0 2.6 0a1.3 1.3 0 1 0 -2.6 0M516.6 286.2a1.3 1.3 0 1 0 2.6 0a1.3 1.3 0 1 0 -2.6 0M383.6 413.3a1.3 1.3 0 1 0 2.6 0a1.3 1.3 0 1 0 -2.6 0M503.9 298.5a1.3 1.3 0 1 0 2.6 0a1.3 1.3 0 1 0 -2.6 0M340.0 452.1a1.3 1.3 0 1 0 2.6 0a1.3 1.3 0 1 0 -2.6 0M466.7 333.5a1.3 1.3 0 1 0 2.6 0a1.3 1.3 0 1 0 -2.6 0M330.5 461.5a1.3 1.3 0 1 0 2.6 0a1.3 1.3 0 1 0 -2.6 0M365.7 429.1a1.3 1.3 0 1 0 2.6 0a1.3 1.3 0 1 0 -2.6 0M332.0 460.8a1.3 1.3 0 1 0 2.6 0a1.3 1.3 0 1 0 -2.6 0M518.9 282.4a1.3 1.3 0 1 0 2.6 0a1.3 1.3 0 1 0 -2.6 0M444.7 356.4a1.3 1.3 0 1 0 2.6 0a1.3 1.3 0 1 0 -2.6 0M359.0 431.5a1.3 1.3 0 1 0 2.6 0a1.3 1.3 0 1 0 -2.6 0M367.5 423.3a1.3 1.3 0 1 0 2.6 0a1.3 1.3 0 1 0 -2.6 0M460.0 340.1a1.3 1.3 0 1 0 2.6 0a1.3 1.3 0 1 0 -2.6 0M518.0 281.5a1.3 1.3 0 1 0 2.6 0a1.3 1.3 0 1 0 -2.6 0M463.9 334.4a1.3 1.3 0 1 0 2.6 0a1.3 1.3 0 1 0 -2.6 0M456.8 341.8a1.3 1.3 0 1 0 2.6 0a1.3 1.3 0 1 0 -2.6 0M364.4 430.0a1.3 1.3 0 1 0 2.6 0a1.3 1.3 0 1 0 -2.6 0M352.3 442.7a1.3 1.3 0 1 0 2.6 0a1.3 1.3 0 1 0 -2.6 0M431.7 365.7a1.3 1.3 0 1 0 2.6 0a1.3 1.3 0 1 0 -2.6 0M396.5 399.3a1.3 1.3 0 1 0 2.6 0a1.3 1.3 0 1 0 -2.6 0M474.6 328.0a1.3 1.3 0 1 0 2.6 0a1.3 1.3 0 1 0 -2.6 0M332.6 459.1a1.3 1.3 0 1 0 2.6 0a1.3 1.3 0 1 0 -2.6 0M372.1 421.5a1.3 1.3 0 1 0 2.6 0a1.3 1.3 0 1 0 -2.6 0M438.2 359.1a1.3 1.3 0 1 0 2.6 0a1.3 1.3 0 1 0 -2.6 0M392.9 400.7a1.3 1.3 0 1 0 2.6 0a1.3 1.3 0 1 0 -2.6 0M396.8 399.8a1.3 1.3 0 1 0 2.6 0a1.3 1.3 0 1 0 -2.6 0M362.7 434.4a1.3 1.3 0 1 0 2.6 0a1.3 1.3 0 1 0 -2.6 0M393.7 400.8a1.3 1.3 0 1 0 2.6 0a1.3 1.3 0 1 0 -2.6 0M330.4 461.8a1.3 1.3 0 1 0 2.6 0a1.3 1.3 0 1 0 -2.6 0M362.8 430.0a1.3 1.3 0 1 0 2.6 0a1.3 1.3 0 1 0 -2.6 0M510.1 293.8a1.3 1.3 0 1 0 2.6 0a1.3 1.3 0 1 0 -2.6 0M423.1 372.8a1.3 1.3 0 1 0 2.6 0a1.3 1.3 0 1 0 -2.6 0M466.9 332.3a1.3 1.3 0 1 0 2.6 0a1.3 1.3 0 1 0 -2.6 0M402.5 392.6a1.3 1.3 0 1 0 2.6 0a1.3 1.3 0 1 0 -2.6 0M416.5 379.2a1.3 1.3 0 1 0 2.6 0a1.3 1.3 0 1 0 -2.6 0M395.3 401.1a1.3 1.3 0 1 0 2.6 0a1.3 1.3 0 1 0 -2.6 0M331.0 460.9a1.3 1.3 0 1 0 2.6 0a1.3 1.3 0 1 0 -2.6 0M479.6 320.8a1.3 1.3 0 1 0 2.6 0a1.3 1.3 0 1 0 -2.6 0M347.7 446.7a1.3 1.3 0 1 0 2.6 0a1.3 1.3 0 1 0 -2.6 0M383.4 414.4a1.3 1.3 0 1 0 2.6 0a1.3 1.3 0 1 0 -2.6 0M420.0 378.0a1.3 1.3 0 1 0 2.6 0a1.3 1.3 0 1 0 -2.6 0M517.0 286.1a1.3 1.3 0 1 0 2.6 0a1.3 1.3 0 1 0 -2.6 0M446.3 352.2a1.3 1.3 0 1 0 2.6 0a1.3 1.3 0 1 0 -2.6 0M443.4 356.7a1.3 1.3 0 1 0 2.6 0a1.3 1.3 0 1 0 -2.6 0M329.6 463.7a1.3 1.3 0 1 0 2.6 0a1.3 1.3 0 1 0 -2.6 0M411.2 385.0a1.3 1.3 0 1 0 2.6 0a1.3 1.3 0 1 0 -2.6 0M333.5 459.5a1.3 1.3 0 1 0 2.6 0a1.3 1.3 0 1 0 -2.6 0M361.2 432.9a1.3 1.3 0 1 0 2.6 0a1.3 1.3 0 1 0 -2.6 0M387.1 406.7a1.3 1.3 0 1 0 2.6 0a1.3 1.3 0 1 0 -2.6 0M450.2 347.8a1.3 1.3 0 1 0 2.6 0a1.3 1.3 0 1 0 -2.6 0M458.3 339.6a1.3 1.3 0 1 0 2.6 0a1.3 1.3 0 1 0 -2.6 0M432.4 362.1a1.3 1.3 0 1 0 2.6 0a1.3 1.3 0 1 0 -2.6 0M376.0 419.4a1.3 1.3 0 1 0 2.6 0a1.3 1.3 0 1 0 -2.6 0M391.1 405.9a1.3 1.3 0 1 0 2.6 0a1.3 1.3 0 1 0 -2.6 0M397.2 398.9a1.3 1.3 0 1 0 2.6 0a1.3 1.3 0 1 0 -2.6 0M495.1 305.4a1.3 1.3 0 1 0 2.6 0a1.3 1.3 0 1 0 -2.6 0M348.6 443.0a1.3 1.3 0 1 0 2.6 0a1.3 1.3 0 1 0 -2.6 0M499.2 305.5a1.3 1.3 0 1 0 2.6 0a1.3 1.3 0 1 0 -2.6 0M353.3 442.3a1.3 1.3 0 1 0 2.6 0a1.3 1.3 0 1 0 -2.6 0M465.3 334.5a1.3 1.3 0 1 0 2.6 0a1.3 1.3 0 1 0 -2.6 0M486.7 314.1a1.3 1.3 0 1 0 2.6 0a1.3 1.3 0 1 0 -2.6 0M497.4 300.9a1.3 1.3 0 1 0 2.6 0a1.3 1.3 0 1 0 -2.6 0M479.8 318.8a1.3 1.3 0 1 0 2.6 0a1.3 1.3 0 1 0 -2.6 0M444.3 355.1a1.3 1.3 0 1 0 2.6 0a1.3 1.3 0 1 0 -2.6 0M336.4 456.3a1.3 1.3 0 1 0 2.6 0a1.3 1.3 0 1 0 -2.6 0M418.8 377.4a1.3 1.3 0 1 0 2.6 0a1.3 1.3 0 1 0 -2.6 0M418.2 379.3a1.3 1.3 0 1 0 2.6 0a1.3 1.3 0 1 0 -2.6 0M380.8 415.3a1.3 1.3 0 1 0 2.6 0a1.3 1.3 0 1 0 -2.6 0M500.2 304.4a1.3 1.3 0 1 0 2.6 0a1.3 1.3 0 1 0 -2.6 0M381.8 413.1a1.3 1.3 0 1 0 2.6 0a1.3 1.3 0 1 0 -2.6 0M429.4 368.0a1.3 1.3 0 1 0 2.6 0a1.3 1.3 0 1 0 -2.6 0M493.4 307.3a1.3 1.3 0 1 0 2.6 0a1.3 1.3 0 1 0 -2.6 0M410.5 386.4a1.3 1.3 0 1 0 2.6 0a1.3 1.3 0 1 0 -2.6 0M340.9 454.5a1.3 1.3 0 1 0 2.6 0a1.3 1.3 0 1 0 -2.6 0M381.0 412.4a1.3 1.3 0 1 0 2.6 0a1.3 1.3 0 1 0 -2.6 0M491.8 306.6a1.3 1.3 0 1 0 2.6 0a1.3 1.3 0 1 0 -2.6 0M364.9 429.8a1.3 1.3 0 1 0 2.6 0a1.3 1.3 0 1 0 -2.6 0M506.1 291.1a1.3 1.3 0 1 0 2.6 0a1.3 1.3 0 1 0 -2.6 0M327.2 467.1a1.3 1.3 0 1 0 2.6 0a1.3 1.3 0 1 0 -2.6 0M325.8 466.5a1.3 1.3 0 1 0 2.6 0a1.3 1.3 0 1 0 -2.6 0M408.7 386.0a1.3 1.3 0 1 0 2.6 0a1.3 1.3 0 1 0 -2.6 0M343.3 450.8a1.3 1.3 0 1 0 2.6 0a1.3 1.3 0 1 0 -2.6 0M449.4 350.8a1.3 1.3 0 1 0 2.6 0a1.3 1.3 0 1 0 -2.6 0M425.8 373.5a1.3 1.3 0 1 0 2.6 0a1.3 1.3 0 1 0 -2.6 0M337.8 455.3a1.3 1.3 0 1 0 2.6 0a1.3 1.3 0 1 0 -2.6 0M411.1 385.0a1.3 1.3 0 1 0 2.6 0a1.3 1.3 0 1 0 -2.6 0M475.3 324.2a1.3 1.3 0 1 0 2.6 0a1.3 1.3 0 1 0 -2.6 0M389.0 406.8a1.3 1.3 0 1 0 2.6 0a1.3 1.3 0 1 0 -2.6 0M440.9 356.3a1.3 1.3 0 1 0 2.6 0a1.3 1.3 0 1 0 -2.6 0M348.4 445.0a1.3 1.3 0 1 0 2.6 0a1.3 1.3 0 1 0 -2.6 0M513.4 289.1a1.3 1.3 0 1 0 2.6 0a1.3 1.3 0 1 0 -2.6 0M356.1 437.2a1.3 1.3 0 1 0 2.6 0a1.3 1.3 0 1 0 -2.6 0M408.9 389.2a1.3 1.3 0 1 0 2.6 0a1.3 1.3 0 1 0 -2.6 0M385.1 411.5a1.3 1.3 0 1 0 2.6 0a1.3 1.3 0 1 0 -2.6 0M428.5 367.1a1.3 1.3 0 1 0 2.6 0a1.3 1.3 0 1 0 -2.6 0M430.8 366.7a1.3 1.3 0 1 0 2.6 0a1.3 1.3 0 1 0 -2.6 0M358.7 433.0a1.3 1.3 0 1 0 2.6 0a1.3 1.3 0 1 0 -2.6 0M420.2 377.8a1.3 1.3 0 1 0 2.6 0a1.3 1.3 0 1 0 -2.6 0M439.5 359.9a1.3 1.3 0 1 0 2.6 0a1.3 1.3 0 1 0 -2.6 0M437.5 359.2a1.3 1.3 0 1 0 2.6 0a1.3 1.3 0 1 0 -2.6 0M459.9 336.0a1.3 1.3 0 1 0 2.6 0a1.3 1.3 0 1 0 -2.6 0M468.1 330.0a1.3 1.3 0 1 0 2.6 0a1.3 1.3 0 1 0 -2.6 0M390.7 405.1a1.3 1.3 0 1 0 2.6 0a1.3 1.3 0 1 0 -2.6 0M385.0 410.5a1.3 1.3 0 1 0 2.6 0a1.3 1.3 0 1 0 -2.6 0M387.4 406.7a1.3 1.3 0 1 0 2.6 0a1.3 1.3 0 1 0 -2.6 0M366.3 428.9a1.3 1.3 0 1 0 2.6 0a1.3 1.3 0 1 0 -2.6 0M397.7 397.9a1.3 1.3 0 1 0 2.6 0a1.3 1.3 0 1 0 -2.6 0M455.9 344.1a1.3 1.3 0 1 0 2.6 0a1.3 1.3 0 1 0 -2.6 0M482.3 315.5a1.3 1.3 0 1 0 2.6 0a1.3 1.3 0 1 0 -2.6 0M389.9 405.0a1.3 1.3 0 1 0 2.6 0a1.3 1.3 0 1 0 -2.6 0M344.0 449.6a1.3 1.3 0 1 0 2.6 0a1.3 1.3 0 1 0 -2.6 0M521.2 281.1a1.3 1.3 0 1 0 2.6 0a1.3 1.3 0 1 0 -2.6 0M496.0 305.0a1.3 1.3 0 1 0 2.6 0a1.3 1.3 0 1 0 -2.6 0M325.6 467.2a1.3 1.3 0 1 0 2.6 0a1.3 1.3 0 1 0 -2.6 0M369.0 426.6a1.3 1.3 0 1 0 2.6 0a1.3 1.3 0 1 0 -2.6 0M373.5 419.6a1.3 1.3 0 1 0 2.6 0a1.3 1.3 0 1 0 -2.6 0M372.8 421.9a1.3 1.3 0 1 0 2.6 0a1.3 1.3 0 1 0 -2.6 0M412.1 384.5a1.3 1.3 0 1 0 2.6 0a1.3 1.3 0 1 0 -2.6 0M342.7 451.2a1.3 1.3 0 1 0 2.6 0a1.3 1.3 0 1 0 -2.6 0M481.0 318.9a1.3 1.3 0 1 0 2.6 0a1.3 1.3 0 1 0 -2.6 0M326.0 465.6a1.3 1.3 0 1 0 2.6 0a1.3 1.3 0 1 0 -2.6 0M520.9 283.6a1.3 1.3 0 1 0 2.6 0a1.3 1.3 0 1 0 -2.6 0M435.0 361.8a1.3 1.3 0 1 0 2.6 0a1.3 1.3 0 1 0 -2.6 0M517.3 285.7a1.3 1.3 0 1 0 2.6 0a1.3 1.3 0 1 0 -2.6 0M459.6 338.5a1.3 1.3 0 1 0 2.6 0a1.3 1.3 0 1 0 -2.6 0M325.2 468.1a1.3 1.3 0 1 0 2.6 0a1.3 1.3 0 1 0 -2.6 0M438.0 358.2a1.3 1.3 0 1 0 2.6 0a1.3 1.3 0 1 0 -2.6 0M421.7 374.0a1.3 1.3 0 1 0 2.6 0a1.3 1.3 0 1 0 -2.6 0M469.2 331.0a1.3 1.3 0 1 0 2.6 0a1.3 1.3 0 1 0 -2.6 0M402.5 392.4a1.3 1.3 0 1 0 2.6 0a1.3 1.3 0 1 0 -2.6 0M366.6 426.7a1.3 1.3 0 1 0 2.6 0a1.3 1.3 0 1 0 -2.6 0M330.5 461.8a1.3 1.3 0 1 0 2.6 0a1.3 1.3 0 1 0 -2.6 0M415.1 380.9a1.3 1.3 0 1 0 2.6 0a1.3 1.3 0 1 0 -2.6 0M470.5 329.0a1.3 1.3 0 1 0 2.6 0a1.3 1.3 0 1 0 -2.6 0M387.7 410.4a1.3 1.3 0 1 0 2.6 0a1.3 1.3 0 1 0 -2.6 0M457.1 340.8a1.3 1.3 0 1 0 2.6 0a1.3 1.3 0 1 0 -2.6 0M505.2 297.3a1.3 1.3 0 1 0 2.6 0a1.3 1.3 0 1 0 -2.6 0M345.4 445.0a1.3 1.3 0 1 0 2.6 0a1.3 1.3 0 1 0 -2.6 0M518.3 285.4a1.3 1.3 0 1 0 2.6 0a1.3 1.3 0 1 0 -2.6 0M488.9 312.2a1.3 1.3 0 1 0 2.6 0a1.3 1.3 0 1 0 -2.6 0M466.5 334.4a1.3 1.3 0 1 0 2.6 0a1.3 1.3 0 1 0 -2.6 0M498.3 304.7a1.3 1.3 0 1 0 2.6 0a1.3 1.3 0 1 0 -2.6 0M507.3 295.3a1.3 1.3 0 1 0 2.6 0a1.3 1.3 0 1 0 -2.6 0M381.2 413.8a1.3 1.3 0 1 0 2.6 0a1.3 1.3 0 1 0 -2.6 0M498.1 302.8a1.3 1.3 0 1 0 2.6 0a1.3 1.3 0 1 0 -2.6 0M449.2 349.8a1.3 1.3 0 1 0 2.6 0a1.3 1.3 0 1 0 -2.6 0M361.5 433.2a1.3 1.3 0 1 0 2.6 0a1.3 1.3 0 1 0 -2.6 0M419.5 376.5a1.3 1.3 0 1 0 2.6 0a1.3 1.3 0 1 0 -2.6 0M408.3 389.0a1.3 1.3 0 1 0 2.6 0a1.3 1.3 0 1 0 -2.6 0M407.5 388.4a1.3 1.3 0 1 0 2.6 0a1.3 1.3 0 1 0 -2.6 0M495.7 305.9a1.3 1.3 0 1 0 2.6 0a1.3 1.3 0 1 0 -2.6 0M327.4 465.3a1.3 1.3 0 1 0 2.6 0a1.3 1.3 0 1 0 -2.6 0M417.7 381.4a1.3 1.3 0 1 0 2.6 0a1.3 1.3 0 1 0 -2.6 0M471.3 328.6a1.3 1.3 0 1 0 2.6 0a1.3 1.3 0 1 0 -2.6 0M396.0 398.9a1.3 1.3 0 1 0 2.6 0a1.3 1.3 0 1 0 -2.6 0M377.4 417.7a1.3 1.3 0 1 0 2.6 0a1.3 1.3 0 1 0 -2.6 0M455.3 345.3a1.3 1.3 0 1 0 2.6 0a1.3 1.3 0 1 0 -2.6 0M517.4 284.5a1.3 1.3 0 1 0 2.6 0a1.3 1.3 0 1 0 -2.6 0M516.3 288.3a1.3 1.3 0 1 0 2.6 0a1.3 1.3 0 1 0 -2.6 0M508.2 293.6a1.3 1.3 0 1 0 2.6 0a1.3 1.3 0 1 0 -2.6 0M425.3 373.2a1.3 1.3 0 1 0 2.6 0a1.3 1.3 0 1 0 -2.6 0M474.1 325.2a1.3 1.3 0 1 0 2.6 0a1.3 1.3 0 1 0 -2.6 0M471.4 331.2a1.3 1.3 0 1 0 2.6 0a1.3 1.3 0 1 0 -2.6 0M456.9 342.1a1.3 1.3 0 1 0 2.6 0a1.3 1.3 0 1 0 -2.6 0M361.9 429.9a1.3 1.3 0 1 0 2.6 0a1.3 1.3 0 1 0 -2.6 0M452.6 346.0a1.3 1.3 0 1 0 2.6 0a1.3 1.3 0 1 0 -2.6 0M513.4 288.4a1.3 1.3 0 1 0 2.6 0a1.3 1.3 0 1 0 -2.6 0M496.6 304.7a1.3 1.3 0 1 0 2.6 0a1.3 1.3 0 1 0 -2.6 0M486.5 313.7a1.3 1.3 0 1 0 2.6 0a1.3 1.3 0 1 0 -2.6 0M477.1 321.5a1.3 1.3 0 1 0 2.6 0a1.3 1.3 0 1 0 -2.6 0M490.4 308.3a1.3 1.3 0 1 0 2.6 0a1.3 1.3 0 1 0 -2.6 0M438.3 359.7a1.3 1.3 0 1 0 2.6 0a1.3 1.3 0 1 0 -2.6 0M337.6 454.4a1.3 1.3 0 1 0 2.6 0a1.3 1.3 0 1 0 -2.6 0M412.0 384.8a1.3 1.3 0 1 0 2.6 0a1.3 1.3 0 1 0 -2.6 0M369.4 426.7a1.3 1.3 0 1 0 2.6 0a1.3 1.3 0 1 0 -2.6 0M482.4 316.2a1.3 1.3 0 1 0 2.6 0a1.3 1.3 0 1 0 -2.6 0M359.4 433.5a1.3 1.3 0 1 0 2.6 0a1.3 1.3 0 1 0 -2.6 0M326.2 464.8a1.3 1.3 0 1 0 2.6 0a1.3 1.3 0 1 0 -2.6 0M368.4 423.4a1.3 1.3 0 1 0 2.6 0a1.3 1.3 0 1 0 -2.6 0M327.9 465.4a1.3 1.3 0 1 0 2.6 0a1.3 1.3 0 1 0 -2.6 0M438.2 359.6a1.3 1.3 0 1 0 2.6 0a1.3 1.3 0 1 0 -2.6 0M438.9 359.9a1.3 1.3 0 1 0 2.6 0a1.3 1.3 0 1 0 -2.6 0M391.8 406.6a1.3 1.3 0 1 0 2.6 0a1.3 1.3 0 1 0 -2.6 0M450.3 347.6a1.3 1.3 0 1 0 2.6 0a1.3 1.3 0 1 0 -2.6 0M344.0 448.1a1.3 1.3 0 1 0 2.6 0a1.3 1.3 0 1 0 -2.6 0M495.0 307.1a1.3 1.3 0 1 0 2.6 0a1.3 1.3 0 1 0 -2.6 0M498.0 301.3a1.3 1.3 0 1 0 2.6 0a1.3 1.3 0 1 0 -2.6 0M400.9 394.7a1.3 1.3 0 1 0 2.6 0a1.3 1.3 0 1 0 -2.6 0M421.6 374.5a1.3 1.3 0 1 0 2.6 0a1.3 1.3 0 1 0 -2.6 0M401.5 392.0a1.3 1.3 0 1 0 2.6 0a1.3 1.3 0 1 0 -2.6 0M451.1 346.4a1.3 1.3 0 1 0 2.6 0a1.3 1.3 0 1 0 -2.6 0M497.0 302.9a1.3 1.3 0 1 0 2.6 0a1.3 1.3 0 1 0 -2.6 0M487.5 314.9a1.3 1.3 0 1 0 2.6 0a1.3 1.3 0 1 0 -2.6 0M463.8 337.8a1.3 1.3 0 1 0 2.6 0a1.3 1.3 0 1 0 -2.6 0M506.0 294.5a1.3 1.3 0 1 0 2.6 0a1.3 1.3 0 1 0 -2.6 0M346.3 446.1a1.3 1.3 0 1 0 2.6 0a1.3 1.3 0 1 0 -2.6 0M414.9 381.1a1.3 1.3 0 1 0 2.6 0a1.3 1.3 0 1 0 -2.6 0M495.5 308.3a1.3 1.3 0 1 0 2.6 0a1.3 1.3 0 1 0 -2.6 0M397.3 398.9a1.3 1.3 0 1 0 2.6 0a1.3 1.3 0 1 0 -2.6 0M436.6 361.2a1.3 1.3 0 1 0 2.6 0a1.3 1.3 0 1 0 -2.6 0M378.3 414.4a1.3 1.3 0 1 0 2.6 0a1.3 1.3 0 1 0 -2.6 0M326.6 466.8a1.3 1.3 0 1 0 2.6 0a1.3 1.3 0 1 0 -2.6 0M498.8 301.4a1.3 1.3 0 1 0 2.6 0a1.3 1.3 0 1 0 -2.6 0M381.5 411.0a1.3 1.3 0 1 0 2.6 0a1.3 1.3 0 1 0 -2.6 0M356.2 438.5a1.3 1.3 0 1 0 2.6 0a1.3 1.3 0 1 0 -2.6 0M478.6 318.3a1.3 1.3 0 1 0 2.6 0a1.3 1.3 0 1 0 -2.6 0M461.5 339.1a1.3 1.3 0 1 0 2.6 0a1.3 1.3 0 1 0 -2.6 0M402.1 395.9a1.3 1.3 0 1 0 2.6 0a1.3 1.3 0 1 0 -2.6 0M446.0 353.0a1.3 1.3 0 1 0 2.6 0a1.3 1.3 0 1 0 -2.6 0M362.4 430.2a1.3 1.3 0 1 0 2.6 0a1.3 1.3 0 1 0 -2.6 0M339.2 454.6a1.3 1.3 0 1 0 2.6 0a1.3 1.3 0 1 0 -2.6 0M385.5 408.3a1.3 1.3 0 1 0 2.6 0a1.3 1.3 0 1 0 -2.6 0M343.6 448.4a1.3 1.3 0 1 0 2.6 0a1.3 1.3 0 1 0 -2.6 0M429.5 368.4a1.3 1.3 0 1 0 2.6 0a1.3 1.3 0 1 0 -2.6 0M476.6 320.8a1.3 1.3 0 1 0 2.6 0a1.3 1.3 0 1 0 -2.6 0M362.1 431.0a1.3 1.3 0 1 0 2.6 0a1.3 1.3 0 1 0 -2.6 0M378.3 418.1a1.3 1.3 0 1 0 2.6 0a1.3 1.3 0 1 0 -2.6 0M504.7 295.5a1.3 1.3 0 1 0 2.6 0a1.3 1.3 0 1 0 -2.6 0M443.1 355.0a1.3 1.3 0 1 0 2.6 0a1.3 1.3 0 1 0 -2.6 0M357.2 439.3a1.3 1.3 0 1 0 2.6 0a1.3 1.3 0 1 0 -2.6 0M392.8 402.5a1.3 1.3 0 1 0 2.6 0a1.3 1.3 0 1 0 -2.6 0M464.8 333.2a1.3 1.3 0 1 0 2.6 0a1.3 1.3 0 1 0 -2.6 0M515.1 283.5a1.3 1.3 0 1 0 2.6 0a1.3 1.3 0 1 0 -2.6 0M357.6 435.8a1.3 1.3 0 1 0 2.6 0a1.3 1.3 0 1 0 -2.6 0M331.4 462.0a1.3 1.3 0 1 0 2.6 0a1.3 1.3 0 1 0 -2.6 0M366.7 427.6a1.3 1.3 0 1 0 2.6 0a1.3 1.3 0 1 0 -2.6 0M429.5 369.5a1.3 1.3 0 1 0 2.6 0a1.3 1.3 0 1 0 -2.6 0M350.3 442.2a1.3 1.3 0 1 0 2.6 0a1.3 1.3 0 1 0 -2.6 0M426.4 369.8a1.3 1.3 0 1 0 2.6 0a1.3 1.3 0 1 0 -2.6 0M486.8 314.9a1.3 1.3 0 1 0 2.6 0a1.3 1.3 0 1 0 -2.6 0M505.2 296.0a1.3 1.3 0 1 0 2.6 0a1.3 1.3 0 1 0 -2.6 0M461.2 337.9a1.3 1.3 0 1 0 2.6 0a1.3 1.3 0 1 0 -2.6 0M420.6 378.9a1.3 1.3 0 1 0 2.6 0a1.3 1.3 0 1 0 -2.6 0M376.4 416.7a1.3 1.3 0 1 0 2.6 0a1.3 1.3 0 1 0 -2.6 0M472.6 325.9a1.3 1.3 0 1 0 2.6 0a1.3 1.3 0 1 0 -2.6 0M502.9 297.1a1.3 1.3 0 1 0 2.6 0a1.3 1.3 0 1 0 -2.6 0M421.5 376.4a1.3 1.3 0 1 0 2.6 0a1.3 1.3 0 1 0 -2.6 0M515.3 285.7a1.3 1.3 0 1 0 2.6 0a1.3 1.3 0 1 0 -2.6 0M432.6 364.3a1.3 1.3 0 1 0 2.6 0a1.3 1.3 0 1 0 -2.6 0M443.7 355.2a1.3 1.3 0 1 0 2.6 0a1.3 1.3 0 1 0 -2.6 0M425.3 372.5a1.3 1.3 0 1 0 2.6 0a1.3 1.3 0 1 0 -2.6 0M359.8 434.6a1.3 1.3 0 1 0 2.6 0a1.3 1.3 0 1 0 -2.6 0M388.1 406.5a1.3 1.3 0 1 0 2.6 0a1.3 1.3 0 1 0 -2.6 0M448.7 350.5a1.3 1.3 0 1 0 2.6 0a1.3 1.3 0 1 0 -2.6 0M417.5 378.8a1.3 1.3 0 1 0 2.6 0a1.3 1.3 0 1 0 -2.6 0M457.2 342.2a1.3 1.3 0 1 0 2.6 0a1.3 1.3 0 1 0 -2.6 0M411.1 384.3a1.3 1.3 0 1 0 2.6 0a1.3 1.3 0 1 0 -2.6 0M462.2 335.0a1.3 1.3 0 1 0 2.6 0a1.3 1.3 0 1 0 -2.6 0M335.9 456.0a1.3 1.3 0 1 0 2.6 0a1.3 1.3 0 1 0 -2.6 0M500.5 299.9a1.3 1.3 0 1 0 2.6 0a1.3 1.3 0 1 0 -2.6 0M331.8 458.0a1.3 1.3 0 1 0 2.6 0a1.3 1.3 0 1 0 -2.6 0M422.3 374.8a1.3 1.3 0 1 0 2.6 0a1.3 1.3 0 1 0 -2.6 0M477.1 320.6a1.3 1.3 0 1 0 2.6 0a1.3 1.3 0 1 0 -2.6 0M350.1 440.9a1.3 1.3 0 1 0 2.6 0a1.3 1.3 0 1 0 -2.6 0M407.7 387.9a1.3 1.3 0 1 0 2.6 0a1.3 1.3 0 1 0 -2.6 0M398.6 398.0a1.3 1.3 0 1 0 2.6 0a1.3 1.3 0 1 0 -2.6 0M438.7 358.1a1.3 1.3 0 1 0 2.6 0a1.3 1.3 0 1 0 -2.6 0M401.6 393.3a1.3 1.3 0 1 0 2.6 0a1.3 1.3 0 1 0 -2.6 0M519.9 281.3a1.3 1.3 0 1 0 2.6 0a1.3 1.3 0 1 0 -2.6 0M476.2 324.4a1.3 1.3 0 1 0 2.6 0a1.3 1.3 0 1 0 -2.6 0M412.7 386.9a1.3 1.3 0 1 0 2.6 0a1.3 1.3 0 1 0 -2.6 0M396.5 399.0a1.3 1.3 0 1 0 2.6 0a1.3 1.3 0 1 0 -2.6 0M476.2 324.4a1.3 1.3 0 1 0 2.6 0a1.3 1.3 0 1 0 -2.6 0M354.3 440.3a1.3 1.3 0 1 0 2.6 0a1.3 1.3 0 1 0 -2.6 0M477.2 324.0a1.3 1.3 0 1 0 2.6 0a1.3 1.3 0 1 0 -2.6 0M337.5 456.2a1.3 1.3 0 1 0 2.6 0a1.3 1.3 0 1 0 -2.6 0M332.8 461.8a1.3 1.3 0 1 0 2.6 0a1.3 1.3 0 1 0 -2.6 0M459.9 339.7a1.3 1.3 0 1 0 2.6 0a1.3 1.3 0 1 0 -2.6 0M518.0 282.0a1.3 1.3 0 1 0 2.6 0a1.3 1.3 0 1 0 -2.6 0M325.6 467.6a1.3 1.3 0 1 0 2.6 0a1.3 1.3 0 1 0 -2.6 0M518.5 282.9a1.3 1.3 0 1 0 2.6 0a1.3 1.3 0 1 0 -2.6 0M507.3 293.7a1.3 1.3 0 1 0 2.6 0a1.3 1.3 0 1 0 -2.6 0M405.5 390.6a1.3 1.3 0 1 0 2.6 0a1.3 1.3 0 1 0 -2.6 0M483.6 316.4a1.3 1.3 0 1 0 2.6 0a1.3 1.3 0 1 0 -2.6 0M506.7 296.7a1.3 1.3 0 1 0 2.6 0a1.3 1.3 0 1 0 -2.6 0M486.8 312.4a1.3 1.3 0 1 0 2.6 0a1.3 1.3 0 1 0 -2.6 0M376.2 419.7a1.3 1.3 0 1 0 2.6 0a1.3 1.3 0 1 0 -2.6 0M469.9 330.5a1.3 1.3 0 1 0 2.6 0a1.3 1.3 0 1 0 -2.6 0M358.8 437.9a1.3 1.3 0 1 0 2.6 0a1.3 1.3 0 1 0 -2.6 0M329.5 463.2a1.3 1.3 0 1 0 2.6 0a1.3 1.3 0 1 0 -2.6 0M401.4 393.7a1.3 1.3 0 1 0 2.6 0a1.3 1.3 0 1 0 -2.6 0M336.9 456.7a1.3 1.3 0 1 0 2.6 0a1.3 1.3 0 1 0 -2.6 0M377.4 418.2a1.3 1.3 0 1 0 2.6 0a1.3 1.3 0 1 0 -2.6 0M345.1 448.3a1.3 1.3 0 1 0 2.6 0a1.3 1.3 0 1 0 -2.6 0M494.7 306.6a1.3 1.3 0 1 0 2.6 0a1.3 1.3 0 1 0 -2.6 0M379.7 414.5a1.3 1.3 0 1 0 2.6 0a1.3 1.3 0 1 0 -2.6 0M401.9 394.5a1.3 1.3 0 1 0 2.6 0a1.3 1.3 0 1 0 -2.6 0M478.5 323.1a1.3 1.3 0 1 0 2.6 0a1.3 1.3 0 1 0 -2.6 0M498.8 302.7a1.3 1.3 0 1 0 2.6 0a1.3 1.3 0 1 0 -2.6 0M357.4 435.1a1.3 1.3 0 1 0 2.6 0a1.3 1.3 0 1 0 -2.6 0M381.4 414.8a1.3 1.3 0 1 0 2.6 0a1.3 1.3 0 1 0 -2.6 0M394.1 401.8a1.3 1.3 0 1 0 2.6 0a1.3 1.3 0 1 0 -2.6 0M412.0 382.6a1.3 1.3 0 1 0 2.6 0a1.3 1.3 0 1 0 -2.6 0M427.2 371.8a1.3 1.3 0 1 0 2.6 0a1.3 1.3 0 1 0 -2.6 0M462.7 338.8a1.3 1.3 0 1 0 2.6 0a1.3 1.3 0 1 0 -2.6 0M383.4 412.7a1.3 1.3 0 1 0 2.6 0a1.3 1.3 0 1 0 -2.6 0M504.1 299.3a1.3 1.3 0 1 0 2.6 0a1.3 1.3 0 1 0 -2.6 0M401.2 397.0a1.3 1.3 0 1 0 2.6 0a1.3 1.3 0 1 0 -2.6 0M391.1 404.8a1.3 1.3 0 1 0 2.6 0a1.3 1.3 0 1 0 -2.6 0M389.4 406.9a1.3 1.3 0 1 0 2.6 0a1.3 1.3 0 1 0 -2.6 0M492.1 309.7a1.3 1.3 0 1 0 2.6 0a1.3 1.3 0 1 0 -2.6 0M393.5 401.6a1.3 1.3 0 1 0 2.6 0a1.3 1.3 0 1 0 -2.6 0M443.1 353.3a1.3 1.3 0 1 0 2.6 0a1.3 1.3 0 1 0 -2.6 0M520.3 280.7a1.3 1.3 0 1 0 2.6 0a1.3 1.3 0 1 0 -2.6 0M413.5 383.6a1.3 1.3 0 1 0 2.6 0a1.3 1.3 0 1 0 -2.6 0M453.6 347.1a1.3 1.3 0 1 0 2.6 0a1.3 1.3 0 1 0 -2.6 0M404.2 392.0a1.3 1.3 0 1 0 2.6 0a1.3 1.3 0 1 0 -2.6 0M494.6 304.5a1.3 1.3 0 1 0 2.6 0a1.3 1.3 0 1 0 -2.6 0M472.8 328.6a1.3 1.3 0 1 0 2.6 0a1.3 1.3 0 1 0 -2.6 0M500.1 301.3a1.3 1.3 0 1 0 2.6 0a1.3 1.3 0 1 0 -2.6 0M364.9 425.8a1.3 1.3 0 1 0 2.6 0a1.3 1.3 0 1 0 -2.6 0M345.0 448.6a1.3 1.3 0 1 0 2.6 0a1.3 1.3 0 1 0 -2.6 0M375.6 419.0a1.3 1.3 0 1 0 2.6 0a1.3 1.3 0 1 0 -2.6 0M444.5 352.9a1.3 1.3 0 1 0 2.6 0a1.3 1.3 0 1 0 -2.6 0M397.4 397.2a1.3 1.3 0 1 0 2.6 0a1.3 1.3 0 1 0 -2.6 0M511.0 289.4a1.3 1.3 0 1 0 2.6 0a1.3 1.3 0 1 0 -2.6 0M417.4 378.7a1.3 1.3 0 1 0 2.6 0a1.3 1.3 0 1 0 -2.6 0M357.0 437.2a1.3 1.3 0 1 0 2.6 0a1.3 1.3 0 1 0 -2.6 0M395.7 398.9a1.3 1.3 0 1 0 2.6 0a1.3 1.3 0 1 0 -2.6 0M434.9 364.3a1.3 1.3 0 1 0 2.6 0a1.3 1.3 0 1 0 -2.6 0M411.9 385.2a1.3 1.3 0 1 0 2.6 0a1.3 1.3 0 1 0 -2.6 0M445.2 353.8a1.3 1.3 0 1 0 2.6 0a1.3 1.3 0 1 0 -2.6 0M454.4 344.3a1.3 1.3 0 1 0 2.6 0a1.3 1.3 0 1 0 -2.6 0M405.7 390.0a1.3 1.3 0 1 0 2.6 0a1.3 1.3 0 1 0 -2.6 0M432.7 365.5a1.3 1.3 0 1 0 2.6 0a1.3 1.3 0 1 0 -2.6 0M384.2 412.6a1.3 1.3 0 1 0 2.6 0a1.3 1.3 0 1 0 -2.6 0M453.1 347.5a1.3 1.3 0 1 0 2.6 0a1.3 1.3 0 1 0 -2.6 0M437.8 359.2a1.3 1.3 0 1 0 2.6 0a1.3 1.3 0 1 0 -2.6 0M521.4 281.5a1.3 1.3 0 1 0 2.6 0a1.3 1.3 0 1 0 -2.6 0M411.6 385.4a1.3 1.3 0 1 0 2.6 0a1.3 1.3 0 1 0 -2.6 0M331.0 461.6a1.3 1.3 0 1 0 2.6 0a1.3 1.3 0 1 0 -2.6 0M356.5 438.0a1.3 1.3 0 1 0 2.6 0a1.3 1.3 0 1 0 -2.6 0M481.7 318.9a1.3 1.3 0 1 0 2.6 0a1.3 1.3 0 1 0 -2.6 0M355.6 439.4a1.3 1.3 0 1 0 2.6 0a1.3 1.3 0 1 0 -2.6 0M461.7 340.1a1.3 1.3 0 1 0 2.6 0a1.3 1.3 0 1 0 -2.6 0M507.0 293.5a1.3 1.3 0 1 0 2.6 0a1.3 1.3 0 1 0 -2.6 0M332.9 461.7a1.3 1.3 0 1 0 2.6 0a1.3 1.3 0 1 0 -2.6 0M425.7 372.0a1.3 1.3 0 1 0 2.6 0a1.3 1.3 0 1 0 -2.6 0M468.7 329.5a1.3 1.3 0 1 0 2.6 0a1.3 1.3 0 1 0 -2.6 0M469.2 330.2a1.3 1.3 0 1 0 2.6 0a1.3 1.3 0 1 0 -2.6 0M338.9 452.8a1.3 1.3 0 1 0 2.6 0a1.3 1.3 0 1 0 -2.6 0M470.9 328.6a1.3 1.3 0 1 0 2.6 0a1.3 1.3 0 1 0 -2.6 0M352.0 441.8a1.3 1.3 0 1 0 2.6 0a1.3 1.3 0 1 0 -2.6 0M352.2 440.5a1.3 1.3 0 1 0 2.6 0a1.3 1.3 0 1 0 -2.6 0M438.6 359.4a1.3 1.3 0 1 0 2.6 0a1.3 1.3 0 1 0 -2.6 0M497.8 302.3a1.3 1.3 0 1 0 2.6 0a1.3 1.3 0 1 0 -2.6 0M392.0 401.6a1.3 1.3 0 1 0 2.6 0a1.3 1.3 0 1 0 -2.6 0M451.5 347.9a1.3 1.3 0 1 0 2.6 0a1.3 1.3 0 1 0 -2.6 0M502.0 299.3a1.3 1.3 0 1 0 2.6 0a1.3 1.3 0 1 0 -2.6 0M423.7 371.6a1.3 1.3 0 1 0 2.6 0a1.3 1.3 0 1 0 -2.6 0M514.2 288.1a1.3 1.3 0 1 0 2.6 0a1.3 1.3 0 1 0 -2.6 0M454.1 344.5a1.3 1.3 0 1 0 2.6 0a1.3 1.3 0 1 0 -2.6 0M520.7 281.7a1.3 1.3 0 1 0 2.6 0a1.3 1.3 0 1 0 -2.6 0M456.4 341.9a1.3 1.3 0 1 0 2.6 0a1.3 1.3 0 1 0 -2.6 0M396.2 402.0a1.3 1.3 0 1 0 2.6 0a1.3 1.3 0 1 0 -2.6 0M464.1 335.5a1.3 1.3 0 1 0 2.6 0a1.3 1.3 0 1 0 -2.6 0M431.3 366.6a1.3 1.3 0 1 0 2.6 0a1.3 1.3 0 1 0 -2.6 0M508.4 295.7a1.3 1.3 0 1 0 2.6 0a1.3 1.3 0 1 0 -2.6 0M338.3 455.0a1.3 1.3 0 1 0 2.6 0a1.3 1.3 0 1 0 -2.6 0M407.0 391.0a1.3 1.3 0 1 0 2.6 0a1.3 1.3 0 1 0 -2.6 0M491.9 309.1a1.3 1.3 0 1 0 2.6 0a1.3 1.3 0 1 0 -2.6 0M421.8 376.8a1.3 1.3 0 1 0 2.6 0a1.3 1.3 0 1 0 -2.6 0M458.0 341.7a1.3 1.3 0 1 0 2.6 0a1.3 1.3 0 1 0 -2.6 0M439.4 359.5a1.3 1.3 0 1 0 2.6 0a1.3 1.3 0 1 0 -2.6 0M495.4 305.0a1.3 1.3 0 1 0 2.6 0a1.3 1.3 0 1 0 -2.6 0M395.0 400.9a1.3 1.3 0 1 0 2.6 0a1.3 1.3 0 1 0 -2.6 0M519.7 283.7a1.3 1.3 0 1 0 2.6 0a1.3 1.3 0 1 0 -2.6 0M367.7 427.6a1.3 1.3 0 1 0 2.6 0a1.3 1.3 0 1 0 -2.6 0M498.1 302.5a1.3 1.3 0 1 0 2.6 0a1.3 1.3 0 1 0 -2.6 0M469.3 330.4a1.3 1.3 0 1 0 2.6 0a1.3 1.3 0 1 0 -2.6 0M471.6 327.1a1.3 1.3 0 1 0 2.6 0a1.3 1.3 0 1 0 -2.6 0M413.1 383.2a1.3 1.3 0 1 0 2.6 0a1.3 1.3 0 1 0 -2.6 0M467.2 331.7a1.3 1.3 0 1 0 2.6 0a1.3 1.3 0 1 0 -2.6 0M455.4 343.3a1.3 1.3 0 1 0 2.6 0a1.3 1.3 0 1 0 -2.6 0M419.8 377.7a1.3 1.3 0 1 0 2.6 0a1.3 1.3 0 1 0 -2.6 0M353.6 440.6a1.3 1.3 0 1 0 2.6 0a1.3 1.3 0 1 0 -2.6 0M370.4 424.2a1.3 1.3 0 1 0 2.6 0a1.3 1.3 0 1 0 -2.6 0M435.7 360.9a1.3 1.3 0 1 0 2.6 0a1.3 1.3 0 1 0 -2.6 0M358.0 433.5a1.3 1.3 0 1 0 2.6 0a1.3 1.3 0 1 0 -2.6 0M377.7 417.0a1.3 1.3 0 1 0 2.6 0a1.3 1.3 0 1 0 -2.6 0M383.9 412.1a1.3 1.3 0 1 0 2.6 0a1.3 1.3 0 1 0 -2.6 0M479.5 323.0a1.3 1.3 0 1 0 2.6 0a1.3 1.3 0 1 0 -2.6 0M496.3 305.7a1.3 1.3 0 1 0 2.6 0a1.3 1.3 0 1 0 -2.6 0M515.0 286.0a1.3 1.3 0 1 0 2.6 0a1.3 1.3 0 1 0 -2.6 0M414.6 381.3a1.3 1.3 0 1 0 2.6 0a1.3 1.3 0 1 0 -2.6 0M381.6 412.3a1.3 1.3 0 1 0 2.6 0a1.3 1.3 0 1 0 -2.6 0M508.0 294.8a1.3 1.3 0 1 0 2.6 0a1.3 1.3 0 1 0 -2.6 0M339.0 455.4a1.3 1.3 0 1 0 2.6 0a1.3 1.3 0 1 0 -2.6 0M480.1 319.4a1.3 1.3 0 1 0 2.6 0a1.3 1.3 0 1 0 -2.6 0M420.3 375.8a1.3 1.3 0 1 0 2.6 0a1.3 1.3 0 1 0 -2.6 0M395.2 401.1a1.3 1.3 0 1 0 2.6 0a1.3 1.3 0 1 0 -2.6 0M363.1 430.2a1.3 1.3 0 1 0 2.6 0a1.3 1.3 0 1 0 -2.6 0M469.2 328.9a1.3 1.3 0 1 0 2.6 0a1.3 1.3 0 1 0 -2.6 0M363.0 432.3a1.3 1.3 0 1 0 2.6 0a1.3 1.3 0 1 0 -2.6 0M518.8 283.4a1.3 1.3 0 1 0 2.6 0a1.3 1.3 0 1 0 -2.6 0M422.2 374.5a1.3 1.3 0 1 0 2.6 0a1.3 1.3 0 1 0 -2.6 0M501.5 300.8a1.3 1.3 0 1 0 2.6 0a1.3 1.3 0 1 0 -2.6 0M329.8 461.2a1.3 1.3 0 1 0 2.6 0a1.3 1.3 0 1 0 -2.6 0M429.6 366.2a1.3 1.3 0 1 0 2.6 0a1.3 1.3 0 1 0 -2.6 0M429.0 369.4a1.3 1.3 0 1 0 2.6 0a1.3 1.3 0 1 0 -2.6 0M455.6 344.2a1.3 1.3 0 1 0 2.6 0a1.3 1.3 0 1 0 -2.6 0M403.3 394.6a1.3 1.3 0 1 0 2.6 0a1.3 1.3 0 1 0 -2.6 0M386.1 410.1a1.3 1.3 0 1 0 2.6 0a1.3 1.3 0 1 0 -2.6 0M475.1 322.9a1.3 1.3 0 1 0 2.6 0a1.3 1.3 0 1 0 -2.6 0M337.4 458.8a1.3 1.3 0 1 0 2.6 0a1.3 1.3 0 1 0 -2.6 0M409.1 386.8a1.3 1.3 0 1 0 2.6 0a1.3 1.3 0 1 0 -2.6 0M418.3 377.9a1.3 1.3 0 1 0 2.6 0a1.3 1.3 0 1 0 -2.6 0M478.4 319.9a1.3 1.3 0 1 0 2.6 0a1.3 1.3 0 1 0 -2.6 0M491.4 307.6a1.3 1.3 0 1 0 2.6 0a1.3 1.3 0 1 0 -2.6 0M515.8 286.3a1.3 1.3 0 1 0 2.6 0a1.3 1.3 0 1 0 -2.6 0M466.5 333.9a1.3 1.3 0 1 0 2.6 0a1.3 1.3 0 1 0 -2.6 0M438.3 360.0a1.3 1.3 0 1 0 2.6 0a1.3 1.3 0 1 0 -2.6 0M390.5 402.5a1.3 1.3 0 1 0 2.6 0a1.3 1.3 0 1 0 -2.6 0M490.7 309.1a1.3 1.3 0 1 0 2.6 0a1.3 1.3 0 1 0 -2.6 0M351.7 442.5a1.3 1.3 0 1 0 2.6 0a1.3 1.3 0 1 0 -2.6 0M485.9 314.2a1.3 1.3 0 1 0 2.6 0a1.3 1.3 0 1 0 -2.6 0M497.9 302.7a1.3 1.3 0 1 0 2.6 0a1.3 1.3 0 1 0 -2.6 0M371.8 422.6a1.3 1.3 0 1 0 2.6 0a1.3 1.3 0 1 0 -2.6 0M467.6 330.6a1.3 1.3 0 1 0 2.6 0a1.3 1.3 0 1 0 -2.6 0M363.5 430.6a1.3 1.3 0 1 0 2.6 0a1.3 1.3 0 1 0 -2.6 0M375.7 418.4a1.3 1.3 0 1 0 2.6 0a1.3 1.3 0 1 0 -2.6 0M472.2 328.8a1.3 1.3 0 1 0 2.6 0a1.3 1.3 0 1 0 -2.6 0M502.2 300.7a1.3 1.3 0 1 0 2.6 0a1.3 1.3 0 1 0 -2.6 0M331.2 461.4a1.3 1.3 0 1 0 2.6 0a1.3 1.3 0 1 0 -2.6 0M396.0 397.8a1.3 1.3 0 1 0 2.6 0a1.3 1.3 0 1 0 -2.6 0M517.6 284.0a1.3 1.3 0 1 0 2.6 0a1.3 1.3 0 1 0 -2.6 0M469.5 326.7a1.3 1.3 0 1 0 2.6 0a1.3 1.3 0 1 0 -2.6 0M458.5 339.1a1.3 1.3 0 1 0 2.6 0a1.3 1.3 0 1 0 -2.6 0M391.6 404.4a1.3 1.3 0 1 0 2.6 0a1.3 1.3 0 1 0 -2.6 0M411.1 385.6a1.3 1.3 0 1 0 2.6 0a1.3 1.3 0 1 0 -2.6 0M449.5 351.7a1.3 1.3 0 1 0 2.6 0a1.3 1.3 0 1 0 -2.6 0M481.2 320.3a1.3 1.3 0 1 0 2.6 0a1.3 1.3 0 1 0 -2.6 0M350.4 444.9a1.3 1.3 0 1 0 2.6 0a1.3 1.3 0 1 0 -2.6 0M488.7 313.2a1.3 1.3 0 1 0 2.6 0a1.3 1.3 0 1 0 -2.6 0M350.6 442.8a1.3 1.3 0 1 0 2.6 0a1.3 1.3 0 1 0 -2.6 0M444.6 353.4a1.3 1.3 0 1 0 2.6 0a1.3 1.3 0 1 0 -2.6 0M432.8 363.6a1.3 1.3 0 1 0 2.6 0a1.3 1.3 0 1 0 -2.6 0M366.3 427.7a1.3 1.3 0 1 0 2.6 0a1.3 1.3 0 1 0 -2.6 0M393.8 401.2a1.3 1.3 0 1 0 2.6 0a1.3 1.3 0 1 0 -2.6 0M488.2 312.4a1.3 1.3 0 1 0 2.6 0a1.3 1.3 0 1 0 -2.6 0M351.7 440.5a1.3 1.3 0 1 0 2.6 0a1.3 1.3 0 1 0 -2.6 0M444.7 353.7a1.3 1.3 0 1 0 2.6 0a1.3 1.3 0 1 0 -2.6 0M486.9 314.6a1.3 1.3 0 1 0 2.6 0a1.3 1.3 0 1 0 -2.6 0M327.1 464.3a1.3 1.3 0 1 0 2.6 0a1.3 1.3 0 1 0 -2.6 0M480.2 319.6a1.3 1.3 0 1 0 2.6 0a1.3 1.3 0 1 0 -2.6 0M341.4 451.4a1.3 1.3 0 1 0 2.6 0a1.3 1.3 0 1 0 -2.6 0M383.9 412.0a1.3 1.3 0 1 0 2.6 0a1.3 1.3 0 1 0 -2.6 0M344.8 447.6a1.3 1.3 0 1 0 2.6 0a1.3 1.3 0 1 0 -2.6 0M508.4 294.6a1.3 1.3 0 1 0 2.6 0a1.3 1.3 0 1 0 -2.6 0M461.9 338.8a1.3 1.3 0 1 0 2.6 0a1.3 1.3 0 1 0 -2.6 0M436.0 362.4a1.3 1.3 0 1 0 2.6 0a1.3 1.3 0 1 0 -2.6 0M439.4 357.6a1.3 1.3 0 1 0 2.6 0a1.3 1.3 0 1 0 -2.6 0M360.3 433.6a1.3 1.3 0 1 0 2.6 0a1.3 1.3 0 1 0 -2.6 0M521.9 281.3a1.3 1.3 0 1 0 2.6 0a1.3 1.3 0 1 0 -2.6 0M417.6 381.1a1.3 1.3 0 1 0 2.6 0a1.3 1.3 0 1 0 -2.6 0M327.7 463.8a1.3 1.3 0 1 0 2.6 0a1.3 1.3 0 1 0 -2.6 0M378.6 413.7a1.3 1.3 0 1 0 2.6 0a1.3 1.3 0 1 0 -2.6 0M444.3 354.8a1.3 1.3 0 1 0 2.6 0a1.3 1.3 0 1 0 -2.6 0M336.2 456.2a1.3 1.3 0 1 0 2.6 0a1.3 1.3 0 1 0 -2.6 0M338.0 454.7a1.3 1.3 0 1 0 2.6 0a1.3 1.3 0 1 0 -2.6 0M425.8 372.4a1.3 1.3 0 1 0 2.6 0a1.3 1.3 0 1 0 -2.6 0M438.9 359.0a1.3 1.3 0 1 0 2.6 0a1.3 1.3 0 1 0 -2.6 0M409.3 387.9a1.3 1.3 0 1 0 2.6 0a1.3 1.3 0 1 0 -2.6 0M474.0 326.7a1.3 1.3 0 1 0 2.6 0a1.3 1.3 0 1 0 -2.6 0M451.3 348.7a1.3 1.3 0 1 0 2.6 0a1.3 1.3 0 1 0 -2.6 0M480.2 318.8a1.3 1.3 0 1 0 2.6 0a1.3 1.3 0 1 0 -2.6 0M345.0 449.0a1.3 1.3 0 1 0 2.6 0a1.3 1.3 0 1 0 -2.6 0M350.7 443.6a1.3 1.3 0 1 0 2.6 0a1.3 1.3 0 1 0 -2.6 0M412.9 385.5a1.3 1.3 0 1 0 2.6 0a1.3 1.3 0 1 0 -2.6 0M462.5 336.5a1.3 1.3 0 1 0 2.6 0a1.3 1.3 0 1 0 -2.6 0M400.1 394.4a1.3 1.3 0 1 0 2.6 0a1.3 1.3 0 1 0 -2.6 0M472.8 325.9a1.3 1.3 0 1 0 2.6 0a1.3 1.3 0 1 0 -2.6 0M344.7 448.4a1.3 1.3 0 1 0 2.6 0a1.3 1.3 0 1 0 -2.6 0M397.9 394.9a1.3 1.3 0 1 0 2.6 0a1.3 1.3 0 1 0 -2.6 0M336.4 459.3a1.3 1.3 0 1 0 2.6 0a1.3 1.3 0 1 0 -2.6 0M391.4 406.9a1.3 1.3 0 1 0 2.6 0a1.3 1.3 0 1 0 -2.6 0M437.2 360.2a1.3 1.3 0 1 0 2.6 0a1.3 1.3 0 1 0 -2.6 0M409.5 384.7a1.3 1.3 0 1 0 2.6 0a1.3 1.3 0 1 0 -2.6 0M502.0 299.7a1.3 1.3 0 1 0 2.6 0a1.3 1.3 0 1 0 -2.6 0M484.8 313.6a1.3 1.3 0 1 0 2.6 0a1.3 1.3 0 1 0 -2.6 0M479.0 321.4a1.3 1.3 0 1 0 2.6 0a1.3 1.3 0 1 0 -2.6 0M424.4 374.2a1.3 1.3 0 1 0 2.6 0a1.3 1.3 0 1 0 -2.6 0M512.0 292.9a1.3 1.3 0 1 0 2.6 0a1.3 1.3 0 1 0 -2.6 0M502.6 299.6a1.3 1.3 0 1 0 2.6 0a1.3 1.3 0 1 0 -2.6 0M407.4 390.3a1.3 1.3 0 1 0 2.6 0a1.3 1.3 0 1 0 -2.6 0M402.3 391.8a1.3 1.3 0 1 0 2.6 0a1.3 1.3 0 1 0 -2.6 0M482.6 318.4a1.3 1.3 0 1 0 2.6 0a1.3 1.3 0 1 0 -2.6 0M456.5 341.2a1.3 1.3 0 1 0 2.6 0a1.3 1.3 0 1 0 -2.6 0M394.1 400.6a1.3 1.3 0 1 0 2.6 0a1.3 1.3 0 1 0 -2.6 0M516.0 286.7a1.3 1.3 0 1 0 2.6 0a1.3 1.3 0 1 0 -2.6 0M426.1 372.4a1.3 1.3 0 1 0 2.6 0a1.3 1.3 0 1 0 -2.6 0M501.1 302.4a1.3 1.3 0 1 0 2.6 0a1.3 1.3 0 1 0 -2.6 0M396.5 399.6a1.3 1.3 0 1 0 2.6 0a1.3 1.3 0 1 0 -2.6 0M409.2 387.1a1.3 1.3 0 1 0 2.6 0a1.3 1.3 0 1 0 -2.6 0M458.3 341.7a1.3 1.3 0 1 0 2.6 0a1.3 1.3 0 1 0 -2.6 0M490.9 308.2a1.3 1.3 0 1 0 2.6 0a1.3 1.3 0 1 0 -2.6 0M446.1 352.3a1.3 1.3 0 1 0 2.6 0a1.3 1.3 0 1 0 -2.6 0M521.0 280.7a1.3 1.3 0 1 0 2.6 0a1.3 1.3 0 1 0 -2.6 0M428.7 371.4a1.3 1.3 0 1 0 2.6 0a1.3 1.3 0 1 0 -2.6 0M351.2 441.7a1.3 1.3 0 1 0 2.6 0a1.3 1.3 0 1 0 -2.6 0M465.6 334.4a1.3 1.3 0 1 0 2.6 0a1.3 1.3 0 1 0 -2.6 0M382.6 411.6a1.3 1.3 0 1 0 2.6 0a1.3 1.3 0 1 0 -2.6 0M425.8 373.3a1.3 1.3 0 1 0 2.6 0a1.3 1.3 0 1 0 -2.6 0M419.6 378.9a1.3 1.3 0 1 0 2.6 0a1.3 1.3 0 1 0 -2.6 0M434.8 358.0a1.3 1.3 0 1 0 2.6 0a1.3 1.3 0 1 0 -2.6 0M514.3 287.6a1.3 1.3 0 1 0 2.6 0a1.3 1.3 0 1 0 -2.6 0M359.6 433.8a1.3 1.3 0 1 0 2.6 0a1.3 1.3 0 1 0 -2.6 0M388.1 406.4a1.3 1.3 0 1 0 2.6 0a1.3 1.3 0 1 0 -2.6 0M427.9 369.6a1.3 1.3 0 1 0 2.6 0a1.3 1.3 0 1 0 -2.6 0M493.9 307.5a1.3 1.3 0 1 0 2.6 0a1.3 1.3 0 1 0 -2.6 0M367.0 426.0a1.3 1.3 0 1 0 2.6 0a1.3 1.3 0 1 0 -2.6 0M335.8 458.1a1.3 1.3 0 1 0 2.6 0a1.3 1.3 0 1 0 -2.6 0M367.7 427.3a1.3 1.3 0 1 0 2.6 0a1.3 1.3 0 1 0 -2.6 0M435.7 364.2a1.3 1.3 0 1 0 2.6 0a1.3 1.3 0 1 0 -2.6 0M373.2 421.3a1.3 1.3 0 1 0 2.6 0a1.3 1.3 0 1 0 -2.6 0M369.9 422.8a1.3 1.3 0 1 0 2.6 0a1.3 1.3 0 1 0 -2.6 0M474.4 327.0a1.3 1.3 0 1 0 2.6 0a1.3 1.3 0 1 0 -2.6 0M392.8 403.8a1.3 1.3 0 1 0 2.6 0a1.3 1.3 0 1 0 -2.6 0M459.2 340.6a1.3 1.3 0 1 0 2.6 0a1.3 1.3 0 1 0 -2.6 0M513.6 290.0a1.3 1.3 0 1 0 2.6 0a1.3 1.3 0 1 0 -2.6 0M463.3 335.9a1.3 1.3 0 1 0 2.6 0a1.3 1.3 0 1 0 -2.6 0M422.9 374.4a1.3 1.3 0 1 0 2.6 0a1.3 1.3 0 1 0 -2.6 0M486.5 313.8a1.3 1.3 0 1 0 2.6 0a1.3 1.3 0 1 0 -2.6 0M425.5 371.0a1.3 1.3 0 1 0 2.6 0a1.3 1.3 0 1 0 -2.6 0M499.4 302.9a1.3 1.3 0 1 0 2.6 0a1.3 1.3 0 1 0 -2.6 0M484.2 316.0a1.3 1.3 0 1 0 2.6 0a1.3 1.3 0 1 0 -2.6 0M333.4 456.4a1.3 1.3 0 1 0 2.6 0a1.3 1.3 0 1 0 -2.6 0M452.2 346.1a1.3 1.3 0 1 0 2.6 0a1.3 1.3 0 1 0 -2.6 0M382.4 414.7a1.3 1.3 0 1 0 2.6 0a1.3 1.3 0 1 0 -2.6 0M394.5 399.9a1.3 1.3 0 1 0 2.6 0a1.3 1.3 0 1 0 -2.6 0M441.7 353.8a1.3 1.3 0 1 0 2.6 0a1.3 1.3 0 1 0 -2.6 0M479.2 322.5a1.3 1.3 0 1 0 2.6 0a1.3 1.3 0 1 0 -2.6 0M510.8 291.0a1.3 1.3 0 1 0 2.6 0a1.3 1.3 0 1 0 -2.6 0M509.6 292.4a1.3 1.3 0 1 0 2.6 0a1.3 1.3 0 1 0 -2.6 0M500.5 302.8a1.3 1.3 0 1 0 2.6 0a1.3 1.3 0 1 0 -2.6 0M388.8 407.5a1.3 1.3 0 1 0 2.6 0a1.3 1.3 0 1 0 -2.6 0M458.1 338.7a1.3 1.3 0 1 0 2.6 0a1.3 1.3 0 1 0 -2.6 0M475.8 324.5a1.3 1.3 0 1 0 2.6 0a1.3 1.3 0 1 0 -2.6 0M348.2 446.3a1.3 1.3 0 1 0 2.6 0a1.3 1.3 0 1 0 -2.6 0M477.5 321.4a1.3 1.3 0 1 0 2.6 0a1.3 1.3 0 1 0 -2.6 0M387.8 408.6a1.3 1.3 0 1 0 2.6 0a1.3 1.3 0 1 0 -2.6 0M491.8 308.7a1.3 1.3 0 1 0 2.6 0a1.3 1.3 0 1 0 -2.6 0M438.8 358.3a1.3 1.3 0 1 0 2.6 0a1.3 1.3 0 1 0 -2.6 0M419.6 377.3a1.3 1.3 0 1 0 2.6 0a1.3 1.3 0 1 0 -2.6 0M508.8 293.2a1.3 1.3 0 1 0 2.6 0a1.3 1.3 0 1 0 -2.6 0M380.4 415.4a1.3 1.3 0 1 0 2.6 0a1.3 1.3 0 1 0 -2.6 0M399.0 396.8a1.3 1.3 0 1 0 2.6 0a1.3 1.3 0 1 0 -2.6 0M424.9 369.6a1.3 1.3 0 1 0 2.6 0a1.3 1.3 0 1 0 -2.6 0M350.3 443.8a1.3 1.3 0 1 0 2.6 0a1.3 1.3 0 1 0 -2.6 0M495.7 300.9a1.3 1.3 0 1 0 2.6 0a1.3 1.3 0 1 0 -2.6 0M426.9 372.9a1.3 1.3 0 1 0 2.6 0a1.3 1.3 0 1 0 -2.6 0M498.7 307.2a1.3 1.3 0 1 0 2.6 0a1.3 1.3 0 1 0 -2.6 0M410.4 384.9a1.3 1.3 0 1 0 2.6 0a1.3 1.3 0 1 0 -2.6 0M372.9 422.1a1.3 1.3 0 1 0 2.6 0a1.3 1.3 0 1 0 -2.6 0M338.1 450.3a1.3 1.3 0 1 0 2.6 0a1.3 1.3 0 1 0 -2.6 0M416.4 378.7a1.3 1.3 0 1 0 2.6 0a1.3 1.3 0 1 0 -2.6 0M349.9 451.9a1.3 1.3 0 1 0 2.6 0a1.3 1.3 0 1 0 -2.6 0M396.9 391.3a1.3 1.3 0 1 0 2.6 0a1.3 1.3 0 1 0 -2.6 0M387.4 415.7a1.3 1.3 0 1 0 2.6 0a1.3 1.3 0 1 0 -2.6 0M360.2 431.5a1.3 1.3 0 1 0 2.6 0a1.3 1.3 0 1 0 -2.6 0M454.6 347.3a1.3 1.3 0 1 0 2.6 0a1.3 1.3 0 1 0 -2.6 0M507.4 294.3a1.3 1.3 0 1 0 2.6 0a1.3 1.3 0 1 0 -2.6 0M437.4 356.9a1.3 1.3 0 1 0 2.6 0a1.3 1.3 0 1 0 -2.6 0M341.7 456.7a1.3 1.3 0 1 0 2.6 0a1.3 1.3 0 1 0 -2.6 0M410.3 386.4a1.3 1.3 0 1 0 2.6 0a1.3 1.3 0 1 0 -2.6 0M471.1 331.5a1.3 1.3 0 1 0 2.6 0a1.3 1.3 0 1 0 -2.6 0M485.9 319.6a1.3 1.3 0 1 0 2.6 0a1.3 1.3 0 1 0 -2.6 0M353.3 438.5a1.3 1.3 0 1 0 2.6 0a1.3 1.3 0 1 0 -2.6 0M359.6 430.9a1.3 1.3 0 1 0 2.6 0a1.3 1.3 0 1 0 -2.6 0M502.0 293.9a1.3 1.3 0 1 0 2.6 0a1.3 1.3 0 1 0 -2.6 0M402.2 401.2a1.3 1.3 0 1 0 2.6 0a1.3 1.3 0 1 0 -2.6 0M492.8 301.2a1.3 1.3 0 1 0 2.6 0a1.3 1.3 0 1 0 -2.6 0M491.7 312.2a1.3 1.3 0 1 0 2.6 0a1.3 1.3 0 1 0 -2.6 0M460.2 335.1a1.3 1.3 0 1 0 2.6 0a1.3 1.3 0 1 0 -2.6 0M376.0 418.3a1.3 1.3 0 1 0 2.6 0a1.3 1.3 0 1 0 -2.6 0M429.5 376.9a1.3 1.3 0 1 0 2.6 0a1.3 1.3 0 1 0 -2.6 0M376.3 422.0a1.3 1.3 0 1 0 2.6 0a1.3 1.3 0 1 0 -2.6 0M517.6 280.3a1.3 1.3 0 1 0 2.6 0a1.3 1.3 0 1 0 -2.6 0M387.4 401.5a1.3 1.3 0 1 0 2.6 0a1.3 1.3 0 1 0 -2.6 0M436.0 362.8a1.3 1.3 0 1 0 2.6 0a1.3 1.3 0 1 0 -2.6 0M439.1 359.8a1.3 1.3 0 1 0 2.6 0a1.3 1.3 0 1 0 -2.6 0M455.2 343.8a1.3 1.3 0 1 0 2.6 0a1.3 1.3 0 1 0 -2.6 0M444.3 352.0a1.3 1.3 0 1 0 2.6 0a1.3 1.3 0 1 0 -2.6 0M376.4 416.8a1.3 1.3 0 1 0 2.6 0a1.3 1.3 0 1 0 -2.6 0M437.7 357.3a1.3 1.3 0 1 0 2.6 0a1.3 1.3 0 1 0 -2.6 0M417.5 380.9a1.3 1.3 0 1 0 2.6 0a1.3 1.3 0 1 0 -2.6 0M368.3 424.4a1.3 1.3 0 1 0 2.6 0a1.3 1.3 0 1 0 -2.6 0M446.1 354.5a1.3 1.3 0 1 0 2.6 0a1.3 1.3 0 1 0 -2.6 0M486.3 312.7a1.3 1.3 0 1 0 2.6 0a1.3 1.3 0 1 0 -2.6 0M432.9 371.3a1.3 1.3 0 1 0 2.6 0a1.3 1.3 0 1 0 -2.6 0M431.1 356.9a1.3 1.3 0 1 0 2.6 0a1.3 1.3 0 1 0 -2.6 0M355.2 441.7a1.3 1.3 0 1 0 2.6 0a1.3 1.3 0 1 0 -2.6 0M491.8 308.6a1.3 1.3 0 1 0 2.6 0a1.3 1.3 0 1 0 -2.6 0M478.7 319.3a1.3 1.3 0 1 0 2.6 0a1.3 1.3 0 1 0 -2.6 0M457.8 340.1a1.3 1.3 0 1 0 2.6 0a1.3 1.3 0 1 0 -2.6 0M424.3 374.8a1.3 1.3 0 1 0 2.6 0a1.3 1.3 0 1 0 -2.6 0M352.5 436.2a1.3 1.3 0 1 0 2.6 0a1.3 1.3 0 1 0 -2.6 0M417.5 388.6a1.3 1.3 0 1 0 2.6 0a1.3 1.3 0 1 0 -2.6 0M445.8 356.7a1.3 1.3 0 1 0 2.6 0a1.3 1.3 0 1 0 -2.6 0M438.7 354.3a1.3 1.3 0 1 0 2.6 0a1.3 1.3 0 1 0 -2.6 0M436.0 360.6a1.3 1.3 0 1 0 2.6 0a1.3 1.3 0 1 0 -2.6 0M456.0 346.9a1.3 1.3 0 1 0 2.6 0a1.3 1.3 0 1 0 -2.6 0M465.0 324.8a1.3 1.3 0 1 0 2.6 0a1.3 1.3 0 1 0 -2.6 0M467.4 321.3a1.3 1.3 0 1 0 2.6 0a1.3 1.3 0 1 0 -2.6 0M350.6 444.1a1.3 1.3 0 1 0 2.6 0a1.3 1.3 0 1 0 -2.6 0M502.2 305.1a1.3 1.3 0 1 0 2.6 0a1.3 1.3 0 1 0 -2.6 0M329.2 463.9a1.3 1.3 0 1 0 2.6 0a1.3 1.3 0 1 0 -2.6 0M338.3 453.0a1.3 1.3 0 1 0 2.6 0a1.3 1.3 0 1 0 -2.6 0M519.0 287.3a1.3 1.3 0 1 0 2.6 0a1.3 1.3 0 1 0 -2.6 0M511.6 296.0a1.3 1.3 0 1 0 2.6 0a1.3 1.3 0 1 0 -2.6 0M442.4 357.2a1.3 1.3 0 1 0 2.6 0a1.3 1.3 0 1 0 -2.6 0M431.4 361.4a1.3 1.3 0 1 0 2.6 0a1.3 1.3 0 1 0 -2.6 0M391.0 416.2a1.3 1.3 0 1 0 2.6 0a1.3 1.3 0 1 0 -2.6 0M407.1 390.6a1.3 1.3 0 1 0 2.6 0a1.3 1.3 0 1 0 -2.6 0M356.3 436.0a1.3 1.3 0 1 0 2.6 0a1.3 1.3 0 1 0 -2.6 0M360.9 433.0a1.3 1.3 0 1 0 2.6 0a1.3 1.3 0 1 0 -2.6 0M442.6 358.4a1.3 1.3 0 1 0 2.6 0a1.3 1.3 0 1 0 -2.6 0M517.6 298.6a1.3 1.3 0 1 0 2.6 0a1.3 1.3 0 1 0 -2.6 0M374.4 411.0a1.3 1.3 0 1 0 2.6 0a1.3 1.3 0 1 0 -2.6 0M395.2 398.8a1.3 1.3 0 1 0 2.6 0a1.3 1.3 0 1 0 -2.6 0M405.3 388.9a1.3 1.3 0 1 0 2.6 0a1.3 1.3 0 1 0 -2.6 0M477.7 324.1a1.3 1.3 0 1 0 2.6 0a1.3 1.3 0 1 0 -2.6 0M337.9 457.1a1.3 1.3 0 1 0 2.6 0a1.3 1.3 0 1 0 -2.6 0M340.0 455.3a1.3 1.3 0 1 0 2.6 0a1.3 1.3 0 1 0 -2.6 0M325.3 461.7a1.3 1.3 0 1 0 2.6 0a1.3 1.3 0 1 0 -2.6 0M345.8 448.7a1.3 1.3 0 1 0 2.6 0a1.3 1.3 0 1 0 -2.6 0M333.8 461.2a1.3 1.3 0 1 0 2.6 0a1.3 1.3 0 1 0 -2.6 0M484.9 309.2a1.3 1.3 0 1 0 2.6 0a1.3 1.3 0 1 0 -2.6 0M335.5 453.6a1.3 1.3 0 1 0 2.6 0a1.3 1.3 0 1 0 -2.6 0M494.9 310.0a1.3 1.3 0 1 0 2.6 0a1.3 1.3 0 1 0 -2.6 0M366.9 426.4a1.3 1.3 0 1 0 2.6 0a1.3 1.3 0 1 0 -2.6 0M486.8 318.6a1.3 1.3 0 1 0 2.6 0a1.3 1.3 0 1 0 -2.6 0M388.3 404.1a1.3 1.3 0 1 0 2.6 0a1.3 1.3 0 1 0 -2.6 0M360.4 434.5a1.3 1.3 0 1 0 2.6 0a1.3 1.3 0 1 0 -2.6 0M471.2 325.4a1.3 1.3 0 1 0 2.6 0a1.3 1.3 0 1 0 -2.6 0M487.4 312.6a1.3 1.3 0 1 0 2.6 0a1.3 1.3 0 1 0 -2.6 0M391.8 407.2a1.3 1.3 0 1 0 2.6 0a1.3 1.3 0 1 0 -2.6 0M511.2 296.3a1.3 1.3 0 1 0 2.6 0a1.3 1.3 0 1 0 -2.6 0M335.3 455.7a1.3 1.3 0 1 0 2.6 0a1.3 1.3 0 1 0 -2.6 0M478.1 324.8a1.3 1.3 0 1 0 2.6 0a1.3 1.3 0 1 0 -2.6 0M418.8 377.1a1.3 1.3 0 1 0 2.6 0a1.3 1.3 0 1 0 -2.6 0M364.7 431.7a1.3 1.3 0 1 0 2.6 0a1.3 1.3 0 1 0 -2.6 0M411.1 382.1a1.3 1.3 0 1 0 2.6 0a1.3 1.3 0 1 0 -2.6 0M391.9 399.5a1.3 1.3 0 1 0 2.6 0a1.3 1.3 0 1 0 -2.6 0M429.7 360.6a1.3 1.3 0 1 0 2.6 0a1.3 1.3 0 1 0 -2.6 0M331.3 458.9a1.3 1.3 0 1 0 2.6 0a1.3 1.3 0 1 0 -2.6 0M349.0 443.1a1.3 1.3 0 1 0 2.6 0a1.3 1.3 0 1 0 -2.6 0M334.4 456.1a1.3 1.3 0 1 0 2.6 0a1.3 1.3 0 1 0 -2.6 0M349.3 445.5a1.3 1.3 0 1 0 2.6 0a1.3 1.3 0 1 0 -2.6 0M329.9 460.6a1.3 1.3 0 1 0 2.6 0a1.3 1.3 0 1 0 -2.6 0M343.3 451.3a1.3 1.3 0 1 0 2.6 0a1.3 1.3 0 1 0 -2.6 0M337.6 456.6a1.3 1.3 0 1 0 2.6 0a1.3 1.3 0 1 0 -2.6 0M346.0 446.9a1.3 1.3 0 1 0 2.6 0a1.3 1.3 0 1 0 -2.6 0M351.8 440.8a1.3 1.3 0 1 0 2.6 0a1.3 1.3 0 1 0 -2.6 0M344.2 446.1a1.3 1.3 0 1 0 2.6 0a1.3 1.3 0 1 0 -2.6 0M340.8 454.0a1.3 1.3 0 1 0 2.6 0a1.3 1.3 0 1 0 -2.6 0M340.7 453.6a1.3 1.3 0 1 0 2.6 0a1.3 1.3 0 1 0 -2.6 0M349.2 440.5a1.3 1.3 0 1 0 2.6 0a1.3 1.3 0 1 0 -2.6 0M335.0 457.8a1.3 1.3 0 1 0 2.6 0a1.3 1.3 0 1 0 -2.6 0M328.2 460.6a1.3 1.3 0 1 0 2.6 0a1.3 1.3 0 1 0 -2.6 0M360.9 431.4a1.3 1.3 0 1 0 2.6 0a1.3 1.3 0 1 0 -2.6 0M358.1 432.9a1.3 1.3 0 1 0 2.6 0a1.3 1.3 0 1 0 -2.6 0M336.6 456.0a1.3 1.3 0 1 0 2.6 0a1.3 1.3 0 1 0 -2.6 0M340.2 450.5a1.3 1.3 0 1 0 2.6 0a1.3 1.3 0 1 0 -2.6 0M327.1 466.9a1.3 1.3 0 1 0 2.6 0a1.3 1.3 0 1 0 -2.6 0M346.0 448.1a1.3 1.3 0 1 0 2.6 0a1.3 1.3 0 1 0 -2.6 0M326.1 467.4a1.3 1.3 0 1 0 2.6 0a1.3 1.3 0 1 0 -2.6 0M348.8 440.9a1.3 1.3 0 1 0 2.6 0a1.3 1.3 0 1 0 -2.6 0M342.6 447.5a1.3 1.3 0 1 0 2.6 0a1.3 1.3 0 1 0 -2.6 0M328.9 463.1a1.3 1.3 0 1 0 2.6 0a1.3 1.3 0 1 0 -2.6 0M345.3 448.4a1.3 1.3 0 1 0 2.6 0a1.3 1.3 0 1 0 -2.6 0M340.1 447.4a1.3 1.3 0 1 0 2.6 0a1.3 1.3 0 1 0 -2.6 0M326.3 468.6a1.3 1.3 0 1 0 2.6 0a1.3 1.3 0 1 0 -2.6 0M343.1 448.0a1.3 1.3 0 1 0 2.6 0a1.3 1.3 0 1 0 -2.6 0M326.1 467.5a1.3 1.3 0 1 0 2.6 0a1.3 1.3 0 1 0 -2.6 0M337.7 454.8a1.3 1.3 0 1 0 2.6 0a1.3 1.3 0 1 0 -2.6 0M325.0 465.6a1.3 1.3 0 1 0 2.6 0a1.3 1.3 0 1 0 -2.6 0M345.2 448.3a1.3 1.3 0 1 0 2.6 0a1.3 1.3 0 1 0 -2.6 0M323.9 465.1a1.3 1.3 0 1 0 2.6 0a1.3 1.3 0 1 0 -2.6 0M340.4 454.9a1.3 1.3 0 1 0 2.6 0a1.3 1.3 0 1 0 -2.6 0M348.0 443.0a1.3 1.3 0 1 0 2.6 0a1.3 1.3 0 1 0 -2.6 0M331.1 459.9a1.3 1.3 0 1 0 2.6 0a1.3 1.3 0 1 0 -2.6 0M337.3 455.1a1.3 1.3 0 1 0 2.6 0a1.3 1.3 0 1 0 -2.6 0M346.2 448.8a1.3 1.3 0 1 0 2.6 0a1.3 1.3 0 1 0 -2.6 0M347.3 443.2a1.3 1.3 0 1 0 2.6 0a1.3 1.3 0 1 0 -2.6 0M339.4 452.2a1.3 1.3 0 1 0 2.6 0a1.3 1.3 0 1 0 -2.6 0M340.0 452.8a1.3 1.3 0 1 0 2.6 0a1.3 1.3 0 1 0 -2.6 0M353.7 440.9a1.3 1.3 0 1 0 2.6 0a1.3 1.3 0 1 0 -2.6 0M339.5 448.4a1.3 1.3 0 1 0 2.6 0a1.3 1.3 0 1 0 -2.6 0M340.3 452.5a1.3 1.3 0 1 0 2.6 0a1.3 1.3 0 1 0 -2.6 0M341.3 452.0a1.3 1.3 0 1 0 2.6 0a1.3 1.3 0 1 0 -2.6 0M339.6 450.5a1.3 1.3 0 1 0 2.6 0a1.3 1.3 0 1 0 -2.6 0M327.9 468.2a1.3 1.3 0 1 0 2.6 0a1.3 1.3 0 1 0 -2.6 0M344.6 449.4a1.3 1.3 0 1 0 2.6 0a1.3 1.3 0 1 0 -2.6 0M337.2 455.5a1.3 1.3 0 1 0 2.6 0a1.3 1.3 0 1 0 -2.6 0M338.7 455.8a1.3 1.3 0 1 0 2.6 0a1.3 1.3 0 1 0 -2.6 0M339.6 453.6a1.3 1.3 0 1 0 2.6 0a1.3 1.3 0 1 0 -2.6 0M330.7 461.4a1.3 1.3 0 1 0 2.6 0a1.3 1.3 0 1 0 -2.6 0M356.7 436.0a1.3 1.3 0 1 0 2.6 0a1.3 1.3 0 1 0 -2.6 0M359.1 435.0a1.3 1.3 0 1 0 2.6 0a1.3 1.3 0 1 0 -2.6 0M346.5 446.7a1.3 1.3 0 1 0 2.6 0a1.3 1.3 0 1 0 -2.6 0M333.0 461.2a1.3 1.3 0 1 0 2.6 0a1.3 1.3 0 1 0 -2.6 0M323.9 466.8a1.3 1.3 0 1 0 2.6 0a1.3 1.3 0 1 0 -2.6 0M338.1 454.0a1.3 1.3 0 1 0 2.6 0a1.3 1.3 0 1 0 -2.6 0M328.2 466.7a1.3 1.3 0 1 0 2.6 0a1.3 1.3 0 1 0 -2.6 0M331.8 458.4a1.3 1.3 0 1 0 2.6 0a1.3 1.3 0 1 0 -2.6 0M359.0 430.2a1.3 1.3 0 1 0 2.6 0a1.3 1.3 0 1 0 -2.6 0M343.7 449.2a1.3 1.3 0 1 0 2.6 0a1.3 1.3 0 1 0 -2.6 0M326.8 468.6a1.3 1.3 0 1 0 2.6 0a1.3 1.3 0 1 0 -2.6 0M337.6 454.9a1.3 1.3 0 1 0 2.6 0a1.3 1.3 0 1 0 -2.6 0M340.2 454.7a1.3 1.3 0 1 0 2.6 0a1.3 1.3 0 1 0 -2.6 0M339.9 452.1a1.3 1.3 0 1 0 2.6 0a1.3 1.3 0 1 0 -2.6 0M345.2 444.0a1.3 1.3 0 1 0 2.6 0a1.3 1.3 0 1 0 -2.6 0M329.2 462.4a1.3 1.3 0 1 0 2.6 0a1.3 1.3 0 1 0 -2.6 0M335.5 458.4a1.3 1.3 0 1 0 2.6 0a1.3 1.3 0 1 0 -2.6 0M342.9 453.0a1.3 1.3 0 1 0 2.6 0a1.3 1.3 0 1 0 -2.6 0M356.7 436.4a1.3 1.3 0 1 0 2.6 0a1.3 1.3 0 1 0 -2.6 0M354.1 438.8a1.3 1.3 0 1 0 2.6 0a1.3 1.3 0 1 0 -2.6 0M359.4 435.9a1.3 1.3 0 1 0 2.6 0a1.3 1.3 0 1 0 -2.6 0M333.8 454.1a1.3 1.3 0 1 0 2.6 0a1.3 1.3 0 1 0 -2.6 0M349.4 441.0a1.3 1.3 0 1 0 2.6 0a1.3 1.3 0 1 0 -2.6 0M342.2 451.1a1.3 1.3 0 1 0 2.6 0a1.3 1.3 0 1 0 -2.6 0M341.2 449.1a1.3 1.3 0 1 0 2.6 0a1.3 1.3 0 1 0 -2.6 0M348.2 444.9a1.3 1.3 0 1 0 2.6 0a1.3 1.3 0 1 0 -2.6 0M351.2 438.7a1.3 1.3 0 1 0 2.6 0a1.3 1.3 0 1 0 -2.6 0M341.1 455.1a1.3 1.3 0 1 0 2.6 0a1.3 1.3 0 1 0 -2.6 0M334.0 456.0a1.3 1.3 0 1 0 2.6 0a1.3 1.3 0 1 0 -2.6 0M347.0 444.7a1.3 1.3 0 1 0 2.6 0a1.3 1.3 0 1 0 -2.6 0M343.8 450.0a1.3 1.3 0 1 0 2.6 0a1.3 1.3 0 1 0 -2.6 0M337.6 455.1a1.3 1.3 0 1 0 2.6 0a1.3 1.3 0 1 0 -2.6 0M347.1 448.5a1.3 1.3 0 1 0 2.6 0a1.3 1.3 0 1 0 -2.6 0M357.5 433.2a1.3 1.3 0 1 0 2.6 0a1.3 1.3 0 1 0 -2.6 0M333.1 461.4a1.3 1.3 0 1 0 2.6 0a1.3 1.3 0 1 0 -2.6 0M359.2 432.7a1.3 1.3 0 1 0 2.6 0a1.3 1.3 0 1 0 -2.6 0M338.6 455.8a1.3 1.3 0 1 0 2.6 0a1.3 1.3 0 1 0 -2.6 0M357.9 434.1a1.3 1.3 0 1 0 2.6 0a1.3 1.3 0 1 0 -2.6 0M345.3 444.2a1.3 1.3 0 1 0 2.6 0a1.3 1.3 0 1 0 -2.6 0M333.2 460.0a1.3 1.3 0 1 0 2.6 0a1.3 1.3 0 1 0 -2.6 0M333.8 458.0a1.3 1.3 0 1 0 2.6 0a1.3 1.3 0 1 0 -2.6 0M332.3 460.6a1.3 1.3 0 1 0 2.6 0a1.3 1.3 0 1 0 -2.6 0M331.8 465.4a1.3 1.3 0 1 0 2.6 0a1.3 1.3 0 1 0 -2.6 0M347.3 443.4a1.3 1.3 0 1 0 2.6 0a1.3 1.3 0 1 0 -2.6 0M352.0 442.8a1.3 1.3 0 1 0 2.6 0a1.3 1.3 0 1 0 -2.6 0M342.5 449.0a1.3 1.3 0 1 0 2.6 0a1.3 1.3 0 1 0 -2.6 0M338.1 456.9a1.3 1.3 0 1 0 2.6 0a1.3 1.3 0 1 0 -2.6 0M346.2 446.3a1.3 1.3 0 1 0 2.6 0a1.3 1.3 0 1 0 -2.6 0M337.2 452.9a1.3 1.3 0 1 0 2.6 0a1.3 1.3 0 1 0 -2.6 0M333.8 457.9a1.3 1.3 0 1 0 2.6 0a1.3 1.3 0 1 0 -2.6 0M342.3 447.8a1.3 1.3 0 1 0 2.6 0a1.3 1.3 0 1 0 -2.6 0M344.2 450.5a1.3 1.3 0 1 0 2.6 0a1.3 1.3 0 1 0 -2.6 0M326.2 464.9a1.3 1.3 0 1 0 2.6 0a1.3 1.3 0 1 0 -2.6 0M329.9 459.6a1.3 1.3 0 1 0 2.6 0a1.3 1.3 0 1 0 -2.6 0M350.1 443.1a1.3 1.3 0 1 0 2.6 0a1.3 1.3 0 1 0 -2.6 0M337.3 455.6a1.3 1.3 0 1 0 2.6 0a1.3 1.3 0 1 0 -2.6 0M355.9 436.8a1.3 1.3 0 1 0 2.6 0a1.3 1.3 0 1 0 -2.6 0M327.8 465.3a1.3 1.3 0 1 0 2.6 0a1.3 1.3 0 1 0 -2.6 0M347.2 447.2a1.3 1.3 0 1 0 2.6 0a1.3 1.3 0 1 0 -2.6 0M359.2 436.6a1.3 1.3 0 1 0 2.6 0a1.3 1.3 0 1 0 -2.6 0M350.4 443.3a1.3 1.3 0 1 0 2.6 0a1.3 1.3 0 1 0 -2.6 0M358.6 433.6a1.3 1.3 0 1 0 2.6 0a1.3 1.3 0 1 0 -2.6 0M343.2 449.0a1.3 1.3 0 1 0 2.6 0a1.3 1.3 0 1 0 -2.6 0M339.2 456.4a1.3 1.3 0 1 0 2.6 0a1.3 1.3 0 1 0 -2.6 0M339.5 453.9a1.3 1.3 0 1 0 2.6 0a1.3 1.3 0 1 0 -2.6 0M340.1 453.9a1.3 1.3 0 1 0 2.6 0a1.3 1.3 0 1 0 -2.6 0M326.1 465.7a1.3 1.3 0 1 0 2.6 0a1.3 1.3 0 1 0 -2.6 0M336.0 454.9a1.3 1.3 0 1 0 2.6 0a1.3 1.3 0 1 0 -2.6 0M349.5 446.1a1.3 1.3 0 1 0 2.6 0a1.3 1.3 0 1 0 -2.6 0M343.5 449.8a1.3 1.3 0 1 0 2.6 0a1.3 1.3 0 1 0 -2.6 0M343.0 451.0a1.3 1.3 0 1 0 2.6 0a1.3 1.3 0 1 0 -2.6 0M335.1 454.6a1.3 1.3 0 1 0 2.6 0a1.3 1.3 0 1 0 -2.6 0M345.5 450.2a1.3 1.3 0 1 0 2.6 0a1.3 1.3 0 1 0 -2.6 0M328.9 463.2a1.3 1.3 0 1 0 2.6 0a1.3 1.3 0 1 0 -2.6 0M336.1 457.1a1.3 1.3 0 1 0 2.6 0a1.3 1.3 0 1 0 -2.6 0M334.2 456.6a1.3 1.3 0 1 0 2.6 0a1.3 1.3 0 1 0 -2.6 0M350.6 441.3a1.3 1.3 0 1 0 2.6 0a1.3 1.3 0 1 0 -2.6 0M341.4 451.5a1.3 1.3 0 1 0 2.6 0a1.3 1.3 0 1 0 -2.6 0M328.9 459.2a1.3 1.3 0 1 0 2.6 0a1.3 1.3 0 1 0 -2.6 0M346.4 447.2a1.3 1.3 0 1 0 2.6 0a1.3 1.3 0 1 0 -2.6 0M361.6 434.6a1.3 1.3 0 1 0 2.6 0a1.3 1.3 0 1 0 -2.6 0M337.0 456.5a1.3 1.3 0 1 0 2.6 0a1.3 1.3 0 1 0 -2.6 0M336.1 456.1a1.3 1.3 0 1 0 2.6 0a1.3 1.3 0 1 0 -2.6 0M337.3 455.4a1.3 1.3 0 1 0 2.6 0a1.3 1.3 0 1 0 -2.6 0M337.4 454.4a1.3 1.3 0 1 0 2.6 0a1.3 1.3 0 1 0 -2.6 0M337.7 456.5a1.3 1.3 0 1 0 2.6 0a1.3 1.3 0 1 0 -2.6 0M353.3 443.1a1.3 1.3 0 1 0 2.6 0a1.3 1.3 0 1 0 -2.6 0M351.3 439.2a1.3 1.3 0 1 0 2.6 0a1.3 1.3 0 1 0 -2.6 0M341.1 453.1a1.3 1.3 0 1 0 2.6 0a1.3 1.3 0 1 0 -2.6 0M343.6 449.8a1.3 1.3 0 1 0 2.6 0a1.3 1.3 0 1 0 -2.6 0M335.0 454.6a1.3 1.3 0 1 0 2.6 0a1.3 1.3 0 1 0 -2.6 0M350.5 447.1a1.3 1.3 0 1 0 2.6 0a1.3 1.3 0 1 0 -2.6 0M326.0 467.0a1.3 1.3 0 1 0 2.6 0a1.3 1.3 0 1 0 -2.6 0M365.1 430.3a1.3 1.3 0 1 0 2.6 0a1.3 1.3 0 1 0 -2.6 0M336.6 453.9a1.3 1.3 0 1 0 2.6 0a1.3 1.3 0 1 0 -2.6 0M343.6 451.6a1.3 1.3 0 1 0 2.6 0a1.3 1.3 0 1 0 -2.6 0M362.0 429.7a1.3 1.3 0 1 0 2.6 0a1.3 1.3 0 1 0 -2.6 0M337.2 454.5a1.3 1.3 0 1 0 2.6 0a1.3 1.3 0 1 0 -2.6 0M340.6 451.6a1.3 1.3 0 1 0 2.6 0a1.3 1.3 0 1 0 -2.6 0M346.8 446.7a1.3 1.3 0 1 0 2.6 0a1.3 1.3 0 1 0 -2.6 0M368.3 425.9a1.3 1.3 0 1 0 2.6 0a1.3 1.3 0 1 0 -2.6 0M336.7 453.2a1.3 1.3 0 1 0 2.6 0a1.3 1.3 0 1 0 -2.6 0M335.5 455.6a1.3 1.3 0 1 0 2.6 0a1.3 1.3 0 1 0 -2.6 0M357.0 438.0a1.3 1.3 0 1 0 2.6 0a1.3 1.3 0 1 0 -2.6 0M331.8 457.2a1.3 1.3 0 1 0 2.6 0a1.3 1.3 0 1 0 -2.6 0M344.6 452.2a1.3 1.3 0 1 0 2.6 0a1.3 1.3 0 1 0 -2.6 0M332.1 459.1a1.3 1.3 0 1 0 2.6 0a1.3 1.3 0 1 0 -2.6 0M351.4 443.2a1.3 1.3 0 1 0 2.6 0a1.3 1.3 0 1 0 -2.6 0M332.4 457.7a1.3 1.3 0 1 0 2.6 0a1.3 1.3 0 1 0 -2.6 0M337.7 457.0a1.3 1.3 0 1 0 2.6 0a1.3 1.3 0 1 0 -2.6 0M370.3 421.2a1.3 1.3 0 1 0 2.6 0a1.3 1.3 0 1 0 -2.6 0M347.7 443.0a1.3 1.3 0 1 0 2.6 0a1.3 1.3 0 1 0 -2.6 0M340.3 451.8a1.3 1.3 0 1 0 2.6 0a1.3 1.3 0 1 0 -2.6 0M343.0 447.7a1.3 1.3 0 1 0 2.6 0a1.3 1.3 0 1 0 -2.6 0M346.4 446.3a1.3 1.3 0 1 0 2.6 0a1.3 1.3 0 1 0 -2.6 0M331.3 461.1a1.3 1.3 0 1 0 2.6 0a1.3 1.3 0 1 0 -2.6 0M350.5 442.1a1.3 1.3 0 1 0 2.6 0a1.3 1.3 0 1 0 -2.6 0M345.1 443.9a1.3 1.3 0 1 0 2.6 0a1.3 1.3 0 1 0 -2.6 0M361.0 434.5a1.3 1.3 0 1 0 2.6 0a1.3 1.3 0 1 0 -2.6 0M351.4 443.2a1.3 1.3 0 1 0 2.6 0a1.3 1.3 0 1 0 -2.6 0M344.3 445.8a1.3 1.3 0 1 0 2.6 0a1.3 1.3 0 1 0 -2.6 0M345.8 442.7a1.3 1.3 0 1 0 2.6 0a1.3 1.3 0 1 0 -2.6 0M344.6 445.7a1.3 1.3 0 1 0 2.6 0a1.3 1.3 0 1 0 -2.6 0M338.3 454.8a1.3 1.3 0 1 0 2.6 0a1.3 1.3 0 1 0 -2.6 0M340.5 454.4a1.3 1.3 0 1 0 2.6 0a1.3 1.3 0 1 0 -2.6 0M337.6 457.2a1.3 1.3 0 1 0 2.6 0a1.3 1.3 0 1 0 -2.6 0M342.8 450.9a1.3 1.3 0 1 0 2.6 0a1.3 1.3 0 1 0 -2.6 0M344.8 445.2a1.3 1.3 0 1 0 2.6 0a1.3 1.3 0 1 0 -2.6 0M350.8 441.3a1.3 1.3 0 1 0 2.6 0a1.3 1.3 0 1 0 -2.6 0M340.5 453.2a1.3 1.3 0 1 0 2.6 0a1.3 1.3 0 1 0 -2.6 0M328.6 461.7a1.3 1.3 0 1 0 2.6 0a1.3 1.3 0 1 0 -2.6 0M344.3 446.9a1.3 1.3 0 1 0 2.6 0a1.3 1.3 0 1 0 -2.6 0M336.9 455.4a1.3 1.3 0 1 0 2.6 0a1.3 1.3 0 1 0 -2.6 0M350.7 443.8a1.3 1.3 0 1 0 2.6 0a1.3 1.3 0 1 0 -2.6 0M351.0 440.3a1.3 1.3 0 1 0 2.6 0a1.3 1.3 0 1 0 -2.6 0M341.2 451.4a1.3 1.3 0 1 0 2.6 0a1.3 1.3 0 1 0 -2.6 0M340.1 451.6a1.3 1.3 0 1 0 2.6 0a1.3 1.3 0 1 0 -2.6 0M334.5 456.8a1.3 1.3 0 1 0 2.6 0a1.3 1.3 0 1 0 -2.6 0M344.9 448.2a1.3 1.3 0 1 0 2.6 0a1.3 1.3 0 1 0 -2.6 0M341.2 451.1a1.3 1.3 0 1 0 2.6 0a1.3 1.3 0 1 0 -2.6 0M334.7 456.3a1.3 1.3 0 1 0 2.6 0a1.3 1.3 0 1 0 -2.6 0M338.9 452.5a1.3 1.3 0 1 0 2.6 0a1.3 1.3 0 1 0 -2.6 0M334.1 454.7a1.3 1.3 0 1 0 2.6 0a1.3 1.3 0 1 0 -2.6 0M358.7 439.1a1.3 1.3 0 1 0 2.6 0a1.3 1.3 0 1 0 -2.6 0M337.6 456.9a1.3 1.3 0 1 0 2.6 0a1.3 1.3 0 1 0 -2.6 0M348.6 444.8a1.3 1.3 0 1 0 2.6 0a1.3 1.3 0 1 0 -2.6 0M330.7 461.7a1.3 1.3 0 1 0 2.6 0a1.3 1.3 0 1 0 -2.6 0M340.9 453.4a1.3 1.3 0 1 0 2.6 0a1.3 1.3 0 1 0 -2.6 0M359.2 429.4a1.3 1.3 0 1 0 2.6 0a1.3 1.3 0 1 0 -2.6 0M358.4 434.6a1.3 1.3 0 1 0 2.6 0a1.3 1.3 0 1 0 -2.6 0M348.6 451.0a1.3 1.3 0 1 0 2.6 0a1.3 1.3 0 1 0 -2.6 0M360.2 433.7a1.3 1.3 0 1 0 2.6 0a1.3 1.3 0 1 0 -2.6 0M343.1 447.5a1.3 1.3 0 1 0 2.6 0a1.3 1.3 0 1 0 -2.6 0M333.6 456.8a1.3 1.3 0 1 0 2.6 0a1.3 1.3 0 1 0 -2.6 0M342.6 457.8a1.3 1.3 0 1 0 2.6 0a1.3 1.3 0 1 0 -2.6 0M355.9 442.5a1.3 1.3 0 1 0 2.6 0a1.3 1.3 0 1 0 -2.6 0M340.8 450.5a1.3 1.3 0 1 0 2.6 0a1.3 1.3 0 1 0 -2.6 0M345.8 452.4a1.3 1.3 0 1 0 2.6 0a1.3 1.3 0 1 0 -2.6 0M328.0 462.0a1.3 1.3 0 1 0 2.6 0a1.3 1.3 0 1 0 -2.6 0M338.4 455.2a1.3 1.3 0 1 0 2.6 0a1.3 1.3 0 1 0 -2.6 0M342.5 453.2a1.3 1.3 0 1 0 2.6 0a1.3 1.3 0 1 0 -2.6 0M381.5 424.1a1.3 1.3 0 1 0 2.6 0a1.3 1.3 0 1 0 -2.6 0M360.4 433.9a1.3 1.3 0 1 0 2.6 0a1.3 1.3 0 1 0 -2.6 0M336.1 450.2a1.3 1.3 0 1 0 2.6 0a1.3 1.3 0 1 0 -2.6 0M346.9 450.3a1.3 1.3 0 1 0 2.6 0a1.3 1.3 0 1 0 -2.6 0M338.6 458.0a1.3 1.3 0 1 0 2.6 0a1.3 1.3 0 1 0 -2.6 0M342.7 448.5a1.3 1.3 0 1 0 2.6 0a1.3 1.3 0 1 0 -2.6 0M344.3 453.9a1.3 1.3 0 1 0 2.6 0a1.3 1.3 0 1 0 -2.6 0M331.6 463.2a1.3 1.3 0 1 0 2.6 0a1.3 1.3 0 1 0 -2.6 0M359.7 441.1a1.3 1.3 0 1 0 2.6 0a1.3 1.3 0 1 0 -2.6 0M344.4 462.3a1.3 1.3 0 1 0 2.6 0a1.3 1.3 0 1 0 -2.6 0M350.0 446.0a1.3 1.3 0 1 0 2.6 0a1.3 1.3 0 1 0 -2.6 0M363.5 439.4a1.3 1.3 0 1 0 2.6 0a1.3 1.3 0 1 0 -2.6 0M349.9 438.8a1.3 1.3 0 1 0 2.6 0a1.3 1.3 0 1 0 -2.6 0M348.4 457.0a1.3 1.3 0 1 0 2.6 0a1.3 1.3 0 1 0 -2.6 0M365.9 424.1a1.3 1.3 0 1 0 2.6 0a1.3 1.3 0 1 0 -2.6 0M355.6 442.6a1.3 1.3 0 1 0 2.6 0a1.3 1.3 0 1 0 -2.6 0M347.4 441.2a1.3 1.3 0 1 0 2.6 0a1.3 1.3 0 1 0 -2.6 0M347.9 433.5a1.3 1.3 0 1 0 2.6 0a1.3 1.3 0 1 0 -2.6 0M346.5 451.1a1.3 1.3 0 1 0 2.6 0a1.3 1.3 0 1 0 -2.6 0M345.2 458.6a1.3 1.3 0 1 0 2.6 0a1.3 1.3 0 1 0 -2.6 0M343.8 436.3a1.3 1.3 0 1 0 2.6 0a1.3 1.3 0 1 0 -2.6 0M403.9 393.7a1.3 1.3 0 1 0 2.6 0a1.3 1.3 0 1 0 -2.6 0M402.5 393.2a1.3 1.3 0 1 0 2.6 0a1.3 1.3 0 1 0 -2.6 0M406.3 387.8a1.3 1.3 0 1 0 2.6 0a1.3 1.3 0 1 0 -2.6 0M397.9 396.3a1.3 1.3 0 1 0 2.6 0a1.3 1.3 0 1 0 -2.6 0M400.9 395.1a1.3 1.3 0 1 0 2.6 0a1.3 1.3 0 1 0 -2.6 0M405.1 392.2a1.3 1.3 0 1 0 2.6 0a1.3 1.3 0 1 0 -2.6 0M402.2 390.1a1.3 1.3 0 1 0 2.6 0a1.3 1.3 0 1 0 -2.6 0M401.4 399.3a1.3 1.3 0 1 0 2.6 0a1.3 1.3 0 1 0 -2.6 0M409.9 385.8a1.3 1.3 0 1 0 2.6 0a1.3 1.3 0 1 0 -2.6 0M404.6 390.4a1.3 1.3 0 1 0 2.6 0a1.3 1.3 0 1 0 -2.6 0M402.4 392.3a1.3 1.3 0 1 0 2.6 0a1.3 1.3 0 1 0 -2.6 0M407.4 392.7a1.3 1.3 0 1 0 2.6 0a1.3 1.3 0 1 0 -2.6 0M404.0 394.7a1.3 1.3 0 1 0 2.6 0a1.3 1.3 0 1 0 -2.6 0M403.8 395.4a1.3 1.3 0 1 0 2.6 0a1.3 1.3 0 1 0 -2.6 0M406.9 393.2a1.3 1.3 0 1 0 2.6 0a1.3 1.3 0 1 0 -2.6 0M406.2 388.9a1.3 1.3 0 1 0 2.6 0a1.3 1.3 0 1 0 -2.6 0M402.5 397.5a1.3 1.3 0 1 0 2.6 0a1.3 1.3 0 1 0 -2.6 0M405.1 390.4a1.3 1.3 0 1 0 2.6 0a1.3 1.3 0 1 0 -2.6 0M404.7 393.5a1.3 1.3 0 1 0 2.6 0a1.3 1.3 0 1 0 -2.6 0M399.4 398.0a1.3 1.3 0 1 0 2.6 0a1.3 1.3 0 1 0 -2.6 0M405.0 391.6a1.3 1.3 0 1 0 2.6 0a1.3 1.3 0 1 0 -2.6 0M410.5 387.9a1.3 1.3 0 1 0 2.6 0a1.3 1.3 0 1 0 -2.6 0M403.6 397.3a1.3 1.3 0 1 0 2.6 0a1.3 1.3 0 1 0 -2.6 0M406.1 393.7a1.3 1.3 0 1 0 2.6 0a1.3 1.3 0 1 0 -2.6 0M411.5 389.1a1.3 1.3 0 1 0 2.6 0a1.3 1.3 0 1 0 -2.6 0M404.4 413.8a1.3 1.3 0 1 0 2.6 0a1.3 1.3 0 1 0 -2.6 0M405.3 408.6a1.3 1.3 0 1 0 2.6 0a1.3 1.3 0 1 0 -2.6 0M403.4 410.8a1.3 1.3 0 1 0 2.6 0a1.3 1.3 0 1 0 -2.6 0M406.5 407.8a1.3 1.3 0 1 0 2.6 0a1.3 1.3 0 1 0 -2.6 0M405.0 409.7a1.3 1.3 0 1 0 2.6 0a1.3 1.3 0 1 0 -2.6 0M505.8 302.0a1.3 1.3 0 1 0 2.6 0a1.3 1.3 0 1 0 -2.6 0M505.1 291.6a1.3 1.3 0 1 0 2.6 0a1.3 1.3 0 1 0 -2.6 0M510.4 287.7a1.3 1.3 0 1 0 2.6 0a1.3 1.3 0 1 0 -2.6 0M512.9 291.5a1.3 1.3 0 1 0 2.6 0a1.3 1.3 0 1 0 -2.6 0M501.9 299.3a1.3 1.3 0 1 0 2.6 0a1.3 1.3 0 1 0 -2.6 0M504.5 301.3a1.3 1.3 0 1 0 2.6 0a1.3 1.3 0 1 0 -2.6 0M501.7 296.4a1.3 1.3 0 1 0 2.6 0a1.3 1.3 0 1 0 -2.6 0M497.2 310.4a1.3 1.3 0 1 0 2.6 0a1.3 1.3 0 1 0 -2.6 0M506.2 293.0a1.3 1.3 0 1 0 2.6 0a1.3 1.3 0 1 0 -2.6 0M507.8 290.9a1.3 1.3 0 1 0 2.6 0a1.3 1.3 0 1 0 -2.6 0M504.4 297.5a1.3 1.3 0 1 0 2.6 0a1.3 1.3 0 1 0 -2.6 0M510.4 287.5a1.3 1.3 0 1 0 2.6 0a1.3 1.3 0 1 0 -2.6 0M513.8 288.1a1.3 1.3 0 1 0 2.6 0a1.3 1.3 0 1 0 -2.6 0M511.6 292.4a1.3 1.3 0 1 0 2.6 0a1.3 1.3 0 1 0 -2.6 0M499.5 304.9a1.3 1.3 0 1 0 2.6 0a1.3 1.3 0 1 0 -2.6 0M502.2 308.8a1.3 1.3 0 1 0 2.6 0a1.3 1.3 0 1 0 -2.6 0M503.4 298.3a1.3 1.3 0 1 0 2.6 0a1.3 1.3 0 1 0 -2.6 0M507.2 296.7a1.3 1.3 0 1 0 2.6 0a1.3 1.3 0 1 0 -2.6 0M505.6 295.4a1.3 1.3 0 1 0 2.6 0a1.3 1.3 0 1 0 -2.6 0M508.7 289.9a1.3 1.3 0 1 0 2.6 0a1.3 1.3 0 1 0 -2.6 0M497.1 309.1a1.3 1.3 0 1 0 2.6 0a1.3 1.3 0 1 0 -2.6 0M521.5 276.6a1.3 1.3 0 1 0 2.6 0a1.3 1.3 0 1 0 -2.6 0M505.4 293.2a1.3 1.3 0 1 0 2.6 0a1.3 1.3 0 1 0 -2.6 0M512.7 288.6a1.3 1.3 0 1 0 2.6 0a1.3 1.3 0 1 0 -2.6 0M513.6 288.5a1.3 1.3 0 1 0 2.6 0a1.3 1.3 0 1 0 -2.6 0M506.0 300.5a1.3 1.3 0 1 0 2.6 0a1.3 1.3 0 1 0 -2.6 0M508.7 282.9a1.3 1.3 0 1 0 2.6 0a1.3 1.3 0 1 0 -2.6 0M514.1 291.6a1.3 1.3 0 1 0 2.6 0a1.3 1.3 0 1 0 -2.6 0M506.8 291.0a1.3 1.3 0 1 0 2.6 0a1.3 1.3 0 1 0 -2.6 0M516.8 282.4a1.3 1.3 0 1 0 2.6 0a1.3 1.3 0 1 0 -2.6 0M501.1 304.8a1.3 1.3 0 1 0 2.6 0a1.3 1.3 0 1 0 -2.6 0M503.8 301.5a1.3 1.3 0 1 0 2.6 0a1.3 1.3 0 1 0 -2.6 0M501.5 299.9a1.3 1.3 0 1 0 2.6 0a1.3 1.3 0 1 0 -2.6 0M507.0 293.2a1.3 1.3 0 1 0 2.6 0a1.3 1.3 0 1 0 -2.6 0M500.8 303.4a1.3 1.3 0 1 0 2.6 0a1.3 1.3 0 1 0 -2.6 0M513.3 290.8a1.3 1.3 0 1 0 2.6 0a1.3 1.3 0 1 0 -2.6 0M510.0 292.0a1.3 1.3 0 1 0 2.6 0a1.3 1.3 0 1 0 -2.6 0M500.2 300.6a1.3 1.3 0 1 0 2.6 0a1.3 1.3 0 1 0 -2.6 0M496.7 308.7a1.3 1.3 0 1 0 2.6 0a1.3 1.3 0 1 0 -2.6 0M498.9 304.6a1.3 1.3 0 1 0 2.6 0a1.3 1.3 0 1 0 -2.6 0M517.7 293.4a1.3 1.3 0 1 0 2.6 0a1.3 1.3 0 1 0 -2.6 0M516.1 281.0a1.3 1.3 0 1 0 2.6 0a1.3 1.3 0 1 0 -2.6 0M499.7 297.6a1.3 1.3 0 1 0 2.6 0a1.3 1.3 0 1 0 -2.6 0M508.5 294.9a1.3 1.3 0 1 0 2.6 0a1.3 1.3 0 1 0 -2.6 0M520.1 279.6a1.3 1.3 0 1 0 2.6 0a1.3 1.3 0 1 0 -2.6 0M496.1 306.5a1.3 1.3 0 1 0 2.6 0a1.3 1.3 0 1 0 -2.6 0M512.9 285.6a1.3 1.3 0 1 0 2.6 0a1.3 1.3 0 1 0 -2.6 0M504.9 297.4a1.3 1.3 0 1 0 2.6 0a1.3 1.3 0 1 0 -2.6 0M504.6 299.4a1.3 1.3 0 1 0 2.6 0a1.3 1.3 0 1 0 -2.6 0M504.9 298.3a1.3 1.3 0 1 0 2.6 0a1.3 1.3 0 1 0 -2.6 0M504.5 301.8a1.3 1.3 0 1 0 2.6 0a1.3 1.3 0 1 0 -2.6 0M506.9 300.5a1.3 1.3 0 1 0 2.6 0a1.3 1.3 0 1 0 -2.6 0M507.7 294.4a1.3 1.3 0 1 0 2.6 0a1.3 1.3 0 1 0 -2.6 0M512.8 286.9a1.3 1.3 0 1 0 2.6 0a1.3 1.3 0 1 0 -2.6 0M501.4 297.5a1.3 1.3 0 1 0 2.6 0a1.3 1.3 0 1 0 -2.6 0M503.1 300.7a1.3 1.3 0 1 0 2.6 0a1.3 1.3 0 1 0 -2.6 0M506.3 292.2a1.3 1.3 0 1 0 2.6 0a1.3 1.3 0 1 0 -2.6 0M504.1 293.3a1.3 1.3 0 1 0 2.6 0a1.3 1.3 0 1 0 -2.6 0M511.2 292.1a1.3 1.3 0 1 0 2.6 0a1.3 1.3 0 1 0 -2.6 0M510.3 297.4a1.3 1.3 0 1 0 2.6 0a1.3 1.3 0 1 0 -2.6 0M500.0 298.9a1.3 1.3 0 1 0 2.6 0a1.3 1.3 0 1 0 -2.6 0M501.1 306.8a1.3 1.3 0 1 0 2.6 0a1.3 1.3 0 1 0 -2.6 0M515.2 285.1a1.3 1.3 0 1 0 2.6 0a1.3 1.3 0 1 0 -2.6 0M502.8 297.6a1.3 1.3 0 1 0 2.6 0a1.3 1.3 0 1 0 -2.6 0M511.1 293.1a1.3 1.3 0 1 0 2.6 0a1.3 1.3 0 1 0 -2.6 0M502.0 305.2a1.3 1.3 0 1 0 2.6 0a1.3 1.3 0 1 0 -2.6 0M509.3 294.4a1.3 1.3 0 1 0 2.6 0a1.3 1.3 0 1 0 -2.6 0M504.1 299.1a1.3 1.3 0 1 0 2.6 0a1.3 1.3 0 1 0 -2.6 0M507.8 294.5a1.3 1.3 0 1 0 2.6 0a1.3 1.3 0 1 0 -2.6 0M496.6 300.1a1.3 1.3 0 1 0 2.6 0a1.3 1.3 0 1 0 -2.6 0M512.5 288.8a1.3 1.3 0 1 0 2.6 0a1.3 1.3 0 1 0 -2.6 0M505.3 298.7a1.3 1.3 0 1 0 2.6 0a1.3 1.3 0 1 0 -2.6 0M512.7 290.0a1.3 1.3 0 1 0 2.6 0a1.3 1.3 0 1 0 -2.6 0M501.1 300.0a1.3 1.3 0 1 0 2.6 0a1.3 1.3 0 1 0 -2.6 0M505.1 297.4a1.3 1.3 0 1 0 2.6 0a1.3 1.3 0 1 0 -2.6 0M500.3 303.0a1.3 1.3 0 1 0 2.6 0a1.3 1.3 0 1 0 -2.6 0M510.7 289.2a1.3 1.3 0 1 0 2.6 0a1.3 1.3 0 1 0 -2.6 0M514.5 286.3a1.3 1.3 0 1 0 2.6 0a1.3 1.3 0 1 0 -2.6 0M508.0 288.9a1.3 1.3 0 1 0 2.6 0a1.3 1.3 0 1 0 -2.6 0M501.0 303.7a1.3 1.3 0 1 0 2.6 0a1.3 1.3 0 1 0 -2.6 0M508.2 288.3a1.3 1.3 0 1 0 2.6 0a1.3 1.3 0 1 0 -2.6 0M502.9 302.7a1.3 1.3 0 1 0 2.6 0a1.3 1.3 0 1 0 -2.6 0M508.2 293.6a1.3 1.3 0 1 0 2.6 0a1.3 1.3 0 1 0 -2.6 0M505.4 290.9a1.3 1.3 0 1 0 2.6 0a1.3 1.3 0 1 0 -2.6 0M506.0 289.1a1.3 1.3 0 1 0 2.6 0a1.3 1.3 0 1 0 -2.6 0M515.1 291.2a1.3 1.3 0 1 0 2.6 0a1.3 1.3 0 1 0 -2.6 0M514.9 284.5a1.3 1.3 0 1 0 2.6 0a1.3 1.3 0 1 0 -2.6 0M514.5 295.0a1.3 1.3 0 1 0 2.6 0a1.3 1.3 0 1 0 -2.6 0M515.1 285.0a1.3 1.3 0 1 0 2.6 0a1.3 1.3 0 1 0 -2.6 0M507.9 289.0a1.3 1.3 0 1 0 2.6 0a1.3 1.3 0 1 0 -2.6 0M497.0 299.6a1.3 1.3 0 1 0 2.6 0a1.3 1.3 0 1 0 -2.6 0M510.7 289.7a1.3 1.3 0 1 0 2.6 0a1.3 1.3 0 1 0 -2.6 0M505.4 303.2a1.3 1.3 0 1 0 2.6 0a1.3 1.3 0 1 0 -2.6 0M503.6 286.5a1.3 1.3 0 1 0 2.6 0a1.3 1.3 0 1 0 -2.6 0M500.8 305.4a1.3 1.3 0 1 0 2.6 0a1.3 1.3 0 1 0 -2.6 0M517.3 283.3a1.3 1.3 0 1 0 2.6 0a1.3 1.3 0 1 0 -2.6 0M505.1 297.0a1.3 1.3 0 1 0 2.6 0a1.3 1.3 0 1 0 -2.6 0M510.1 289.1a1.3 1.3 0 1 0 2.6 0a1.3 1.3 0 1 0 -2.6 0M512.8 289.3a1.3 1.3 0 1 0 2.6 0a1.3 1.3 0 1 0 -2.6 0M503.2 299.6a1.3 1.3 0 1 0 2.6 0a1.3 1.3 0 1 0 -2.6 0M501.3 297.9a1.3 1.3 0 1 0 2.6 0a1.3 1.3 0 1 0 -2.6 0M509.6 292.1a1.3 1.3 0 1 0 2.6 0a1.3 1.3 0 1 0 -2.6 0M503.8 298.5a1.3 1.3 0 1 0 2.6 0a1.3 1.3 0 1 0 -2.6 0M506.4 294.8a1.3 1.3 0 1 0 2.6 0a1.3 1.3 0 1 0 -2.6 0M502.8 299.3a1.3 1.3 0 1 0 2.6 0a1.3 1.3 0 1 0 -2.6 0M501.2 305.4a1.3 1.3 0 1 0 2.6 0a1.3 1.3 0 1 0 -2.6 0M520.1 284.4a1.3 1.3 0 1 0 2.6 0a1.3 1.3 0 1 0 -2.6 0M500.8 304.3a1.3 1.3 0 1 0 2.6 0a1.3 1.3 0 1 0 -2.6 0M514.9 287.9a1.3 1.3 0 1 0 2.6 0a1.3 1.3 0 1 0 -2.6 0M501.7 299.4a1.3 1.3 0 1 0 2.6 0a1.3 1.3 0 1 0 -2.6 0M506.4 293.9a1.3 1.3 0 1 0 2.6 0a1.3 1.3 0 1 0 -2.6 0M508.1 299.0a1.3 1.3 0 1 0 2.6 0a1.3 1.3 0 1 0 -2.6 0M512.1 290.1a1.3 1.3 0 1 0 2.6 0a1.3 1.3 0 1 0 -2.6 0M507.6 290.9a1.3 1.3 0 1 0 2.6 0a1.3 1.3 0 1 0 -2.6 0M506.0 293.5a1.3 1.3 0 1 0 2.6 0a1.3 1.3 0 1 0 -2.6 0M504.0 300.7a1.3 1.3 0 1 0 2.6 0a1.3 1.3 0 1 0 -2.6 0M512.8 287.8a1.3 1.3 0 1 0 2.6 0a1.3 1.3 0 1 0 -2.6 0M505.5 296.5a1.3 1.3 0 1 0 2.6 0a1.3 1.3 0 1 0 -2.6 0M498.1 309.1a1.3 1.3 0 1 0 2.6 0a1.3 1.3 0 1 0 -2.6 0M498.6 306.0a1.3 1.3 0 1 0 2.6 0a1.3 1.3 0 1 0 -2.6 0M509.4 291.9a1.3 1.3 0 1 0 2.6 0a1.3 1.3 0 1 0 -2.6 0M508.2 300.5a1.3 1.3 0 1 0 2.6 0a1.3 1.3 0 1 0 -2.6 0M509.7 289.6a1.3 1.3 0 1 0 2.6 0a1.3 1.3 0 1 0 -2.6 0M507.5 288.4a1.3 1.3 0 1 0 2.6 0a1.3 1.3 0 1 0 -2.6 0M508.0 285.7a1.3 1.3 0 1 0 2.6 0a1.3 1.3 0 1 0 -2.6 0M507.9 297.2a1.3 1.3 0 1 0 2.6 0a1.3 1.3 0 1 0 -2.6 0M496.4 307.2a1.3 1.3 0 1 0 2.6 0a1.3 1.3 0 1 0 -2.6 0M507.5 291.5a1.3 1.3 0 1 0 2.6 0a1.3 1.3 0 1 0 -2.6 0M489.9 318.4a1.3 1.3 0 1 0 2.6 0a1.3 1.3 0 1 0 -2.6 0M511.1 286.9a1.3 1.3 0 1 0 2.6 0a1.3 1.3 0 1 0 -2.6 0M511.6 290.1a1.3 1.3 0 1 0 2.6 0a1.3 1.3 0 1 0 -2.6 0M513.3 297.3a1.3 1.3 0 1 0 2.6 0a1.3 1.3 0 1 0 -2.6 0M507.0 291.4a1.3 1.3 0 1 0 2.6 0a1.3 1.3 0 1 0 -2.6 0M514.8 284.0a1.3 1.3 0 1 0 2.6 0a1.3 1.3 0 1 0 -2.6 0M498.1 299.4a1.3 1.3 0 1 0 2.6 0a1.3 1.3 0 1 0 -2.6 0M505.1 292.2a1.3 1.3 0 1 0 2.6 0a1.3 1.3 0 1 0 -2.6 0M508.2 295.2a1.3 1.3 0 1 0 2.6 0a1.3 1.3 0 1 0 -2.6 0M507.9 286.4a1.3 1.3 0 1 0 2.6 0a1.3 1.3 0 1 0 -2.6 0M520.2 287.2a1.3 1.3 0 1 0 2.6 0a1.3 1.3 0 1 0 -2.6 0M510.6 293.0a1.3 1.3 0 1 0 2.6 0a1.3 1.3 0 1 0 -2.6 0M394.7 423.8a1.3 1.3 0 1 0 2.6 0a1.3 1.3 0 1 0 -2.6 0M413.7 392.7a1.3 1.3 0 1 0 2.6 0a1.3 1.3 0 1 0 -2.6 0M414.9 398.2a1.3 1.3 0 1 0 2.6 0a1.3 1.3 0 1 0 -2.6 0M411.6 371.5a1.3 1.3 0 1 0 2.6 0a1.3 1.3 0 1 0 -2.6 0M422.7 352.6a1.3 1.3 0 1 0 2.6 0a1.3 1.3 0 1 0 -2.6 0M442.7 378.2a1.3 1.3 0 1 0 2.6 0a1.3 1.3 0 1 0 -2.6 0M464.7 301.4a1.3 1.3 0 1 0 2.6 0a1.3 1.3 0 1 0 -2.6 0M468.0 309.2a1.3 1.3 0 1 0 2.6 0a1.3 1.3 0 1 0 -2.6 0M442.4 377.0a1.3 1.3 0 1 0 2.6 0a1.3 1.3 0 1 0 -2.6 0M458.0 350.4a1.3 1.3 0 1 0 2.6 0a1.3 1.3 0 1 0 -2.6 0M513.7 308.0a1.3 1.3 0 1 0 2.6 0a1.3 1.3 0 1 0 -2.6 0M326.9 451.7a1.3 1.3 0 1 0 2.6 0a1.3 1.3 0 1 0 -2.6 0M331.4 448.3a1.3 1.3 0 1 0 2.6 0a1.3 1.3 0 1 0 -2.6 0M345.9 427.2a1.3 1.3 0 1 0 2.6 0a1.3 1.3 0 1 0 -2.6 0M351.4 423.8a1.3 1.3 0 1 0 2.6 0a1.3 1.3 0 1 0 -2.6 0M360.3 451.7a1.3 1.3 0 1 0 2.6 0a1.3 1.3 0 1 0 -2.6 0M355.9 446.1a1.3 1.3 0 1 0 2.6 0a1.3 1.3 0 1 0 -2.6 0"/><line x1="326.4" y1="466.7" x2="536.1" y2="268.4" stroke="#000" stroke-width="2.4" stroke-dasharray="7.6 4.5"/>
<path d="M66.5 10.6H284.6V216.9M74.8 10.6V216.9M66.5 208.9H284.6" fill="none" stroke="#3a3a3a" stroke-width="1.3"/>
<path d="M66.5 184.11H74.8M101.03 208.9V216.9M66.5 159.32H74.8M127.25 208.9V216.9M66.5 134.54H74.8M153.48 208.9V216.9M66.5 109.75H74.8M179.7 208.9V216.9M66.5 84.96H74.8M205.93 208.9V216.9M66.5 60.17H74.8M232.15 208.9V216.9M66.5 35.39H74.8M258.38 208.9V216.9" fill="none" stroke="#3a3a3a" stroke-width="1.3"/>
<text x="74.8" y="234.5" class="t" text-anchor="middle">0.4</text>
<text x="101.03" y="234.5" class="t" text-anchor="middle">1.2</text>
<text x="127.25" y="234.5" class="t" text-anchor="middle">2.0</text>
<text x="153.48" y="234.5" class="t" text-anchor="middle">2.8</text>
<text x="179.7" y="234.5" class="t" text-anchor="middle">3.6</text>
<text x="205.93" y="234.5" class="t" text-anchor="middle">4.4</text>
<text x="232.15" y="234.5" class="t" text-anchor="middle">5.2</text>
<text x="258.38" y="234.5" class="t" text-anchor="middle">6.0</text>
<text x="284.6" y="234.5" class="t" text-anchor="middle">6.8</text>
<text x="58.3" y="213.4" class="t" text-anchor="end">400</text>
<text x="58.3" y="188.61" class="t" text-anchor="end">1200</text>
<text x="58.3" y="163.82" class="t" text-anchor="end">2000</text>
<text x="58.3" y="139.04" class="t" text-anchor="end">2800</text>
<text x="58.3" y="114.25" class="t" text-anchor="end">3600</text>
<text x="58.3" y="89.46" class="t" text-anchor="end">4400</text>
<text x="58.3" y="64.67" class="t" text-anchor="end">5200</text>
<text x="58.3" y="39.89" class="t" text-anchor="end">6000</text>
<text x="58.3" y="15.1" class="t" text-anchor="end">6800</text>
<path d="M318.1 10.6H536.1V216.9M326.4 10.6V216.9M318.1 208.9H536.1" fill="none" stroke="#3a3a3a" stroke-width="1.3"/>
<path d="M318.1 184.11H326.4M352.61 208.9V216.9M318.1 159.32H326.4M378.82 208.9V216.9M318.1 134.54H326.4M405.04 208.9V216.9M318.1 109.75H326.4M431.25 208.9V216.9M318.1 84.96H326.4M457.46 208.9V216.9M318.1 60.17H326.4M483.68 208.9V216.9M318.1 35.39H326.4M509.89 208.9V216.9" fill="none" stroke="#3a3a3a" stroke-width="1.3"/>
<text x="326.4" y="234.5" class="t" text-anchor="middle">0.4</text>
<text x="352.61" y="234.5" class="t" text-anchor="middle">1.2</text>
<text x="378.82" y="234.5" class="t" text-anchor="middle">2.0</text>
<text x="405.04" y="234.5" class="t" text-anchor="middle">2.8</text>
<text x="431.25" y="234.5" class="t" text-anchor="middle">3.6</text>
<text x="457.46" y="234.5" class="t" text-anchor="middle">4.4</text>
<text x="483.68" y="234.5" class="t" text-anchor="middle">5.2</text>
<text x="509.89" y="234.5" class="t" text-anchor="middle">6.0</text>
<text x="536.1" y="234.5" class="t" text-anchor="middle">6.8</text>
<path d="M66.5 268.4H284.6V474.7M74.8 268.4V474.7M66.5 466.7H284.6" fill="none" stroke="#3a3a3a" stroke-width="1.3"/>
<path d="M66.5 441.91H74.8M101.03 466.7V474.7M66.5 417.12H74.8M127.25 466.7V474.7M66.5 392.34H74.8M153.48 466.7V474.7M66.5 367.55H74.8M179.7 466.7V474.7M66.5 342.76H74.8M205.93 466.7V474.7M66.5 317.97H74.8M232.15 466.7V474.7M66.5 293.19H74.8M258.38 466.7V474.7" fill="none" stroke="#3a3a3a" stroke-width="1.3"/>
<text x="74.8" y="492.3" class="t" text-anchor="middle">0.4</text>
<text x="101.03" y="492.3" class="t" text-anchor="middle">1.2</text>
<text x="127.25" y="492.3" class="t" text-anchor="middle">2.0</text>
<text x="153.48" y="492.3" class="t" text-anchor="middle">2.8</text>
<text x="179.7" y="492.3" class="t" text-anchor="middle">3.6</text>
<text x="205.93" y="492.3" class="t" text-anchor="middle">4.4</text>
<text x="232.15" y="492.3" class="t" text-anchor="middle">5.2</text>
<text x="258.38" y="492.3" class="t" text-anchor="middle">6.0</text>
<text x="284.6" y="492.3" class="t" text-anchor="middle">6.8</text>
<text x="58.3" y="471.2" class="t" text-anchor="end">400</text>
<text x="58.3" y="446.41" class="t" text-anchor="end">1200</text>
<text x="58.3" y="421.62" class="t" text-anchor="end">2000</text>
<text x="58.3" y="396.84" class="t" text-anchor="end">2800</text>
<text x="58.3" y="372.05" class="t" text-anchor="end">3600</text>
<text x="58.3" y="347.26" class="t" text-anchor="end">4400</text>
<text x="58.3" y="322.47" class="t" text-anchor="end">5200</text>
<text x="58.3" y="297.69" class="t" text-anchor="end">6000</text>
<text x="58.3" y="272.9" class="t" text-anchor="end">6800</text>
<path d="M318.1 268.4H536.1V474.7M326.4 268.4V474.7M318.1 466.7H536.1" fill="none" stroke="#3a3a3a" stroke-width="1.3"/>
<path d="M318.1 441.91H326.4M352.61 466.7V474.7M318.1 417.12H326.4M378.82 466.7V474.7M318.1 392.34H326.4M405.04 466.7V474.7M318.1 367.55H326.4M431.25 466.7V474.7M318.1 342.76H326.4M457.46 466.7V474.7M318.1 317.97H326.4M483.68 466.7V474.7M318.1 293.19H326.4M509.89 466.7V474.7" fill="none" stroke="#3a3a3a" stroke-width="1.3"/>
<text x="326.4" y="492.3" class="t" text-anchor="middle">0.4</text>
<text x="352.61" y="492.3" class="t" text-anchor="middle">1.2</text>
<text x="378.82" y="492.3" class="t" text-anchor="middle">2.0</text>
<text x="405.04" y="492.3" class="t" text-anchor="middle">2.8</text>
<text x="431.25" y="492.3" class="t" text-anchor="middle">3.6</text>
<text x="457.46" y="492.3" class="t" text-anchor="middle">4.4</text>
<text x="483.68" y="492.3" class="t" text-anchor="middle">5.2</text>
<text x="509.89" y="492.3" class="t" text-anchor="middle">6.0</text>
<text x="536.1" y="492.3" class="t" text-anchor="middle">6.8</text>
<text x="93.6" y="35.6" class="e">y = 1.001x − 0.399</text>
<text x="348.6" y="35.6" class="e">y = 1.0x − 2.167</text>
<text x="91.9" y="293.4" class="e">y = 0.997x + 1.47</text>
<text x="344.8" y="293.4" class="e">y = 0.999x − 0.115</text>
<text x="179.7" y="250.7" class="e" text-anchor="middle">(a)</text>
<text x="431.25" y="250.7" class="e" text-anchor="middle">(b)</text>
<text x="179.7" y="508.5" class="e" text-anchor="middle">(c)</text>
<text x="431.25" y="508.5" class="e" text-anchor="middle">(d)</text>
<text transform="translate(17,238.6) rotate(-90)" class="e" text-anchor="middle">Reference output (ppm)</text>
<text y="528.1" class="e"><tspan x="189.2">Fitted sensor output</tspan><tspan x="338.3">(x10</tspan><tspan x="372.2" y="521.5" font-size="11.5">3</tspan><tspan x="383.3" y="528.1">ppm)</tspan></text>
</svg>
</body></html>
